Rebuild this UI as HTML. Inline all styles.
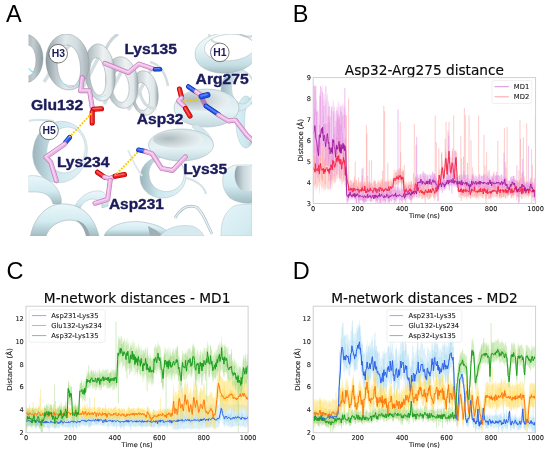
<!DOCTYPE html>
<html><head><meta charset="utf-8"><title>Figure</title>
<style>
html,body{margin:0;padding:0;background:#fff;}
body{width:550px;height:454px;overflow:hidden;position:relative;}
svg{position:absolute;left:0;top:0;}
.tk{font-family:"DejaVu Sans",sans-serif;font-size:6.6px;fill:#1e1e1e;stroke:#1e1e1e;stroke-width:0.12px;}
.ttl{font-family:"DejaVu Sans",sans-serif;font-size:13.7px;fill:#0a0a0a;stroke:#0a0a0a;stroke-width:0.15px;}
.yl{font-size:6.9px;}
.lg{font-family:"DejaVu Sans",sans-serif;font-size:6.8px;fill:#222;stroke:#222;stroke-width:0.1px;}
.pl{font-family:"Liberation Sans",Arial,sans-serif;font-size:23.5px;fill:#000;}
.ml{font-family:"Liberation Sans",Arial,sans-serif;font-weight:bold;font-size:14.5px;fill:#1b1b5a;stroke:#1b1b5a;stroke-width:0.35px;}
.hl{font-family:"Liberation Sans",Arial,sans-serif;font-weight:bold;font-size:10.4px;fill:#1b1b5a;}
</style></head>
<body>
<svg width="550" height="454" viewBox="0 0 550 454">
<defs>
<clipPath id="cB"><rect x="313.2" y="77.6" width="222.4" height="125.9"/></clipPath>
<clipPath id="cC"><rect x="26" y="306.2" width="222.1" height="126.5"/></clipPath>
<clipPath id="cD"><rect x="313.2" y="306.2" width="222.4" height="126.5"/></clipPath>
</defs>
<text class="pl" x="6" y="21.8">A</text>
<text class="pl" x="292.8" y="21.8">B</text>
<text class="pl" x="6.6" y="279.2">C</text>
<text class="pl" x="292.8" y="279.2">D</text>
<g id="panelA">
<defs>
<linearGradient id="gR" x1="0" y1="0" x2="1" y2="0"><stop offset="0" stop-color="#8c9a9f"/><stop offset="0.22" stop-color="#bac6ca"/><stop offset="0.5" stop-color="#dde5e8"/><stop offset="0.8" stop-color="#edf2f3"/><stop offset="1" stop-color="#c4d0d4"/></linearGradient>
<linearGradient id="gR2" x1="0" y1="0" x2="1" y2="0"><stop offset="0" stop-color="#a3b0b4"/><stop offset="0.3" stop-color="#c6d0d3"/><stop offset="0.6" stop-color="#edf1f2"/><stop offset="0.85" stop-color="#e0e7e9"/><stop offset="1" stop-color="#99a7ac"/></linearGradient>
<linearGradient id="gRB" x1="0" y1="0" x2="1" y2="0"><stop offset="0" stop-color="#8c9a9f"/><stop offset="0.22" stop-color="#bcc7cb"/><stop offset="0.45" stop-color="#e2e9eb"/><stop offset="0.72" stop-color="#d3dcdf"/><stop offset="1" stop-color="#a3b0b5"/></linearGradient>
<linearGradient id="gRd" x1="0" y1="0" x2="1" y2="0"><stop offset="0" stop-color="#7f8e93"/><stop offset="0.5" stop-color="#a3b0b4"/><stop offset="0.75" stop-color="#c3cdd0"/><stop offset="1" stop-color="#8e9ca1"/></linearGradient>
<linearGradient id="gC" x1="0" y1="0" x2="0" y2="1"><stop offset="0" stop-color="#eaf7fa"/><stop offset="0.55" stop-color="#d2ebf1"/><stop offset="1" stop-color="#a2bcc3"/></linearGradient>
<linearGradient id="gCu" x1="0" y1="1" x2="0" y2="0"><stop offset="0" stop-color="#f2f8fa"/><stop offset="0.55" stop-color="#d8ecf1"/><stop offset="1" stop-color="#a3b8be"/></linearGradient>
<linearGradient id="gC2" x1="0" y1="0" x2="1" y2="0"><stop offset="0" stop-color="#d8f0f6"/><stop offset="0.6" stop-color="#cae6ed"/><stop offset="1" stop-color="#8ea3a9"/></linearGradient>
<linearGradient id="gC3" x1="0" y1="0" x2="1" y2="0"><stop offset="0" stop-color="#9cb4bb"/><stop offset="0.4" stop-color="#cde8ef"/><stop offset="1" stop-color="#e2f3f7"/></linearGradient>
<linearGradient id="gH1" x1="0" y1="0" x2="0" y2="1"><stop offset="0" stop-color="#f4fafb"/><stop offset="0.45" stop-color="#e2f1f5"/><stop offset="0.8" stop-color="#c4dde3"/><stop offset="1" stop-color="#a3bac0"/></linearGradient>
<linearGradient id="gCup" x1="0" y1="0" x2="0" y2="1"><stop offset="0" stop-color="#d5e6eb"/><stop offset="0.6" stop-color="#e6f3f6"/><stop offset="1" stop-color="#c2d8de"/></linearGradient>
<linearGradient id="gGy" x1="0" y1="0" x2="1" y2="0"><stop offset="0" stop-color="#8e9fa5"/><stop offset="0.5" stop-color="#c8d6da"/><stop offset="1" stop-color="#e4eef0"/></linearGradient>
<linearGradient id="gCl" x1="0" y1="0" x2="1" y2="1"><stop offset="0" stop-color="#e6f5f8"/><stop offset="1" stop-color="#cde8ef"/></linearGradient>
<radialGradient id="gIn" cx="0.3" cy="0.45" r="0.75"><stop offset="0" stop-color="#aebbbf"/><stop offset="0.6" stop-color="#d6e0e3"/><stop offset="1" stop-color="#eef4f6"/></radialGradient>
<linearGradient id="gPk" x1="0" y1="0" x2="0" y2="1"><stop offset="0" stop-color="#f4c4ea"/><stop offset="1" stop-color="#d88cc8"/></linearGradient>
<clipPath id="cA"><rect x="28.5" y="34" width="223.5" height="202"/></clipPath>
</defs>
<g clip-path="url(#cA)">
<rect x="28.5" y="34" width="223.5" height="202" fill="#fff"/>
<path d="M44,82 C52,70 62,50 76,40" fill="none" stroke="#d6e0e3" stroke-width="3.5"/>
<path d="M80,92 C88,80 96,60 104,48" fill="none" stroke="#d6e0e3" stroke-width="3.5"/>
<path d="M104,104 C112,92 120,72 128,60" fill="none" stroke="#d6e0e3" stroke-width="3.5"/>
<path d="M128,110 C136,100 144,82 152,68" fill="none" stroke="#d6e0e3" stroke-width="3.5"/>
<path d="M104,56 C106,44 112,38 118,34" fill="none" stroke="#cdd7da" stroke-width="3.2"/>
<path d="M150,62 C160,64 166,74 168,86" fill="none" stroke="#d4dee1" stroke-width="2.6"/>
<path d="M157.9,91.6 A13.5,21 -6 1 1 131.1,94.4 A13.5,21 -6 1 1 157.9,91.6 Z M149.5,95.7 A7.5,14 -6 1 1 134.5,97.3 A7.5,14 -6 1 1 149.5,95.7 Z" fill="url(#gR2)" fill-rule="evenodd" stroke="#8f9da2" stroke-width="0.5"/>
<path d="M137.9,80.8 A16,25 -6 1 1 106.1,84.2 A16,25 -6 1 1 137.9,80.8 Z M129.0,85.6 A8.5,16 -6 1 1 112.0,87.4 A8.5,16 -6 1 1 129.0,85.6 Z" fill="url(#gR2)" fill-rule="evenodd" stroke="#8f9da2" stroke-width="0.5"/>
<path d="M114.9,70.9 A15,27.5 -6 1 1 85.1,74.1 A15,27.5 -6 1 1 114.9,70.9 Z M105.8,75.7 A8,19 -6 1 1 89.8,77.3 A8,19 -6 1 1 105.8,75.7 Z" fill="url(#gR2)" fill-rule="evenodd" stroke="#8f9da2" stroke-width="0.5"/>
<path d="M88.9,59.8 A21.5,28 -6 1 1 46.1,64.2 A21.5,28 -6 1 1 88.9,59.8 Z M80.2,64.8 A11.5,19.5 -6 1 1 57.4,67.2 A11.5,19.5 -6 1 1 80.2,64.8 Z" fill="url(#gRB)" fill-rule="evenodd" stroke="#8f9da2" stroke-width="0.5"/>
<path d="M43.0,58.5 A19,24.5 0 1 1 5.0,58.5 A19,24.5 0 1 1 43.0,58.5 Z M36.0,60.5 A8,15.5 0 1 1 20.0,60.5 A8,15.5 0 1 1 36.0,60.5 Z" fill="url(#gRd)" fill-rule="evenodd" stroke="#8f9da2" stroke-width="0.5"/>
<path d="M28.5,68 C31,72 34,73 36,71" fill="none" stroke="#7fdcef" stroke-width="1.2"/>
<path d="M60,80 C64,86 72,87 80,84" fill="none" stroke="#a6e2ef" stroke-width="1"/>
<path d="M92,92 C95,97 101,98 106,95" fill="none" stroke="#b4e4ef" stroke-width="0.9"/>
<path d="M256.0,122.0 A10,26 0 1 1 236.0,122.0 A10,26 0 1 1 256.0,122.0 Z M254.5,122.0 A5,20 0 1 1 244.5,122.0 A5,20 0 1 1 254.5,122.0 Z" fill="url(#gC2)" fill-rule="evenodd" stroke="#b3c5ca" stroke-width="0.5"/>
<path d="M255.0,90.0 A17,21 0 1 1 221.0,90.0 A17,21 0 1 1 255.0,90.0 Z M253.5,88.0 A11,16 0 1 1 231.5,88.0 A11,16 0 1 1 253.5,88.0 Z" fill="url(#gC3)" fill-rule="evenodd" stroke="#adc0c5" stroke-width="0.5"/>
<path d="M209,34 C210,40 214,43 219,43" fill="none" stroke="#d3dde0" stroke-width="2.2"/>
<path d="M240,34 C244,37 248,37 252,36" fill="none" stroke="#cfdadd" stroke-width="2.2"/>
<path d="M256.9,50.8 A31,19.5 -4 1 1 195.1,55.2 A31,19.5 -4 1 1 256.9,50.8 Z M254.4,45.8 A25,12.5 -4 1 1 204.6,49.2 A25,12.5 -4 1 1 254.4,45.8 Z" fill="url(#gH1)" fill-rule="evenodd" stroke="#a6b8bd" stroke-width="0.5"/>
<ellipse cx="206.5" cy="108" rx="32.5" ry="19" fill="url(#gCup)" stroke="#a9babf" stroke-width="0.6"/>
<ellipse cx="204" cy="101" rx="26" ry="10" fill="url(#gIn)"/>
<path d="M140,92 C142,104 150,110 156,108" fill="none" stroke="#d2dcdf" stroke-width="3"/>
<path d="M196,124 C204,128 210,134 213,142 L204,145 C202,138 199,132 192,127 Z" fill="#d3e8ee" stroke="#b5c8cd" stroke-width="0.4"/>
<path d="M185.8,173.8 A23,21 -8 1 1 140.2,180.2 A23,21 -8 1 1 185.8,173.8 Z M183.8,171.6 A17.5,16.5 -8 1 1 149.2,176.4 A17.5,16.5 -8 1 1 183.8,171.6 Z" fill="url(#gC3)" fill-rule="evenodd" stroke="#abbec3" stroke-width="0.5"/>
<ellipse cx="181" cy="145" rx="32.5" ry="16" fill="url(#gCup)" stroke="#a9babf" stroke-width="0.6"/>
<ellipse cx="178" cy="139.5" rx="25" ry="8.5" fill="url(#gIn)"/>
<path d="M128,150 C132,160 138,170 142,176" fill="none" stroke="#e0eaed" stroke-width="2"/>
<path d="M222.8,178.5 C224,170 230,165 238,165 L252,165 L252,203 C244,204 236,202 230,198 C225,193 222,186 222.8,178.5 Z" fill="url(#gC)" stroke="#a9bcc1" stroke-width="0.5"/>
<path d="M237,166 C233,172 234,184 241,190 L252,191 L252,166 Z" fill="url(#gGy)"/>
<path d="M221,236 C221,222 224,212 234,206 C240,204 246,204 252,204 L252,236 Z" fill="url(#gCl)" stroke="#b0c3c8" stroke-width="0.5"/>
<path d="M175,218 C182,206 190,205 196,207 C202,210 206,222 212,234" fill="none" stroke="#a9bcc2" stroke-width="2.6"/>
<path d="M175,218 C182,206 190,205 196,207 C202,210 206,222 212,234" fill="none" stroke="#e4f1f4" stroke-width="1.4"/>
<path d="M186,178 C196,180 204,186 206,194" fill="none" stroke="#d5e3e7" stroke-width="2.2"/>
<path d="M28.5,121 C36,119 46,120 54,121" fill="none" stroke="#d4e6eb" stroke-width="2.2"/>
<path d="M86.4,157.6 A27,30 12 1 1 33.6,146.4 A27,30 12 1 1 86.4,157.6 Z M84.6,154.0 A19,23 12 1 1 47.4,146.0 A19,23 12 1 1 84.6,154.0 Z" fill="url(#gC3)" fill-rule="evenodd" stroke="#b2c5ca" stroke-width="0.5"/>
<path d="M28,176 C40,174 52,180 58,190 C61,196 62,200 61,204 L53,204 C51,196 45,192 36,192 L28,192 Z" fill="url(#gC)" stroke="#a7b9be" stroke-width="0.5"/>
<path d="M72,214 C76,198 88,190 100,191 C106,192 109,198 108,206 L102,208 C102,202 98,199 92,199 C84,200 80,206 78,214 Z" fill="url(#gC)" stroke="#abc0c5" stroke-width="0.5"/>
<path d="M30.5,236 C34,218 46,205 60,204 C76,203 92,210 99,236 L88,236 C85,226 79,220 70,220 C58,220 49,227 46,236 Z" fill="url(#gC)" stroke="#9fb1b6" stroke-width="0.6"/>
<path d="M76,220 C84,222 88,228 90,236 L86,236 C84,228 81,224 76,220 Z" fill="#98a9ae"/>
<path d="M104,236 C108,226 124,220 142,222 C156,224 166,228 172,236 Z" fill="url(#gC)" stroke="#a6b8bd" stroke-width="0.6"/>
<path d="M148,226 C156,230 160,232 162,236 L150,236 Z" fill="#a0b0b5"/>
<path d="M160,236 C166,228 178,224 192,226 C198,228 202,232 204,236 Z" fill="#d6eaf0" stroke="#b2c4c9" stroke-width="0.5"/>
<path d="M104.7,63.3 L128.4,72.7 L139,63.9 L154.4,69.2" fill="none" stroke="#b97cb2" stroke-width="4.7" stroke-linecap="round" stroke-linejoin="round"/>
<path d="M104.7,63.3 L128.4,72.7 L139,63.9 L154.4,69.2" fill="none" stroke="#ecb2e4" stroke-width="3.5" stroke-linecap="round" stroke-linejoin="round"/>
<path d="M104.2,62.699999999999996 L127.9,72.10000000000001 L138.5,63.3 L153.9,68.60000000000001" fill="none" stroke="#fbdaf7" stroke-width="1.33" stroke-linecap="round" stroke-linejoin="round" stroke-opacity="0.8"/>
<path d="M155,69.2 L160,69.2" fill="none" stroke="#10309a" stroke-width="4.5" stroke-linecap="round" stroke-linejoin="round"/>
<path d="M155,69.2 L160,69.2" fill="none" stroke="#2052ea" stroke-width="3.3000000000000003" stroke-linecap="round" stroke-linejoin="round"/>
<path d="M154.5,68.60000000000001 L159.5,68.60000000000001" fill="none" stroke="#6a90ff" stroke-width="1.26" stroke-linecap="round" stroke-linejoin="round" stroke-opacity="0.8"/>
<path d="M82.3,77.8 L80.6,90.7 L89.5,90.7 L92.6,109.5" fill="none" stroke="#b97cb2" stroke-width="4.9" stroke-linecap="round" stroke-linejoin="round"/>
<path d="M82.3,77.8 L80.6,90.7 L89.5,90.7 L92.6,109.5" fill="none" stroke="#ecb2e4" stroke-width="3.7" stroke-linecap="round" stroke-linejoin="round"/>
<path d="M81.8,77.2 L80.1,90.10000000000001 L89.0,90.10000000000001 L92.1,108.9" fill="none" stroke="#fbdaf7" stroke-width="1.40" stroke-linecap="round" stroke-linejoin="round" stroke-opacity="0.8"/>
<path d="M93.5,109.3 L101.5,108.8" fill="none" stroke="#b00000" stroke-width="5.1000000000000005" stroke-linecap="round" stroke-linejoin="round"/>
<path d="M93.5,109.3 L101.5,108.8" fill="none" stroke="#f01a1a" stroke-width="3.9000000000000004" stroke-linecap="round" stroke-linejoin="round"/>
<path d="M93.0,108.7 L101.0,108.2" fill="none" stroke="#ff7070" stroke-width="1.47" stroke-linecap="round" stroke-linejoin="round" stroke-opacity="0.8"/>
<path d="M92.2,112 L92.2,123" fill="none" stroke="#b00000" stroke-width="5.1000000000000005" stroke-linecap="round" stroke-linejoin="round"/>
<path d="M92.2,112 L92.2,123" fill="none" stroke="#f01a1a" stroke-width="3.9000000000000004" stroke-linecap="round" stroke-linejoin="round"/>
<path d="M91.7,111.4 L91.7,122.4" fill="none" stroke="#ff7070" stroke-width="1.47" stroke-linecap="round" stroke-linejoin="round" stroke-opacity="0.8"/>
<path d="M179.5,89 L181.6,97.5" fill="none" stroke="#b00000" stroke-width="5.1000000000000005" stroke-linecap="round" stroke-linejoin="round"/>
<path d="M179.5,89 L181.6,97.5" fill="none" stroke="#f01a1a" stroke-width="3.9000000000000004" stroke-linecap="round" stroke-linejoin="round"/>
<path d="M179.0,88.4 L181.1,96.9" fill="none" stroke="#ff7070" stroke-width="1.47" stroke-linecap="round" stroke-linejoin="round" stroke-opacity="0.8"/>
<path d="M181.6,98 L178.5,101 L185,107" fill="none" stroke="#b97cb2" stroke-width="4.9" stroke-linecap="round" stroke-linejoin="round"/>
<path d="M181.6,98 L178.5,101 L185,107" fill="none" stroke="#ecb2e4" stroke-width="3.7" stroke-linecap="round" stroke-linejoin="round"/>
<path d="M181.1,97.4 L178.0,100.4 L184.5,106.4" fill="none" stroke="#fbdaf7" stroke-width="1.40" stroke-linecap="round" stroke-linejoin="round" stroke-opacity="0.8"/>
<path d="M185.5,108.5 L190,116" fill="none" stroke="#b00000" stroke-width="5.1000000000000005" stroke-linecap="round" stroke-linejoin="round"/>
<path d="M185.5,108.5 L190,116" fill="none" stroke="#f01a1a" stroke-width="3.9000000000000004" stroke-linecap="round" stroke-linejoin="round"/>
<path d="M185.0,107.9 L189.5,115.4" fill="none" stroke="#ff7070" stroke-width="1.47" stroke-linecap="round" stroke-linejoin="round" stroke-opacity="0.8"/>
<path d="M188.4,86.7 L195.5,91.5" fill="none" stroke="#10309a" stroke-width="4.9" stroke-linecap="round" stroke-linejoin="round"/>
<path d="M188.4,86.7 L195.5,91.5" fill="none" stroke="#2052ea" stroke-width="3.7" stroke-linecap="round" stroke-linejoin="round"/>
<path d="M187.9,86.10000000000001 L195.0,90.9" fill="none" stroke="#6a90ff" stroke-width="1.40" stroke-linecap="round" stroke-linejoin="round" stroke-opacity="0.8"/>
<path d="M196,91.7 L201.5,95.5" fill="none" stroke="#b97cb2" stroke-width="4.9" stroke-linecap="round" stroke-linejoin="round"/>
<path d="M196,91.7 L201.5,95.5" fill="none" stroke="#ecb2e4" stroke-width="3.7" stroke-linecap="round" stroke-linejoin="round"/>
<path d="M195.5,91.10000000000001 L201.0,94.9" fill="none" stroke="#fbdaf7" stroke-width="1.40" stroke-linecap="round" stroke-linejoin="round" stroke-opacity="0.8"/>
<path d="M202.7,100 L206,106" fill="none" stroke="#b97cb2" stroke-width="4.9" stroke-linecap="round" stroke-linejoin="round"/>
<path d="M202.7,100 L206,106" fill="none" stroke="#b77ab0" stroke-width="3.7" stroke-linecap="round" stroke-linejoin="round"/>
<path d="M206,106 L218.5,114.5" fill="none" stroke="#10309a" stroke-width="4.9" stroke-linecap="round" stroke-linejoin="round"/>
<path d="M206,106 L218.5,114.5" fill="none" stroke="#2052ea" stroke-width="3.7" stroke-linecap="round" stroke-linejoin="round"/>
<path d="M205.5,105.4 L218.0,113.9" fill="none" stroke="#6a90ff" stroke-width="1.40" stroke-linecap="round" stroke-linejoin="round" stroke-opacity="0.8"/>
<path d="M218.5,115 L228.6,121 L235.3,120.1 L247,135.2 L252,140" fill="none" stroke="#b97cb2" stroke-width="4.9" stroke-linecap="round" stroke-linejoin="round"/>
<path d="M218.5,115 L228.6,121 L235.3,120.1 L247,135.2 L252,140" fill="none" stroke="#ecb2e4" stroke-width="3.7" stroke-linecap="round" stroke-linejoin="round"/>
<path d="M218.0,114.4 L228.1,120.4 L234.8,119.5 L246.5,134.6 L251.5,139.4" fill="none" stroke="#fbdaf7" stroke-width="1.40" stroke-linecap="round" stroke-linejoin="round" stroke-opacity="0.8"/>
<path d="M201.5,96.5 L207.5,95" fill="none" stroke="#10309a" stroke-width="5.9" stroke-linecap="round" stroke-linejoin="round"/>
<path d="M201.5,96.5 L207.5,95" fill="none" stroke="#2052ea" stroke-width="4.7" stroke-linecap="round" stroke-linejoin="round"/>
<path d="M201.0,95.9 L207.0,94.4" fill="none" stroke="#6a90ff" stroke-width="1.75" stroke-linecap="round" stroke-linejoin="round" stroke-opacity="0.8"/>
<path d="M69.7,137.4 L65.2,142.8" fill="none" stroke="#10309a" stroke-width="4.9" stroke-linecap="round" stroke-linejoin="round"/>
<path d="M69.7,137.4 L65.2,142.8" fill="none" stroke="#2052ea" stroke-width="3.7" stroke-linecap="round" stroke-linejoin="round"/>
<path d="M69.2,136.8 L64.7,142.20000000000002" fill="none" stroke="#6a90ff" stroke-width="1.40" stroke-linecap="round" stroke-linejoin="round" stroke-opacity="0.8"/>
<path d="M64.8,144 L45.8,157.2 L50.7,162.2 L56.3,180.8" fill="none" stroke="#b97cb2" stroke-width="4.9" stroke-linecap="round" stroke-linejoin="round"/>
<path d="M64.8,144 L45.8,157.2 L50.7,162.2 L56.3,180.8" fill="none" stroke="#ecb2e4" stroke-width="3.7" stroke-linecap="round" stroke-linejoin="round"/>
<path d="M64.3,143.4 L45.3,156.6 L50.2,161.6 L55.8,180.20000000000002" fill="none" stroke="#fbdaf7" stroke-width="1.40" stroke-linecap="round" stroke-linejoin="round" stroke-opacity="0.8"/>
<path d="M97.5,172.3 L104.4,177" fill="none" stroke="#b00000" stroke-width="5.1000000000000005" stroke-linecap="round" stroke-linejoin="round"/>
<path d="M97.5,172.3 L104.4,177" fill="none" stroke="#f01a1a" stroke-width="3.9000000000000004" stroke-linecap="round" stroke-linejoin="round"/>
<path d="M97.0,171.70000000000002 L103.9,176.4" fill="none" stroke="#ff7070" stroke-width="1.47" stroke-linecap="round" stroke-linejoin="round" stroke-opacity="0.8"/>
<path d="M104.4,177 L109.6,178.6 L115.1,176.2" fill="none" stroke="#b97cb2" stroke-width="4.9" stroke-linecap="round" stroke-linejoin="round"/>
<path d="M104.4,177 L109.6,178.6 L115.1,176.2" fill="none" stroke="#ecb2e4" stroke-width="3.7" stroke-linecap="round" stroke-linejoin="round"/>
<path d="M103.9,176.4 L109.1,178.0 L114.6,175.6" fill="none" stroke="#fbdaf7" stroke-width="1.40" stroke-linecap="round" stroke-linejoin="round" stroke-opacity="0.8"/>
<path d="M115.1,176.2 L124.5,174.6" fill="none" stroke="#b00000" stroke-width="5.1000000000000005" stroke-linecap="round" stroke-linejoin="round"/>
<path d="M115.1,176.2 L124.5,174.6" fill="none" stroke="#f01a1a" stroke-width="3.9000000000000004" stroke-linecap="round" stroke-linejoin="round"/>
<path d="M114.6,175.6 L124.0,174.0" fill="none" stroke="#ff7070" stroke-width="1.47" stroke-linecap="round" stroke-linejoin="round" stroke-opacity="0.8"/>
<path d="M110.2,180.4 L107.7,199.4 L95,203.3" fill="none" stroke="#b97cb2" stroke-width="4.9" stroke-linecap="round" stroke-linejoin="round"/>
<path d="M110.2,180.4 L107.7,199.4 L95,203.3" fill="none" stroke="#ecb2e4" stroke-width="3.7" stroke-linecap="round" stroke-linejoin="round"/>
<path d="M109.7,179.8 L107.2,198.8 L94.5,202.70000000000002" fill="none" stroke="#fbdaf7" stroke-width="1.40" stroke-linecap="round" stroke-linejoin="round" stroke-opacity="0.8"/>
<path d="M138.6,149.9 L145.4,151.3" fill="none" stroke="#10309a" stroke-width="4.9" stroke-linecap="round" stroke-linejoin="round"/>
<path d="M138.6,149.9 L145.4,151.3" fill="none" stroke="#2052ea" stroke-width="3.7" stroke-linecap="round" stroke-linejoin="round"/>
<path d="M138.1,149.3 L144.9,150.70000000000002" fill="none" stroke="#6a90ff" stroke-width="1.40" stroke-linecap="round" stroke-linejoin="round" stroke-opacity="0.8"/>
<path d="M145.6,151.6 L152.2,153.8 L161.6,168.4 L172.5,170.5 L185.4,156.9" fill="none" stroke="#b97cb2" stroke-width="4.9" stroke-linecap="round" stroke-linejoin="round"/>
<path d="M145.6,151.6 L152.2,153.8 L161.6,168.4 L172.5,170.5 L185.4,156.9" fill="none" stroke="#ecb2e4" stroke-width="3.7" stroke-linecap="round" stroke-linejoin="round"/>
<path d="M145.1,151.0 L151.7,153.20000000000002 L161.1,167.8 L172.0,169.9 L184.9,156.3" fill="none" stroke="#fbdaf7" stroke-width="1.40" stroke-linecap="round" stroke-linejoin="round" stroke-opacity="0.8"/>
<line x1="91.5" y1="113.5" x2="69.5" y2="137" stroke="#f7c800" stroke-width="1.9" stroke-dasharray="1.8,1.3"/>
<line x1="137.6" y1="152.4" x2="115.1" y2="175.4" stroke="#f7c800" stroke-width="1.9" stroke-dasharray="1.8,1.3"/>
<line x1="183.4" y1="101.7" x2="199.5" y2="99.2" stroke="#f7c800" stroke-width="1.9" stroke-dasharray="1.8,1.3"/>
</g>
<circle cx="58.2" cy="53.7" r="9.3" fill="#fff" stroke="#5a5a5a" stroke-width="0.8"/>
<text class="hl" x="58.400000000000006" y="57.400000000000006" text-anchor="middle">H3</text>
<circle cx="219.8" cy="52.4" r="9.3" fill="#fff" stroke="#5a5a5a" stroke-width="0.8"/>
<text class="hl" x="220.0" y="56.1" text-anchor="middle">H1</text>
<circle cx="49" cy="130.4" r="9.3" fill="#fff" stroke="#5a5a5a" stroke-width="0.8"/>
<text class="hl" x="49.2" y="134.1" text-anchor="middle">H5</text>
<text class="ml" x="124.4" y="54.3" textLength="52.5" lengthAdjust="spacingAndGlyphs">Lys135</text>
<text class="ml" x="195.6" y="83.6" textLength="53.2" lengthAdjust="spacingAndGlyphs">Arg275</text>
<text class="ml" x="30.9" y="109.7" textLength="52.2" lengthAdjust="spacingAndGlyphs">Glu132</text>
<text class="ml" x="136.8" y="124.2" textLength="46.7" lengthAdjust="spacingAndGlyphs">Asp32</text>
<text class="ml" x="56.9" y="166.5" textLength="52.5" lengthAdjust="spacingAndGlyphs">Lys234</text>
<text class="ml" x="183.3" y="174.4" textLength="43.8" lengthAdjust="spacingAndGlyphs">Lys35</text>
<text class="ml" x="108.9" y="208.6" textLength="55" lengthAdjust="spacingAndGlyphs">Asp231</text>
</g>
<!-- Panel B -->
<text class="ttl" x="424.4" y="74.6" text-anchor="middle">Asp32-Arg275 distance</text>
<g clip-path="url(#cB)">
<polygon points="313.2,146.8 313.4,143.2 313.6,144.4 313.9,151.6 314.1,146.9 314.3,143.4 314.5,146.2 314.8,143.1 315.0,149.1 315.2,143.9 315.4,140.6 315.6,148.1 315.9,148.0 316.1,149.3 316.3,147.4 316.5,144.9 316.8,146.2 317.0,149.0 317.2,145.4 317.4,144.5 317.7,145.4 317.9,145.0 318.1,148.2 318.3,144.1 318.5,142.2 318.8,142.5 319.0,142.2 319.2,151.2 319.4,150.5 319.7,153.6 319.9,145.4 320.1,141.8 320.3,140.2 320.5,142.7 320.8,143.5 321.0,146.0 321.2,145.5 321.4,143.9 321.7,146.7 321.9,152.1 322.1,146.7 322.3,142.5 322.6,147.4 322.8,146.9 323.0,145.3 323.2,148.8 323.4,145.3 323.7,145.0 323.9,150.8 324.1,145.7 324.3,146.3 324.6,149.3 324.8,149.2 325.0,147.0 325.2,149.0 325.4,147.1 325.7,145.7 325.9,148.7 326.1,145.4 326.3,147.3 326.6,145.0 326.8,142.9 327.0,144.4 327.2,146.1 327.4,147.9 327.7,147.0 327.9,148.0 328.1,148.4 328.3,145.9 328.6,147.3 328.8,149.3 329.0,146.2 329.2,150.4 329.5,147.6 329.7,145.2 329.9,146.9 330.1,147.0 330.3,141.9 330.6,146.8 330.8,144.2 331.0,141.6 331.2,141.4 331.5,144.5 331.7,141.5 331.9,142.3 332.1,144.4 332.3,146.7 332.6,143.1 332.8,137.3 333.0,140.0 333.2,140.4 333.5,141.1 333.7,138.1 333.9,140.8 334.1,141.4 334.3,139.1 334.6,144.2 334.8,140.7 335.0,143.3 335.2,141.4 335.5,140.8 335.7,139.7 335.9,139.6 336.1,138.0 336.4,135.2 336.6,136.2 336.8,138.5 337.0,137.7 337.2,133.2 337.5,137.5 337.7,137.0 337.9,136.9 338.1,137.3 338.4,135.5 338.6,132.4 338.8,131.7 339.0,138.5 339.2,135.8 339.5,135.9 339.7,139.5 339.9,140.7 340.1,137.4 340.4,141.1 340.6,139.9 340.8,136.2 341.0,140.0 341.3,141.0 341.5,142.8 341.7,146.1 341.9,144.9 342.1,142.2 342.4,141.8 342.6,139.2 342.8,142.1 343.0,140.1 343.3,137.1 343.5,134.4 343.7,140.2 343.9,138.8 344.1,137.3 344.4,137.4 344.6,143.0 344.8,142.9 345.0,143.4 345.3,152.3 345.5,146.7 345.7,144.4 345.9,146.8 346.1,150.5 346.4,148.0 346.6,168.8 346.8,168.6 347.0,171.3 347.3,172.5 347.5,173.0 347.7,174.6 347.9,175.2 348.2,175.6 348.4,176.8 348.6,179.1 348.8,182.2 349.0,182.1 349.3,181.3 349.5,183.7 349.7,180.5 349.9,180.9 350.2,181.1 350.4,179.5 350.6,179.5 350.8,180.1 351.0,182.0 351.3,180.8 351.5,180.4 351.7,182.1 351.9,179.9 352.2,180.0 352.4,183.5 352.6,181.7 352.8,183.1 353.0,180.2 353.3,179.8 353.5,182.4 353.7,182.9 353.9,181.7 354.2,181.9 354.4,179.5 354.6,179.9 354.8,181.5 355.1,180.8 355.3,184.2 355.5,182.0 355.7,180.6 355.9,181.7 356.2,182.8 356.4,181.4 356.6,179.0 356.8,180.8 357.1,183.2 357.3,180.4 357.5,184.2 357.7,182.0 357.9,182.9 358.2,181.0 358.4,182.9 358.6,180.5 358.8,181.1 359.1,184.2 359.3,185.4 359.5,183.4 359.7,180.6 360.0,181.4 360.2,181.7 360.4,182.2 360.6,181.0 360.8,181.1 361.1,181.3 361.3,183.1 361.5,180.6 361.7,179.6 362.0,183.0 362.2,179.0 362.4,180.0 362.6,181.9 362.8,184.5 363.1,181.7 363.3,181.0 363.5,182.4 363.7,184.4 364.0,181.0 364.2,182.3 364.4,182.5 364.6,178.0 364.8,177.6 365.1,179.1 365.3,181.5 365.5,180.7 365.7,184.5 366.0,182.3 366.2,182.9 366.4,183.8 366.6,184.4 366.9,181.7 367.1,181.5 367.3,181.3 367.5,180.3 367.7,182.3 368.0,183.5 368.2,184.6 368.4,182.9 368.6,180.8 368.9,181.5 369.1,180.6 369.3,182.8 369.5,182.5 369.7,182.8 370.0,183.6 370.2,179.5 370.4,179.7 370.6,182.0 370.9,182.7 371.1,181.9 371.3,183.6 371.5,181.5 371.7,183.2 372.0,182.5 372.2,183.1 372.4,182.6 372.6,183.6 372.9,184.2 373.1,183.6 373.3,183.0 373.5,182.3 373.8,181.5 374.0,179.3 374.2,179.6 374.4,181.2 374.6,180.3 374.9,182.0 375.1,179.5 375.3,180.0 375.5,182.8 375.8,180.7 376.0,180.0 376.2,184.7 376.4,183.4 376.6,182.6 376.9,184.4 377.1,183.7 377.3,183.3 377.5,181.2 377.8,180.9 378.0,177.5 378.2,180.7 378.4,179.5 378.7,180.6 378.9,180.7 379.1,182.7 379.3,184.4 379.5,183.3 379.8,180.8 380.0,178.9 380.2,179.7 380.4,180.1 380.7,182.0 380.9,179.3 381.1,178.8 381.3,181.2 381.5,181.2 381.8,182.6 382.0,179.5 382.2,180.1 382.4,181.0 382.7,180.5 382.9,180.3 383.1,181.4 383.3,182.9 383.5,183.4 383.8,184.2 384.0,181.4 384.2,178.1 384.4,182.5 384.7,181.3 384.9,180.5 385.1,182.2 385.3,181.1 385.6,182.5 385.8,179.8 386.0,181.4 386.2,181.0 386.4,180.0 386.7,181.3 386.9,183.5 387.1,182.4 387.3,180.3 387.6,180.8 387.8,180.5 388.0,182.3 388.2,181.1 388.4,179.9 388.7,180.5 388.9,178.1 389.1,180.3 389.3,182.1 389.6,183.4 389.8,179.9 390.0,180.6 390.2,179.2 390.5,179.6 390.7,178.1 390.9,178.1 391.1,180.4 391.3,180.1 391.6,178.9 391.8,181.8 392.0,178.9 392.2,178.3 392.5,178.4 392.7,180.1 392.9,179.0 393.1,178.3 393.3,174.6 393.6,172.5 393.8,170.1 394.0,170.6 394.2,169.7 394.5,168.2 394.7,171.2 394.9,169.0 395.1,172.4 395.3,173.6 395.6,171.1 395.8,170.2 396.0,169.3 396.2,172.0 396.5,170.5 396.7,169.8 396.9,168.1 397.1,169.4 397.4,168.9 397.6,170.9 397.8,170.3 398.0,170.5 398.2,169.0 398.5,170.9 398.7,171.2 398.9,169.3 399.1,167.1 399.4,168.4 399.6,168.9 399.8,169.9 400.0,168.2 400.2,168.5 400.5,166.9 400.7,168.3 400.9,170.5 401.1,170.7 401.4,171.3 401.6,171.8 401.8,168.5 402.0,168.1 402.2,170.8 402.5,167.5 402.7,168.6 402.9,170.6 403.1,169.3 403.4,170.8 403.6,175.0 403.8,180.1 404.0,181.1 404.3,181.9 404.5,185.6 404.7,182.4 404.9,181.3 405.1,182.5 405.4,182.1 405.6,182.5 405.8,183.4 406.0,183.0 406.3,180.5 406.5,183.6 406.7,182.2 406.9,181.9 407.1,183.0 407.4,183.0 407.6,184.3 407.8,183.9 408.0,182.6 408.3,181.8 408.5,183.3 408.7,178.2 408.9,181.7 409.2,181.8 409.4,182.3 409.6,182.7 409.8,180.5 410.0,182.3 410.3,180.3 410.5,180.0 410.7,182.9 410.9,180.9 411.2,182.6 411.4,178.5 411.6,181.5 411.8,183.2 412.0,185.1 412.3,184.8 412.5,183.7 412.7,184.0 412.9,184.4 413.2,183.7 413.4,182.9 413.6,180.3 413.8,183.9 414.0,183.4 414.3,183.8 414.5,184.0 414.7,182.3 414.9,180.2 415.2,176.2 415.4,175.1 415.6,175.4 415.8,174.9 416.1,175.9 416.3,177.5 416.5,177.8 416.7,180.3 416.9,179.7 417.2,180.4 417.4,182.4 417.6,184.9 417.8,182.0 418.1,182.9 418.3,179.1 418.5,183.1 418.7,182.2 418.9,183.7 419.2,183.1 419.4,182.2 419.6,184.1 419.8,183.7 420.1,183.2 420.3,183.1 420.5,182.4 420.7,181.6 420.9,181.6 421.2,182.4 421.4,183.4 421.6,184.8 421.8,184.7 422.1,184.3 422.3,182.5 422.5,183.4 422.7,184.9 423.0,182.7 423.2,184.1 423.4,184.4 423.6,183.7 423.8,182.5 424.1,186.2 424.3,185.5 424.5,183.4 424.7,183.6 425.0,184.3 425.2,184.0 425.4,181.3 425.6,183.0 425.8,181.9 426.1,181.4 426.3,183.0 426.5,182.2 426.7,183.2 427.0,183.7 427.2,184.5 427.4,182.0 427.6,183.0 427.9,183.5 428.1,184.4 428.3,180.6 428.5,180.9 428.7,182.2 429.0,183.4 429.2,184.9 429.4,182.8 429.6,182.1 429.9,184.3 430.1,181.3 430.3,180.9 430.5,183.2 430.7,183.3 431.0,183.2 431.2,182.3 431.4,182.4 431.6,184.5 431.9,180.8 432.1,181.3 432.3,180.1 432.5,179.7 432.7,181.6 433.0,181.4 433.2,180.8 433.4,180.5 433.6,181.8 433.9,182.7 434.1,182.1 434.3,183.0 434.5,183.0 434.8,185.0 435.0,182.6 435.2,183.4 435.4,183.0 435.6,182.2 435.9,181.4 436.1,178.9 436.3,180.5 436.5,183.2 436.8,181.9 437.0,182.5 437.2,181.3 437.4,182.4 437.6,182.7 437.9,181.1 438.1,178.6 438.3,177.6 438.5,173.9 438.8,170.1 439.0,165.4 439.2,166.7 439.4,169.0 439.6,169.6 439.9,171.0 440.1,171.2 440.3,173.9 440.5,174.4 440.8,170.5 441.0,167.4 441.2,167.6 441.4,165.2 441.7,165.3 441.9,161.9 442.1,159.9 442.3,159.2 442.5,161.1 442.8,162.6 443.0,164.2 443.2,165.2 443.4,167.1 443.7,170.1 443.9,173.3 444.1,169.0 444.3,164.7 444.5,163.8 444.8,159.9 445.0,159.5 445.2,157.2 445.4,152.5 445.7,146.4 445.9,149.9 446.1,153.9 446.3,154.1 446.6,161.5 446.8,162.7 447.0,165.7 447.2,166.0 447.4,162.5 447.7,155.9 447.9,156.9 448.1,153.9 448.3,150.7 448.6,148.1 448.8,146.1 449.0,142.9 449.2,146.5 449.4,152.4 449.7,154.7 449.9,155.9 450.1,158.3 450.3,163.6 450.6,165.3 450.8,164.8 451.0,163.0 451.2,161.6 451.4,163.3 451.7,157.8 451.9,157.5 452.1,154.3 452.3,150.9 452.6,155.2 452.8,159.6 453.0,159.3 453.2,161.9 453.5,164.4 453.7,167.2 453.9,165.6 454.1,169.3 454.3,170.1 454.6,166.4 454.8,164.3 455.0,159.8 455.2,157.2 455.5,155.3 455.7,150.4 455.9,148.7 456.1,149.0 456.3,152.3 456.6,158.8 456.8,164.3 457.0,168.0 457.2,171.3 457.5,174.7 457.7,176.1 457.9,177.8 458.1,178.8 458.3,179.6 458.6,182.7 458.8,183.4 459.0,182.7 459.2,183.5 459.5,182.6 459.7,181.8 459.9,182.3 460.1,183.3 460.4,183.8 460.6,180.5 460.8,180.7 461.0,183.5 461.2,184.0 461.5,180.4 461.7,179.8 461.9,181.5 462.1,180.6 462.4,184.0 462.6,183.0 462.8,181.6 463.0,184.8 463.2,184.3 463.5,182.0 463.7,180.8 463.9,182.8 464.1,182.2 464.4,180.2 464.6,182.4 464.8,184.3 465.0,183.1 465.3,183.3 465.5,180.9 465.7,181.8 465.9,183.4 466.1,179.4 466.4,182.3 466.6,181.8 466.8,181.4 467.0,181.1 467.3,181.8 467.5,181.5 467.7,182.3 467.9,184.4 468.1,183.4 468.4,183.1 468.6,182.9 468.8,182.5 469.0,183.4 469.3,180.9 469.5,179.9 469.7,184.8 469.9,183.2 470.1,183.7 470.4,186.5 470.6,183.2 470.8,183.6 471.0,183.4 471.3,183.7 471.5,181.4 471.7,180.5 471.9,181.6 472.2,181.3 472.4,182.4 472.6,182.3 472.8,183.5 473.0,182.8 473.3,183.7 473.5,182.4 473.7,181.4 473.9,181.8 474.2,180.7 474.4,178.3 474.6,184.3 474.8,183.1 475.0,183.6 475.3,183.6 475.5,184.8 475.7,183.2 475.9,183.2 476.2,183.7 476.4,183.3 476.6,183.7 476.8,186.2 477.1,182.2 477.3,183.0 477.5,184.1 477.7,182.7 477.9,183.6 478.2,186.0 478.4,182.5 478.6,185.0 478.8,183.7 479.1,182.8 479.3,180.9 479.5,180.5 479.7,181.8 479.9,183.5 480.2,183.5 480.4,181.5 480.6,179.9 480.8,181.1 481.1,183.2 481.3,181.4 481.5,182.9 481.7,183.4 481.9,183.3 482.2,182.1 482.4,182.2 482.6,181.2 482.8,180.5 483.1,181.4 483.3,185.6 483.5,186.0 483.7,183.5 484.0,183.1 484.2,179.9 484.4,182.0 484.6,182.8 484.8,181.5 485.1,180.9 485.3,182.6 485.5,182.1 485.7,184.2 486.0,184.6 486.2,181.6 486.4,184.4 486.6,182.0 486.8,181.7 487.1,181.4 487.3,181.2 487.5,181.6 487.7,185.5 488.0,185.1 488.2,184.4 488.4,182.1 488.6,184.2 488.8,184.3 489.1,183.8 489.3,181.3 489.5,184.4 489.7,185.3 490.0,182.7 490.2,185.8 490.4,183.3 490.6,183.7 490.9,185.4 491.1,184.2 491.3,184.7 491.5,183.2 491.7,182.5 492.0,180.7 492.2,182.3 492.4,182.6 492.6,183.6 492.9,183.1 493.1,181.5 493.3,185.1 493.5,182.6 493.7,183.5 494.0,182.9 494.2,182.4 494.4,181.5 494.6,182.1 494.9,183.1 495.1,182.5 495.3,182.7 495.5,183.0 495.8,182.6 496.0,181.5 496.2,182.2 496.4,182.3 496.6,184.4 496.9,183.4 497.1,185.5 497.3,182.5 497.5,184.0 497.8,181.3 498.0,178.1 498.2,181.8 498.4,180.6 498.6,181.5 498.9,183.1 499.1,183.9 499.3,182.2 499.5,180.6 499.8,181.5 500.0,184.4 500.2,184.6 500.4,183.5 500.6,181.0 500.9,181.7 501.1,181.8 501.3,180.7 501.5,182.3 501.8,182.6 502.0,182.8 502.2,185.1 502.4,182.6 502.7,182.0 502.9,181.0 503.1,183.7 503.3,184.0 503.5,181.6 503.8,181.8 504.0,180.3 504.2,183.0 504.4,182.3 504.7,183.3 504.9,182.3 505.1,183.0 505.3,181.8 505.5,180.7 505.8,180.9 506.0,184.5 506.2,181.7 506.4,181.5 506.7,183.6 506.9,183.9 507.1,182.8 507.3,181.7 507.5,182.7 507.8,184.7 508.0,182.6 508.2,182.2 508.4,178.8 508.7,183.0 508.9,179.0 509.1,178.8 509.3,180.8 509.6,179.5 509.8,181.3 510.0,180.6 510.2,182.7 510.4,182.3 510.7,183.6 510.9,184.8 511.1,183.3 511.3,183.4 511.6,181.7 511.8,180.3 512.0,181.8 512.2,182.0 512.4,181.8 512.7,184.4 512.9,182.4 513.1,182.2 513.3,182.2 513.6,183.7 513.8,185.3 514.0,183.4 514.2,182.1 514.5,180.2 514.7,180.0 514.9,179.5 515.1,180.8 515.3,180.1 515.6,181.8 515.8,181.2 516.0,180.6 516.2,177.9 516.5,180.6 516.7,183.4 516.9,180.6 517.1,182.8 517.3,182.4 517.6,182.7 517.8,183.6 518.0,180.8 518.2,180.9 518.5,182.7 518.7,182.2 518.9,182.8 519.1,181.5 519.3,182.5 519.6,183.4 519.8,183.5 520.0,183.2 520.2,182.1 520.5,183.5 520.7,182.7 520.9,181.8 521.1,178.9 521.4,180.0 521.6,185.7 521.8,184.0 522.0,183.3 522.2,182.1 522.5,180.0 522.7,180.6 522.9,185.0 523.1,182.7 523.4,182.2 523.6,181.7 523.8,180.2 524.0,183.2 524.2,181.0 524.5,184.2 524.7,182.8 524.9,181.9 525.1,179.0 525.4,182.3 525.6,184.7 525.8,182.1 526.0,183.2 526.2,180.4 526.5,182.8 526.7,183.7 526.9,181.0 527.1,181.8 527.4,180.8 527.6,183.9 527.8,180.5 528.0,182.6 528.3,181.3 528.5,183.5 528.7,184.9 528.9,183.5 529.1,182.5 529.4,180.2 529.6,181.3 529.8,181.1 530.0,181.1 530.3,177.7 530.5,182.1 530.7,180.6 530.9,182.1 531.1,182.0 531.4,183.1 531.6,181.0 531.8,183.8 532.0,184.7 532.3,183.4 532.5,184.4 532.7,182.1 532.9,181.1 533.2,183.1 533.4,181.6 533.6,183.1 533.8,182.7 534.0,182.6 534.3,179.9 534.5,181.7 534.7,183.5 534.9,184.1 535.2,181.3 535.4,184.5 535.6,183.8 535.6,198.4 535.4,199.2 535.2,196.0 534.9,198.8 534.7,198.2 534.5,196.4 534.3,194.6 534.0,197.2 533.8,197.4 533.6,197.8 533.4,196.3 533.2,197.8 532.9,195.7 532.7,196.7 532.5,199.0 532.3,198.1 532.0,199.4 531.8,198.5 531.6,195.7 531.4,197.7 531.1,196.7 530.9,196.8 530.7,195.3 530.5,196.8 530.3,192.4 530.0,195.8 529.8,195.8 529.6,196.0 529.4,194.9 529.1,197.2 528.9,198.2 528.7,199.6 528.5,198.2 528.3,196.0 528.0,197.3 527.8,195.2 527.6,198.6 527.4,195.5 527.1,196.5 526.9,195.7 526.7,198.4 526.5,197.4 526.2,195.1 526.0,197.9 525.8,196.8 525.6,199.4 525.4,197.0 525.1,193.7 524.9,196.6 524.7,197.5 524.5,198.9 524.2,195.7 524.0,197.9 523.8,194.9 523.6,196.4 523.4,196.9 523.1,197.4 522.9,199.7 522.7,195.3 522.5,194.7 522.2,196.8 522.0,198.0 521.8,198.7 521.6,200.4 521.4,194.7 521.1,193.5 520.9,196.5 520.7,197.4 520.5,198.2 520.2,196.8 520.0,197.9 519.8,198.2 519.6,198.1 519.3,197.2 519.1,196.2 518.9,197.5 518.7,196.9 518.5,197.4 518.2,195.6 518.0,195.4 517.8,198.3 517.6,197.4 517.3,197.1 517.1,197.5 516.9,195.3 516.7,198.1 516.5,195.2 516.2,192.6 516.0,195.2 515.8,195.9 515.6,196.5 515.3,194.8 515.1,195.5 514.9,194.1 514.7,194.7 514.5,194.9 514.2,196.8 514.0,198.1 513.8,200.0 513.6,198.3 513.3,196.9 513.1,196.9 512.9,197.1 512.7,199.1 512.4,196.5 512.2,196.6 512.0,196.5 511.8,195.0 511.6,196.4 511.3,198.1 511.1,198.0 510.9,199.5 510.7,198.3 510.4,196.9 510.2,197.4 510.0,195.3 509.8,196.0 509.6,194.2 509.3,195.5 509.1,193.5 508.9,193.7 508.7,197.7 508.4,193.5 508.2,196.8 508.0,197.3 507.8,199.4 507.5,197.4 507.3,196.4 507.1,197.5 506.9,198.6 506.7,198.2 506.4,196.2 506.2,196.4 506.0,199.1 505.8,195.6 505.5,195.4 505.3,196.5 505.1,197.7 504.9,196.9 504.7,198.0 504.4,197.0 504.2,197.7 504.0,195.0 503.8,196.4 503.5,196.3 503.3,198.7 503.1,198.4 502.9,195.7 502.7,196.7 502.4,197.3 502.2,199.8 502.0,197.5 501.8,197.3 501.5,196.9 501.3,195.3 501.1,196.5 500.9,196.4 500.6,195.7 500.4,198.2 500.2,199.3 500.0,199.1 499.8,196.2 499.5,195.2 499.3,196.9 499.1,198.6 498.9,197.7 498.6,196.2 498.4,195.3 498.2,196.5 498.0,192.8 497.8,195.9 497.5,198.6 497.3,197.2 497.1,200.2 496.9,198.1 496.6,199.1 496.4,197.0 496.2,196.9 496.0,196.2 495.8,197.2 495.5,197.7 495.3,197.3 495.1,197.1 494.9,197.8 494.6,196.8 494.4,196.2 494.2,197.1 494.0,197.6 493.7,198.2 493.5,197.3 493.3,199.8 493.1,196.2 492.9,197.8 492.6,198.3 492.4,197.2 492.2,196.9 492.0,195.4 491.7,197.2 491.5,197.9 491.3,199.4 491.1,198.9 490.9,200.0 490.6,198.4 490.4,198.0 490.2,200.5 490.0,197.4 489.7,199.9 489.5,199.1 489.3,196.0 489.1,198.5 488.8,199.0 488.6,198.9 488.4,196.7 488.2,199.1 488.0,199.7 487.7,200.2 487.5,196.3 487.3,195.9 487.1,196.1 486.8,196.4 486.6,196.7 486.4,199.1 486.2,196.3 486.0,199.2 485.7,198.9 485.5,196.8 485.3,197.3 485.1,195.6 484.8,196.2 484.6,197.5 484.4,196.7 484.2,194.6 484.0,197.8 483.7,198.2 483.5,200.7 483.3,200.3 483.1,196.1 482.8,195.2 482.6,195.9 482.4,196.9 482.2,196.8 481.9,198.0 481.7,198.1 481.5,197.6 481.3,196.1 481.1,197.8 480.8,195.8 480.6,194.6 480.4,196.2 480.2,198.2 479.9,198.2 479.7,196.5 479.5,195.2 479.3,195.6 479.1,197.5 478.8,198.4 478.6,199.6 478.4,197.1 478.2,200.7 477.9,198.3 477.7,197.4 477.5,198.8 477.3,197.7 477.1,196.9 476.8,200.9 476.6,198.4 476.4,198.0 476.2,198.4 475.9,197.9 475.7,197.9 475.5,199.5 475.3,198.2 475.0,198.3 474.8,197.8 474.6,199.0 474.4,193.0 474.2,195.4 473.9,196.5 473.7,196.1 473.5,197.1 473.3,198.4 473.0,197.5 472.8,198.2 472.6,197.0 472.4,197.0 472.2,196.0 471.9,196.3 471.7,195.2 471.5,196.1 471.3,198.4 471.0,198.1 470.8,198.3 470.6,197.9 470.4,201.2 470.1,198.4 469.9,197.9 469.7,199.5 469.5,194.6 469.3,195.6 469.0,198.1 468.8,197.1 468.6,197.6 468.4,197.7 468.1,198.1 467.9,199.1 467.7,197.0 467.5,196.2 467.3,196.5 467.0,195.8 466.8,196.0 466.6,196.5 466.4,197.0 466.1,194.1 465.9,198.1 465.7,196.5 465.5,195.6 465.3,197.9 465.0,197.8 464.8,199.0 464.6,197.0 464.4,194.9 464.1,196.9 463.9,197.5 463.7,195.5 463.5,196.7 463.2,199.0 463.0,199.5 462.8,196.3 462.6,197.7 462.4,198.7 462.1,195.3 461.9,196.2 461.7,194.5 461.5,195.0 461.2,198.7 461.0,198.2 460.8,195.4 460.6,195.2 460.4,198.5 460.1,198.0 459.9,197.0 459.7,196.5 459.5,197.3 459.2,198.2 459.0,197.4 458.8,198.1 458.6,197.4 458.3,194.3 458.1,193.5 457.9,192.5 457.7,190.8 457.5,189.3 457.2,186.0 457.0,182.6 456.8,179.0 456.6,173.5 456.3,167.0 456.1,163.7 455.9,163.4 455.7,165.1 455.5,170.0 455.2,171.9 455.0,174.5 454.8,179.0 454.6,181.1 454.3,184.7 454.1,184.0 453.9,180.2 453.7,181.9 453.5,179.1 453.2,176.6 453.0,174.0 452.8,174.3 452.6,169.9 452.3,165.6 452.1,169.0 451.9,172.2 451.7,172.5 451.4,178.0 451.2,176.3 451.0,177.7 450.8,179.4 450.6,180.0 450.3,178.3 450.1,173.0 449.9,170.6 449.7,169.4 449.4,167.1 449.2,161.2 449.0,157.5 448.8,160.8 448.6,162.8 448.3,165.4 448.1,168.6 447.9,171.6 447.7,170.6 447.4,177.2 447.2,180.7 447.0,180.4 446.8,177.4 446.6,176.2 446.3,168.8 446.1,168.6 445.9,164.6 445.7,161.1 445.4,167.2 445.2,171.8 445.0,174.1 444.8,174.6 444.5,178.5 444.3,179.4 444.1,183.7 443.9,187.9 443.7,184.7 443.4,181.8 443.2,179.8 443.0,178.9 442.8,177.3 442.5,175.8 442.3,173.9 442.1,174.6 441.9,176.6 441.7,180.0 441.4,179.8 441.2,182.3 441.0,182.1 440.8,185.2 440.5,189.1 440.3,188.6 440.1,185.9 439.9,185.7 439.6,184.3 439.4,183.7 439.2,181.4 439.0,180.1 438.8,184.7 438.5,188.6 438.3,192.3 438.1,193.3 437.9,195.8 437.6,197.4 437.4,197.1 437.2,195.9 437.0,197.2 436.8,196.6 436.5,197.9 436.3,195.2 436.1,193.6 435.9,196.1 435.6,196.9 435.4,197.7 435.2,198.1 435.0,197.3 434.8,199.7 434.5,197.7 434.3,197.7 434.1,196.8 433.9,197.4 433.6,196.4 433.4,195.2 433.2,195.5 433.0,196.1 432.7,196.3 432.5,194.4 432.3,194.8 432.1,196.0 431.9,195.5 431.6,199.2 431.4,197.1 431.2,197.0 431.0,197.9 430.7,198.0 430.5,197.9 430.3,195.6 430.1,196.0 429.9,199.0 429.6,196.8 429.4,197.5 429.2,199.6 429.0,198.1 428.7,196.9 428.5,195.6 428.3,195.3 428.1,199.1 427.9,198.2 427.6,197.7 427.4,196.7 427.2,199.2 427.0,198.4 426.7,197.9 426.5,196.9 426.3,197.7 426.1,196.1 425.8,196.5 425.6,197.7 425.4,196.0 425.2,198.7 425.0,199.0 424.7,198.3 424.5,198.1 424.3,200.2 424.1,200.9 423.8,197.2 423.6,198.4 423.4,199.1 423.2,198.8 423.0,197.4 422.7,199.6 422.5,198.1 422.3,197.2 422.1,199.0 421.8,199.4 421.6,199.5 421.4,198.1 421.2,197.1 420.9,196.3 420.7,196.3 420.5,197.1 420.3,197.8 420.1,197.9 419.8,198.4 419.6,198.8 419.4,196.9 419.2,197.8 418.9,198.3 418.7,196.8 418.5,197.8 418.3,193.8 418.1,197.6 417.8,196.7 417.6,199.5 417.4,197.1 417.2,195.0 416.9,194.3 416.7,195.0 416.5,192.5 416.3,192.2 416.1,190.6 415.8,189.6 415.6,190.0 415.4,189.8 415.2,190.9 414.9,194.9 414.7,197.0 414.5,198.7 414.3,198.5 414.0,198.1 413.8,198.6 413.6,195.0 413.4,197.6 413.2,198.4 412.9,199.1 412.7,198.7 412.5,198.4 412.3,199.5 412.0,199.8 411.8,197.9 411.6,196.2 411.4,193.1 411.2,197.3 410.9,195.6 410.7,197.6 410.5,194.7 410.3,195.0 410.0,197.0 409.8,195.2 409.6,197.4 409.4,197.0 409.2,196.5 408.9,196.4 408.7,192.9 408.5,197.9 408.3,196.5 408.0,197.3 407.8,198.6 407.6,199.0 407.4,197.7 407.1,197.7 406.9,196.6 406.7,196.9 406.5,198.3 406.3,195.2 406.0,197.7 405.8,198.1 405.6,197.2 405.4,196.8 405.1,197.2 404.9,196.0 404.7,197.1 404.5,200.3 404.3,196.6 404.0,195.8 403.8,194.8 403.6,189.7 403.4,185.5 403.1,184.0 402.9,185.3 402.7,183.3 402.5,182.1 402.2,185.5 402.0,182.8 401.8,183.2 401.6,186.5 401.4,186.0 401.1,185.4 400.9,185.2 400.7,183.0 400.5,181.6 400.2,183.1 400.0,182.9 399.8,184.6 399.6,183.5 399.4,183.1 399.1,181.8 398.9,184.0 398.7,185.9 398.5,185.6 398.2,183.7 398.0,185.2 397.8,185.0 397.6,185.6 397.4,183.6 397.1,184.1 396.9,182.7 396.7,184.5 396.5,185.2 396.2,186.6 396.0,184.0 395.8,184.9 395.6,185.8 395.3,188.3 395.1,187.1 394.9,183.7 394.7,185.9 394.5,182.9 394.2,184.4 394.0,185.3 393.8,184.8 393.6,187.2 393.3,189.3 393.1,192.9 392.9,193.6 392.7,194.8 392.5,193.1 392.2,193.0 392.0,193.5 391.8,196.4 391.6,193.6 391.3,194.8 391.1,195.0 390.9,192.8 390.7,192.7 390.5,194.3 390.2,193.9 390.0,195.2 389.8,194.6 389.6,198.1 389.3,196.8 389.1,195.0 388.9,192.8 388.7,195.2 388.4,194.6 388.2,195.8 388.0,197.0 387.8,195.2 387.6,195.5 387.3,195.0 387.1,197.1 386.9,198.2 386.7,195.9 386.4,194.7 386.2,195.6 386.0,196.1 385.8,194.5 385.6,197.2 385.3,195.8 385.1,196.9 384.9,195.2 384.7,196.0 384.4,197.2 384.2,192.7 384.0,196.0 383.8,198.9 383.5,198.1 383.3,197.6 383.1,196.1 382.9,195.0 382.7,195.2 382.4,195.6 382.2,194.8 382.0,194.2 381.8,197.3 381.5,195.9 381.3,195.9 381.1,193.5 380.9,194.0 380.7,196.7 380.4,194.8 380.2,194.4 380.0,193.6 379.8,195.5 379.5,197.9 379.3,199.0 379.1,197.4 378.9,195.4 378.7,195.3 378.4,194.2 378.2,195.4 378.0,192.2 377.8,195.5 377.5,195.9 377.3,198.0 377.1,198.4 376.9,199.1 376.6,197.3 376.4,198.1 376.2,199.4 376.0,194.7 375.8,195.4 375.5,197.5 375.3,194.7 375.1,194.2 374.9,196.7 374.6,195.0 374.4,195.9 374.2,194.3 374.0,194.0 373.8,196.2 373.5,197.0 373.3,197.7 373.1,198.3 372.9,198.9 372.6,198.3 372.4,197.3 372.2,197.8 372.0,197.2 371.7,197.9 371.5,196.1 371.3,198.2 371.1,196.6 370.9,197.3 370.6,196.7 370.4,194.4 370.2,194.2 370.0,198.3 369.7,197.5 369.5,197.2 369.3,197.5 369.1,195.3 368.9,196.2 368.6,195.5 368.4,197.6 368.2,199.2 368.0,198.2 367.7,197.0 367.5,195.0 367.3,196.0 367.1,196.2 366.9,196.4 366.6,199.1 366.4,198.5 366.2,197.6 366.0,197.0 365.7,199.2 365.5,195.4 365.3,196.2 365.1,193.8 364.8,192.3 364.6,192.7 364.4,197.2 364.2,197.0 364.0,195.7 363.7,199.1 363.5,197.0 363.3,195.7 363.1,196.4 362.8,199.2 362.6,196.6 362.4,194.7 362.2,193.7 362.0,197.7 361.7,194.3 361.5,195.3 361.3,197.8 361.1,196.0 360.8,195.8 360.6,195.7 360.4,196.9 360.2,196.4 360.0,196.1 359.7,195.3 359.5,198.1 359.3,200.1 359.1,198.8 358.8,195.8 358.6,195.2 358.4,197.6 358.2,195.7 357.9,197.6 357.7,196.7 357.5,198.9 357.3,195.1 357.1,197.9 356.8,195.5 356.6,193.7 356.4,196.0 356.2,197.5 355.9,196.4 355.7,195.3 355.5,196.7 355.3,198.9 355.1,195.5 354.8,196.2 354.6,194.6 354.4,194.2 354.2,196.6 353.9,196.4 353.7,197.6 353.5,197.1 353.3,194.5 353.0,194.9 352.8,197.8 352.6,196.4 352.4,198.2 352.2,194.7 351.9,194.6 351.7,196.7 351.5,195.1 351.3,195.5 351.0,196.7 350.8,194.8 350.6,194.2 350.4,194.2 350.2,195.8 349.9,195.6 349.7,195.2 349.5,198.4 349.3,196.0 349.0,196.8 348.8,196.9 348.6,193.8 348.4,191.5 348.2,190.3 347.9,189.9 347.7,189.3 347.5,187.7 347.3,187.2 347.0,186.0 346.8,183.3 346.6,183.5 346.4,190.0 346.1,192.4 345.9,188.8 345.7,186.4 345.5,188.7 345.3,194.2 345.0,185.4 344.8,184.8 344.6,185.0 344.4,179.4 344.1,179.2 343.9,180.8 343.7,182.2 343.5,176.4 343.3,179.1 343.0,182.0 342.8,184.1 342.6,181.2 342.4,183.8 342.1,184.2 341.9,186.9 341.7,188.0 341.5,184.7 341.3,183.0 341.0,182.0 340.8,178.2 340.6,181.9 340.4,183.1 340.1,179.4 339.9,182.6 339.7,181.5 339.5,177.8 339.2,177.8 339.0,180.5 338.8,173.7 338.6,174.4 338.4,177.4 338.1,179.2 337.9,178.9 337.7,179.0 337.5,179.5 337.2,175.1 337.0,179.7 336.8,180.5 336.6,178.2 336.4,177.1 336.1,179.9 335.9,181.6 335.7,181.7 335.5,182.8 335.2,183.4 335.0,185.2 334.8,182.7 334.6,186.2 334.3,181.0 334.1,183.3 333.9,182.7 333.7,180.0 333.5,183.1 333.2,182.4 333.0,181.9 332.8,179.3 332.6,185.1 332.3,188.7 332.1,186.4 331.9,184.3 331.7,183.4 331.5,186.4 331.2,183.4 331.0,183.6 330.8,186.1 330.6,188.8 330.3,183.9 330.1,188.9 329.9,188.8 329.7,187.2 329.5,189.6 329.2,192.4 329.0,188.1 328.8,191.2 328.6,189.2 328.3,187.9 328.1,190.4 327.9,190.0 327.7,188.9 327.4,189.9 327.2,188.1 327.0,186.4 326.8,184.8 326.6,187.0 326.3,189.2 326.1,187.4 325.9,190.7 325.7,187.7 325.4,189.1 325.2,191.0 325.0,188.9 324.8,191.1 324.6,191.3 324.3,188.3 324.1,187.7 323.9,192.8 323.7,187.0 323.4,187.2 323.2,190.8 323.0,187.2 322.8,188.9 322.6,189.4 322.3,184.5 322.1,188.6 321.9,194.0 321.7,188.7 321.4,185.9 321.2,187.5 321.0,188.0 320.8,185.5 320.5,184.7 320.3,182.2 320.1,183.8 319.9,187.3 319.7,195.5 319.4,192.5 319.2,193.2 319.0,184.1 318.8,184.5 318.5,184.1 318.3,186.1 318.1,190.2 317.9,187.0 317.7,187.3 317.4,186.4 317.2,187.4 317.0,190.9 316.8,188.1 316.5,186.8 316.3,189.4 316.1,191.2 315.9,190.0 315.6,190.1 315.4,182.6 315.2,185.8 315.0,191.0 314.8,185.0 314.5,188.2 314.3,185.4 314.1,188.8 313.9,193.6 313.6,186.3 313.4,185.2 313.2,188.8" fill="#ffb4aa" fill-opacity="0.5" stroke="none"/>
<polyline points="313.2,138.2 313.4,158.8 313.6,184.5 313.9,173.9 314.1,157.8 314.3,156.1 314.5,166.8 314.8,158.4 315.0,166.9 315.2,154.9 315.4,161.2 315.6,184.3 315.9,181.4 316.1,162.9 316.3,173.9 316.5,165.9 316.8,160.1 317.0,163.7 317.2,171.4 317.4,156.0 317.7,178.1 317.9,171.8 318.1,157.9 318.3,167.6 318.5,175.3 318.8,174.8 319.0,169.5 319.2,181.7 319.4,168.9 319.7,174.5 319.9,171.6 320.1,163.3 320.3,156.9 320.5,161.5 320.8,142.8 321.0,174.6 321.2,174.9 321.4,177.7 321.7,164.5 321.9,179.5 322.1,171.2 322.3,144.2 322.6,181.5 322.8,169.7 323.0,170.1 323.2,158.9 323.4,115.4 323.7,166.7 323.9,174.1 324.1,170.6 324.3,159.5 324.6,169.8 324.8,158.9 325.0,170.3 325.2,184.5 325.4,170.8 325.7,156.9 325.9,159.7 326.1,161.7 326.3,147.1 326.6,157.5 326.8,161.7 327.0,165.8 327.2,158.9 327.4,148.3 327.7,166.2 327.9,149.3 328.1,118.8 328.3,115.4 328.6,175.9 328.8,180.9 329.0,168.7 329.2,176.1 329.5,167.7 329.7,154.4 329.9,171.4 330.1,181.7 330.3,172.6 330.6,168.7 330.8,159.5 331.0,179.8 331.2,172.3 331.5,157.1 331.7,173.8 331.9,179.8 332.1,162.9 332.3,176.9 332.6,161.4 332.8,167.2 333.0,163.5 333.2,158.8 333.5,115.4 333.7,171.5 333.9,158.7 334.1,178.8 334.3,174.1 334.6,175.8 334.8,161.6 335.0,170.7 335.2,163.3 335.5,163.3 335.7,162.7 335.9,147.5 336.1,149.3 336.4,174.1 336.6,164.0 336.8,163.3 337.0,174.2 337.2,167.7 337.5,165.0 337.7,154.3 337.9,145.7 338.1,154.0 338.4,142.4 338.6,149.1 338.8,162.7 339.0,115.4 339.2,162.6 339.5,158.8 339.7,155.7 339.9,152.9 340.1,152.0 340.4,155.5 340.6,158.2 340.8,154.6 341.0,179.2 341.3,177.5 341.5,161.1 341.7,175.6 341.9,164.8 342.1,160.1 342.4,162.4 342.6,151.9 342.8,159.2 343.0,157.6 343.3,159.1 343.5,142.2 343.7,161.8 343.9,150.8 344.1,161.8 344.4,152.6 344.6,161.6 344.8,159.0 345.0,159.0 345.3,180.5 345.5,167.1 345.7,115.4 345.9,162.8 346.1,185.2 346.4,115.4 346.6,177.1 346.8,184.6 347.0,181.5 347.3,176.4 347.5,174.7 347.7,186.3 347.9,184.6 348.2,185.1 348.4,186.7 348.6,98.6 348.8,189.7 349.0,186.0 349.3,187.1 349.5,196.0 349.7,193.7 349.9,188.8 350.2,192.5 350.4,190.6 350.6,194.9 350.8,180.3 351.0,181.3 351.3,193.3 351.5,185.0 351.7,184.8 351.9,198.3 352.2,190.7 352.4,193.5 352.6,187.4 352.8,192.0 353.0,189.6 353.3,188.5 353.5,183.0 353.7,182.2 353.9,192.3 354.2,194.1 354.4,176.6 354.6,192.4 354.8,192.3 355.1,167.6 355.3,161.5 355.5,186.1 355.7,187.4 355.9,193.7 356.2,189.0 356.4,188.7 356.6,179.5 356.8,189.2 357.1,197.2 357.3,193.2 357.5,186.5 357.7,192.7 357.9,200.1 358.2,191.8 358.4,191.3 358.6,177.3 358.8,193.8 359.1,189.7 359.3,190.4 359.5,194.8 359.7,189.8 360.0,182.4 360.2,182.9 360.4,187.0 360.6,188.0 360.8,184.7 361.1,190.3 361.3,191.9 361.5,192.6 361.7,188.0 362.0,191.7 362.2,175.7 362.4,189.2 362.6,185.0 362.8,187.3 363.1,190.9 363.3,184.5 363.5,199.9 363.7,192.4 364.0,185.8 364.2,200.8 364.4,195.8 364.6,182.0 364.8,187.1 365.1,192.1 365.3,191.5 365.5,191.4 365.7,189.9 366.0,188.8 366.2,192.5 366.4,125.3 366.6,193.1 366.9,133.7 367.1,188.4 367.3,187.0 367.5,189.3 367.7,196.1 368.0,194.9 368.2,190.2 368.4,190.8 368.6,193.0 368.9,196.7 369.1,188.5 369.3,160.4 369.5,192.4 369.7,192.6 370.0,190.8 370.2,186.7 370.4,184.0 370.6,186.5 370.9,185.5 371.1,186.9 371.3,193.4 371.5,160.3 371.7,189.5 372.0,192.2 372.2,189.2 372.4,186.1 372.6,195.4 372.9,190.9 373.1,187.0 373.3,191.3 373.5,187.7 373.8,195.5 374.0,180.4 374.2,184.9 374.4,190.1 374.6,190.2 374.9,189.9 375.1,188.6 375.3,189.6 375.5,188.7 375.8,183.8 376.0,188.6 376.2,192.7 376.4,191.4 376.6,200.9 376.9,190.6 377.1,193.5 377.3,193.0 377.5,189.3 377.8,193.3 378.0,182.4 378.2,192.0 378.4,191.7 378.7,192.6 378.9,188.4 379.1,188.0 379.3,195.3 379.5,198.0 379.8,184.7 380.0,191.8 380.2,182.5 380.4,188.7 380.7,193.4 380.9,190.4 381.1,185.2 381.3,185.9 381.5,190.5 381.8,187.0 382.0,179.2 382.2,189.4 382.4,194.2 382.7,170.8 382.9,194.5 383.1,192.5 383.3,194.4 383.5,142.3 383.8,105.9 384.0,200.7 384.2,192.0 384.4,122.0 384.7,111.2 384.9,186.7 385.1,188.7 385.3,182.0 385.6,188.7 385.8,187.8 386.0,195.0 386.2,189.7 386.4,191.5 386.7,192.6 386.9,194.9 387.1,191.0 387.3,189.6 387.6,185.6 387.8,162.7 388.0,191.4 388.2,181.7 388.4,188.1 388.7,183.9 388.9,181.7 389.1,183.1 389.3,187.4 389.6,197.6 389.8,189.4 390.0,190.5 390.2,194.1 390.5,189.9 390.7,191.7 390.9,193.5 391.1,187.9 391.3,181.7 391.6,190.2 391.8,194.1 392.0,189.5 392.2,188.3 392.5,188.5 392.7,188.7 392.9,189.2 393.1,185.0 393.3,180.8 393.6,179.4 393.8,181.3 394.0,181.6 394.2,176.3 394.5,177.4 394.7,179.8 394.9,187.8 395.1,192.1 395.3,180.6 395.6,178.1 395.8,172.8 396.0,174.7 396.2,179.4 396.5,178.9 396.7,184.2 396.9,172.7 397.1,180.3 397.4,175.2 397.6,178.4 397.8,177.6 398.0,175.2 398.2,179.4 398.5,180.9 398.7,183.2 398.9,175.8 399.1,168.5 399.4,178.3 399.6,172.3 399.8,174.8 400.0,173.5 400.2,121.9 400.5,179.5 400.7,152.3 400.9,172.3 401.1,182.0 401.4,179.9 401.6,183.1 401.8,175.6 402.0,181.0 402.2,172.5 402.5,177.4 402.7,183.4 402.9,171.4 403.1,173.6 403.4,177.0 403.6,181.2 403.8,190.0 404.0,190.4 404.3,165.0 404.5,190.2 404.7,186.9 404.9,188.8 405.1,192.9 405.4,191.3 405.6,186.2 405.8,185.7 406.0,192.8 406.3,190.9 406.5,186.8 406.7,187.6 406.9,187.3 407.1,196.9 407.4,192.9 407.6,194.9 407.8,191.5 408.0,198.1 408.3,184.9 408.5,190.4 408.7,184.8 408.9,195.1 409.2,190.3 409.4,185.1 409.6,197.7 409.8,187.6 410.0,187.7 410.3,191.6 410.5,184.9 410.7,192.7 410.9,184.1 411.2,188.8 411.4,185.9 411.6,181.5 411.8,188.1 412.0,188.0 412.3,198.2 412.5,194.8 412.7,188.9 412.9,189.0 413.2,192.4 413.4,173.2 413.6,193.2 413.8,191.4 414.0,196.6 414.3,123.8 414.5,194.4 414.7,193.4 414.9,188.4 415.2,177.0 415.4,187.8 415.6,186.3 415.8,178.8 416.1,186.0 416.3,178.5 416.5,185.3 416.7,188.3 416.9,179.7 417.2,181.4 417.4,188.1 417.6,177.2 417.8,189.3 418.1,197.9 418.3,191.2 418.5,185.2 418.7,187.1 418.9,189.9 419.2,188.9 419.4,192.8 419.6,191.1 419.8,195.9 420.1,190.0 420.3,194.5 420.5,191.7 420.7,188.1 420.9,191.4 421.2,188.1 421.4,189.9 421.6,191.7 421.8,187.5 422.1,198.9 422.3,197.6 422.5,189.3 422.7,179.1 423.0,182.7 423.2,189.3 423.4,189.3 423.6,195.8 423.8,187.8 424.1,191.8 424.3,194.2 424.5,195.6 424.7,192.4 425.0,191.5 425.2,203.5 425.4,189.4 425.6,190.4 425.8,191.0 426.1,182.6 426.3,189.4 426.5,194.8 426.7,189.8 427.0,193.1 427.2,196.9 427.4,189.5 427.6,185.1 427.9,198.0 428.1,199.8 428.3,195.9 428.5,181.0 428.7,191.7 429.0,192.0 429.2,188.7 429.4,195.1 429.6,199.0 429.9,191.9 430.1,188.6 430.3,197.6 430.5,196.0 430.7,194.9 431.0,191.7 431.2,189.0 431.4,186.1 431.6,187.2 431.9,184.7 432.1,184.1 432.3,192.0 432.5,185.2 432.7,185.2 433.0,181.6 433.2,189.1 433.4,197.2 433.6,197.9 433.9,188.1 434.1,189.0 434.3,192.7 434.5,193.1 434.8,200.6 435.0,189.5 435.2,115.4 435.4,184.5 435.6,190.4 435.9,190.6 436.1,191.9 436.3,142.2 436.5,184.5 436.8,192.9 437.0,189.7 437.2,189.3 437.4,193.2 437.6,201.6 437.9,191.0 438.1,184.4 438.3,192.1 438.5,185.8 438.8,148.4 439.0,168.4 439.2,173.0 439.4,177.2 439.6,179.1 439.9,182.1 440.1,179.9 440.3,183.6 440.5,183.9 440.8,179.0 441.0,175.3 441.2,169.5 441.4,179.6 441.7,153.8 441.9,172.9 442.1,173.1 442.3,177.5 442.5,167.0 442.8,175.1 443.0,175.8 443.2,171.6 443.4,180.1 443.7,178.4 443.9,182.0 444.1,174.1 444.3,168.9 444.5,175.9 444.8,164.5 445.0,168.3 445.2,139.0 445.4,161.8 445.7,151.6 445.9,163.4 446.1,121.7 446.3,157.6 446.6,171.2 446.8,162.6 447.0,177.2 447.2,173.5 447.4,173.0 447.7,166.9 447.9,170.0 448.1,164.6 448.3,159.3 448.6,159.9 448.8,150.8 449.0,122.2 449.2,161.4 449.4,157.3 449.7,162.4 449.9,163.3 450.1,156.4 450.3,166.9 450.6,172.3 450.8,172.4 451.0,180.5 451.2,166.7 451.4,174.8 451.7,165.4 451.9,165.5 452.1,158.6 452.3,150.8 452.6,159.4 452.8,148.3 453.0,168.6 453.2,168.4 453.5,169.5 453.7,115.4 453.9,165.4 454.1,180.7 454.3,183.8 454.6,168.0 454.8,163.8 455.0,171.1 455.2,168.2 455.5,150.7 455.7,158.4 455.9,165.4 456.1,160.0 456.3,152.3 456.6,164.4 456.8,169.5 457.0,171.2 457.2,176.8 457.5,184.5 457.7,191.2 457.9,184.3 458.1,191.9 458.3,188.3 458.6,183.7 458.8,189.5 459.0,190.9 459.2,191.6 459.5,187.9 459.7,186.3 459.9,174.8 460.1,190.9 460.4,185.0 460.6,185.7 460.8,136.0 461.0,190.9 461.2,201.0 461.5,158.4 461.7,181.4 461.9,177.5 462.1,192.6 462.4,194.8 462.6,191.8 462.8,190.5 463.0,194.7 463.2,195.9 463.5,187.7 463.7,182.7 463.9,193.6 464.1,192.9 464.4,108.0 464.6,196.9 464.8,195.2 465.0,193.1 465.3,115.4 465.5,115.4 465.7,193.9 465.9,175.0 466.1,192.8 466.4,198.0 466.6,198.7 466.8,181.1 467.0,196.8 467.3,188.4 467.5,187.1 467.7,187.3 467.9,193.6 468.1,194.1 468.4,191.1 468.6,193.8 468.8,196.2 469.0,115.4 469.3,193.1 469.5,180.7 469.7,191.0 469.9,193.5 470.1,190.3 470.4,189.8 470.6,197.4 470.8,195.9 471.0,140.3 471.3,191.4 471.5,188.1 471.7,179.6 471.9,193.0 472.2,191.9 472.4,185.8 472.6,167.4 472.8,191.4 473.0,196.7 473.3,189.4 473.5,189.6 473.7,188.7 473.9,182.9 474.2,185.7 474.4,190.8 474.6,196.7 474.8,185.7 475.0,191.1 475.3,188.2 475.5,187.0 475.7,195.6 475.9,176.6 476.2,185.3 476.4,190.0 476.6,196.6 476.8,195.7 477.1,192.4 477.3,190.3 477.5,187.9 477.7,182.5 477.9,190.7 478.2,195.8 478.4,190.1 478.6,115.4 478.8,193.5 479.1,190.7 479.3,185.3 479.5,193.4 479.7,187.5 479.9,193.0 480.2,195.7 480.4,187.4 480.6,189.9 480.8,181.8 481.1,189.2 481.3,189.1 481.5,194.1 481.7,193.1 481.9,181.9 482.2,193.0 482.4,187.0 482.6,198.1 482.8,187.7 483.1,186.0 483.3,192.3 483.5,194.1 483.7,169.3 484.0,135.1 484.2,192.1 484.4,189.6 484.6,185.8 484.8,181.2 485.1,165.6 485.3,189.4 485.5,188.3 485.7,197.5 486.0,203.5 486.2,194.0 486.4,198.8 486.6,152.2 486.8,194.8 487.1,193.1 487.3,187.4 487.5,189.2 487.7,193.6 488.0,186.1 488.2,194.4 488.4,191.7 488.6,186.9 488.8,197.0 489.1,198.7 489.3,169.8 489.5,191.0 489.7,190.7 490.0,188.1 490.2,190.0 490.4,193.3 490.6,192.0 490.9,198.0 491.1,191.6 491.3,191.7 491.5,193.1 491.7,187.6 492.0,176.2 492.2,195.0 492.4,187.0 492.6,187.5 492.9,186.5 493.1,192.7 493.3,188.0 493.5,187.7 493.7,191.9 494.0,171.7 494.2,188.4 494.4,185.4 494.6,186.2 494.9,181.3 495.1,191.7 495.3,187.8 495.5,192.6 495.8,187.0 496.0,188.7 496.2,192.4 496.4,195.7 496.6,195.4 496.9,190.1 497.1,187.1 497.3,187.0 497.5,196.7 497.8,140.9 498.0,185.7 498.2,190.2 498.4,188.2 498.6,179.7 498.9,190.1 499.1,175.8 499.3,198.4 499.5,190.1 499.8,196.7 500.0,192.1 500.2,191.4 500.4,197.3 500.6,189.8 500.9,191.5 501.1,182.2 501.3,187.2 501.5,198.6 501.8,189.2 502.0,189.6 502.2,194.4 502.4,192.8 502.7,188.0 502.9,186.8 503.1,190.5 503.3,196.8 503.5,191.3 503.8,197.0 504.0,187.2 504.2,194.1 504.4,128.0 504.7,193.8 504.9,180.6 505.1,189.7 505.3,194.4 505.5,198.6 505.8,189.2 506.0,167.5 506.2,181.4 506.4,187.4 506.7,194.5 506.9,191.0 507.1,127.0 507.3,189.4 507.5,191.2 507.8,192.1 508.0,192.7 508.2,194.5 508.4,188.7 508.7,187.2 508.9,189.0 509.1,180.7 509.3,194.9 509.6,192.7 509.8,190.1 510.0,187.4 510.2,189.6 510.4,186.1 510.7,193.3 510.9,190.1 511.1,190.7 511.3,189.2 511.6,198.2 511.8,183.7 512.0,184.7 512.2,195.3 512.4,187.2 512.7,194.6 512.9,183.5 513.1,190.0 513.3,195.0 513.6,191.5 513.8,195.5 514.0,185.4 514.2,183.7 514.5,185.6 514.7,190.2 514.9,187.6 515.1,184.9 515.3,191.9 515.6,193.6 515.8,186.0 516.0,185.9 516.2,187.3 516.5,190.1 516.7,200.1 516.9,184.1 517.1,191.7 517.3,196.9 517.6,195.8 517.8,195.8 518.0,182.0 518.2,186.4 518.5,196.7 518.7,182.9 518.9,170.6 519.1,194.4 519.3,202.1 519.6,187.7 519.8,194.4 520.0,119.6 520.2,192.7 520.5,139.1 520.7,184.9 520.9,178.2 521.1,187.6 521.4,187.3 521.6,191.5 521.8,199.0 522.0,186.5 522.2,191.9 522.5,187.3 522.7,188.4 522.9,189.6 523.1,186.6 523.4,137.2 523.6,191.6 523.8,192.4 524.0,176.1 524.2,192.1 524.5,188.9 524.7,194.5 524.9,189.7 525.1,183.4 525.4,186.4 525.6,192.1 525.8,184.5 526.0,186.1 526.2,192.0 526.5,189.5 526.7,123.3 526.9,190.6 527.1,192.8 527.4,188.9 527.6,190.5 527.8,187.6 528.0,185.2 528.3,185.4 528.5,194.2 528.7,196.3 528.9,188.2 529.1,193.6 529.4,185.4 529.6,187.5 529.8,185.0 530.0,187.2 530.3,179.9 530.5,192.3 530.7,186.0 530.9,193.1 531.1,189.4 531.4,190.8 531.6,149.1 531.8,202.9 532.0,188.9 532.3,164.9 532.5,192.0 532.7,193.2 532.9,190.7 533.2,189.4 533.4,189.7 533.6,186.5 533.8,190.5 534.0,194.2 534.3,185.6 534.5,192.6 534.7,190.9 534.9,199.9 535.2,191.0 535.4,115.4 535.6,142.6" fill="none" stroke="#ff8a8a" stroke-width="0.6" stroke-opacity="0.4" stroke-linejoin="round" />
<polygon points="313.2,92.8 313.4,95.9 313.6,90.8 313.9,90.5 314.1,89.7 314.3,88.0 314.5,85.1 314.8,83.9 315.0,84.2 315.2,86.1 315.4,91.5 315.6,89.3 315.9,97.3 316.1,97.0 316.3,98.5 316.5,101.6 316.8,100.5 317.0,98.6 317.2,104.9 317.4,109.9 317.7,110.2 317.9,110.1 318.1,111.3 318.3,109.2 318.5,114.5 318.8,108.8 319.0,103.2 319.2,98.0 319.4,93.5 319.7,92.1 319.9,93.0 320.1,97.0 320.3,96.2 320.5,89.4 320.8,91.2 321.0,86.5 321.2,88.6 321.4,90.0 321.7,86.9 321.9,86.6 322.1,92.0 322.3,85.3 322.6,85.6 322.8,87.5 323.0,93.1 323.2,97.9 323.4,99.5 323.7,100.4 323.9,95.6 324.1,94.2 324.3,93.8 324.6,94.0 324.8,96.5 325.0,99.7 325.2,101.1 325.4,104.5 325.7,105.4 325.9,101.4 326.1,101.2 326.3,100.8 326.6,100.2 326.8,96.0 327.0,93.3 327.2,94.6 327.4,92.2 327.7,96.1 327.9,96.8 328.1,97.7 328.3,101.9 328.6,102.7 328.8,100.5 329.0,100.7 329.2,107.7 329.5,102.4 329.7,105.8 329.9,106.3 330.1,112.4 330.3,116.6 330.6,109.1 330.8,111.8 331.0,107.0 331.2,108.3 331.5,110.7 331.7,107.2 331.9,106.1 332.1,112.7 332.3,112.0 332.6,104.0 332.8,98.0 333.0,100.2 333.2,101.1 333.5,103.0 333.7,99.0 333.9,105.2 334.1,105.3 334.3,107.3 334.6,106.5 334.8,108.0 335.0,108.2 335.2,112.6 335.5,115.9 335.7,112.3 335.9,111.0 336.1,110.1 336.4,103.5 336.6,108.1 336.8,107.8 337.0,111.0 337.2,105.4 337.5,107.2 337.7,107.8 337.9,101.7 338.1,104.3 338.4,98.5 338.6,102.9 338.8,103.0 339.0,100.0 339.2,107.1 339.5,110.0 339.7,105.6 339.9,102.9 340.1,106.3 340.4,111.3 340.6,112.4 340.8,105.6 341.0,107.7 341.3,111.8 341.5,107.4 341.7,103.2 341.9,105.0 342.1,107.8 342.4,105.2 342.6,105.1 342.8,103.0 343.0,101.8 343.3,106.7 343.5,107.1 343.7,104.2 343.9,103.1 344.1,102.8 344.4,109.5 344.6,107.4 344.8,104.3 345.0,108.1 345.3,105.8 345.5,107.3 345.7,109.4 345.9,106.4 346.1,123.7 346.4,142.5 346.6,186.7 346.8,187.9 347.0,188.8 347.3,188.9 347.5,188.4 347.7,185.7 347.9,188.4 348.2,187.5 348.4,190.1 348.6,188.3 348.8,186.6 349.0,187.6 349.3,188.3 349.5,187.5 349.7,186.7 349.9,186.5 350.2,184.9 350.4,186.6 350.6,188.1 350.8,187.9 351.0,187.9 351.3,187.6 351.5,187.7 351.7,187.5 351.9,189.7 352.2,187.3 352.4,188.4 352.6,189.4 352.8,187.5 353.0,186.1 353.3,186.7 353.5,187.3 353.7,188.9 353.9,184.7 354.2,185.9 354.4,188.7 354.6,189.1 354.8,188.2 355.1,190.0 355.3,188.4 355.5,188.7 355.7,186.7 355.9,186.5 356.2,190.9 356.4,188.9 356.6,190.3 356.8,187.4 357.1,187.7 357.3,187.4 357.5,189.2 357.7,186.3 357.9,185.1 358.2,188.6 358.4,187.9 358.6,189.0 358.8,188.5 359.1,189.9 359.3,186.5 359.5,188.9 359.7,188.8 360.0,187.8 360.2,189.0 360.4,188.8 360.6,189.2 360.8,188.7 361.1,189.9 361.3,189.4 361.5,188.9 361.7,188.9 362.0,188.5 362.2,188.8 362.4,187.6 362.6,188.6 362.8,188.6 363.1,189.3 363.3,189.4 363.5,190.3 363.7,188.4 364.0,189.9 364.2,189.8 364.4,188.5 364.6,188.0 364.8,188.9 365.1,191.1 365.3,188.8 365.5,188.3 365.7,190.2 366.0,188.1 366.2,189.3 366.4,190.2 366.6,189.0 366.9,188.9 367.1,188.5 367.3,190.6 367.5,187.0 367.7,188.9 368.0,190.6 368.2,188.5 368.4,189.1 368.6,188.4 368.9,189.0 369.1,188.9 369.3,188.5 369.5,189.6 369.7,188.2 370.0,189.2 370.2,190.0 370.4,189.0 370.6,188.3 370.9,188.9 371.1,189.9 371.3,188.4 371.5,190.8 371.7,190.7 372.0,189.3 372.2,190.6 372.4,189.3 372.6,189.0 372.9,187.7 373.1,189.5 373.3,189.7 373.5,188.6 373.8,191.7 374.0,185.8 374.2,188.6 374.4,189.5 374.6,187.9 374.9,188.4 375.1,190.7 375.3,188.5 375.5,187.5 375.8,188.8 376.0,189.0 376.2,188.1 376.4,189.5 376.6,188.3 376.9,188.2 377.1,189.3 377.3,190.4 377.5,189.4 377.8,189.8 378.0,187.7 378.2,188.0 378.4,187.4 378.7,188.0 378.9,188.0 379.1,189.3 379.3,187.8 379.5,186.0 379.8,188.1 380.0,189.0 380.2,188.8 380.4,189.1 380.7,189.5 380.9,188.6 381.1,188.8 381.3,186.8 381.5,187.9 381.8,187.9 382.0,187.1 382.2,188.4 382.4,186.7 382.7,188.7 382.9,189.5 383.1,189.2 383.3,188.8 383.5,190.3 383.8,189.1 384.0,190.7 384.2,187.4 384.4,188.3 384.7,189.2 384.9,189.8 385.1,189.4 385.3,189.0 385.6,189.9 385.8,190.1 386.0,189.2 386.2,189.4 386.4,187.6 386.7,186.9 386.9,188.0 387.1,187.8 387.3,189.9 387.6,188.2 387.8,188.5 388.0,187.9 388.2,186.4 388.4,190.7 388.7,188.9 388.9,190.0 389.1,188.3 389.3,190.1 389.6,189.6 389.8,188.6 390.0,187.9 390.2,188.3 390.5,189.5 390.7,189.5 390.9,187.8 391.1,188.4 391.3,190.6 391.6,188.1 391.8,187.9 392.0,187.3 392.2,188.6 392.5,187.5 392.7,189.5 392.9,188.1 393.1,189.0 393.3,187.8 393.6,187.1 393.8,189.0 394.0,188.7 394.2,188.5 394.5,187.0 394.7,187.2 394.9,189.6 395.1,188.2 395.3,187.5 395.6,185.5 395.8,189.6 396.0,189.4 396.2,187.1 396.5,189.7 396.7,190.2 396.9,188.3 397.1,187.1 397.4,188.8 397.6,187.8 397.8,188.0 398.0,186.4 398.2,187.7 398.5,186.9 398.7,189.0 398.9,188.7 399.1,188.5 399.4,187.0 399.6,187.2 399.8,188.9 400.0,187.6 400.2,187.1 400.5,188.0 400.7,188.5 400.9,188.5 401.1,190.4 401.4,188.6 401.6,188.0 401.8,189.2 402.0,187.6 402.2,189.7 402.5,189.3 402.7,189.0 402.9,185.9 403.1,189.3 403.4,187.7 403.6,186.7 403.8,187.1 404.0,186.2 404.3,188.6 404.5,190.8 404.7,187.7 404.9,189.2 405.1,188.5 405.4,189.4 405.6,186.8 405.8,186.3 406.0,188.0 406.3,186.5 406.5,187.0 406.7,187.5 406.9,187.3 407.1,187.6 407.4,186.6 407.6,186.7 407.8,187.5 408.0,186.1 408.3,187.6 408.5,186.9 408.7,186.5 408.9,185.1 409.2,187.1 409.4,184.9 409.6,186.1 409.8,186.9 410.0,187.7 410.3,186.4 410.5,186.6 410.7,188.1 410.9,188.5 411.2,187.9 411.4,187.8 411.6,185.6 411.8,184.5 412.0,184.7 412.3,185.4 412.5,186.5 412.7,186.2 412.9,185.0 413.2,183.1 413.4,184.0 413.6,185.7 413.8,185.7 414.0,186.3 414.3,186.8 414.5,186.3 414.7,185.7 414.9,183.6 415.2,185.3 415.4,184.2 415.6,183.5 415.8,185.4 416.1,184.2 416.3,185.0 416.5,186.7 416.7,185.3 416.9,183.2 417.2,181.3 417.4,179.0 417.6,176.3 417.8,174.6 418.1,176.1 418.3,175.5 418.5,177.1 418.7,175.4 418.9,174.5 419.2,174.8 419.4,174.7 419.6,174.3 419.8,175.7 420.1,175.6 420.3,174.7 420.5,173.8 420.7,174.3 420.9,171.8 421.2,174.3 421.4,173.7 421.6,173.2 421.8,174.7 422.1,176.0 422.3,176.9 422.5,175.5 422.7,173.9 423.0,174.5 423.2,174.7 423.4,175.5 423.6,174.6 423.8,177.6 424.1,175.6 424.3,175.3 424.5,176.9 424.7,173.0 425.0,176.2 425.2,176.8 425.4,177.1 425.6,174.4 425.8,176.0 426.1,174.6 426.3,174.3 426.5,174.6 426.7,176.6 427.0,176.4 427.2,173.5 427.4,176.2 427.6,176.5 427.9,175.8 428.1,174.4 428.3,174.6 428.5,174.1 428.7,176.2 429.0,174.3 429.2,174.2 429.4,176.8 429.6,173.7 429.9,171.8 430.1,175.0 430.3,174.9 430.5,173.2 430.7,176.2 431.0,177.7 431.2,177.2 431.4,176.2 431.6,175.9 431.9,174.3 432.1,174.2 432.3,176.0 432.5,174.3 432.7,172.2 433.0,172.3 433.2,172.6 433.4,173.9 433.6,173.0 433.9,175.2 434.1,173.7 434.3,174.2 434.5,172.9 434.8,173.2 435.0,175.2 435.2,174.3 435.4,172.7 435.6,175.5 435.9,176.2 436.1,177.2 436.3,178.9 436.5,177.0 436.8,176.4 437.0,177.4 437.2,178.9 437.4,180.2 437.6,180.8 437.9,182.0 438.1,179.8 438.3,178.6 438.5,178.0 438.8,179.2 439.0,178.5 439.2,178.2 439.4,175.4 439.6,176.4 439.9,179.2 440.1,177.2 440.3,174.8 440.5,175.4 440.8,175.4 441.0,176.3 441.2,179.0 441.4,179.6 441.7,179.0 441.9,177.5 442.1,176.4 442.3,175.6 442.5,176.5 442.8,175.2 443.0,176.3 443.2,177.0 443.4,175.3 443.7,176.9 443.9,179.6 444.1,178.3 444.3,176.5 444.5,179.7 444.8,177.3 445.0,176.6 445.2,177.6 445.4,178.0 445.7,176.8 445.9,176.5 446.1,174.1 446.3,174.4 446.6,176.9 446.8,176.7 447.0,174.7 447.2,172.7 447.4,173.9 447.7,174.3 447.9,172.5 448.1,174.3 448.3,175.1 448.6,176.7 448.8,176.1 449.0,172.6 449.2,175.9 449.4,175.1 449.7,176.6 449.9,175.2 450.1,173.8 450.3,174.7 450.6,173.8 450.8,173.5 451.0,173.8 451.2,172.3 451.4,172.9 451.7,174.5 451.9,175.4 452.1,175.8 452.3,174.3 452.6,174.8 452.8,171.2 453.0,171.2 453.2,173.7 453.5,174.6 453.7,172.3 453.9,176.0 454.1,175.4 454.3,173.4 454.6,175.1 454.8,175.1 455.0,174.9 455.2,173.6 455.5,173.8 455.7,173.5 455.9,173.3 456.1,173.9 456.3,172.8 456.6,174.7 456.8,176.2 457.0,177.1 457.2,177.2 457.5,175.9 457.7,173.7 457.9,174.0 458.1,175.1 458.3,176.1 458.6,175.7 458.8,175.5 459.0,175.6 459.2,176.7 459.5,175.9 459.7,173.9 459.9,177.2 460.1,175.9 460.4,177.8 460.6,175.6 460.8,176.1 461.0,177.9 461.2,175.8 461.5,173.0 461.7,174.4 461.9,173.5 462.1,174.8 462.4,177.7 462.6,175.4 462.8,175.8 463.0,177.3 463.2,175.0 463.5,174.9 463.7,175.9 463.9,174.5 464.1,176.3 464.4,175.0 464.6,176.5 464.8,175.2 465.0,176.9 465.3,174.2 465.5,174.9 465.7,173.7 465.9,176.2 466.1,176.5 466.4,175.0 466.6,179.0 466.8,178.1 467.0,175.3 467.3,175.2 467.5,174.6 467.7,176.0 467.9,175.4 468.1,176.8 468.4,178.0 468.6,178.8 468.8,177.7 469.0,177.3 469.3,177.3 469.5,180.9 469.7,180.0 469.9,177.9 470.1,176.3 470.4,176.9 470.6,177.4 470.8,179.3 471.0,174.5 471.3,176.9 471.5,174.2 471.7,173.5 471.9,174.9 472.2,176.3 472.4,175.9 472.6,177.3 472.8,176.0 473.0,175.9 473.3,175.2 473.5,174.5 473.7,173.3 473.9,175.5 474.2,174.4 474.4,176.4 474.6,177.0 474.8,176.9 475.0,177.3 475.3,175.0 475.5,174.3 475.7,173.7 475.9,175.1 476.2,175.1 476.4,176.2 476.6,177.2 476.8,175.5 477.1,175.2 477.3,176.8 477.5,175.2 477.7,177.6 477.9,176.3 478.2,176.5 478.4,176.4 478.6,177.1 478.8,174.8 479.1,174.5 479.3,173.7 479.5,174.7 479.7,176.8 479.9,176.2 480.2,177.1 480.4,175.3 480.6,173.8 480.8,174.5 481.1,175.8 481.3,175.9 481.5,175.2 481.7,177.0 481.9,175.6 482.2,175.1 482.4,175.8 482.6,175.9 482.8,175.2 483.1,176.2 483.3,176.5 483.5,174.6 483.7,174.8 484.0,173.0 484.2,175.8 484.4,177.6 484.6,174.8 484.8,173.9 485.1,175.7 485.3,177.2 485.5,175.9 485.7,177.6 486.0,176.3 486.2,178.2 486.4,176.4 486.6,178.2 486.8,176.4 487.1,173.7 487.3,175.1 487.5,174.3 487.7,175.7 488.0,176.5 488.2,177.4 488.4,174.6 488.6,175.1 488.8,173.2 489.1,176.1 489.3,175.8 489.5,175.3 489.7,173.5 490.0,172.5 490.2,175.2 490.4,176.6 490.6,177.8 490.9,174.4 491.1,175.1 491.3,176.0 491.5,175.6 491.7,178.5 492.0,178.4 492.2,175.1 492.4,174.8 492.6,175.0 492.9,176.5 493.1,175.0 493.3,173.1 493.5,176.3 493.7,175.7 494.0,176.1 494.2,175.2 494.4,175.4 494.6,175.7 494.9,176.7 495.1,175.9 495.3,176.5 495.5,176.1 495.8,175.8 496.0,174.9 496.2,176.2 496.4,176.2 496.6,174.5 496.9,175.6 497.1,176.0 497.3,174.8 497.5,175.1 497.8,175.5 498.0,175.4 498.2,177.2 498.4,175.7 498.6,174.2 498.9,174.7 499.1,177.4 499.3,176.0 499.5,177.1 499.8,176.6 500.0,176.0 500.2,177.4 500.4,174.8 500.6,175.7 500.9,175.0 501.1,174.9 501.3,174.1 501.5,174.0 501.8,177.3 502.0,176.4 502.2,178.8 502.4,177.5 502.7,175.7 502.9,174.9 503.1,174.2 503.3,176.1 503.5,175.8 503.8,176.0 504.0,174.6 504.2,173.8 504.4,176.0 504.7,171.8 504.9,175.4 505.1,177.1 505.3,176.6 505.5,176.4 505.8,176.8 506.0,178.6 506.2,176.7 506.4,178.0 506.7,176.8 506.9,176.8 507.1,180.2 507.3,181.1 507.5,181.6 507.8,180.4 508.0,180.4 508.2,180.4 508.4,181.8 508.7,181.0 508.9,179.7 509.1,182.3 509.3,181.5 509.6,180.5 509.8,180.4 510.0,180.2 510.2,177.6 510.4,177.1 510.7,177.3 510.9,179.1 511.1,175.8 511.3,176.8 511.6,178.1 511.8,178.0 512.0,177.9 512.2,174.4 512.4,175.5 512.7,175.8 512.9,178.4 513.1,175.4 513.3,176.5 513.6,177.3 513.8,175.8 514.0,177.4 514.2,176.1 514.5,175.7 514.7,179.4 514.9,178.8 515.1,180.6 515.3,179.7 515.6,178.5 515.8,181.2 516.0,178.4 516.2,180.5 516.5,182.4 516.7,182.0 516.9,181.1 517.1,183.7 517.3,183.2 517.6,185.0 517.8,182.6 518.0,182.8 518.2,183.4 518.5,181.5 518.7,183.6 518.9,182.9 519.1,179.7 519.3,181.0 519.6,179.3 519.8,180.0 520.0,181.1 520.2,180.6 520.5,179.9 520.7,180.0 520.9,180.4 521.1,180.2 521.4,180.8 521.6,178.8 521.8,177.6 522.0,176.6 522.2,179.2 522.5,177.2 522.7,177.8 522.9,180.0 523.1,178.9 523.4,178.0 523.6,178.3 523.8,178.3 524.0,178.3 524.2,178.6 524.5,180.0 524.7,183.2 524.9,182.7 525.1,181.4 525.4,182.3 525.6,181.4 525.8,181.2 526.0,182.2 526.2,180.5 526.5,183.7 526.7,182.6 526.9,183.7 527.1,184.2 527.4,182.6 527.6,183.4 527.8,181.7 528.0,183.5 528.3,182.4 528.5,183.1 528.7,182.3 528.9,182.2 529.1,182.9 529.4,180.8 529.6,182.3 529.8,182.3 530.0,179.9 530.3,178.9 530.5,178.8 530.7,179.0 530.9,176.6 531.1,180.0 531.4,180.9 531.6,181.8 531.8,180.0 532.0,180.5 532.3,180.0 532.5,180.3 532.7,182.1 532.9,183.7 533.2,184.7 533.4,181.3 533.6,182.1 533.8,183.1 534.0,184.9 534.3,185.5 534.5,186.2 534.7,186.7 534.9,189.6 535.2,188.0 535.4,188.1 535.6,187.7 535.6,199.7 535.4,200.2 535.2,200.0 534.9,201.7 534.7,198.7 534.5,198.2 534.3,197.6 534.0,196.9 533.8,195.2 533.6,194.2 533.4,193.4 533.2,196.7 532.9,195.7 532.7,194.2 532.5,192.3 532.3,192.0 532.0,192.6 531.8,192.1 531.6,193.8 531.4,192.9 531.1,192.0 530.9,188.6 530.7,191.1 530.5,190.8 530.3,190.9 530.0,191.9 529.8,194.3 529.6,194.3 529.4,192.8 529.1,194.9 528.9,194.2 528.7,194.4 528.5,195.1 528.3,194.5 528.0,195.6 527.8,193.7 527.6,195.4 527.4,194.6 527.1,196.3 526.9,195.7 526.7,194.6 526.5,195.8 526.2,192.6 526.0,194.3 525.8,193.2 525.6,193.4 525.4,194.3 525.1,193.5 524.9,194.8 524.7,195.2 524.5,192.1 524.2,190.6 524.0,190.3 523.8,190.4 523.6,190.3 523.4,190.0 523.1,191.0 522.9,192.0 522.7,189.9 522.5,189.2 522.2,191.3 522.0,188.7 521.8,189.7 521.6,190.8 521.4,192.8 521.1,192.3 520.9,192.4 520.7,192.1 520.5,191.9 520.2,192.7 520.0,193.1 519.8,192.1 519.6,191.3 519.3,193.0 519.1,191.8 518.9,194.9 518.7,195.6 518.5,193.6 518.2,195.4 518.0,194.9 517.8,194.7 517.6,197.0 517.3,195.2 517.1,195.8 516.9,193.1 516.7,194.1 516.5,194.5 516.2,192.5 516.0,190.4 515.8,193.2 515.6,190.5 515.3,191.7 515.1,192.7 514.9,190.8 514.7,191.4 514.5,187.7 514.2,188.2 514.0,189.5 513.8,187.8 513.6,189.4 513.3,188.5 513.1,187.4 512.9,190.4 512.7,187.9 512.4,187.6 512.2,186.5 512.0,189.9 511.8,190.0 511.6,190.1 511.3,188.9 511.1,187.8 510.9,191.2 510.7,189.4 510.4,189.2 510.2,189.6 510.0,192.3 509.8,192.4 509.6,192.5 509.3,193.5 509.1,194.4 508.9,191.7 508.7,193.0 508.4,193.9 508.2,192.4 508.0,192.5 507.8,192.4 507.5,193.6 507.3,193.1 507.1,192.3 506.9,188.8 506.7,188.8 506.4,190.1 506.2,188.7 506.0,190.6 505.8,188.8 505.5,188.4 505.3,188.6 505.1,189.1 504.9,187.4 504.7,183.8 504.4,188.0 504.2,185.9 504.0,186.7 503.8,188.0 503.5,187.8 503.3,188.1 503.1,186.3 502.9,186.9 502.7,187.7 502.4,189.5 502.2,190.9 502.0,188.4 501.8,189.3 501.5,186.1 501.3,186.1 501.1,187.0 500.9,187.0 500.6,187.8 500.4,186.8 500.2,189.5 500.0,188.0 499.8,188.6 499.5,189.1 499.3,188.1 499.1,189.5 498.9,186.7 498.6,186.2 498.4,187.7 498.2,189.3 498.0,187.5 497.8,187.5 497.5,187.2 497.3,186.8 497.1,188.1 496.9,187.7 496.6,186.6 496.4,188.3 496.2,188.2 496.0,187.0 495.8,187.9 495.5,188.1 495.3,188.5 495.1,188.0 494.9,188.7 494.6,187.7 494.4,187.5 494.2,187.3 494.0,188.1 493.7,187.7 493.5,188.3 493.3,185.2 493.1,187.1 492.9,188.6 492.6,187.1 492.4,186.9 492.2,187.2 492.0,190.5 491.7,190.6 491.5,187.6 491.3,188.1 491.1,187.1 490.9,186.4 490.6,189.8 490.4,188.7 490.2,187.3 490.0,184.5 489.7,185.6 489.5,187.4 489.3,187.8 489.1,188.1 488.8,185.3 488.6,187.2 488.4,186.7 488.2,189.5 488.0,188.5 487.7,187.8 487.5,186.3 487.3,187.2 487.1,185.8 486.8,188.5 486.6,190.2 486.4,188.5 486.2,190.3 486.0,188.4 485.7,189.6 485.5,187.9 485.3,189.2 485.1,187.8 484.8,185.9 484.6,186.8 484.4,189.6 484.2,187.8 484.0,185.1 483.7,186.8 483.5,186.7 483.3,188.6 483.1,188.3 482.8,187.2 482.6,187.9 482.4,187.9 482.2,187.1 481.9,187.6 481.7,189.0 481.5,187.2 481.3,187.9 481.1,187.8 480.8,186.5 480.6,185.9 480.4,187.3 480.2,189.1 479.9,188.3 479.7,188.8 479.5,186.8 479.3,185.7 479.1,186.6 478.8,186.8 478.6,189.1 478.4,188.5 478.2,188.6 477.9,188.4 477.7,189.6 477.5,187.2 477.3,188.9 477.1,187.3 476.8,187.6 476.6,189.2 476.4,188.2 476.2,187.2 475.9,187.2 475.7,185.8 475.5,186.4 475.3,187.0 475.0,189.3 474.8,188.9 474.6,189.1 474.4,188.4 474.2,186.5 473.9,187.6 473.7,185.4 473.5,186.5 473.3,187.3 473.0,188.0 472.8,188.1 472.6,189.4 472.4,187.9 472.2,188.4 471.9,187.0 471.7,185.6 471.5,186.3 471.3,189.0 471.0,186.6 470.8,191.3 470.6,189.4 470.4,188.9 470.1,188.4 469.9,190.0 469.7,192.1 469.5,192.9 469.3,189.3 469.0,189.4 468.8,189.7 468.6,190.9 468.4,190.1 468.1,188.8 467.9,187.4 467.7,188.0 467.5,186.6 467.3,187.3 467.0,187.4 466.8,190.2 466.6,191.0 466.4,187.1 466.1,188.5 465.9,188.2 465.7,185.8 465.5,187.0 465.3,186.2 465.0,188.9 464.8,187.3 464.6,188.6 464.4,187.0 464.1,188.3 463.9,186.6 463.7,188.0 463.5,187.0 463.2,187.0 463.0,189.3 462.8,187.9 462.6,187.4 462.4,189.8 462.1,186.8 461.9,185.5 461.7,186.4 461.5,185.1 461.2,187.8 461.0,189.9 460.8,188.1 460.6,187.6 460.4,189.8 460.1,187.9 459.9,189.3 459.7,185.9 459.5,188.0 459.2,188.8 459.0,187.7 458.8,187.5 458.6,187.7 458.3,188.1 458.1,187.2 457.9,186.1 457.7,185.7 457.5,188.0 457.2,189.2 457.0,189.1 456.8,188.3 456.6,186.8 456.3,184.8 456.1,186.0 455.9,185.3 455.7,185.6 455.5,185.8 455.2,185.6 455.0,186.9 454.8,187.1 454.6,187.1 454.3,185.5 454.1,187.4 453.9,188.1 453.7,184.4 453.5,186.6 453.2,185.7 453.0,183.2 452.8,183.2 452.6,186.9 452.3,186.3 452.1,187.8 451.9,187.4 451.7,186.5 451.4,185.0 451.2,184.3 451.0,185.8 450.8,185.6 450.6,185.9 450.3,186.8 450.1,185.8 449.9,187.2 449.7,188.7 449.4,187.2 449.2,188.0 449.0,184.6 448.8,188.1 448.6,188.8 448.3,187.2 448.1,186.3 447.9,184.6 447.7,186.4 447.4,185.9 447.2,184.7 447.0,186.8 446.8,188.8 446.6,188.9 446.3,186.5 446.1,186.1 445.9,188.5 445.7,188.8 445.4,190.0 445.2,189.7 445.0,188.6 444.8,189.4 444.5,191.8 444.3,188.5 444.1,190.3 443.9,191.6 443.7,189.0 443.4,187.4 443.2,189.1 443.0,188.3 442.8,187.2 442.5,188.6 442.3,187.6 442.1,188.4 441.9,189.5 441.7,191.1 441.4,191.7 441.2,191.1 441.0,188.4 440.8,187.4 440.5,187.5 440.3,186.8 440.1,189.3 439.9,191.3 439.6,188.4 439.4,187.4 439.2,190.3 439.0,190.5 438.8,191.3 438.5,190.0 438.3,190.6 438.1,191.8 437.9,194.0 437.6,192.8 437.4,192.3 437.2,191.0 437.0,189.5 436.8,188.5 436.5,189.0 436.3,191.0 436.1,189.3 435.9,188.3 435.6,187.5 435.4,184.7 435.2,186.4 435.0,187.3 434.8,185.3 434.5,184.9 434.3,186.3 434.1,185.7 433.9,187.2 433.6,185.1 433.4,185.9 433.2,184.7 433.0,184.4 432.7,184.2 432.5,186.4 432.3,188.1 432.1,186.3 431.9,186.3 431.6,187.9 431.4,188.2 431.2,189.3 431.0,189.7 430.7,188.2 430.5,185.2 430.3,186.9 430.1,187.0 429.9,183.8 429.6,185.7 429.4,188.8 429.2,186.2 429.0,186.3 428.7,188.2 428.5,186.1 428.3,186.7 428.1,186.4 427.9,187.8 427.6,188.6 427.4,188.3 427.2,185.5 427.0,188.4 426.7,188.6 426.5,186.6 426.3,186.3 426.1,186.7 425.8,188.1 425.6,186.4 425.4,189.2 425.2,188.9 425.0,188.3 424.7,185.1 424.5,188.9 424.3,187.3 424.1,187.7 423.8,189.7 423.6,186.6 423.4,187.6 423.2,186.8 423.0,186.5 422.7,185.9 422.5,187.5 422.3,188.9 422.1,188.1 421.8,186.8 421.6,185.2 421.4,185.7 421.2,186.3 420.9,183.8 420.7,186.3 420.5,185.8 420.3,186.7 420.1,187.7 419.8,187.8 419.6,186.4 419.4,186.7 419.2,186.8 418.9,186.5 418.7,187.5 418.5,189.2 418.3,187.5 418.1,188.1 417.8,186.7 417.6,188.4 417.4,191.1 417.2,193.3 416.9,195.3 416.7,197.4 416.5,198.7 416.3,197.0 416.1,196.2 415.8,197.5 415.6,195.5 415.4,196.3 415.2,197.3 414.9,195.7 414.7,197.8 414.5,198.3 414.3,198.9 414.0,198.4 413.8,197.8 413.6,197.7 413.4,196.0 413.2,195.2 412.9,197.1 412.7,198.2 412.5,198.6 412.3,197.4 412.0,196.8 411.8,196.5 411.6,197.6 411.4,199.9 411.2,199.9 410.9,200.5 410.7,200.1 410.5,198.6 410.3,198.4 410.0,199.7 409.8,198.9 409.6,198.1 409.4,196.9 409.2,199.1 408.9,197.1 408.7,198.6 408.5,199.0 408.3,199.6 408.0,198.1 407.8,199.5 407.6,198.7 407.4,198.7 407.1,199.6 406.9,199.4 406.7,199.5 406.5,199.1 406.3,198.6 406.0,200.1 405.8,198.3 405.6,198.9 405.4,201.4 405.1,200.6 404.9,201.2 404.7,199.8 404.5,202.9 404.3,200.6 404.0,198.2 403.8,199.1 403.6,198.7 403.4,199.7 403.1,201.4 402.9,197.9 402.7,201.1 402.5,201.3 402.2,201.7 402.0,199.6 401.8,201.3 401.6,200.1 401.4,200.7 401.1,202.4 400.9,200.6 400.7,200.5 400.5,200.1 400.2,199.2 400.0,199.6 399.8,200.9 399.6,199.2 399.4,199.0 399.1,200.6 398.9,200.8 398.7,201.0 398.5,199.0 398.2,199.8 398.0,198.4 397.8,200.1 397.6,199.9 397.4,200.8 397.1,199.1 396.9,200.3 396.7,202.3 396.5,201.7 396.2,199.1 396.0,201.5 395.8,201.7 395.6,197.6 395.3,199.5 395.1,200.3 394.9,201.6 394.7,199.2 394.5,199.1 394.2,200.5 394.0,200.7 393.8,201.0 393.6,199.1 393.3,199.9 393.1,201.0 392.9,200.2 392.7,201.6 392.5,199.6 392.2,200.6 392.0,199.3 391.8,200.0 391.6,200.2 391.3,202.6 391.1,200.4 390.9,199.8 390.7,201.6 390.5,201.5 390.2,200.3 390.0,199.9 389.8,200.7 389.6,201.7 389.3,202.1 389.1,200.3 388.9,202.1 388.7,200.9 388.4,202.8 388.2,198.4 388.0,200.0 387.8,200.5 387.6,200.2 387.3,202.0 387.1,199.8 386.9,200.0 386.7,198.9 386.4,199.7 386.2,201.4 386.0,201.2 385.8,202.1 385.6,202.0 385.3,201.1 385.1,201.4 384.9,201.9 384.7,201.2 384.4,200.3 384.2,199.5 384.0,202.7 383.8,201.1 383.5,202.3 383.3,200.9 383.1,201.3 382.9,201.6 382.7,200.7 382.4,198.7 382.2,200.4 382.0,199.1 381.8,199.9 381.5,200.0 381.3,198.8 381.1,200.9 380.9,200.6 380.7,201.5 380.4,201.2 380.2,200.8 380.0,201.1 379.8,200.1 379.5,198.1 379.3,199.9 379.1,201.3 378.9,200.0 378.7,200.0 378.4,199.4 378.2,200.1 378.0,199.7 377.8,201.9 377.5,201.4 377.3,202.5 377.1,201.3 376.9,200.3 376.6,200.3 376.4,201.6 376.2,200.1 376.0,201.0 375.8,200.9 375.5,199.6 375.3,200.5 375.1,202.8 374.9,200.5 374.6,199.9 374.4,201.6 374.2,200.7 374.0,197.8 373.8,203.7 373.5,200.6 373.3,201.8 373.1,201.6 372.9,199.7 372.6,201.0 372.4,201.3 372.2,202.6 372.0,201.3 371.7,202.7 371.5,202.9 371.3,200.4 371.1,202.0 370.9,201.0 370.6,200.4 370.4,201.1 370.2,202.0 370.0,201.2 369.7,200.2 369.5,201.6 369.3,200.5 369.1,200.9 368.9,201.1 368.6,200.5 368.4,201.1 368.2,200.6 368.0,202.7 367.7,200.9 367.5,199.0 367.3,202.6 367.1,200.5 366.9,201.0 366.6,201.0 366.4,202.2 366.2,201.4 366.0,200.2 365.7,202.3 365.5,200.4 365.3,200.8 365.1,203.2 364.8,200.9 364.6,200.0 364.4,200.5 364.2,201.9 364.0,201.9 363.7,200.4 363.5,202.3 363.3,201.4 363.1,201.4 362.8,200.7 362.6,200.6 362.4,199.6 362.2,200.8 362.0,200.5 361.7,201.0 361.5,201.0 361.3,201.4 361.1,201.9 360.8,200.8 360.6,201.2 360.4,200.8 360.2,201.0 360.0,199.9 359.7,200.9 359.5,201.0 359.3,198.5 359.1,201.9 358.8,200.5 358.6,201.0 358.4,199.9 358.2,200.6 357.9,197.2 357.7,198.3 357.5,201.3 357.3,199.4 357.1,199.8 356.8,199.5 356.6,202.4 356.4,200.9 356.2,203.0 355.9,198.5 355.7,198.8 355.5,200.7 355.3,200.4 355.1,202.0 354.8,200.3 354.6,201.2 354.4,200.8 354.2,197.9 353.9,196.7 353.7,200.9 353.5,199.4 353.3,198.8 353.0,198.2 352.8,199.6 352.6,201.5 352.4,200.4 352.2,199.4 351.9,201.8 351.7,199.6 351.5,199.8 351.3,199.7 351.0,199.9 350.8,200.0 350.6,200.1 350.4,198.6 350.2,196.9 349.9,198.6 349.7,198.8 349.5,199.6 349.3,200.4 349.0,199.6 348.8,198.7 348.6,200.3 348.4,202.2 348.2,199.6 347.9,200.4 347.7,197.8 347.5,200.4 347.3,201.0 347.0,200.9 346.8,199.9 346.6,198.8 346.4,210.5 346.1,191.7 345.9,174.4 345.7,177.4 345.5,175.3 345.3,173.8 345.0,176.1 344.8,172.2 344.6,175.4 344.4,177.5 344.1,170.8 343.9,171.0 343.7,172.2 343.5,175.1 343.3,174.7 343.0,169.7 342.8,171.0 342.6,173.0 342.4,173.2 342.1,175.8 341.9,172.9 341.7,171.2 341.5,175.3 341.3,179.8 341.0,175.7 340.8,173.5 340.6,180.3 340.4,179.3 340.1,174.3 339.9,170.9 339.7,173.6 339.5,178.0 339.2,175.1 339.0,167.9 338.8,171.0 338.6,170.8 338.4,166.4 338.1,172.2 337.9,169.7 337.7,175.7 337.5,175.2 337.2,173.4 337.0,179.0 336.8,175.8 336.6,176.1 336.4,171.4 336.1,178.1 335.9,178.9 335.7,180.3 335.5,183.9 335.2,180.6 335.0,176.2 334.8,175.9 334.6,174.4 334.3,175.3 334.1,173.3 333.9,173.2 333.7,166.9 333.5,170.9 333.2,169.1 333.0,168.2 332.8,165.9 332.6,172.0 332.3,180.0 332.1,180.7 331.9,174.1 331.7,175.1 331.5,178.6 331.2,176.3 331.0,175.0 330.8,179.8 330.6,177.1 330.3,184.5 330.1,180.4 329.9,174.3 329.7,173.8 329.5,170.3 329.2,175.6 329.0,168.7 328.8,168.5 328.6,170.6 328.3,169.9 328.1,165.6 327.9,164.8 327.7,164.1 327.4,160.1 327.2,162.6 327.0,161.3 326.8,163.9 326.6,168.2 326.3,168.8 326.1,169.2 325.9,169.4 325.7,173.3 325.4,172.4 325.2,169.1 325.0,167.6 324.8,164.4 324.6,162.0 324.3,161.7 324.1,162.2 323.9,163.6 323.7,168.3 323.4,167.4 323.2,165.9 323.0,161.1 322.8,155.4 322.6,153.6 322.3,153.2 322.1,159.9 321.9,154.6 321.7,154.9 321.4,157.9 321.2,156.6 321.0,154.4 320.8,159.1 320.5,157.3 320.3,164.1 320.1,165.0 319.9,161.0 319.7,160.1 319.4,161.5 319.2,166.0 319.0,171.2 318.8,176.8 318.5,182.5 318.3,177.1 318.1,179.3 317.9,178.1 317.7,178.1 317.4,177.8 317.2,172.9 317.0,166.5 316.8,168.5 316.5,169.6 316.3,166.5 316.1,164.9 315.9,165.3 315.6,157.3 315.4,159.5 315.2,154.0 315.0,152.2 314.8,151.9 314.5,153.1 314.3,155.9 314.1,157.7 313.9,158.5 313.6,158.8 313.4,163.8 313.2,160.8" fill="#f2b6ee" fill-opacity="0.5" stroke="none"/>
<polyline points="313.2,134.4 313.4,151.7 313.6,86.0 313.9,124.9 314.1,157.3 314.3,114.0 314.5,138.1 314.8,86.0 315.0,153.3 315.2,108.6 315.4,114.4 315.6,95.3 315.9,86.0 316.1,134.0 316.3,165.5 316.5,111.8 316.8,167.9 317.0,112.2 317.2,146.8 317.4,165.2 317.7,161.1 317.9,145.7 318.1,144.7 318.3,154.5 318.5,135.0 318.8,174.6 319.0,135.8 319.2,153.8 319.4,124.7 319.7,146.6 319.9,143.6 320.1,95.8 320.3,155.4 320.5,86.0 320.8,89.3 321.0,110.0 321.2,129.0 321.4,141.1 321.7,144.5 321.9,138.8 322.1,121.1 322.3,111.0 322.6,111.2 322.8,92.3 323.0,146.1 323.2,130.3 323.4,126.2 323.7,140.3 323.9,105.9 324.1,138.0 324.3,124.0 324.6,133.0 324.8,149.2 325.0,143.8 325.2,143.4 325.4,124.4 325.7,165.1 325.9,86.4 326.1,144.7 326.3,137.5 326.6,136.8 326.8,127.4 327.0,123.7 327.2,130.0 327.4,136.2 327.7,137.1 327.9,149.6 328.1,115.9 328.3,147.3 328.6,164.9 328.8,110.2 329.0,106.3 329.2,159.1 329.5,122.1 329.7,150.5 329.9,117.3 330.1,159.6 330.3,161.8 330.6,177.1 330.8,189.2 331.0,155.0 331.2,147.4 331.5,136.9 331.7,106.7 331.9,161.1 332.1,142.3 332.3,166.0 332.6,151.4 332.8,154.8 333.0,170.1 333.2,156.7 333.5,163.4 333.7,111.1 333.9,154.3 334.1,134.2 334.3,136.2 334.6,145.5 334.8,127.1 335.0,135.6 335.2,147.7 335.5,160.1 335.7,154.2 335.9,137.7 336.1,120.8 336.4,139.7 336.6,137.2 336.8,157.8 337.0,110.8 337.2,166.6 337.5,117.1 337.7,134.9 337.9,133.5 338.1,113.7 338.4,141.6 338.6,145.2 338.8,119.4 339.0,148.1 339.2,130.7 339.5,116.9 339.7,178.1 339.9,124.5 340.1,154.0 340.4,151.9 340.6,117.7 340.8,105.9 341.0,148.4 341.3,125.0 341.5,132.1 341.7,111.8 341.9,144.9 342.1,133.2 342.4,133.7 342.6,143.5 342.8,115.9 343.0,127.3 343.3,161.8 343.5,145.6 343.7,181.4 343.9,146.1 344.1,114.0 344.4,117.4 344.6,128.5 344.8,88.2 345.0,151.5 345.3,139.9 345.5,138.9 345.7,169.7 345.9,149.6 346.1,161.9 346.4,174.9 346.6,192.5 346.8,186.4 347.0,195.5 347.3,203.3 347.5,197.8 347.7,192.5 347.9,199.3 348.2,197.1 348.4,201.3 348.6,197.2 348.8,190.1 349.0,196.8 349.3,196.4 349.5,191.1 349.7,191.1 349.9,186.0 350.2,193.3 350.4,189.9 350.6,197.6 350.8,194.7 351.0,191.3 351.3,190.0 351.5,190.3 351.7,194.2 351.9,189.6 352.2,196.0 352.4,196.4 352.6,193.1 352.8,197.4 353.0,183.5 353.3,189.4 353.5,184.6 353.7,196.3 353.9,193.8 354.2,192.4 354.4,192.7 354.6,199.2 354.8,193.8 355.1,197.4 355.3,188.3 355.5,199.1 355.7,189.2 355.9,196.8 356.2,202.7 356.4,199.5 356.6,203.2 356.8,194.1 357.1,190.3 357.3,193.9 357.5,193.7 357.7,186.1 357.9,191.2 358.2,195.0 358.4,196.5 358.6,203.5 358.8,192.3 359.1,203.5 359.3,190.8 359.5,196.3 359.7,191.0 360.0,195.5 360.2,200.1 360.4,194.5 360.6,199.1 360.8,196.9 361.1,197.1 361.3,197.3 361.5,197.1 361.7,200.1 362.0,168.8 362.2,199.9 362.4,195.7 362.6,201.4 362.8,190.8 363.1,167.6 363.3,203.5 363.5,197.0 363.7,196.3 364.0,202.0 364.2,194.7 364.4,197.9 364.6,203.5 364.8,197.4 365.1,199.1 365.3,195.7 365.5,201.3 365.7,194.7 366.0,192.1 366.2,201.9 366.4,200.6 366.6,196.7 366.9,198.9 367.1,187.8 367.3,196.9 367.5,199.0 367.7,175.9 368.0,198.2 368.2,185.3 368.4,197.2 368.6,195.2 368.9,194.0 369.1,196.4 369.3,185.3 369.5,182.0 369.7,192.1 370.0,195.8 370.2,194.4 370.4,201.8 370.6,187.5 370.9,196.8 371.1,197.1 371.3,200.0 371.5,201.5 371.7,195.4 372.0,192.1 372.2,194.4 372.4,191.0 372.6,193.0 372.9,194.9 373.1,193.0 373.3,194.3 373.5,196.4 373.8,195.7 374.0,187.2 374.2,194.9 374.4,198.5 374.6,191.9 374.9,181.4 375.1,199.1 375.3,196.2 375.5,195.5 375.8,190.5 376.0,203.5 376.2,193.8 376.4,191.4 376.6,199.4 376.9,188.7 377.1,194.1 377.3,200.3 377.5,195.8 377.8,203.5 378.0,197.6 378.2,187.0 378.4,198.8 378.7,186.8 378.9,195.7 379.1,192.0 379.3,195.0 379.5,203.5 379.8,198.1 380.0,195.5 380.2,201.4 380.4,202.7 380.7,195.1 380.9,198.9 381.1,203.5 381.3,197.3 381.5,191.3 381.8,197.4 382.0,190.1 382.2,188.7 382.4,193.9 382.7,201.2 382.9,202.9 383.1,196.7 383.3,192.1 383.5,196.4 383.8,193.9 384.0,200.1 384.2,193.4 384.4,197.8 384.7,198.1 384.9,203.1 385.1,203.5 385.3,198.6 385.6,202.4 385.8,201.8 386.0,193.5 386.2,197.2 386.4,181.5 386.7,189.9 386.9,198.3 387.1,191.5 387.3,193.1 387.6,198.7 387.8,190.7 388.0,198.9 388.2,203.5 388.4,194.4 388.7,199.1 388.9,190.5 389.1,198.6 389.3,202.9 389.6,189.8 389.8,201.0 390.0,194.3 390.2,188.9 390.5,196.3 390.7,197.3 390.9,194.7 391.1,191.8 391.3,201.7 391.6,192.7 391.8,192.0 392.0,183.9 392.2,197.5 392.5,199.1 392.7,193.5 392.9,197.3 393.1,195.0 393.3,194.6 393.6,189.0 393.8,199.3 394.0,196.5 394.2,203.5 394.5,198.5 394.7,187.4 394.9,200.0 395.1,198.8 395.3,200.4 395.6,190.2 395.8,196.1 396.0,202.3 396.2,191.3 396.5,195.8 396.7,194.1 396.9,198.6 397.1,186.4 397.4,194.3 397.6,195.7 397.8,197.8 398.0,109.5 398.2,191.1 398.5,195.5 398.7,191.4 398.9,193.4 399.1,189.7 399.4,190.6 399.6,194.8 399.8,203.5 400.0,193.6 400.2,190.8 400.5,194.6 400.7,193.3 400.9,197.6 401.1,199.5 401.4,200.3 401.6,176.1 401.8,195.8 402.0,197.2 402.2,203.2 402.5,197.3 402.7,189.7 402.9,191.1 403.1,200.0 403.4,170.6 403.6,187.5 403.8,189.9 404.0,189.9 404.3,190.6 404.5,195.6 404.7,191.5 404.9,200.1 405.1,188.9 405.4,195.6 405.6,184.8 405.8,203.1 406.0,192.1 406.3,189.4 406.5,196.0 406.7,192.7 406.9,191.2 407.1,192.3 407.4,196.5 407.6,190.0 407.8,190.1 408.0,187.5 408.3,194.5 408.5,193.9 408.7,192.9 408.9,187.6 409.2,199.3 409.4,198.3 409.6,192.9 409.8,199.4 410.0,197.8 410.3,193.3 410.5,191.7 410.7,200.4 410.9,192.1 411.2,203.4 411.4,192.6 411.6,200.2 411.8,197.7 412.0,189.1 412.3,194.6 412.5,197.5 412.7,195.6 412.9,190.2 413.2,190.7 413.4,191.5 413.6,188.1 413.8,196.4 414.0,195.8 414.3,189.4 414.5,188.2 414.7,188.5 414.9,185.1 415.2,192.8 415.4,192.3 415.6,186.9 415.8,194.6 416.1,144.9 416.3,189.0 416.5,197.3 416.7,136.7 416.9,191.1 417.2,180.6 417.4,174.4 417.6,184.1 417.8,181.9 418.1,188.8 418.3,181.8 418.5,184.5 418.7,187.7 418.9,178.2 419.2,189.3 419.4,183.0 419.6,181.0 419.8,188.8 420.1,179.0 420.3,174.4 420.5,187.5 420.7,188.1 420.9,176.3 421.2,181.7 421.4,186.6 421.6,181.9 421.8,182.6 422.1,184.1 422.3,180.4 422.5,181.1 422.7,173.1 423.0,175.5 423.2,171.0 423.4,177.9 423.6,175.8 423.8,181.7 424.1,188.6 424.3,178.6 424.5,183.9 424.7,172.9 425.0,183.1 425.2,181.7 425.4,183.0 425.6,174.0 425.8,176.4 426.1,183.2 426.3,180.2 426.5,184.0 426.7,183.2 427.0,183.7 427.2,179.6 427.4,174.7 427.6,185.7 427.9,182.9 428.1,182.6 428.3,178.9 428.5,181.7 428.7,184.8 429.0,181.8 429.2,179.0 429.4,184.3 429.6,183.3 429.9,183.1 430.1,179.9 430.3,175.6 430.5,179.0 430.7,182.6 431.0,183.0 431.2,174.5 431.4,180.2 431.6,184.5 431.9,180.3 432.1,181.7 432.3,189.0 432.5,176.5 432.7,171.7 433.0,180.9 433.2,178.1 433.4,180.0 433.6,176.8 433.9,189.3 434.1,173.6 434.3,183.7 434.5,174.4 434.8,180.2 435.0,184.4 435.2,182.3 435.4,175.9 435.6,186.8 435.9,185.3 436.1,186.8 436.3,194.2 436.5,178.3 436.8,181.1 437.0,184.9 437.2,180.9 437.4,192.0 437.6,188.5 437.9,181.3 438.1,182.6 438.3,196.2 438.5,200.7 438.8,191.4 439.0,180.9 439.2,187.7 439.4,183.7 439.6,180.9 439.9,190.6 440.1,183.6 440.3,178.5 440.5,180.6 440.8,180.9 441.0,186.5 441.2,184.0 441.4,188.9 441.7,152.3 441.9,172.9 442.1,187.2 442.3,192.9 442.5,185.8 442.8,180.8 443.0,178.8 443.2,179.4 443.4,186.3 443.7,187.9 443.9,181.1 444.1,190.7 444.3,178.8 444.5,188.1 444.8,181.2 445.0,180.6 445.2,181.4 445.4,181.5 445.7,188.7 445.9,182.4 446.1,181.4 446.3,180.4 446.6,178.5 446.8,176.6 447.0,185.4 447.2,183.4 447.4,182.6 447.7,178.2 447.9,183.6 448.1,131.3 448.3,181.1 448.6,185.1 448.8,135.8 449.0,178.8 449.2,180.1 449.4,190.6 449.7,178.5 449.9,174.9 450.1,179.6 450.3,179.8 450.6,170.0 450.8,175.2 451.0,185.3 451.2,179.7 451.4,181.0 451.7,182.5 451.9,193.6 452.1,179.7 452.3,158.0 452.6,181.4 452.8,179.2 453.0,174.5 453.2,182.4 453.5,185.6 453.7,177.2 453.9,176.9 454.1,184.2 454.3,174.4 454.6,150.7 454.8,184.9 455.0,175.2 455.2,184.7 455.5,176.4 455.7,183.2 455.9,178.5 456.1,186.9 456.3,184.0 456.6,177.2 456.8,182.7 457.0,184.3 457.2,186.6 457.5,181.2 457.7,187.4 457.9,186.6 458.1,183.2 458.3,180.6 458.6,186.3 458.8,183.1 459.0,183.6 459.2,185.1 459.5,175.6 459.7,176.6 459.9,178.9 460.1,183.3 460.4,187.5 460.6,189.6 460.8,179.3 461.0,194.9 461.2,185.8 461.5,176.9 461.7,174.2 461.9,176.4 462.1,186.1 462.4,182.8 462.6,186.4 462.8,179.4 463.0,185.1 463.2,178.3 463.5,156.6 463.7,179.0 463.9,171.1 464.1,182.8 464.4,183.8 464.6,177.7 464.8,174.6 465.0,186.8 465.3,181.2 465.5,188.9 465.7,182.0 465.9,179.4 466.1,184.2 466.4,185.0 466.6,192.8 466.8,183.8 467.0,179.0 467.3,179.8 467.5,163.0 467.7,189.2 467.9,174.6 468.1,184.4 468.4,186.0 468.6,182.8 468.8,195.0 469.0,185.0 469.3,185.3 469.5,186.5 469.7,181.1 469.9,183.1 470.1,192.1 470.4,185.8 470.6,183.8 470.8,186.0 471.0,187.8 471.3,192.0 471.5,179.0 471.7,179.3 471.9,182.4 472.2,191.7 472.4,175.1 472.6,190.9 472.8,185.0 473.0,173.6 473.3,183.3 473.5,180.8 473.7,186.1 473.9,176.6 474.2,187.8 474.4,182.5 474.6,183.8 474.8,189.1 475.0,180.5 475.3,188.9 475.5,184.8 475.7,181.2 475.9,184.4 476.2,180.3 476.4,179.3 476.6,185.9 476.8,185.4 477.1,185.0 477.3,185.8 477.5,178.8 477.7,185.9 477.9,181.8 478.2,184.3 478.4,187.7 478.6,180.4 478.8,186.9 479.1,181.8 479.3,174.2 479.5,187.1 479.7,184.4 479.9,185.7 480.2,186.8 480.4,189.5 480.6,182.8 480.8,184.3 481.1,182.5 481.3,175.9 481.5,181.2 481.7,181.3 481.9,183.1 482.2,183.5 482.4,187.0 482.6,191.6 482.8,181.6 483.1,176.0 483.3,181.7 483.5,184.5 483.7,174.5 484.0,182.4 484.2,186.0 484.4,190.5 484.6,186.5 484.8,182.4 485.1,173.8 485.3,185.5 485.5,188.0 485.7,187.7 486.0,184.7 486.2,193.5 486.4,183.2 486.6,182.3 486.8,182.3 487.1,175.9 487.3,188.4 487.5,189.4 487.7,177.1 488.0,171.3 488.2,191.9 488.4,181.0 488.6,182.4 488.8,178.0 489.1,182.5 489.3,185.4 489.5,181.8 489.7,180.2 490.0,180.1 490.2,191.1 490.4,197.8 490.6,188.8 490.9,189.3 491.1,181.3 491.3,180.1 491.5,181.7 491.7,187.6 492.0,185.4 492.2,177.1 492.4,185.5 492.6,178.1 492.9,180.6 493.1,181.2 493.3,173.8 493.5,186.9 493.7,178.7 494.0,187.7 494.2,186.1 494.4,187.7 494.6,181.0 494.9,188.4 495.1,183.0 495.3,189.0 495.5,178.5 495.8,174.7 496.0,181.2 496.2,175.9 496.4,180.4 496.6,171.9 496.9,182.5 497.1,190.6 497.3,175.2 497.5,183.1 497.8,187.6 498.0,185.8 498.2,192.1 498.4,183.8 498.6,186.5 498.9,175.2 499.1,181.7 499.3,191.0 499.5,191.4 499.8,186.5 500.0,192.2 500.2,185.3 500.4,182.3 500.6,186.6 500.9,184.8 501.1,180.0 501.3,174.8 501.5,174.4 501.8,184.5 502.0,179.8 502.2,189.6 502.4,182.9 502.7,187.4 502.9,178.9 503.1,187.3 503.3,187.9 503.5,183.2 503.8,180.8 504.0,152.8 504.2,183.6 504.4,182.7 504.7,178.1 504.9,186.6 505.1,162.1 505.3,185.1 505.5,177.3 505.8,181.6 506.0,192.0 506.2,194.2 506.4,184.9 506.7,178.7 506.9,183.3 507.1,183.5 507.3,190.7 507.5,195.2 507.8,184.2 508.0,187.3 508.2,184.5 508.4,195.6 508.7,187.5 508.9,189.9 509.1,185.9 509.3,191.5 509.6,190.6 509.8,190.4 510.0,181.7 510.2,184.8 510.4,188.0 510.7,189.4 510.9,191.3 511.1,176.4 511.3,192.6 511.6,189.4 511.8,182.4 512.0,179.8 512.2,182.5 512.4,179.2 512.7,179.6 512.9,181.2 513.1,182.5 513.3,176.2 513.6,183.7 513.8,176.0 514.0,189.7 514.2,179.0 514.5,184.2 514.7,193.5 514.9,183.7 515.1,191.7 515.3,184.8 515.6,179.9 515.8,180.9 516.0,185.5 516.2,192.9 516.5,188.8 516.7,185.1 516.9,165.5 517.1,188.5 517.3,180.8 517.6,188.1 517.8,189.8 518.0,192.6 518.2,187.8 518.5,195.6 518.7,203.5 518.9,193.1 519.1,191.8 519.3,180.0 519.6,185.7 519.8,185.9 520.0,193.5 520.2,185.4 520.5,190.8 520.7,189.8 520.9,187.9 521.1,186.9 521.4,187.4 521.6,185.3 521.8,173.3 522.0,175.8 522.2,193.9 522.5,172.3 522.7,159.0 522.9,181.2 523.1,171.4 523.4,183.5 523.6,184.3 523.8,184.8 524.0,181.4 524.2,182.7 524.5,191.7 524.7,190.7 524.9,186.4 525.1,185.3 525.4,190.8 525.6,189.6 525.8,188.9 526.0,194.3 526.2,193.5 526.5,183.5 526.7,191.4 526.9,190.2 527.1,194.7 527.4,183.6 527.6,182.3 527.8,189.7 528.0,188.1 528.3,192.9 528.5,146.0 528.7,185.1 528.9,193.0 529.1,184.1 529.4,186.1 529.6,187.4 529.8,187.6 530.0,189.9 530.3,188.4 530.5,182.9 530.7,186.3 530.9,188.0 531.1,177.6 531.4,188.9 531.6,191.4 531.8,190.3 532.0,184.4 532.3,182.5 532.5,186.1 532.7,185.1 532.9,197.6 533.2,193.4 533.4,190.5 533.6,189.2 533.8,187.9 534.0,201.3 534.3,178.1 534.5,197.2 534.7,192.1 534.9,192.9 535.2,191.1 535.4,194.1 535.6,203.5" fill="none" stroke="#e48ae0" stroke-width="0.75" stroke-opacity="0.4" stroke-linejoin="round" />
<polyline points="313.2,169.9 313.6,167.4 314.1,170.0 314.5,169.3 315.0,172.2 315.4,163.7 315.9,171.1 316.3,170.5 316.8,169.3 317.2,168.5 317.7,168.5 318.1,171.3 318.5,165.2 319.0,165.2 319.4,173.6 319.9,168.5 320.3,163.3 320.8,166.6 321.2,168.6 321.7,169.8 322.1,169.7 322.6,170.5 323.0,168.3 323.4,168.4 323.9,173.9 324.3,169.4 324.8,172.2 325.2,172.1 325.7,168.8 326.1,168.5 326.6,168.1 327.0,167.5 327.4,171.0 327.9,171.1 328.3,169.0 328.8,172.3 329.2,173.5 329.7,168.3 330.1,170.0 330.6,169.9 331.0,164.7 331.5,167.5 331.9,165.4 332.3,169.8 332.8,160.4 333.2,163.5 333.7,161.2 334.1,164.4 334.6,167.3 335.0,166.4 335.5,163.9 335.9,162.7 336.4,158.3 336.8,161.6 337.2,156.2 337.7,160.1 338.1,160.4 338.6,155.5 339.0,161.6 339.5,158.9 339.9,163.8 340.4,164.2 340.8,159.3 341.3,164.1 341.7,169.2 342.1,165.3 342.6,162.3 343.0,163.2 343.5,157.5 343.9,161.9 344.4,160.5 344.8,166.0 345.3,175.4 345.7,167.5 346.1,173.6 346.6,177.2 347.0,179.7 347.5,181.4 347.9,183.6 348.4,185.2 348.8,190.6 349.3,189.7 349.7,188.9 350.2,189.5 350.6,187.9 351.0,190.4 351.5,188.8 351.9,188.3 352.4,191.9 352.8,191.5 353.3,188.2 353.7,191.3 354.2,190.3 354.6,188.3 355.1,189.2 355.5,190.4 355.9,190.1 356.4,189.7 356.8,189.2 357.3,188.8 357.7,190.4 358.2,189.4 358.6,188.9 359.1,192.5 359.5,191.8 360.0,189.8 360.4,190.6 360.8,189.5 361.3,191.5 361.7,188.0 362.2,187.4 362.6,190.3 363.1,190.1 363.5,190.7 364.0,189.4 364.4,190.9 364.8,186.0 365.3,189.9 365.7,192.9 366.2,191.3 366.6,192.8 367.1,189.9 367.5,188.7 368.0,191.9 368.4,191.3 368.9,189.9 369.3,191.2 369.7,191.2 370.2,187.9 370.6,190.4 371.1,190.3 371.5,189.8 372.0,190.9 372.4,191.0 372.9,192.6 373.3,191.4 373.8,189.9 374.2,188.0 374.6,188.7 375.1,187.9 375.5,191.2 376.0,188.4 376.4,191.8 376.9,192.8 377.3,191.7 377.8,189.2 378.2,189.1 378.7,189.0 379.1,191.1 379.5,191.7 380.0,187.3 380.4,188.5 380.9,187.7 381.3,189.6 381.8,191.0 382.2,188.5 382.7,188.9 383.1,189.8 383.5,191.8 384.0,189.8 384.4,190.9 384.9,188.9 385.3,189.5 385.8,188.2 386.2,189.4 386.7,189.6 387.1,190.8 387.6,189.2 388.0,190.7 388.4,188.3 388.9,186.5 389.3,190.5 389.8,188.3 390.2,187.6 390.7,186.5 391.1,188.8 391.6,187.3 392.0,187.2 392.5,186.8 392.9,187.4 393.3,183.0 393.8,178.5 394.2,178.1 394.7,179.6 395.1,180.8 395.6,179.5 396.0,177.7 396.5,178.9 396.9,176.4 397.4,177.3 397.8,178.7 398.2,177.4 398.7,179.6 399.1,175.5 399.6,177.2 400.0,176.6 400.5,175.3 400.9,178.9 401.4,179.7 401.8,176.9 402.2,179.2 402.7,177.0 403.1,177.7 403.6,183.4 404.0,189.5 404.5,194.0 404.9,189.7 405.4,190.5 405.8,191.8 406.3,188.9 406.7,190.6 407.1,191.4 407.6,192.7 408.0,191.0 408.5,191.7 408.9,190.1 409.4,190.7 409.8,188.9 410.3,188.7 410.7,191.3 411.2,191.0 411.6,189.9 412.0,193.5 412.5,192.1 412.9,192.8 413.4,191.3 413.8,192.3 414.3,192.2 414.7,190.7 415.2,184.6 415.6,183.7 416.1,184.3 416.5,186.2 416.9,188.1 417.4,190.8 417.8,190.4 418.3,187.5 418.7,190.6 419.2,191.5 419.6,192.5 420.1,191.6 420.5,190.8 420.9,190.0 421.4,191.8 421.8,193.1 422.3,190.9 422.7,193.3 423.2,192.5 423.6,192.1 424.1,194.6 424.5,191.8 425.0,192.7 425.4,189.7 425.8,190.3 426.3,191.4 426.7,191.6 427.2,192.9 427.6,191.4 428.1,192.8 428.5,189.3 429.0,191.8 429.4,191.2 429.9,192.7 430.3,189.3 430.7,191.7 431.2,190.7 431.6,192.9 432.1,189.7 432.5,188.1 433.0,189.8 433.4,188.9 433.9,191.1 434.3,191.4 434.8,193.4 435.2,191.8 435.6,190.6 436.1,187.3 436.5,191.6 437.0,190.9 437.4,190.8 437.9,189.5 438.3,186.0 438.8,178.4 439.2,175.1 439.6,178.0 440.1,179.6 440.5,182.8 441.0,175.8 441.4,173.5 441.9,170.3 442.3,167.6 442.8,171.0 443.2,173.5 443.7,178.5 444.1,177.4 444.5,172.2 445.0,167.8 445.4,160.9 445.9,158.3 446.3,162.5 446.8,171.1 447.2,174.4 447.7,164.3 448.1,162.3 448.6,156.5 449.0,151.2 449.4,160.8 449.9,164.3 450.3,172.0 450.8,173.2 451.2,170.0 451.7,166.2 452.1,162.7 452.6,163.6 453.0,167.7 453.5,172.8 453.9,173.9 454.3,178.5 454.8,172.7 455.2,165.6 455.7,158.8 456.1,157.4 456.6,167.2 457.0,176.3 457.5,183.1 457.9,186.2 458.3,188.0 458.8,191.8 459.2,191.9 459.7,190.2 460.1,191.7 460.6,188.9 461.0,191.9 461.5,188.7 461.9,189.9 462.4,192.4 462.8,190.0 463.2,192.7 463.7,189.2 464.1,190.6 464.6,190.7 465.0,191.5 465.5,189.3 465.9,191.8 466.4,190.7 466.8,189.8 467.3,190.2 467.7,190.7 468.1,191.8 468.6,191.3 469.0,191.8 469.5,188.3 469.9,191.6 470.4,194.9 470.8,192.0 471.3,192.1 471.7,188.9 472.2,189.7 472.6,190.7 473.0,191.2 473.5,190.8 473.9,190.2 474.4,186.7 474.8,191.5 475.3,191.9 475.7,191.6 476.2,192.1 476.6,192.1 477.1,190.6 477.5,192.5 477.9,192.0 478.4,190.8 478.8,192.1 479.3,189.3 479.7,190.2 480.2,191.9 480.6,188.3 481.1,191.6 481.5,191.3 481.9,191.7 482.4,190.6 482.8,188.9 483.3,194.0 483.7,191.9 484.2,188.3 484.6,191.2 485.1,189.3 485.5,190.5 486.0,193.0 486.4,192.8 486.8,190.1 487.3,189.6 487.7,193.9 488.2,192.8 488.6,192.6 489.1,192.2 489.5,192.8 490.0,191.1 490.4,191.7 490.9,193.7 491.3,193.1 491.7,190.9 492.2,190.6 492.6,192.0 493.1,189.9 493.5,191.0 494.0,191.3 494.4,189.9 494.9,191.5 495.3,191.1 495.8,190.9 496.2,190.6 496.6,192.8 497.1,193.9 497.5,192.3 498.0,186.5 498.4,189.0 498.9,191.5 499.3,190.6 499.8,189.9 500.2,193.0 500.6,189.4 501.1,190.2 501.5,190.7 502.0,191.2 502.4,191.0 502.9,189.4 503.3,192.4 503.8,190.1 504.2,191.4 504.7,191.7 505.1,191.4 505.5,189.1 506.0,192.9 506.4,189.9 506.9,192.3 507.3,190.1 507.8,193.1 508.2,190.5 508.7,191.4 509.1,187.2 509.6,187.9 510.0,189.0 510.4,190.6 510.9,193.2 511.3,191.8 511.8,188.7 512.2,190.4 512.7,192.8 513.1,190.6 513.6,192.1 514.0,191.8 514.5,188.6 514.9,187.9 515.3,188.5 515.8,189.6 516.2,186.3 516.7,191.8 517.1,191.2 517.6,191.1 518.0,189.1 518.5,191.1 518.9,191.2 519.3,190.9 519.8,191.9 520.2,190.5 520.7,191.1 521.1,187.2 521.6,194.1 522.0,191.7 522.5,188.4 522.9,193.4 523.4,190.6 523.8,188.6 524.2,189.4 524.7,191.2 525.1,187.4 525.6,193.1 526.0,191.6 526.5,191.1 526.9,189.4 527.4,189.2 527.8,188.9 528.3,189.7 528.7,193.3 529.1,190.9 529.6,189.7 530.0,189.5 530.5,190.5 530.9,190.5 531.4,191.5 531.8,192.2 532.3,191.8 532.7,190.4 533.2,191.5 533.6,191.5 534.0,190.9 534.5,190.1 534.9,192.5 535.4,192.9" fill="none" stroke="#f52a4c" stroke-width="1.0" stroke-linejoin="round" />
<polyline points="313.2,134.3 313.6,132.3 314.1,131.1 314.5,126.5 315.0,125.6 315.4,133.0 315.9,138.7 316.3,139.9 316.8,142.0 317.2,146.3 317.7,151.6 318.1,152.8 318.5,155.9 319.0,144.7 319.4,134.9 319.9,134.5 320.3,137.6 320.8,132.6 321.2,130.0 321.7,128.4 322.1,133.4 322.6,127.1 323.0,134.5 323.4,140.9 323.9,137.1 324.3,135.2 324.8,137.9 325.2,142.6 325.7,146.8 326.1,142.7 326.6,141.7 327.0,134.8 327.4,133.6 327.9,138.3 328.3,143.4 328.8,142.0 329.2,149.1 329.7,147.3 330.1,153.9 330.6,150.5 331.0,148.4 331.5,152.1 331.9,147.6 332.3,153.5 332.8,139.4 333.2,142.5 333.7,140.4 334.1,146.8 334.6,147.9 335.0,149.7 335.5,157.3 335.9,152.4 336.4,144.9 336.8,149.3 337.2,146.9 337.7,149.2 338.1,145.7 338.6,144.3 339.0,141.4 339.5,151.4 339.9,144.3 340.4,152.8 340.8,147.0 341.3,153.3 341.7,144.7 342.1,149.3 342.6,146.5 343.0,143.2 343.5,148.5 343.9,144.5 344.4,151.0 344.8,145.7 345.3,147.2 345.7,150.9 346.1,165.2 346.6,194.1 347.0,196.2 347.5,195.7 347.9,195.7 348.4,197.5 348.8,194.0 349.3,195.7 349.7,194.1 350.2,192.2 350.6,195.4 351.0,195.2 351.5,195.1 351.9,197.1 352.4,195.7 352.8,194.9 353.3,194.1 353.7,196.2 354.2,193.2 354.6,196.5 355.1,197.3 355.5,196.0 355.9,193.8 356.4,196.2 356.8,194.8 357.3,194.7 357.7,193.6 358.2,195.9 358.6,196.3 359.1,197.2 359.5,196.3 360.0,195.2 360.4,196.1 360.8,196.1 361.3,196.7 361.7,196.3 362.2,196.1 362.6,195.9 363.1,196.7 363.5,197.6 364.0,197.2 364.4,195.8 364.8,196.2 365.3,196.1 365.7,197.6 366.2,196.7 366.6,196.3 367.1,195.8 367.5,194.3 368.0,198.0 368.4,196.4 368.9,196.4 369.3,195.8 369.7,195.5 370.2,197.3 370.6,195.7 371.1,197.3 371.5,198.2 372.0,196.6 372.4,196.6 372.9,195.0 373.3,197.1 373.8,199.0 374.2,196.0 374.6,195.2 375.1,198.1 375.5,194.9 376.0,196.3 376.4,196.9 376.9,195.6 377.3,197.8 377.8,197.2 378.2,195.4 378.7,195.3 379.1,196.6 379.5,193.4 380.0,196.4 380.4,196.5 380.9,195.9 381.3,194.1 381.8,195.2 382.2,195.7 382.7,196.0 383.1,196.6 383.5,197.6 384.0,198.0 384.4,195.6 384.9,197.2 385.3,196.4 385.8,197.4 386.2,196.7 386.7,194.2 387.1,195.1 387.6,195.5 388.0,195.3 388.4,198.1 388.9,197.4 389.3,197.4 389.8,196.0 390.2,195.6 390.7,196.9 391.1,195.7 391.6,195.5 392.0,194.6 392.5,194.9 392.9,195.5 393.3,195.2 393.8,196.3 394.2,195.8 394.7,194.5 395.1,195.6 395.6,192.9 396.0,196.8 396.5,197.0 396.9,195.6 397.4,196.1 397.8,195.4 398.2,195.1 398.7,196.3 399.1,195.9 399.6,194.5 400.0,194.9 400.5,195.4 400.9,195.9 401.4,196.0 401.8,196.6 402.2,197.0 402.7,196.4 403.1,196.7 403.6,194.0 404.0,193.5 404.5,198.2 404.9,196.5 405.4,196.7 405.8,193.6 406.3,193.9 406.7,194.8 407.1,194.9 407.6,194.0 408.0,193.4 408.5,194.3 408.9,192.4 409.4,192.2 409.8,194.2 410.3,193.7 410.7,195.4 411.2,195.2 411.6,192.9 412.0,192.1 412.5,193.9 412.9,192.4 413.4,191.3 413.8,193.1 414.3,194.2 414.7,193.1 415.2,192.6 415.6,190.8 416.1,191.5 416.5,194.0 416.9,190.6 417.4,186.4 417.8,182.0 418.3,182.8 418.7,182.8 419.2,182.1 419.6,181.7 420.1,183.0 420.5,181.1 420.9,179.1 421.4,181.0 421.8,182.1 422.3,184.2 422.7,181.2 423.2,182.1 423.6,181.9 424.1,183.0 424.5,184.2 425.0,183.6 425.4,184.5 425.8,183.4 426.3,181.6 426.7,183.9 427.2,180.8 427.6,183.9 428.1,181.7 428.5,181.4 429.0,181.6 429.4,184.1 429.9,179.1 430.3,182.2 430.7,183.5 431.2,184.6 431.6,183.2 432.1,181.6 432.5,181.7 433.0,179.7 433.4,181.2 433.9,182.5 434.3,181.6 434.8,180.6 435.2,181.7 435.6,182.8 436.1,184.6 436.5,184.3 437.0,184.8 437.4,187.6 437.9,189.3 438.3,185.9 438.8,186.6 439.2,185.6 439.6,183.7 440.1,184.6 440.5,182.8 441.0,183.7 441.4,187.0 441.9,184.8 442.3,182.9 442.8,182.5 443.2,184.4 443.7,184.3 444.1,185.6 444.5,187.1 445.0,183.9 445.4,185.3 445.9,183.8 446.3,181.8 446.8,184.1 447.2,180.0 447.7,181.7 448.1,181.6 448.6,184.1 449.0,179.9 449.4,182.5 449.9,182.5 450.3,182.1 450.8,180.9 451.2,179.6 451.7,181.8 452.1,183.1 452.6,182.2 453.0,178.5 453.5,181.9 453.9,183.4 454.3,180.8 454.8,182.4 455.2,180.9 455.7,180.9 456.1,181.3 456.6,182.1 457.0,184.4 457.5,183.3 457.9,181.4 458.3,183.4 458.8,182.8 459.2,184.1 459.7,181.2 460.1,183.2 460.6,182.9 461.0,185.2 461.5,180.4 461.9,180.8 462.4,185.1 462.8,183.2 463.2,182.3 463.7,183.3 464.1,183.6 464.6,183.9 465.0,184.2 465.5,182.3 465.9,183.5 466.4,182.4 466.8,185.5 467.3,182.6 467.7,183.3 468.1,184.1 468.6,186.2 469.0,184.7 469.5,188.2 469.9,185.3 470.4,184.2 470.8,186.6 471.3,184.3 471.7,180.9 472.2,183.7 472.6,184.7 473.0,183.3 473.5,181.8 473.9,182.9 474.4,183.7 474.8,184.2 475.3,182.3 475.7,181.1 476.2,182.5 476.6,184.5 477.1,182.6 477.5,182.5 477.9,183.7 478.4,183.8 478.8,182.1 479.3,181.0 479.7,184.1 480.2,184.4 480.6,181.2 481.1,183.1 481.5,182.5 481.9,182.9 482.4,183.2 482.8,182.5 483.3,183.9 483.7,182.1 484.2,183.1 484.6,182.1 485.1,183.1 485.5,183.2 486.0,183.7 486.4,183.8 486.8,183.8 487.3,182.5 487.7,183.1 488.2,184.8 488.6,182.5 489.1,183.4 489.5,182.7 490.0,179.8 490.4,184.0 490.9,181.7 491.3,183.4 491.7,185.9 492.2,182.5 492.6,182.4 493.1,182.4 493.5,183.6 494.0,183.4 494.4,182.8 494.9,184.0 495.3,183.8 495.8,183.2 496.2,183.5 496.6,181.9 497.1,183.4 497.5,182.5 498.0,182.8 498.4,183.0 498.9,182.0 499.3,183.4 499.8,183.9 500.2,184.8 500.6,183.1 501.1,182.3 501.5,181.4 502.0,183.7 502.4,184.8 502.9,182.2 503.3,183.4 503.8,183.3 504.2,181.2 504.7,179.1 505.1,184.4 505.5,183.7 506.0,185.9 506.4,185.4 506.9,184.1 507.3,188.4 507.8,187.7 508.2,187.7 508.7,188.3 509.1,189.7 509.6,187.8 510.0,187.6 510.4,184.5 510.9,186.5 511.3,184.2 511.8,185.3 512.2,181.8 512.7,183.2 513.1,182.7 513.6,184.7 514.0,184.8 514.5,183.0 514.9,186.1 515.3,187.0 515.8,188.5 516.2,187.8 516.7,189.4 517.1,191.1 517.6,192.3 518.0,190.2 518.5,188.9 518.9,190.2 519.3,188.3 519.8,187.4 520.2,188.0 520.7,187.4 521.1,187.6 521.6,186.1 522.0,184.0 522.5,184.5 522.9,187.3 523.4,185.3 523.8,185.7 524.2,185.9 524.7,190.5 525.1,188.8 525.6,188.7 526.0,189.6 526.5,191.1 526.9,191.0 527.4,189.9 527.8,189.0 528.3,189.8 528.7,189.7 529.1,190.2 529.6,189.6 530.0,187.2 530.5,186.1 530.9,183.9 531.4,188.2 531.8,187.4 532.3,187.3 532.7,189.5 533.2,192.0 533.6,189.5 534.0,192.2 534.5,193.5 534.9,197.0 535.4,195.5" fill="none" stroke="#a0189c" stroke-width="0.85" stroke-linejoin="round" />
</g>
<rect x="313.2" y="77.6" width="222.40000000000003" height="125.9" fill="none" stroke="#cdcdcd" stroke-width="0.95"/>
<text x="311.0" y="205.8" class="tk" text-anchor="end">3</text>
<text x="311.0" y="184.8" class="tk" text-anchor="end">4</text>
<text x="311.0" y="163.8" class="tk" text-anchor="end">5</text>
<text x="311.0" y="142.9" class="tk" text-anchor="end">6</text>
<text x="311.0" y="121.9" class="tk" text-anchor="end">7</text>
<text x="311.0" y="100.9" class="tk" text-anchor="end">8</text>
<text x="311.0" y="79.9" class="tk" text-anchor="end">9</text>
<text x="313.2" y="211.1" class="tk" text-anchor="middle">0</text>
<text x="357.7" y="211.1" class="tk" text-anchor="middle">200</text>
<text x="402.2" y="211.1" class="tk" text-anchor="middle">400</text>
<text x="446.6" y="211.1" class="tk" text-anchor="middle">600</text>
<text x="491.1" y="211.1" class="tk" text-anchor="middle">800</text>
<text x="535.6" y="211.1" class="tk" text-anchor="middle">1000</text>
<text x="424.4" y="218.1" class="tk" text-anchor="middle">Time (ns)</text>
<text class="tk yl" transform="translate(302.6,140.3) rotate(-90)" text-anchor="middle">Distance (Å)</text>
<rect x="492" y="80.5" width="39.8" height="23" rx="1.5" fill="#fff" fill-opacity="0.8" stroke="#e6e6e6" stroke-width="0.6"/>
<line x1="494.5" y1="86.7" x2="508.8" y2="86.7" stroke="#d890d8" stroke-width="1"/>
<line x1="494.5" y1="96.8" x2="508.8" y2="96.8" stroke="#ffa0a8" stroke-width="1"/>
<text class="lg" x="513.8" y="89.1">MD1</text>
<text class="lg" x="513.8" y="99.2">MD2</text>
<!-- Panel C -->
<text class="ttl" x="137.1" y="303" text-anchor="middle">M-network distances - MD1</text>
<g clip-path="url(#cC)">
<polygon points="26.0,414.5 26.2,413.6 26.4,413.3 26.7,414.2 26.9,414.5 27.1,414.7 27.3,414.2 27.6,414.3 27.8,413.9 28.0,415.2 28.2,413.8 28.4,414.1 28.7,413.8 28.9,414.1 29.1,414.4 29.3,414.0 29.6,413.6 29.8,414.0 30.0,414.2 30.2,413.8 30.4,414.5 30.7,415.2 30.9,414.4 31.1,414.7 31.3,415.5 31.6,415.3 31.8,415.0 32.0,415.2 32.2,415.5 32.4,414.8 32.7,413.9 32.9,414.1 33.1,414.5 33.3,414.0 33.6,413.6 33.8,413.9 34.0,413.6 34.2,413.1 34.4,413.7 34.7,414.3 34.9,413.9 35.1,413.8 35.3,413.2 35.6,414.4 35.8,414.7 36.0,414.9 36.2,415.6 36.4,414.8 36.7,414.2 36.9,414.7 37.1,413.7 37.3,413.6 37.6,413.6 37.8,413.8 38.0,413.6 38.2,414.9 38.5,414.4 38.7,414.2 38.9,415.5 39.1,414.9 39.3,415.0 39.6,414.5 39.8,414.9 40.0,414.9 40.2,414.7 40.5,415.4 40.7,414.9 40.9,415.0 41.1,414.8 41.3,415.3 41.6,414.6 41.8,414.6 42.0,415.1 42.2,414.8 42.5,414.4 42.7,413.8 42.9,415.6 43.1,415.0 43.3,415.0 43.6,415.4 43.8,416.1 44.0,415.1 44.2,416.1 44.5,415.5 44.7,414.8 44.9,416.1 45.1,416.1 45.3,416.6 45.6,416.0 45.8,414.9 46.0,414.0 46.2,415.9 46.5,416.1 46.7,415.4 46.9,414.6 47.1,414.8 47.3,415.7 47.6,415.5 47.8,415.5 48.0,415.7 48.2,416.1 48.5,415.6 48.7,415.4 48.9,415.6 49.1,415.7 49.3,416.4 49.6,416.3 49.8,415.2 50.0,415.5 50.2,416.4 50.5,415.2 50.7,415.1 50.9,414.1 51.1,414.8 51.3,415.5 51.6,416.4 51.8,415.2 52.0,413.9 52.2,415.2 52.5,415.8 52.7,415.4 52.9,416.0 53.1,415.9 53.3,416.0 53.6,415.7 53.8,415.0 54.0,415.3 54.2,414.9 54.5,415.5 54.7,415.4 54.9,416.8 55.1,417.0 55.3,415.8 55.6,416.1 55.8,415.5 56.0,415.2 56.2,414.6 56.5,414.6 56.7,414.5 56.9,415.1 57.1,415.8 57.3,416.1 57.6,416.2 57.8,416.6 58.0,416.4 58.2,416.1 58.5,415.7 58.7,415.8 58.9,416.9 59.1,416.3 59.3,415.8 59.6,415.0 59.8,415.0 60.0,415.6 60.2,416.0 60.5,414.6 60.7,414.6 60.9,414.0 61.1,413.5 61.3,415.0 61.6,415.0 61.8,415.0 62.0,414.9 62.2,414.8 62.5,415.0 62.7,415.1 62.9,416.2 63.1,415.9 63.4,416.1 63.6,415.7 63.8,415.8 64.0,415.2 64.2,414.8 64.5,414.9 64.7,414.9 64.9,415.1 65.1,415.4 65.4,415.5 65.6,415.7 65.8,415.2 66.0,415.2 66.2,414.9 66.5,415.8 66.7,415.0 66.9,415.6 67.1,415.8 67.4,415.6 67.6,415.7 67.8,415.3 68.0,415.5 68.2,416.0 68.5,416.1 68.7,414.8 68.9,414.9 69.1,415.7 69.4,415.4 69.6,416.2 69.8,414.5 70.0,415.7 70.2,415.1 70.5,414.7 70.7,415.7 70.9,415.2 71.1,414.5 71.4,414.5 71.6,414.6 71.8,414.2 72.0,414.5 72.2,414.5 72.5,414.8 72.7,414.5 72.9,415.2 73.1,414.6 73.4,415.0 73.6,415.6 73.8,415.0 74.0,413.9 74.2,413.8 74.5,414.6 74.7,414.3 74.9,414.8 75.1,414.9 75.4,414.8 75.6,416.1 75.8,415.3 76.0,415.6 76.2,415.6 76.5,416.0 76.7,416.3 76.9,416.0 77.1,414.9 77.4,413.8 77.6,414.2 77.8,413.8 78.0,414.4 78.2,415.6 78.5,415.0 78.7,414.6 78.9,414.8 79.1,414.5 79.4,414.2 79.6,414.9 79.8,415.6 80.0,415.2 80.2,415.0 80.5,415.0 80.7,414.1 80.9,413.3 81.1,414.1 81.4,413.9 81.6,413.6 81.8,413.6 82.0,413.4 82.2,414.1 82.5,413.8 82.7,412.9 82.9,413.1 83.1,414.1 83.4,413.8 83.6,413.3 83.8,413.5 84.0,414.2 84.2,413.3 84.5,414.4 84.7,414.0 84.9,414.0 85.1,414.8 85.4,413.7 85.6,413.6 85.8,414.5 86.0,413.9 86.2,414.2 86.5,415.2 86.7,415.0 86.9,414.3 87.1,413.7 87.4,413.7 87.6,413.7 87.8,413.5 88.0,413.8 88.3,413.1 88.5,413.3 88.7,413.3 88.9,413.2 89.1,414.1 89.4,414.3 89.6,413.0 89.8,413.1 90.0,413.5 90.3,413.3 90.5,413.7 90.7,413.4 90.9,413.9 91.1,413.5 91.4,414.4 91.6,413.1 91.8,413.6 92.0,414.4 92.3,414.0 92.5,413.9 92.7,413.5 92.9,414.1 93.1,413.5 93.4,411.3 93.6,413.1 93.8,413.0 94.0,413.4 94.3,413.3 94.5,414.4 94.7,414.6 94.9,413.8 95.1,413.6 95.4,412.6 95.6,413.5 95.8,413.4 96.0,411.7 96.3,413.1 96.5,413.8 96.7,413.7 96.9,413.7 97.1,413.1 97.4,413.3 97.6,413.9 97.8,413.6 98.0,412.0 98.3,412.1 98.5,414.5 98.7,414.2 98.9,414.4 99.1,413.7 99.4,413.8 99.6,412.6 99.8,412.6 100.0,412.6 100.3,413.1 100.5,413.4 100.7,413.4 100.9,412.8 101.1,413.0 101.4,413.6 101.6,412.9 101.8,413.3 102.0,413.6 102.3,414.2 102.5,414.3 102.7,414.5 102.9,415.8 103.1,414.2 103.4,413.7 103.6,413.9 103.8,413.3 104.0,413.4 104.3,413.4 104.5,415.2 104.7,414.7 104.9,414.0 105.1,413.0 105.4,412.4 105.6,412.4 105.8,413.9 106.0,415.3 106.3,414.3 106.5,414.2 106.7,413.5 106.9,413.9 107.1,413.9 107.4,414.9 107.6,414.2 107.8,414.4 108.0,414.1 108.3,413.8 108.5,414.1 108.7,413.9 108.9,414.1 109.1,413.7 109.4,413.6 109.6,414.2 109.8,414.6 110.0,413.4 110.3,413.9 110.5,413.5 110.7,413.6 110.9,414.3 111.1,414.7 111.4,414.4 111.6,414.2 111.8,413.9 112.0,414.9 112.3,415.0 112.5,414.7 112.7,413.6 112.9,415.4 113.2,414.6 113.4,414.8 113.6,414.4 113.8,414.7 114.0,414.3 114.3,413.5 114.5,413.8 114.7,413.9 114.9,413.9 115.2,414.6 115.4,414.2 115.6,414.5 115.8,415.0 116.0,414.7 116.3,414.7 116.5,414.2 116.7,414.3 116.9,414.7 117.2,413.7 117.4,413.5 117.6,413.2 117.8,413.5 118.0,414.0 118.3,414.5 118.5,414.7 118.7,414.0 118.9,414.2 119.2,415.2 119.4,414.9 119.6,415.5 119.8,414.9 120.0,415.4 120.3,415.7 120.5,415.0 120.7,414.8 120.9,415.6 121.2,414.6 121.4,413.2 121.6,414.7 121.8,413.5 122.0,414.4 122.3,414.7 122.5,414.7 122.7,415.4 122.9,414.2 123.2,414.0 123.4,414.7 123.6,414.7 123.8,415.5 124.0,415.2 124.3,414.3 124.5,415.4 124.7,415.2 124.9,414.7 125.2,414.0 125.4,413.4 125.6,414.2 125.8,414.8 126.0,414.4 126.3,414.6 126.5,414.7 126.7,414.0 126.9,413.2 127.2,413.7 127.4,414.2 127.6,414.0 127.8,415.3 128.0,414.9 128.3,415.3 128.5,413.5 128.7,413.5 128.9,413.9 129.2,414.3 129.4,415.9 129.6,414.7 129.8,413.6 130.0,414.5 130.3,414.1 130.5,413.8 130.7,415.1 130.9,414.2 131.2,413.5 131.4,413.9 131.6,414.2 131.8,413.9 132.0,415.1 132.3,414.7 132.5,414.0 132.7,415.0 132.9,414.1 133.2,414.5 133.4,415.7 133.6,415.2 133.8,415.4 134.0,414.7 134.3,415.3 134.5,414.3 134.7,414.8 134.9,414.4 135.2,414.8 135.4,414.8 135.6,413.9 135.8,414.1 136.0,414.5 136.3,415.2 136.5,414.2 136.7,413.9 136.9,414.4 137.2,414.3 137.4,415.0 137.6,415.3 137.8,415.4 138.1,414.7 138.3,414.4 138.5,414.9 138.7,414.3 138.9,413.9 139.2,414.1 139.4,413.7 139.6,414.3 139.8,414.4 140.1,414.2 140.3,414.4 140.5,414.0 140.7,415.0 140.9,413.9 141.2,414.7 141.4,414.7 141.6,415.4 141.8,414.6 142.1,413.8 142.3,413.5 142.5,413.5 142.7,415.0 142.9,415.2 143.2,415.1 143.4,415.4 143.6,414.3 143.8,414.3 144.1,414.4 144.3,414.2 144.5,414.9 144.7,415.3 144.9,415.4 145.2,414.7 145.4,414.4 145.6,414.1 145.8,413.7 146.1,414.9 146.3,415.1 146.5,414.7 146.7,415.5 146.9,415.3 147.2,414.3 147.4,413.8 147.6,413.6 147.8,414.0 148.1,414.4 148.3,413.9 148.5,414.4 148.7,414.3 148.9,413.7 149.2,414.3 149.4,414.8 149.6,414.7 149.8,414.3 150.1,414.2 150.3,414.3 150.5,414.1 150.7,415.3 150.9,415.5 151.2,414.9 151.4,415.3 151.6,415.8 151.8,415.9 152.1,415.8 152.3,415.3 152.5,415.6 152.7,415.0 152.9,413.8 153.2,414.3 153.4,413.7 153.6,414.0 153.8,415.0 154.1,415.0 154.3,415.4 154.5,414.6 154.7,415.3 154.9,414.2 155.2,414.1 155.4,415.6 155.6,414.6 155.8,413.7 156.1,414.7 156.3,414.1 156.5,415.4 156.7,414.9 156.9,415.8 157.2,414.9 157.4,415.9 157.6,416.8 157.8,415.5 158.1,413.7 158.3,414.6 158.5,414.1 158.7,414.3 158.9,414.7 159.2,414.3 159.4,413.5 159.6,414.8 159.8,414.4 160.1,414.3 160.3,415.3 160.5,414.0 160.7,413.2 160.9,414.5 161.2,413.5 161.4,414.0 161.6,414.4 161.8,413.6 162.1,414.0 162.3,414.1 162.5,413.4 162.7,413.2 163.0,413.4 163.2,414.8 163.4,415.6 163.6,414.4 163.8,415.0 164.1,414.7 164.3,415.2 164.5,415.0 164.7,415.5 165.0,414.0 165.2,414.9 165.4,414.7 165.6,414.7 165.8,413.9 166.1,415.0 166.3,414.7 166.5,414.7 166.7,414.2 167.0,414.0 167.2,414.5 167.4,414.3 167.6,414.6 167.8,414.2 168.1,414.3 168.3,414.7 168.5,414.6 168.7,414.2 169.0,412.9 169.2,413.9 169.4,413.9 169.6,413.3 169.8,415.0 170.1,415.7 170.3,415.7 170.5,415.1 170.7,413.2 171.0,413.5 171.2,413.2 171.4,413.8 171.6,415.5 171.8,416.2 172.1,414.6 172.3,414.3 172.5,415.0 172.7,407.1 173.0,408.1 173.2,407.1 173.4,406.3 173.6,407.3 173.8,408.0 174.1,407.1 174.3,407.9 174.5,407.1 174.7,407.9 175.0,407.1 175.2,407.1 175.4,407.5 175.6,407.9 175.8,407.4 176.1,408.5 176.3,408.0 176.5,407.9 176.7,407.1 177.0,407.9 177.2,406.5 177.4,407.1 177.6,407.8 177.8,406.7 178.1,405.9 178.3,406.7 178.5,407.4 178.7,407.3 179.0,407.6 179.2,407.6 179.4,406.4 179.6,406.5 179.8,406.7 180.1,406.7 180.3,406.9 180.5,406.5 180.7,406.3 181.0,406.9 181.2,406.9 181.4,405.5 181.6,406.0 181.8,406.6 182.1,405.6 182.3,406.3 182.5,407.3 182.7,406.7 183.0,407.4 183.2,407.5 183.4,407.0 183.6,407.1 183.8,407.4 184.1,407.5 184.3,407.6 184.5,406.5 184.7,407.1 185.0,407.3 185.2,405.9 185.4,406.7 185.6,405.9 185.8,405.6 186.1,406.3 186.3,407.4 186.5,406.8 186.7,406.4 187.0,406.0 187.2,406.3 187.4,405.8 187.6,405.5 187.9,406.7 188.1,405.9 188.3,406.2 188.5,406.8 188.7,406.9 189.0,405.7 189.2,405.6 189.4,407.2 189.6,406.8 189.9,406.8 190.1,406.8 190.3,407.0 190.5,407.7 190.7,406.6 191.0,407.1 191.2,407.1 191.4,407.2 191.6,407.3 191.9,406.5 192.1,406.2 192.3,406.8 192.5,407.2 192.7,407.1 193.0,406.2 193.2,406.3 193.4,406.2 193.6,406.5 193.9,406.6 194.1,406.4 194.3,407.5 194.5,406.0 194.7,406.6 195.0,406.8 195.2,405.8 195.4,405.9 195.6,406.1 195.9,406.6 196.1,407.4 196.3,406.7 196.5,405.8 196.7,406.6 197.0,405.6 197.2,406.6 197.4,406.8 197.6,406.2 197.9,406.2 198.1,405.8 198.3,406.4 198.5,406.9 198.7,407.6 199.0,407.6 199.2,407.5 199.4,407.7 199.6,406.7 199.9,406.8 200.1,407.6 200.3,405.4 200.5,406.2 200.7,406.9 201.0,405.7 201.2,405.2 201.4,406.3 201.6,407.0 201.9,407.1 202.1,405.9 202.3,406.1 202.5,406.5 202.7,406.3 203.0,405.4 203.2,406.5 203.4,406.4 203.6,407.0 203.9,405.2 204.1,404.4 204.3,404.6 204.5,405.3 204.7,405.2 205.0,406.8 205.2,406.2 205.4,406.8 205.6,407.1 205.9,406.9 206.1,406.6 206.3,405.8 206.5,405.4 206.7,405.4 207.0,406.2 207.2,405.6 207.4,405.7 207.6,405.1 207.9,406.0 208.1,407.5 208.3,406.9 208.5,405.0 208.7,405.1 209.0,405.5 209.2,405.1 209.4,405.1 209.6,405.1 209.9,405.7 210.1,405.6 210.3,405.5 210.5,406.0 210.7,406.5 211.0,406.0 211.2,405.2 211.4,405.0 211.6,405.0 211.9,405.0 212.1,403.8 212.3,404.5 212.5,404.4 212.8,403.8 213.0,404.7 213.2,405.0 213.4,404.6 213.6,404.1 213.9,404.6 214.1,404.9 214.3,405.1 214.5,406.0 214.8,405.1 215.0,405.5 215.2,406.5 215.4,406.1 215.6,406.8 215.9,406.7 216.1,406.1 216.3,406.3 216.5,405.2 216.8,406.2 217.0,405.7 217.2,405.2 217.4,404.4 217.6,404.4 217.9,404.7 218.1,405.0 218.3,405.2 218.5,404.6 218.8,405.4 219.0,405.0 219.2,405.2 219.4,404.2 219.6,403.3 219.9,400.8 220.1,400.7 220.3,399.5 220.5,398.3 220.8,397.0 221.0,395.8 221.2,394.7 221.4,393.2 221.6,395.3 221.9,396.1 222.1,397.7 222.3,398.2 222.5,399.8 222.8,401.0 223.0,401.5 223.2,401.5 223.4,402.4 223.6,403.6 223.9,403.1 224.1,404.2 224.3,405.4 224.5,405.1 224.8,404.8 225.0,403.8 225.2,402.7 225.4,404.2 225.6,402.7 225.9,402.5 226.1,402.9 226.3,403.3 226.5,402.3 226.8,403.2 227.0,404.0 227.2,404.0 227.4,404.9 227.6,404.3 227.9,404.3 228.1,404.0 228.3,403.9 228.5,404.7 228.8,403.7 229.0,404.5 229.2,403.8 229.4,405.0 229.6,404.4 229.9,404.8 230.1,404.5 230.3,404.7 230.5,405.7 230.8,405.6 231.0,404.9 231.2,404.2 231.4,405.0 231.6,405.9 231.9,405.6 232.1,405.0 232.3,405.0 232.5,405.1 232.8,404.1 233.0,403.6 233.2,403.4 233.4,404.4 233.6,404.2 233.9,404.3 234.1,405.1 234.3,404.1 234.5,404.1 234.8,404.4 235.0,403.5 235.2,403.4 235.4,403.3 235.6,403.0 235.9,403.2 236.1,404.4 236.3,404.5 236.5,403.8 236.8,404.4 237.0,404.3 237.2,404.0 237.4,403.2 237.7,402.9 237.9,403.0 238.1,403.7 238.3,403.4 238.5,403.5 238.8,403.9 239.0,403.3 239.2,403.4 239.4,404.3 239.7,403.5 239.9,404.0 240.1,403.7 240.3,404.9 240.5,404.5 240.8,404.9 241.0,405.1 241.2,405.8 241.4,403.7 241.7,404.1 241.9,404.0 242.1,403.4 242.3,403.9 242.5,403.7 242.8,404.8 243.0,404.4 243.2,404.5 243.4,404.1 243.7,404.0 243.9,404.9 244.1,405.7 244.3,405.5 244.5,404.4 244.8,404.1 245.0,403.9 245.2,405.2 245.4,406.3 245.7,405.6 245.9,405.1 246.1,405.0 246.3,404.4 246.5,404.4 246.8,405.0 247.0,405.1 247.2,404.6 247.4,404.3 247.7,404.3 247.9,402.9 248.1,403.7 248.1,425.9 247.9,425.1 247.7,426.5 247.4,426.6 247.2,426.8 247.0,427.3 246.8,427.2 246.5,426.6 246.3,426.6 246.1,427.2 245.9,427.3 245.7,427.9 245.4,428.5 245.2,427.5 245.0,426.1 244.8,426.3 244.5,426.7 244.3,427.8 244.1,427.9 243.9,427.2 243.7,426.2 243.4,426.3 243.2,426.8 243.0,426.6 242.8,427.0 242.5,426.0 242.3,426.1 242.1,425.7 241.9,426.2 241.7,426.3 241.4,425.9 241.2,428.0 241.0,427.4 240.8,427.2 240.5,426.8 240.3,427.1 240.1,426.0 239.9,426.2 239.7,425.7 239.4,426.5 239.2,425.7 239.0,425.5 238.8,426.2 238.5,425.7 238.3,425.6 238.1,425.9 237.9,425.3 237.7,425.2 237.4,425.5 237.2,426.2 237.0,426.5 236.8,426.7 236.5,426.0 236.3,426.8 236.1,426.7 235.9,425.4 235.6,425.2 235.4,425.5 235.2,425.6 235.0,425.7 234.8,426.7 234.5,426.3 234.3,426.3 234.1,427.3 233.9,426.6 233.6,426.5 233.4,426.6 233.2,425.7 233.0,425.8 232.8,426.3 232.5,427.3 232.3,427.2 232.1,427.2 231.9,427.8 231.6,428.1 231.4,427.3 231.2,426.4 231.0,427.1 230.8,427.9 230.5,428.0 230.3,426.9 230.1,426.7 229.9,427.0 229.6,426.6 229.4,427.2 229.2,426.1 229.0,426.7 228.8,425.9 228.5,426.9 228.3,426.1 228.1,426.3 227.9,426.5 227.6,426.5 227.4,427.1 227.2,426.2 227.0,426.2 226.8,425.4 226.5,424.5 226.3,425.5 226.1,425.1 225.9,424.8 225.6,425.0 225.4,426.5 225.2,424.9 225.0,426.0 224.8,427.0 224.5,427.3 224.3,427.7 224.1,426.4 223.9,425.3 223.6,425.8 223.4,424.7 223.2,423.7 223.0,423.8 222.8,423.2 222.5,422.0 222.3,420.4 222.1,420.0 221.9,418.3 221.6,417.5 221.4,415.5 221.2,416.9 221.0,418.1 220.8,419.2 220.5,420.6 220.3,421.7 220.1,422.9 219.9,423.0 219.6,425.5 219.4,426.4 219.2,427.5 219.0,427.3 218.8,427.6 218.5,426.8 218.3,427.4 218.1,427.2 217.9,427.0 217.6,426.6 217.4,426.7 217.2,427.4 217.0,427.9 216.8,428.4 216.5,427.5 216.3,428.5 216.1,428.3 215.9,429.0 215.6,429.0 215.4,428.3 215.2,428.7 215.0,427.7 214.8,427.3 214.5,428.3 214.3,427.4 214.1,427.1 213.9,426.9 213.6,426.3 213.4,426.9 213.2,427.2 213.0,426.9 212.8,426.1 212.5,426.7 212.3,426.8 212.1,426.0 211.9,427.2 211.6,427.3 211.4,427.3 211.2,427.5 211.0,428.2 210.7,428.7 210.5,428.2 210.3,427.8 210.1,427.9 209.9,427.9 209.6,427.3 209.4,427.3 209.2,427.3 209.0,427.7 208.7,427.3 208.5,427.3 208.3,429.1 208.1,429.7 207.9,428.2 207.6,427.3 207.4,428.0 207.2,427.8 207.0,428.4 206.7,427.7 206.5,427.6 206.3,428.1 206.1,428.8 205.9,429.1 205.6,429.3 205.4,429.0 205.2,428.4 205.0,429.0 204.7,427.4 204.5,427.5 204.3,426.8 204.1,426.7 203.9,427.4 203.6,429.2 203.4,428.7 203.2,428.7 203.0,427.6 202.7,428.5 202.5,428.7 202.3,428.3 202.1,428.1 201.9,429.3 201.6,429.2 201.4,428.5 201.2,427.4 201.0,428.0 200.7,429.1 200.5,428.4 200.3,427.6 200.1,429.8 199.9,429.0 199.6,428.9 199.4,429.9 199.2,429.7 199.0,429.8 198.7,429.9 198.5,429.1 198.3,428.7 198.1,428.0 197.9,428.4 197.6,428.5 197.4,429.1 197.2,428.8 197.0,427.8 196.7,428.8 196.5,428.0 196.3,428.9 196.1,429.6 195.9,428.8 195.6,428.3 195.4,428.2 195.2,428.0 195.0,429.1 194.7,428.9 194.5,428.2 194.3,429.7 194.1,428.6 193.9,428.8 193.6,428.7 193.4,428.4 193.2,428.5 193.0,428.4 192.7,429.3 192.5,429.4 192.3,429.0 192.1,428.5 191.9,428.7 191.6,429.5 191.4,429.4 191.2,429.3 191.0,429.4 190.7,428.8 190.5,429.9 190.3,429.2 190.1,429.0 189.9,429.0 189.6,429.1 189.4,429.4 189.2,427.8 189.0,427.9 188.7,429.1 188.5,429.0 188.3,428.4 188.1,428.1 187.9,428.9 187.6,427.7 187.4,428.0 187.2,428.6 187.0,428.2 186.7,428.6 186.5,429.0 186.3,429.6 186.1,428.5 185.8,427.8 185.6,428.1 185.4,428.9 185.2,428.1 185.0,429.6 184.7,429.4 184.5,428.8 184.3,429.8 184.1,429.7 183.8,429.7 183.6,429.3 183.4,429.2 183.2,429.7 183.0,429.6 182.7,429.0 182.5,429.5 182.3,428.5 182.1,427.8 181.8,428.9 181.6,428.3 181.4,427.8 181.2,429.1 181.0,429.1 180.7,428.5 180.5,428.7 180.3,429.2 180.1,428.9 179.8,429.0 179.6,428.8 179.4,428.6 179.2,429.8 179.0,429.8 178.7,429.5 178.5,429.7 178.3,428.9 178.1,428.2 177.8,428.9 177.6,430.0 177.4,429.3 177.2,428.8 177.0,430.1 176.7,429.4 176.5,430.1 176.3,430.2 176.1,430.7 175.8,429.7 175.6,430.1 175.4,429.7 175.2,429.4 175.0,429.3 174.7,430.1 174.5,429.3 174.3,430.1 174.1,429.4 173.8,430.2 173.6,429.5 173.4,428.6 173.2,429.3 173.0,430.4 172.7,429.3 172.5,427.0 172.3,426.3 172.1,426.6 171.8,428.2 171.6,427.5 171.4,425.8 171.2,425.1 171.0,425.5 170.7,425.2 170.5,427.0 170.3,427.7 170.1,427.7 169.8,427.0 169.6,425.2 169.4,425.9 169.2,425.9 169.0,424.9 168.7,426.2 168.5,426.5 168.3,426.7 168.1,426.3 167.8,426.2 167.6,426.5 167.4,426.3 167.2,426.5 167.0,426.0 166.7,426.2 166.5,426.7 166.3,426.7 166.1,427.0 165.8,425.8 165.6,426.7 165.4,426.7 165.2,426.8 165.0,426.0 164.7,427.5 164.5,426.9 164.3,427.2 164.1,426.6 163.8,427.0 163.6,426.4 163.4,427.6 163.2,426.8 163.0,425.3 162.7,425.2 162.5,425.4 162.3,426.0 162.1,425.9 161.8,425.6 161.6,426.4 161.4,426.0 161.2,425.5 160.9,426.4 160.7,425.1 160.5,426.0 160.3,427.3 160.1,426.3 159.8,426.4 159.6,426.8 159.4,425.5 159.2,426.3 158.9,426.7 158.7,426.3 158.5,426.1 158.3,426.5 158.1,425.7 157.8,427.5 157.6,428.8 157.4,427.8 157.2,426.9 156.9,427.7 156.7,426.9 156.5,427.4 156.3,426.0 156.1,426.6 155.8,425.7 155.6,426.6 155.4,427.5 155.2,426.0 154.9,426.2 154.7,427.3 154.5,426.5 154.3,427.4 154.1,426.9 153.8,427.0 153.6,426.0 153.4,425.7 153.2,426.3 152.9,425.8 152.7,426.9 152.5,427.5 152.3,427.3 152.1,427.8 151.8,427.9 151.6,427.7 151.4,427.3 151.2,426.9 150.9,427.4 150.7,427.3 150.5,426.1 150.3,426.3 150.1,426.1 149.8,426.3 149.6,426.7 149.4,426.8 149.2,426.3 148.9,425.6 148.7,426.3 148.5,426.4 148.3,425.8 148.1,426.4 147.8,426.0 147.6,425.5 147.4,425.8 147.2,426.3 146.9,427.3 146.7,427.4 146.5,426.7 146.3,427.1 146.1,426.9 145.8,425.7 145.6,426.1 145.4,426.4 145.2,426.7 144.9,427.4 144.7,427.2 144.5,426.9 144.3,426.2 144.1,426.4 143.8,426.3 143.6,426.3 143.4,427.4 143.2,427.1 142.9,427.2 142.7,426.9 142.5,425.5 142.3,425.5 142.1,425.8 141.8,426.6 141.6,427.4 141.4,426.7 141.2,426.6 140.9,425.9 140.7,426.9 140.5,425.9 140.3,426.3 140.1,426.2 139.8,426.4 139.6,426.2 139.4,425.6 139.2,426.1 138.9,425.9 138.7,426.2 138.5,426.9 138.3,426.4 138.1,426.7 137.8,427.4 137.6,427.3 137.4,426.9 137.2,426.2 136.9,426.3 136.7,425.8 136.5,426.1 136.3,427.2 136.0,426.5 135.8,426.0 135.6,425.9 135.4,426.8 135.2,426.8 134.9,426.4 134.7,426.8 134.5,426.2 134.3,427.3 134.0,426.7 133.8,427.4 133.6,427.1 133.4,427.7 133.2,426.5 132.9,426.1 132.7,426.9 132.5,425.9 132.3,426.7 132.0,427.0 131.8,425.8 131.6,426.2 131.4,425.8 131.2,425.5 130.9,426.2 130.7,427.0 130.5,425.8 130.3,426.0 130.0,426.5 129.8,425.6 129.6,426.7 129.4,427.8 129.2,426.3 128.9,425.9 128.7,425.5 128.5,425.4 128.3,427.3 128.0,426.9 127.8,427.3 127.6,426.0 127.4,426.2 127.2,425.6 126.9,425.2 126.7,425.9 126.5,426.7 126.3,426.6 126.0,426.3 125.8,426.7 125.6,426.2 125.4,425.4 125.2,425.9 124.9,426.7 124.7,427.2 124.5,427.4 124.3,426.2 124.0,427.2 123.8,427.5 123.6,426.7 123.4,426.7 123.2,426.0 122.9,426.1 122.7,427.4 122.5,426.7 122.3,426.7 122.0,426.4 121.8,425.5 121.6,426.7 121.4,425.2 121.2,426.6 120.9,427.6 120.7,426.7 120.5,427.0 120.3,427.6 120.0,427.4 119.8,426.9 119.6,427.5 119.4,426.8 119.2,427.2 118.9,426.1 118.7,426.0 118.5,426.6 118.3,426.5 118.0,426.0 117.8,425.5 117.6,425.2 117.4,425.5 117.2,425.7 116.9,426.7 116.7,426.3 116.5,426.1 116.3,426.7 116.0,426.7 115.8,426.9 115.6,426.4 115.4,426.2 115.2,426.6 114.9,425.9 114.7,425.8 114.5,425.7 114.3,425.4 114.0,426.3 113.8,426.7 113.6,426.3 113.4,426.8 113.2,426.6 112.9,427.4 112.7,425.6 112.5,426.7 112.3,426.9 112.0,426.8 111.8,425.9 111.6,426.2 111.4,426.4 111.1,426.7 110.9,426.3 110.7,425.6 110.5,425.4 110.3,425.8 110.0,425.3 109.8,426.5 109.6,426.2 109.4,425.6 109.1,425.6 108.9,426.0 108.7,425.9 108.5,426.0 108.3,425.8 108.0,426.0 107.8,426.4 107.6,426.2 107.4,426.8 107.1,425.8 106.9,425.8 106.7,425.5 106.5,426.1 106.3,426.3 106.0,427.2 105.8,425.8 105.6,424.3 105.4,424.4 105.1,425.0 104.9,426.0 104.7,426.7 104.5,427.1 104.3,425.4 104.0,425.3 103.8,425.3 103.6,425.9 103.4,425.7 103.1,426.2 102.9,427.8 102.7,426.4 102.5,426.3 102.3,426.1 102.0,425.6 101.8,425.2 101.6,424.9 101.4,425.6 101.1,424.9 100.9,424.8 100.7,425.4 100.5,425.4 100.3,425.0 100.0,424.6 99.8,424.6 99.6,424.6 99.4,425.8 99.1,425.6 98.9,426.4 98.7,426.1 98.5,426.5 98.3,424.0 98.0,424.0 97.8,425.6 97.6,425.8 97.4,425.2 97.1,425.1 96.9,425.6 96.7,425.7 96.5,425.8 96.3,425.0 96.0,423.7 95.8,425.3 95.6,425.4 95.4,424.6 95.1,425.6 94.9,425.7 94.7,426.6 94.5,426.4 94.3,425.3 94.0,425.4 93.8,425.0 93.6,425.1 93.4,423.3 93.1,425.5 92.9,426.1 92.7,425.5 92.5,425.8 92.3,426.0 92.0,426.4 91.8,425.5 91.6,425.1 91.4,426.4 91.1,425.5 90.9,425.8 90.7,425.4 90.5,425.7 90.3,425.3 90.0,425.5 89.8,425.1 89.6,425.0 89.4,426.2 89.1,426.0 88.9,425.2 88.7,425.3 88.5,425.3 88.3,425.0 88.0,425.7 87.8,425.4 87.6,425.7 87.4,425.6 87.1,425.7 86.9,426.2 86.7,426.9 86.5,427.2 86.2,426.1 86.0,425.9 85.8,426.5 85.6,425.6 85.4,425.7 85.1,426.7 84.9,426.0 84.7,425.9 84.5,426.4 84.2,425.2 84.0,426.2 83.8,425.5 83.6,425.2 83.4,425.8 83.1,426.0 82.9,425.1 82.7,424.8 82.5,425.7 82.2,426.1 82.0,425.3 81.8,425.6 81.6,425.6 81.4,425.8 81.1,426.1 80.9,425.3 80.7,426.1 80.5,426.9 80.2,426.9 80.0,427.2 79.8,427.6 79.6,426.9 79.4,426.2 79.1,426.5 78.9,426.8 78.7,426.5 78.5,427.0 78.2,427.6 78.0,426.3 77.8,425.8 77.6,426.2 77.4,425.7 77.1,426.8 76.9,428.0 76.7,428.2 76.5,428.0 76.2,427.6 76.0,427.6 75.8,427.3 75.6,428.1 75.4,426.7 75.1,426.8 74.9,426.8 74.7,426.3 74.5,426.6 74.2,425.8 74.0,425.9 73.8,427.0 73.6,427.6 73.4,427.0 73.1,426.6 72.9,427.2 72.7,426.4 72.5,426.8 72.2,426.5 72.0,426.4 71.8,426.2 71.6,426.5 71.4,426.4 71.1,426.5 70.9,427.2 70.7,427.7 70.5,426.7 70.2,427.0 70.0,427.7 69.8,426.5 69.6,428.1 69.4,427.4 69.1,427.7 68.9,426.9 68.7,426.8 68.5,428.0 68.2,427.9 68.0,427.5 67.8,427.2 67.6,427.7 67.4,427.6 67.1,427.8 66.9,427.5 66.7,427.0 66.5,427.8 66.2,426.9 66.0,427.2 65.8,427.2 65.6,427.6 65.4,427.4 65.1,427.4 64.9,427.0 64.7,426.9 64.5,426.8 64.2,426.8 64.0,427.2 63.8,427.8 63.6,427.6 63.4,428.0 63.1,427.8 62.9,428.1 62.7,427.1 62.5,427.0 62.2,426.8 62.0,426.8 61.8,426.9 61.6,427.0 61.3,426.9 61.1,425.4 60.9,425.9 60.7,426.6 60.5,426.6 60.2,428.0 60.0,427.6 59.8,426.9 59.6,427.0 59.3,427.8 59.1,428.2 58.9,428.8 58.7,427.8 58.5,427.6 58.2,428.0 58.0,428.4 57.8,428.5 57.6,428.1 57.3,428.1 57.1,427.7 56.9,427.1 56.7,426.5 56.5,426.6 56.2,426.6 56.0,427.2 55.8,427.5 55.6,428.0 55.3,427.8 55.1,429.0 54.9,428.7 54.7,427.3 54.5,427.5 54.2,426.9 54.0,427.3 53.8,427.0 53.6,427.6 53.3,428.0 53.1,427.9 52.9,427.9 52.7,427.3 52.5,427.8 52.2,427.2 52.0,425.9 51.8,427.2 51.6,428.4 51.3,427.5 51.1,426.8 50.9,426.1 50.7,427.1 50.5,427.2 50.2,428.4 50.0,427.5 49.8,427.2 49.6,428.3 49.3,428.4 49.1,427.7 48.9,427.5 48.7,427.4 48.5,427.6 48.2,428.1 48.0,427.7 47.8,427.5 47.6,427.4 47.3,427.6 47.1,426.8 46.9,426.5 46.7,427.4 46.5,428.1 46.2,427.8 46.0,426.0 45.8,426.9 45.6,427.9 45.3,428.6 45.1,428.0 44.9,428.1 44.7,426.8 44.5,427.5 44.2,428.1 44.0,427.1 43.8,428.1 43.6,427.3 43.3,427.0 43.1,427.0 42.9,427.6 42.7,425.8 42.5,426.3 42.2,426.8 42.0,427.0 41.8,426.5 41.6,426.6 41.3,427.3 41.1,426.8 40.9,427.0 40.7,426.8 40.5,427.4 40.2,426.7 40.0,426.9 39.8,426.9 39.6,426.4 39.3,427.0 39.1,426.9 38.9,427.5 38.7,426.1 38.5,426.4 38.2,426.9 38.0,425.6 37.8,425.8 37.6,425.6 37.3,425.5 37.1,425.7 36.9,426.7 36.7,426.2 36.4,426.8 36.2,427.5 36.0,426.9 35.8,426.6 35.6,426.4 35.3,425.2 35.1,425.7 34.9,425.8 34.7,426.2 34.4,425.6 34.2,425.1 34.0,425.6 33.8,425.9 33.6,425.5 33.3,426.0 33.1,426.4 32.9,426.0 32.7,425.8 32.4,426.7 32.2,427.5 32.0,427.2 31.8,426.9 31.6,427.3 31.3,427.5 31.1,426.6 30.9,426.4 30.7,427.2 30.4,426.5 30.2,425.8 30.0,426.2 29.8,426.0 29.6,425.6 29.3,426.0 29.1,426.4 28.9,426.1 28.7,425.8 28.4,426.1 28.2,425.8 28.0,427.2 27.8,425.8 27.6,426.3 27.3,426.2 27.1,426.7 26.9,426.4 26.7,426.1 26.4,425.3 26.2,425.6 26.0,426.4" fill="#bfe4f5" fill-opacity="0.55" stroke="none"/>
<polyline points="26.0,411.9 26.2,415.3 26.4,426.3 26.7,415.2 26.9,421.5 27.1,424.3 27.3,423.8 27.6,424.9 27.8,421.5 28.0,419.2 28.2,418.7 28.4,418.8 28.7,426.4 28.9,426.3 29.1,415.9 29.3,417.6 29.6,404.9 29.8,416.7 30.0,424.6 30.2,416.2 30.4,419.2 30.7,421.3 30.9,424.1 31.1,421.5 31.3,422.9 31.6,419.1 31.8,421.4 32.0,416.6 32.2,425.0 32.4,420.0 32.7,419.0 32.9,423.9 33.1,419.7 33.3,417.4 33.6,418.6 33.8,421.3 34.0,419.1 34.2,422.3 34.4,419.7 34.7,423.2 34.9,420.1 35.1,417.2 35.3,421.2 35.6,418.4 35.8,425.0 36.0,422.7 36.2,427.1 36.4,422.0 36.7,420.8 36.9,422.2 37.1,421.5 37.3,415.8 37.6,415.6 37.8,424.8 38.0,416.4 38.2,427.6 38.5,423.7 38.7,415.1 38.9,421.9 39.1,425.3 39.3,424.3 39.6,421.0 39.8,424.1 40.0,424.0 40.2,419.3 40.5,419.1 40.7,421.9 40.9,421.8 41.1,421.7 41.3,423.7 41.6,423.2 41.8,425.0 42.0,419.7 42.2,422.0 42.5,421.7 42.7,420.0 42.9,420.6 43.1,417.0 43.3,422.8 43.6,423.6 43.8,422.3 44.0,424.8 44.2,418.6 44.5,419.2 44.7,419.3 44.9,423.4 45.1,420.4 45.3,419.9 45.6,421.1 45.8,422.7 46.0,416.5 46.2,419.5 46.5,424.1 46.7,422.7 46.9,418.4 47.1,420.5 47.3,427.4 47.6,422.6 47.8,423.3 48.0,419.1 48.2,429.4 48.5,423.8 48.7,422.7 48.9,417.6 49.1,426.3 49.3,432.7 49.6,427.9 49.8,416.6 50.0,419.6 50.2,417.3 50.5,420.7 50.7,424.7 50.9,417.9 51.1,421.7 51.3,423.0 51.6,423.2 51.8,417.7 52.0,423.8 52.2,425.6 52.5,422.9 52.7,422.4 52.9,425.6 53.1,425.8 53.3,421.5 53.6,403.9 53.8,419.4 54.0,419.8 54.2,417.5 54.5,429.1 54.7,427.4 54.9,426.0 55.1,428.0 55.3,426.1 55.6,422.7 55.8,426.7 56.0,423.6 56.2,428.5 56.5,424.8 56.7,416.8 56.9,423.8 57.1,421.5 57.3,420.5 57.6,424.7 57.8,421.4 58.0,422.5 58.2,420.5 58.5,424.7 58.7,427.6 58.9,427.2 59.1,425.0 59.3,420.8 59.6,422.6 59.8,423.2 60.0,423.1 60.2,419.1 60.5,423.4 60.7,416.3 60.9,425.0 61.1,422.3 61.3,418.9 61.6,420.1 61.8,424.7 62.0,422.1 62.2,424.1 62.5,418.9 62.7,420.1 62.9,425.4 63.1,421.4 63.4,424.2 63.6,422.7 63.8,422.4 64.0,424.0 64.2,420.2 64.5,420.1 64.7,420.3 64.9,418.1 65.1,423.2 65.4,427.4 65.6,424.2 65.8,421.4 66.0,422.0 66.2,419.7 66.5,419.9 66.7,422.2 66.9,422.8 67.1,413.8 67.4,418.9 67.6,423.5 67.8,425.8 68.0,426.2 68.2,424.2 68.5,417.6 68.7,419.0 68.9,427.6 69.1,423.0 69.4,421.3 69.6,420.8 69.8,420.2 70.0,424.7 70.2,420.5 70.5,423.5 70.7,430.2 70.9,424.4 71.1,423.7 71.4,418.0 71.6,417.8 71.8,424.6 72.0,420.7 72.2,421.0 72.5,426.5 72.7,428.3 72.9,422.4 73.1,421.0 73.4,423.9 73.6,431.7 73.8,421.9 74.0,422.7 74.2,423.7 74.5,422.6 74.7,425.0 74.9,419.7 75.1,421.7 75.4,423.5 75.6,422.0 75.8,422.3 76.0,427.7 76.2,422.9 76.5,424.4 76.7,429.1 76.9,425.1 77.1,420.2 77.4,422.7 77.6,416.3 77.8,414.8 78.0,422.3 78.2,420.6 78.5,415.1 78.7,422.5 78.9,424.7 79.1,422.8 79.4,425.7 79.6,426.3 79.8,421.7 80.0,418.2 80.2,417.6 80.5,420.1 80.7,423.6 80.9,420.8 81.1,421.9 81.4,423.0 81.6,423.3 81.8,419.3 82.0,420.7 82.2,419.8 82.5,417.2 82.7,416.2 82.9,423.7 83.1,423.8 83.4,421.5 83.6,419.7 83.8,417.1 84.0,424.3 84.2,421.6 84.5,420.4 84.7,416.6 84.9,416.2 85.1,425.0 85.4,421.2 85.6,423.2 85.8,418.5 86.0,419.2 86.2,418.0 86.5,424.1 86.7,420.8 86.9,410.6 87.1,423.2 87.4,421.6 87.6,420.2 87.8,420.3 88.0,419.4 88.3,423.3 88.5,422.2 88.7,427.3 88.9,419.8 89.1,417.2 89.4,428.1 89.6,422.0 89.8,397.9 90.0,420.8 90.3,426.6 90.5,416.6 90.7,425.2 90.9,416.0 91.1,422.3 91.4,423.7 91.6,419.9 91.8,414.3 92.0,419.2 92.3,419.1 92.5,421.2 92.7,415.8 92.9,418.5 93.1,419.4 93.4,417.7 93.6,420.3 93.8,420.1 94.0,418.0 94.3,418.5 94.5,421.1 94.7,418.0 94.9,421.5 95.1,419.0 95.4,416.5 95.6,424.1 95.8,421.1 96.0,412.8 96.3,423.2 96.5,416.7 96.7,424.2 96.9,419.1 97.1,423.6 97.4,422.2 97.6,422.0 97.8,422.3 98.0,415.4 98.3,416.1 98.5,418.4 98.7,420.3 98.9,415.7 99.1,417.0 99.4,419.5 99.6,423.0 99.8,417.1 100.0,417.2 100.3,419.6 100.5,417.8 100.7,417.6 100.9,420.7 101.1,417.9 101.4,419.2 101.6,418.7 101.8,421.3 102.0,422.0 102.3,420.6 102.5,416.3 102.7,412.9 102.9,423.9 103.1,424.7 103.4,421.7 103.6,423.6 103.8,421.6 104.0,418.8 104.3,423.4 104.5,419.9 104.7,417.6 104.9,415.7 105.1,413.7 105.4,415.8 105.6,411.5 105.8,422.4 106.0,421.2 106.3,420.6 106.5,419.5 106.7,416.9 106.9,421.8 107.1,414.8 107.4,417.3 107.6,419.8 107.8,419.7 108.0,424.2 108.3,429.1 108.5,421.2 108.7,419.7 108.9,420.1 109.1,414.1 109.4,422.0 109.6,415.1 109.8,418.9 110.0,418.1 110.3,421.7 110.5,417.8 110.7,416.1 110.9,418.5 111.1,422.9 111.4,420.3 111.6,424.0 111.8,421.7 112.0,419.7 112.3,423.6 112.5,422.3 112.7,415.5 112.9,422.8 113.2,418.8 113.4,422.6 113.6,425.0 113.8,421.5 114.0,422.4 114.3,427.1 114.5,424.6 114.7,422.1 114.9,415.7 115.2,423.4 115.4,421.1 115.6,419.1 115.8,420.8 116.0,422.7 116.3,415.7 116.5,416.4 116.7,429.4 116.9,418.2 117.2,411.3 117.4,417.0 117.6,419.7 117.8,417.5 118.0,414.3 118.3,415.5 118.5,415.4 118.7,417.2 118.9,417.8 119.2,418.8 119.4,425.4 119.6,414.6 119.8,420.9 120.0,421.1 120.3,422.1 120.5,420.2 120.7,428.8 120.9,421.6 121.2,425.7 121.4,423.4 121.6,427.8 121.8,426.1 122.0,419.2 122.3,423.2 122.5,421.8 122.7,422.8 122.9,424.9 123.2,423.2 123.4,425.8 123.6,422.6 123.8,429.8 124.0,423.3 124.3,418.0 124.5,418.1 124.7,418.1 124.9,419.9 125.2,424.2 125.4,417.2 125.6,419.3 125.8,420.7 126.0,425.3 126.3,420.1 126.5,416.8 126.7,418.3 126.9,420.8 127.2,418.7 127.4,421.0 127.6,420.2 127.8,419.3 128.0,420.6 128.3,421.9 128.5,419.0 128.7,423.2 128.9,424.1 129.2,419.5 129.4,407.9 129.6,419.7 129.8,426.7 130.0,417.3 130.3,421.2 130.5,415.0 130.7,430.3 130.9,426.8 131.2,415.6 131.4,420.2 131.6,420.0 131.8,420.3 132.0,421.4 132.3,419.7 132.5,424.2 132.7,422.3 132.9,416.5 133.2,420.7 133.4,424.7 133.6,421.7 133.8,418.7 134.0,422.2 134.3,422.7 134.5,419.4 134.7,418.7 134.9,416.2 135.2,422.1 135.4,420.5 135.6,417.2 135.8,427.3 136.0,420.8 136.3,420.5 136.5,421.2 136.7,423.6 136.9,419.2 137.2,416.8 137.4,422.1 137.6,418.0 137.8,421.6 138.1,416.2 138.3,417.0 138.5,421.5 138.7,424.8 138.9,425.0 139.2,422.0 139.4,421.5 139.6,420.1 139.8,425.1 140.1,421.4 140.3,419.3 140.5,426.5 140.7,413.9 140.9,418.7 141.2,419.6 141.4,425.9 141.6,425.7 141.8,417.9 142.1,417.5 142.3,428.6 142.5,416.3 142.7,419.2 142.9,419.8 143.2,425.7 143.4,421.2 143.6,423.1 143.8,419.1 144.1,414.9 144.3,418.7 144.5,418.2 144.7,423.1 144.9,425.6 145.2,421.4 145.4,417.6 145.6,415.8 145.8,420.6 146.1,420.8 146.3,423.1 146.5,427.3 146.7,421.8 146.9,420.8 147.2,422.4 147.4,421.1 147.6,426.4 147.8,420.5 148.1,416.4 148.3,418.2 148.5,419.1 148.7,419.5 148.9,422.9 149.2,420.3 149.4,424.3 149.6,411.4 149.8,420.3 150.1,424.6 150.3,426.2 150.5,415.7 150.7,419.9 150.9,420.8 151.2,426.3 151.4,423.9 151.6,426.6 151.8,418.8 152.1,424.3 152.3,415.4 152.5,416.3 152.7,422.7 152.9,415.9 153.2,428.1 153.4,423.2 153.6,422.1 153.8,418.0 154.1,410.2 154.3,420.9 154.5,427.3 154.7,423.8 154.9,424.6 155.2,416.5 155.4,423.8 155.6,419.3 155.8,414.1 156.1,421.6 156.3,418.4 156.5,423.4 156.7,421.4 156.9,422.3 157.2,421.6 157.4,422.3 157.6,424.9 157.8,415.8 158.1,422.6 158.3,420.4 158.5,421.8 158.7,428.8 158.9,418.1 159.2,420.2 159.4,424.9 159.6,424.0 159.8,426.6 160.1,420.1 160.3,416.7 160.5,416.6 160.7,419.9 160.9,427.1 161.2,418.4 161.4,411.0 161.6,421.0 161.8,416.7 162.1,425.5 162.3,421.2 162.5,418.6 162.7,421.4 163.0,420.9 163.2,419.2 163.4,424.5 163.6,424.5 163.8,419.2 164.1,420.6 164.3,425.4 164.5,420.2 164.7,424.2 165.0,408.8 165.2,421.6 165.4,422.5 165.6,424.1 165.8,419.9 166.1,421.9 166.3,415.0 166.5,421.6 166.7,425.6 167.0,413.7 167.2,428.2 167.4,415.4 167.6,424.3 167.8,414.1 168.1,421.7 168.3,419.7 168.5,421.2 168.7,421.4 169.0,417.9 169.2,422.9 169.4,419.1 169.6,423.7 169.8,424.3 170.1,424.2 170.3,422.8 170.5,417.4 170.7,422.9 171.0,423.2 171.2,423.8 171.4,422.0 171.6,420.4 171.8,425.6 172.1,422.4 172.3,423.1 172.5,421.6 172.7,422.9 173.0,419.8 173.2,417.6 173.4,422.9 173.6,421.2 173.8,424.7 174.1,417.4 174.3,419.4 174.5,410.8 174.7,422.3 175.0,423.8 175.2,422.4 175.4,425.4 175.6,420.8 175.8,420.0 176.1,418.9 176.3,420.3 176.5,422.9 176.7,416.3 177.0,419.6 177.2,417.3 177.4,424.7 177.6,424.3 177.8,422.5 178.1,420.9 178.3,427.7 178.5,397.5 178.7,421.6 179.0,418.3 179.2,418.5 179.4,414.9 179.6,418.1 179.8,419.0 180.1,422.8 180.3,420.1 180.5,414.0 180.7,425.8 181.0,422.8 181.2,419.5 181.4,413.5 181.6,423.3 181.8,421.7 182.1,418.6 182.3,409.2 182.5,423.7 182.7,386.6 183.0,418.3 183.2,423.3 183.4,419.1 183.6,419.1 183.8,422.1 184.1,419.7 184.3,415.1 184.5,419.5 184.7,422.0 185.0,423.3 185.2,418.5 185.4,416.5 185.6,418.7 185.8,417.9 186.1,410.6 186.3,423.4 186.5,423.9 186.7,418.8 187.0,420.1 187.2,417.7 187.4,414.9 187.6,417.6 187.9,420.7 188.1,417.4 188.3,417.9 188.5,420.0 188.7,422.2 189.0,416.7 189.2,419.6 189.4,424.4 189.6,417.9 189.9,418.1 190.1,422.0 190.3,418.2 190.5,423.7 190.7,417.8 191.0,423.9 191.2,425.7 191.4,419.5 191.6,415.4 191.9,422.8 192.1,415.7 192.3,416.5 192.5,415.4 192.7,424.2 193.0,421.8 193.2,414.0 193.4,418.8 193.6,419.9 193.9,417.6 194.1,417.7 194.3,422.7 194.5,420.1 194.7,417.8 195.0,419.3 195.2,421.6 195.4,414.9 195.6,416.6 195.9,421.0 196.1,422.6 196.3,416.9 196.5,401.2 196.7,419.5 197.0,421.0 197.2,422.2 197.4,417.2 197.6,418.5 197.9,409.1 198.1,419.8 198.3,418.5 198.5,425.0 198.7,417.5 199.0,422.9 199.2,420.0 199.4,416.5 199.6,415.9 199.9,418.4 200.1,416.5 200.3,420.1 200.5,422.6 200.7,425.3 201.0,417.1 201.2,411.7 201.4,420.7 201.6,420.2 201.9,421.4 202.1,417.5 202.3,425.6 202.5,416.9 202.7,415.8 203.0,421.0 203.2,423.2 203.4,422.7 203.6,418.4 203.9,413.5 204.1,421.1 204.3,423.1 204.5,418.3 204.7,417.6 205.0,417.7 205.2,421.6 205.4,417.6 205.6,416.7 205.9,425.8 206.1,420.9 206.3,414.8 206.5,416.1 206.7,420.7 207.0,426.2 207.2,421.6 207.4,424.0 207.6,420.2 207.9,415.8 208.1,423.0 208.3,420.0 208.5,422.6 208.7,415.3 209.0,421.1 209.2,422.1 209.4,412.1 209.6,417.4 209.9,416.8 210.1,425.9 210.3,414.1 210.5,413.5 210.7,420.4 211.0,420.4 211.2,420.6 211.4,414.8 211.6,423.8 211.9,417.3 212.1,410.4 212.3,417.5 212.5,411.1 212.8,417.2 213.0,419.2 213.2,415.3 213.4,418.3 213.6,417.2 213.9,419.5 214.1,422.4 214.3,419.6 214.5,417.1 214.8,414.9 215.0,419.1 215.2,418.9 215.4,422.7 215.6,420.8 215.9,420.7 216.1,420.0 216.3,419.5 216.5,417.5 216.8,415.5 217.0,416.5 217.2,416.9 217.4,422.0 217.6,420.5 217.9,418.0 218.1,418.1 218.3,416.2 218.5,424.0 218.8,418.2 219.0,418.0 219.2,419.8 219.4,420.3 219.6,415.9 219.9,414.8 220.1,412.5 220.3,419.8 220.5,414.8 220.8,405.2 221.0,408.5 221.2,410.7 221.4,407.7 221.6,413.1 221.9,404.7 222.1,406.3 222.3,408.6 222.5,409.1 222.8,412.8 223.0,410.4 223.2,412.7 223.4,411.0 223.6,417.0 223.9,416.8 224.1,419.5 224.3,420.4 224.5,423.8 224.8,413.6 225.0,412.3 225.2,413.6 225.4,414.2 225.6,415.3 225.9,414.2 226.1,420.8 226.3,416.9 226.5,421.5 226.8,418.8 227.0,418.3 227.2,418.4 227.4,421.8 227.6,413.3 227.9,414.3 228.1,419.2 228.3,421.4 228.5,419.7 228.8,413.8 229.0,424.3 229.2,414.5 229.4,418.8 229.6,419.1 229.9,414.7 230.1,417.7 230.3,419.3 230.5,414.9 230.8,424.4 231.0,412.8 231.2,420.4 231.4,420.5 231.6,413.9 231.9,407.6 232.1,414.2 232.3,421.2 232.5,425.8 232.8,416.6 233.0,416.9 233.2,418.8 233.4,418.2 233.6,419.9 233.9,414.8 234.1,413.7 234.3,404.6 234.5,420.6 234.8,416.9 235.0,421.7 235.2,414.2 235.4,416.8 235.6,423.3 235.9,417.7 236.1,421.8 236.3,416.0 236.5,415.6 236.8,414.2 237.0,420.3 237.2,415.7 237.4,421.3 237.7,415.2 237.9,417.2 238.1,416.3 238.3,416.9 238.5,413.4 238.8,418.5 239.0,417.3 239.2,412.1 239.4,417.9 239.7,418.7 239.9,420.5 240.1,417.1 240.3,418.4 240.5,415.8 240.8,418.9 241.0,416.2 241.2,420.1 241.4,411.7 241.7,417.6 241.9,415.1 242.1,415.5 242.3,419.0 242.5,413.7 242.8,419.6 243.0,414.7 243.2,424.7 243.4,423.8 243.7,424.2 243.9,424.5 244.1,420.4 244.3,419.1 244.5,421.2 244.8,418.7 245.0,419.7 245.2,416.2 245.4,417.4 245.7,418.1 245.9,416.4 246.1,412.7 246.3,415.7 246.5,423.0 246.8,419.2 247.0,419.6 247.2,415.3 247.4,416.2 247.7,414.9 247.9,421.6 248.1,412.5" fill="none" stroke="#a6d8f2" stroke-width="0.6" stroke-opacity="0.4" stroke-linejoin="round" />
<polygon points="26.0,408.2 26.2,407.3 26.4,407.1 26.7,407.0 26.9,406.2 27.1,408.3 27.3,408.8 27.6,409.7 27.8,409.1 28.0,407.8 28.2,408.0 28.4,407.7 28.7,409.7 28.9,408.8 29.1,409.4 29.3,407.3 29.6,407.0 29.8,406.8 30.0,407.6 30.2,407.4 30.4,407.3 30.7,408.1 30.9,408.7 31.1,408.6 31.3,409.0 31.6,409.2 31.8,409.0 32.0,409.3 32.2,408.2 32.4,409.7 32.7,408.3 32.9,408.9 33.1,409.1 33.3,409.9 33.6,409.3 33.8,409.1 34.0,408.6 34.2,409.0 34.4,408.6 34.7,406.9 34.9,407.3 35.1,408.4 35.3,407.6 35.6,408.1 35.8,407.8 36.0,407.6 36.2,408.4 36.4,410.1 36.7,409.6 36.9,408.6 37.1,408.9 37.3,408.3 37.6,407.5 37.8,408.5 38.0,407.4 38.2,406.5 38.5,406.6 38.7,406.5 38.9,406.6 39.1,405.6 39.3,406.9 39.6,407.7 39.8,407.6 40.0,408.9 40.2,410.1 40.5,410.1 40.7,409.0 40.9,408.4 41.1,409.8 41.3,410.9 41.6,410.0 41.8,409.5 42.0,409.1 42.2,408.3 42.5,407.4 42.7,407.8 42.9,407.7 43.1,409.1 43.3,409.9 43.6,409.1 43.8,408.3 44.0,407.8 44.2,407.7 44.5,407.5 44.7,407.4 44.9,409.6 45.1,409.8 45.3,408.8 45.6,408.2 45.8,409.8 46.0,408.2 46.2,408.9 46.5,409.0 46.7,408.6 46.9,408.0 47.1,409.6 47.3,408.3 47.6,408.5 47.8,409.3 48.0,409.3 48.2,410.9 48.5,410.4 48.7,409.4 48.9,409.7 49.1,409.5 49.3,409.2 49.6,408.9 49.8,407.9 50.0,408.3 50.2,408.7 50.5,408.2 50.7,406.6 50.9,407.9 51.1,407.8 51.3,409.6 51.6,407.9 51.8,407.7 52.0,406.9 52.2,407.8 52.5,409.1 52.7,408.0 52.9,407.6 53.1,408.8 53.3,410.0 53.6,408.8 53.8,408.8 54.0,406.3 54.2,407.9 54.5,408.6 54.7,408.6 54.9,410.0 55.1,410.0 55.3,407.7 55.6,408.2 55.8,408.8 56.0,409.7 56.2,408.5 56.5,407.8 56.7,407.9 56.9,408.4 57.1,408.1 57.3,407.9 57.6,408.7 57.8,407.9 58.0,409.9 58.2,410.2 58.5,409.5 58.7,409.0 58.9,409.6 59.1,408.6 59.3,407.5 59.6,407.4 59.8,407.6 60.0,407.1 60.2,407.3 60.5,408.7 60.7,408.6 60.9,407.2 61.1,408.7 61.3,408.3 61.6,408.5 61.8,409.1 62.0,409.5 62.2,408.7 62.5,408.1 62.7,407.8 62.9,409.2 63.1,408.8 63.4,408.1 63.6,407.2 63.8,407.0 64.0,406.7 64.2,406.4 64.5,406.4 64.7,407.9 64.9,407.8 65.1,408.5 65.4,410.3 65.6,410.6 65.8,407.4 66.0,408.6 66.2,410.2 66.5,409.5 66.7,407.3 66.9,407.6 67.1,407.3 67.4,407.8 67.6,407.9 67.8,406.7 68.0,406.5 68.2,407.2 68.5,406.7 68.7,406.2 68.9,407.2 69.1,407.2 69.4,407.2 69.6,408.0 69.8,406.8 70.0,407.4 70.2,408.0 70.5,409.3 70.7,409.6 70.9,407.3 71.1,408.5 71.4,407.7 71.6,408.0 71.8,407.4 72.0,407.0 72.2,408.0 72.5,408.1 72.7,407.8 72.9,407.7 73.1,407.7 73.4,408.0 73.6,407.3 73.8,406.3 74.0,406.6 74.2,407.8 74.5,407.4 74.7,407.5 74.9,407.2 75.1,405.9 75.4,407.0 75.6,407.4 75.8,408.4 76.0,408.3 76.2,408.6 76.5,406.8 76.7,407.0 76.9,407.9 77.1,406.2 77.4,408.2 77.6,407.2 77.8,406.6 78.0,406.7 78.2,407.5 78.5,407.8 78.7,408.1 78.9,407.3 79.1,409.6 79.4,409.2 79.6,408.4 79.8,408.6 80.0,409.9 80.2,409.1 80.5,409.2 80.7,407.8 80.9,406.6 81.1,407.2 81.4,409.3 81.6,408.8 81.8,409.2 82.0,407.9 82.2,406.5 82.5,406.9 82.7,405.6 82.9,405.5 83.1,406.1 83.4,407.8 83.6,407.7 83.8,409.0 84.0,407.5 84.2,407.5 84.5,406.4 84.7,406.8 84.9,409.0 85.1,407.8 85.4,407.0 85.6,405.9 85.8,407.7 86.0,408.5 86.2,408.1 86.5,408.9 86.7,409.5 86.9,409.6 87.1,406.4 87.4,407.7 87.6,408.7 87.8,408.7 88.0,408.3 88.3,407.0 88.5,406.6 88.7,406.6 88.9,407.2 89.1,407.4 89.4,408.2 89.6,409.4 89.8,406.9 90.0,407.8 90.3,407.0 90.5,407.8 90.7,408.0 90.9,408.1 91.1,409.3 91.4,408.7 91.6,408.0 91.8,407.3 92.0,407.2 92.3,406.7 92.5,407.1 92.7,407.6 92.9,409.6 93.1,409.3 93.4,407.3 93.6,407.6 93.8,407.1 94.0,407.8 94.3,408.5 94.5,406.5 94.7,407.0 94.9,406.2 95.1,406.7 95.4,407.7 95.6,409.9 95.8,408.9 96.0,409.9 96.3,411.0 96.5,408.5 96.7,407.7 96.9,407.4 97.1,407.7 97.4,408.0 97.6,407.7 97.8,407.8 98.0,407.9 98.3,407.4 98.5,410.0 98.7,408.3 98.9,408.8 99.1,407.8 99.4,407.0 99.6,408.4 99.8,407.6 100.0,407.3 100.3,408.4 100.5,408.8 100.7,408.5 100.9,410.4 101.1,409.8 101.4,408.9 101.6,409.1 101.8,410.1 102.0,409.6 102.3,407.7 102.5,406.9 102.7,407.8 102.9,408.8 103.1,408.7 103.4,408.5 103.6,409.1 103.8,409.1 104.0,408.2 104.3,407.5 104.5,410.2 104.7,408.5 104.9,408.4 105.1,407.4 105.4,408.0 105.6,407.9 105.8,406.8 106.0,410.3 106.3,408.0 106.5,408.1 106.7,409.9 106.9,411.6 107.1,409.8 107.4,410.1 107.6,408.5 107.8,408.3 108.0,408.6 108.3,407.7 108.5,408.0 108.7,407.6 108.9,407.4 109.1,407.7 109.4,407.5 109.6,407.4 109.8,409.2 110.0,409.2 110.3,409.0 110.5,409.2 110.7,410.3 110.9,410.0 111.1,409.0 111.4,408.7 111.6,407.3 111.8,408.6 112.0,409.0 112.3,409.4 112.5,409.3 112.7,409.5 112.9,410.8 113.2,409.5 113.4,408.2 113.6,407.5 113.8,409.1 114.0,409.1 114.3,407.3 114.5,408.1 114.7,408.1 114.9,408.6 115.2,407.8 115.4,407.4 115.6,406.0 115.8,407.0 116.0,407.5 116.3,409.2 116.5,409.3 116.7,409.7 116.9,409.5 117.2,410.3 117.4,408.5 117.6,409.5 117.8,408.9 118.0,410.0 118.3,409.1 118.5,407.4 118.7,408.8 118.9,408.5 119.2,408.7 119.4,408.5 119.6,408.3 119.8,409.1 120.0,409.1 120.3,409.4 120.5,409.8 120.7,410.4 120.9,408.7 121.2,409.4 121.4,408.5 121.6,408.1 121.8,409.3 122.0,408.1 122.3,409.2 122.5,408.4 122.7,407.3 122.9,408.7 123.2,409.5 123.4,410.0 123.6,407.4 123.8,408.4 124.0,409.7 124.3,408.5 124.5,408.8 124.7,408.8 124.9,409.7 125.2,411.2 125.4,410.6 125.6,410.6 125.8,411.1 126.0,410.9 126.3,410.7 126.5,409.0 126.7,408.3 126.9,408.1 127.2,408.9 127.4,410.0 127.6,409.1 127.8,408.5 128.0,407.8 128.3,408.3 128.5,408.7 128.7,408.5 128.9,409.4 129.2,409.8 129.4,408.7 129.6,409.9 129.8,409.4 130.0,408.4 130.3,408.4 130.5,408.2 130.7,409.5 130.9,409.2 131.2,409.2 131.4,408.5 131.6,408.3 131.8,408.5 132.0,406.9 132.3,407.4 132.5,408.3 132.7,409.1 132.9,408.9 133.2,409.3 133.4,407.6 133.6,407.7 133.8,408.5 134.0,409.2 134.3,409.9 134.5,409.6 134.7,408.0 134.9,407.6 135.2,408.2 135.4,408.3 135.6,410.2 135.8,408.8 136.0,408.9 136.3,407.6 136.5,408.3 136.7,408.9 136.9,408.6 137.2,409.2 137.4,407.8 137.6,408.0 137.8,408.1 138.1,408.1 138.3,408.7 138.5,408.3 138.7,408.4 138.9,407.0 139.2,407.9 139.4,408.0 139.6,408.8 139.8,409.1 140.1,409.2 140.3,407.9 140.5,408.3 140.7,407.7 140.9,408.5 141.2,409.0 141.4,410.6 141.6,409.0 141.8,407.1 142.1,408.2 142.3,407.3 142.5,407.3 142.7,408.7 142.9,408.1 143.2,409.3 143.4,409.4 143.6,408.1 143.8,408.4 144.1,409.7 144.3,408.1 144.5,409.5 144.7,409.4 144.9,409.5 145.2,409.4 145.4,409.9 145.6,410.9 145.8,408.3 146.1,409.5 146.3,410.0 146.5,411.7 146.7,410.3 146.9,408.5 147.2,407.6 147.4,405.9 147.6,406.2 147.8,407.3 148.1,408.2 148.3,407.4 148.5,408.3 148.7,408.5 148.9,409.7 149.2,409.3 149.4,407.8 149.6,409.2 149.8,409.7 150.1,412.7 150.3,411.2 150.5,411.5 150.7,411.0 150.9,412.1 151.2,413.8 151.4,415.4 151.6,414.3 151.8,413.7 152.1,414.1 152.3,413.2 152.5,413.1 152.7,411.6 152.9,411.6 153.2,412.1 153.4,411.2 153.6,410.9 153.8,409.0 154.1,409.8 154.3,411.0 154.5,410.5 154.7,410.4 154.9,409.9 155.2,409.7 155.4,410.7 155.6,410.3 155.8,410.1 156.1,411.0 156.3,410.9 156.5,410.2 156.7,411.4 156.9,411.5 157.2,411.1 157.4,410.5 157.6,409.7 157.8,410.9 158.1,410.1 158.3,409.4 158.5,408.2 158.7,409.3 158.9,410.3 159.2,411.4 159.4,410.1 159.6,408.7 159.8,409.8 160.1,409.3 160.3,408.7 160.5,408.3 160.7,409.3 160.9,408.9 161.2,409.2 161.4,410.2 161.6,409.6 161.8,409.2 162.1,410.1 162.3,409.4 162.5,407.6 162.7,409.8 163.0,408.9 163.2,408.3 163.4,408.7 163.6,408.7 163.8,409.2 164.1,408.0 164.3,409.5 164.5,409.5 164.7,411.1 165.0,409.9 165.2,409.2 165.4,410.7 165.6,410.7 165.8,409.5 166.1,409.8 166.3,410.6 166.5,412.1 166.7,410.3 167.0,408.0 167.2,409.0 167.4,408.7 167.6,408.5 167.8,408.9 168.1,408.9 168.3,408.9 168.5,409.8 168.7,407.2 169.0,405.8 169.2,407.1 169.4,406.5 169.6,408.5 169.8,409.0 170.1,408.0 170.3,409.5 170.5,410.4 170.7,409.4 171.0,410.9 171.2,408.4 171.4,408.0 171.6,408.2 171.8,407.9 172.1,409.2 172.3,409.8 172.5,408.6 172.7,394.2 173.0,391.1 173.2,388.0 173.4,385.2 173.6,383.9 173.8,387.7 174.1,389.9 174.3,391.7 174.5,394.4 174.7,396.6 175.0,396.5 175.2,393.9 175.4,391.5 175.6,391.2 175.8,392.4 176.1,391.8 176.3,391.9 176.5,393.0 176.7,394.2 177.0,394.6 177.2,397.5 177.4,398.3 177.6,396.3 177.8,393.1 178.1,390.8 178.3,388.7 178.5,386.7 178.7,385.0 179.0,382.3 179.2,380.1 179.4,381.4 179.6,382.3 179.8,383.8 180.1,387.1 180.3,389.1 180.5,390.6 180.7,391.0 181.0,390.2 181.2,388.9 181.4,389.6 181.6,389.2 181.8,386.7 182.1,387.1 182.3,387.6 182.5,390.4 182.7,391.2 183.0,392.5 183.2,393.2 183.4,393.9 183.6,392.1 183.8,389.4 184.1,386.8 184.3,385.4 184.5,383.2 184.7,381.5 185.0,376.2 185.2,377.6 185.4,379.8 185.6,382.3 185.8,384.0 186.1,385.1 186.3,387.6 186.5,387.4 186.7,384.3 187.0,383.3 187.2,382.8 187.4,382.6 187.6,381.6 187.9,383.6 188.1,385.3 188.3,388.2 188.5,390.8 188.7,393.0 189.0,395.8 189.2,394.9 189.4,391.6 189.6,392.3 189.9,393.1 190.1,390.8 190.3,390.1 190.5,387.6 190.7,387.3 191.0,388.0 191.2,390.9 191.4,393.8 191.6,394.8 191.9,395.3 192.1,397.7 192.3,397.3 192.5,394.6 192.7,391.9 193.0,389.2 193.2,386.4 193.4,381.6 193.6,380.1 193.9,378.6 194.1,380.6 194.3,381.5 194.5,385.1 194.7,385.3 195.0,387.7 195.2,391.3 195.4,390.3 195.6,389.2 195.9,387.0 196.1,387.8 196.3,386.1 196.5,385.0 196.7,383.2 197.0,383.5 197.2,385.0 197.4,384.5 197.6,386.3 197.9,389.9 198.1,390.9 198.3,393.3 198.5,395.2 198.7,397.5 199.0,395.3 199.2,394.5 199.4,392.8 199.6,391.5 199.9,391.5 200.1,390.3 200.3,387.6 200.5,387.8 200.7,387.1 201.0,387.7 201.2,387.7 201.4,388.0 201.6,388.4 201.9,389.6 202.1,390.4 202.3,392.0 202.5,391.4 202.7,389.0 203.0,388.5 203.2,386.2 203.4,384.4 203.6,384.4 203.9,382.6 204.1,382.3 204.3,383.3 204.5,386.3 204.7,388.0 205.0,390.1 205.2,393.3 205.4,393.4 205.6,393.7 205.9,396.0 206.1,395.5 206.3,395.9 206.5,394.0 206.7,395.0 207.0,395.1 207.2,395.7 207.4,395.4 207.6,396.2 207.9,397.1 208.1,397.2 208.3,396.8 208.5,395.4 208.7,395.0 209.0,395.1 209.2,394.9 209.4,395.0 209.6,393.9 209.9,395.1 210.1,393.9 210.3,391.9 210.5,392.0 210.7,392.1 211.0,391.3 211.2,391.6 211.4,392.5 211.6,392.1 211.9,393.6 212.1,392.4 212.3,393.5 212.5,395.1 212.8,396.7 213.0,397.7 213.2,399.7 213.4,398.5 213.6,397.4 213.9,397.2 214.1,398.0 214.3,397.6 214.5,397.4 214.8,398.0 215.0,398.0 215.2,397.4 215.4,395.5 215.6,393.9 215.9,391.6 216.1,389.1 216.3,388.1 216.5,384.9 216.8,382.3 217.0,381.6 217.2,379.9 217.4,375.0 217.6,373.0 217.9,369.8 218.1,368.7 218.3,365.4 218.5,366.3 218.8,368.5 219.0,369.3 219.2,369.1 219.4,368.7 219.6,370.7 219.9,373.1 220.1,375.1 220.3,375.3 220.5,374.9 220.8,375.8 221.0,376.6 221.2,376.4 221.4,376.7 221.6,377.2 221.9,379.3 222.1,379.5 222.3,377.8 222.5,378.9 222.8,377.4 223.0,378.7 223.2,380.1 223.4,380.5 223.6,380.6 223.9,381.6 224.1,381.1 224.3,381.4 224.5,379.8 224.8,380.7 225.0,380.6 225.2,381.9 225.4,382.3 225.6,381.4 225.9,381.6 226.1,381.1 226.3,380.3 226.5,379.6 226.8,380.9 227.0,380.4 227.2,379.4 227.4,380.0 227.6,380.8 227.9,380.6 228.1,378.4 228.3,378.6 228.5,377.3 228.8,378.3 229.0,377.4 229.2,379.2 229.4,379.0 229.6,378.5 229.9,376.8 230.1,377.0 230.3,376.4 230.5,377.7 230.8,378.4 231.0,377.3 231.2,376.7 231.4,376.6 231.6,376.6 231.9,378.2 232.1,376.7 232.3,377.8 232.5,377.4 232.8,377.7 233.0,380.1 233.2,381.6 233.4,382.0 233.6,381.0 233.9,379.5 234.1,380.0 234.3,379.3 234.5,380.9 234.8,381.2 235.0,381.6 235.2,381.1 235.4,381.9 235.6,381.5 235.9,380.7 236.1,381.3 236.3,382.0 236.5,382.0 236.8,382.8 237.0,383.1 237.2,381.4 237.4,380.8 237.7,382.0 237.9,381.5 238.1,380.5 238.3,379.6 238.5,379.2 238.8,378.6 239.0,379.1 239.2,379.3 239.4,379.5 239.7,378.3 239.9,377.8 240.1,376.7 240.3,376.6 240.5,378.2 240.8,379.4 241.0,379.9 241.2,379.6 241.4,378.1 241.7,379.0 241.9,379.9 242.1,378.6 242.3,377.0 242.5,376.2 242.8,375.2 243.0,376.3 243.2,377.5 243.4,377.9 243.7,379.1 243.9,379.2 244.1,377.6 244.3,376.2 244.5,376.4 244.8,377.4 245.0,378.4 245.2,378.6 245.4,380.7 245.7,379.7 245.9,379.0 246.1,379.6 246.3,379.9 246.5,381.6 246.8,380.4 247.0,379.9 247.2,382.8 247.4,382.5 247.7,381.6 247.9,380.1 248.1,381.6 248.1,413.0 247.9,411.4 247.7,412.9 247.4,413.8 247.2,414.2 247.0,411.2 246.8,411.7 246.5,413.0 246.3,411.2 246.1,411.0 245.9,410.4 245.7,411.0 245.4,412.0 245.2,410.0 245.0,409.8 244.8,408.7 244.5,407.7 244.3,407.6 244.1,409.0 243.9,410.6 243.7,410.5 243.4,409.2 243.2,408.8 243.0,407.7 242.8,406.6 242.5,407.5 242.3,408.4 242.1,410.0 241.9,411.2 241.7,410.3 241.4,409.4 241.2,411.0 241.0,411.3 240.8,410.8 240.5,409.5 240.3,407.9 240.1,408.0 239.9,409.2 239.7,409.6 239.4,410.8 239.2,410.6 239.0,410.5 238.8,410.0 238.5,410.6 238.3,411.0 238.1,411.9 237.9,412.9 237.7,413.4 237.4,412.2 237.2,412.7 237.0,414.4 236.8,414.1 236.5,413.4 236.3,413.4 236.1,412.6 235.9,412.0 235.6,412.8 235.4,413.3 235.2,412.4 235.0,413.0 234.8,412.5 234.5,412.2 234.3,410.6 234.1,411.3 233.9,410.8 233.6,412.3 233.4,413.4 233.2,412.9 233.0,411.5 232.8,409.0 232.5,408.7 232.3,409.1 232.1,408.1 231.9,409.6 231.6,408.0 231.4,407.9 231.2,408.0 231.0,408.6 230.8,409.7 230.5,409.0 230.3,407.8 230.1,408.3 229.9,408.1 229.6,409.9 229.4,410.3 229.2,410.5 229.0,408.7 228.8,409.6 228.5,408.7 228.3,410.0 228.1,409.7 227.9,411.9 227.6,412.1 227.4,411.3 227.2,410.7 227.0,411.7 226.8,412.2 226.5,410.9 226.3,411.6 226.1,412.4 225.9,412.9 225.6,412.7 225.4,413.7 225.2,413.2 225.0,411.9 224.8,412.0 224.5,411.2 224.3,412.7 224.1,412.4 223.9,412.9 223.6,411.9 223.4,411.8 223.2,411.4 223.0,410.0 222.8,408.7 222.5,410.2 222.3,409.2 222.1,410.8 221.9,410.6 221.6,408.5 221.4,408.1 221.2,407.7 221.0,407.9 220.8,407.1 220.5,406.3 220.3,406.6 220.1,406.4 219.9,404.4 219.6,402.0 219.4,400.1 219.2,400.4 219.0,400.6 218.8,399.9 218.5,397.6 218.3,396.8 218.1,400.0 217.9,401.2 217.6,404.3 217.4,406.3 217.2,411.3 217.0,413.0 216.8,413.7 216.5,416.3 216.3,419.5 216.1,420.4 215.9,422.9 215.6,425.3 215.4,426.9 215.2,428.8 215.0,429.3 214.8,429.4 214.5,428.7 214.3,428.9 214.1,429.4 213.9,428.5 213.6,428.8 213.4,429.9 213.2,431.0 213.0,429.0 212.8,428.1 212.5,426.4 212.3,424.9 212.1,423.8 211.9,424.9 211.6,423.5 211.4,423.8 211.2,423.0 211.0,422.7 210.7,423.4 210.5,423.3 210.3,423.2 210.1,425.2 209.9,426.5 209.6,425.3 209.4,426.3 209.2,426.2 209.0,426.4 208.7,426.3 208.5,426.8 208.3,428.1 208.1,428.5 207.9,428.4 207.6,427.6 207.4,426.7 207.2,427.1 207.0,426.4 206.7,426.3 206.5,425.4 206.3,427.3 206.1,426.8 205.9,427.3 205.6,425.1 205.4,424.7 205.2,424.7 205.0,421.4 204.7,419.3 204.5,417.6 204.3,414.6 204.1,413.6 203.9,414.0 203.6,415.8 203.4,415.7 203.2,417.5 203.0,419.8 202.7,420.4 202.5,422.8 202.3,423.3 202.1,421.8 201.9,421.0 201.6,419.7 201.4,419.3 201.2,419.0 201.0,419.0 200.7,418.5 200.5,419.1 200.3,419.0 200.1,421.6 199.9,422.9 199.6,422.8 199.4,424.2 199.2,425.9 199.0,426.6 198.7,428.9 198.5,426.6 198.3,424.6 198.1,422.3 197.9,421.2 197.6,417.7 197.4,415.8 197.2,416.3 197.0,414.9 196.7,414.5 196.5,416.4 196.3,417.5 196.1,419.1 195.9,418.3 195.6,420.5 195.4,421.6 195.2,422.6 195.0,419.1 194.7,416.7 194.5,416.5 194.3,412.9 194.1,411.9 193.9,410.0 193.6,411.5 193.4,413.0 193.2,417.7 193.0,420.5 192.7,423.2 192.5,425.9 192.3,428.7 192.1,429.0 191.9,426.7 191.6,426.2 191.4,425.2 191.2,422.2 191.0,419.3 190.7,418.6 190.5,418.9 190.3,421.5 190.1,422.1 189.9,424.4 189.6,423.6 189.4,422.9 189.2,426.2 189.0,427.1 188.7,424.3 188.5,422.1 188.3,419.5 188.1,416.7 187.9,414.9 187.6,412.9 187.4,413.9 187.2,414.2 187.0,414.6 186.7,415.6 186.5,418.7 186.3,419.0 186.1,416.5 185.8,415.4 185.6,413.7 185.4,411.1 185.2,408.9 185.0,407.6 184.7,412.8 184.5,414.5 184.3,416.8 184.1,418.2 183.8,420.7 183.6,423.4 183.4,425.2 183.2,424.5 183.0,423.8 182.7,422.5 182.5,421.7 182.3,418.9 182.1,418.4 181.8,418.0 181.6,420.5 181.4,421.0 181.2,420.3 181.0,421.6 180.7,422.4 180.5,422.0 180.3,420.4 180.1,418.5 179.8,415.2 179.6,413.6 179.4,412.8 179.2,411.4 179.0,413.7 178.7,416.3 178.5,418.0 178.3,420.1 178.1,422.1 177.8,424.5 177.6,427.6 177.4,429.7 177.2,428.8 177.0,425.9 176.7,425.5 176.5,424.3 176.3,423.3 176.1,423.1 175.8,423.8 175.6,422.6 175.4,422.9 175.2,425.3 175.0,427.9 174.7,427.9 174.5,425.8 174.3,423.1 174.1,421.3 173.8,419.0 173.6,415.3 173.4,416.6 173.2,419.4 173.0,422.5 172.7,425.5 172.5,419.4 172.3,420.7 172.1,420.0 171.8,418.8 171.6,419.0 171.4,418.8 171.2,419.2 171.0,421.7 170.7,420.2 170.5,421.2 170.3,420.3 170.1,418.8 169.8,419.8 169.6,419.3 169.4,417.3 169.2,418.0 169.0,416.6 168.7,418.1 168.5,420.6 168.3,419.7 168.1,419.8 167.8,419.7 167.6,419.4 167.4,419.5 167.2,419.8 167.0,418.9 166.7,421.1 166.5,422.9 166.3,421.4 166.1,420.6 165.8,420.4 165.6,421.5 165.4,421.5 165.2,420.0 165.0,420.7 164.7,421.9 164.5,420.3 164.3,420.3 164.1,418.9 163.8,420.0 163.6,419.5 163.4,419.6 163.2,419.1 163.0,419.8 162.7,420.6 162.5,418.4 162.3,420.2 162.1,421.0 161.8,420.0 161.6,420.4 161.4,421.0 161.2,420.1 160.9,419.7 160.7,420.1 160.5,419.1 160.3,419.6 160.1,420.2 159.8,420.6 159.6,419.6 159.4,420.9 159.2,422.2 158.9,421.2 158.7,420.2 158.5,419.0 158.3,420.2 158.1,420.9 157.8,421.8 157.6,420.5 157.4,421.3 157.2,421.9 156.9,422.4 156.7,422.2 156.5,421.0 156.3,421.7 156.1,421.9 155.8,421.0 155.6,421.1 155.4,421.5 155.2,420.5 154.9,420.7 154.7,421.2 154.5,421.3 154.3,421.8 154.1,420.6 153.8,419.8 153.6,421.7 153.4,422.0 153.2,423.0 152.9,422.4 152.7,422.4 152.5,423.9 152.3,424.1 152.1,424.9 151.8,424.6 151.6,425.1 151.4,426.2 151.2,424.7 150.9,422.9 150.7,421.9 150.5,422.3 150.3,422.0 150.1,423.6 149.8,420.6 149.6,420.0 149.4,418.6 149.2,420.2 148.9,420.5 148.7,419.4 148.5,419.1 148.3,418.2 148.1,419.0 147.8,418.1 147.6,417.0 147.4,416.7 147.2,418.4 146.9,419.4 146.7,421.1 146.5,422.5 146.3,420.9 146.1,420.3 145.8,419.2 145.6,421.7 145.4,420.8 145.2,420.2 144.9,420.3 144.7,420.2 144.5,420.3 144.3,418.9 144.1,420.5 143.8,419.2 143.6,418.9 143.4,420.2 143.2,420.1 142.9,418.9 142.7,419.5 142.5,418.1 142.3,418.1 142.1,419.0 141.8,417.9 141.6,419.8 141.4,421.4 141.2,419.8 140.9,419.3 140.7,418.5 140.5,419.1 140.3,418.7 140.1,420.1 139.8,420.0 139.6,419.6 139.4,418.8 139.2,418.7 138.9,417.9 138.7,419.2 138.5,419.2 138.3,419.6 138.1,418.9 137.8,418.9 137.6,418.8 137.4,418.6 137.2,420.1 136.9,419.5 136.7,419.8 136.5,419.2 136.3,418.4 136.0,419.8 135.8,419.6 135.6,421.0 135.4,419.2 135.2,419.0 134.9,418.4 134.7,418.8 134.5,420.4 134.3,420.7 134.0,420.0 133.8,419.3 133.6,418.5 133.4,418.4 133.2,420.2 132.9,419.8 132.7,419.9 132.5,419.1 132.3,418.2 132.0,417.8 131.8,419.3 131.6,419.1 131.4,419.3 131.2,420.1 130.9,420.1 130.7,420.3 130.5,419.0 130.3,419.2 130.0,419.2 129.8,420.2 129.6,420.7 129.4,419.6 129.2,420.6 128.9,420.3 128.7,419.3 128.5,419.5 128.3,419.1 128.0,418.6 127.8,419.4 127.6,419.9 127.4,420.8 127.2,419.7 126.9,418.9 126.7,419.1 126.5,419.9 126.3,421.5 126.0,421.7 125.8,422.0 125.6,421.5 125.4,421.5 125.2,422.0 124.9,420.5 124.7,419.6 124.5,419.6 124.3,419.3 124.0,420.5 123.8,419.2 123.6,418.2 123.4,420.8 123.2,420.4 122.9,419.5 122.7,418.1 122.5,419.3 122.3,420.0 122.0,419.0 121.8,420.2 121.6,419.0 121.4,419.3 121.2,420.2 120.9,419.6 120.7,421.2 120.5,420.7 120.3,420.3 120.0,419.9 119.8,419.9 119.6,419.1 119.4,419.3 119.2,419.5 118.9,419.3 118.7,419.7 118.5,418.3 118.3,419.9 118.0,420.8 117.8,419.7 117.6,420.4 117.4,419.3 117.2,421.1 116.9,420.3 116.7,420.5 116.5,420.2 116.3,420.0 116.0,418.3 115.8,417.8 115.6,416.9 115.4,418.3 115.2,418.6 114.9,419.4 114.7,419.0 114.5,418.9 114.3,418.1 114.0,419.9 113.8,419.9 113.6,418.3 113.4,419.0 113.2,420.3 112.9,421.6 112.7,420.4 112.5,420.1 112.3,420.2 112.0,419.8 111.8,419.4 111.6,418.2 111.4,419.5 111.1,419.9 110.9,420.8 110.7,421.1 110.5,420.0 110.3,419.8 110.0,420.0 109.8,420.0 109.6,418.2 109.4,418.3 109.1,418.6 108.9,418.2 108.7,418.5 108.5,418.8 108.3,418.5 108.0,419.4 107.8,419.2 107.6,419.3 107.4,420.9 107.1,420.6 106.9,422.4 106.7,420.8 106.5,418.9 106.3,418.8 106.0,421.1 105.8,417.6 105.6,418.7 105.4,418.8 105.1,418.3 104.9,419.2 104.7,419.3 104.5,421.0 104.3,418.4 104.0,419.1 103.8,419.9 103.6,419.9 103.4,419.4 103.1,419.5 102.9,419.7 102.7,418.6 102.5,417.7 102.3,418.5 102.0,420.5 101.8,421.0 101.6,419.9 101.4,419.8 101.1,420.6 100.9,421.2 100.7,419.3 100.5,419.7 100.3,419.2 100.0,418.1 99.8,418.4 99.6,419.2 99.4,417.8 99.1,418.6 98.9,419.7 98.7,419.1 98.5,420.8 98.3,418.3 98.0,418.8 97.8,418.6 97.6,418.5 97.4,418.8 97.1,418.6 96.9,418.2 96.7,418.5 96.5,419.3 96.3,421.8 96.0,420.7 95.8,419.8 95.6,420.7 95.4,418.5 95.1,417.5 94.9,417.1 94.7,417.8 94.5,417.3 94.3,419.4 94.0,418.6 93.8,418.0 93.6,418.4 93.4,418.1 93.1,420.1 92.9,420.4 92.7,418.4 92.5,418.0 92.3,417.6 92.0,418.0 91.8,418.1 91.6,418.8 91.4,419.5 91.1,420.1 90.9,418.9 90.7,418.8 90.5,418.6 90.3,417.8 90.0,418.7 89.8,417.7 89.6,420.3 89.4,419.1 89.1,418.3 88.9,418.0 88.7,417.4 88.5,417.4 88.3,417.8 88.0,419.1 87.8,419.5 87.6,419.5 87.4,418.5 87.1,417.3 86.9,420.5 86.7,420.4 86.5,419.7 86.2,418.9 86.0,419.4 85.8,418.5 85.6,416.7 85.4,417.8 85.1,418.6 84.9,419.8 84.7,417.7 84.5,417.3 84.2,418.4 84.0,418.3 83.8,419.8 83.6,418.5 83.4,418.6 83.1,416.9 82.9,416.3 82.7,416.5 82.5,417.7 82.2,417.3 82.0,418.8 81.8,420.0 81.6,419.6 81.4,420.1 81.1,418.0 80.9,417.5 80.7,418.6 80.5,420.0 80.2,419.9 80.0,420.7 79.8,419.5 79.6,419.2 79.4,420.0 79.1,420.5 78.9,418.1 78.7,418.9 78.5,418.6 78.2,418.3 78.0,417.6 77.8,417.5 77.6,418.1 77.4,419.0 77.1,417.0 76.9,418.7 76.7,417.8 76.5,417.6 76.2,419.4 76.0,419.2 75.8,419.2 75.6,418.2 75.4,417.8 75.1,416.7 74.9,418.1 74.7,418.4 74.5,418.2 74.2,418.6 74.0,417.4 73.8,417.2 73.6,418.1 73.4,418.8 73.1,418.5 72.9,418.5 72.7,418.6 72.5,418.9 72.2,418.8 72.0,417.8 71.8,418.2 71.6,418.8 71.4,418.5 71.1,419.3 70.9,418.1 70.7,420.4 70.5,420.1 70.2,418.9 70.0,418.2 69.8,417.6 69.6,418.8 69.4,418.0 69.1,418.0 68.9,418.0 68.7,417.1 68.5,417.5 68.2,418.0 68.0,417.3 67.8,417.5 67.6,418.7 67.4,418.6 67.1,418.2 66.9,418.4 66.7,418.2 66.5,420.3 66.2,421.0 66.0,419.4 65.8,418.2 65.6,421.4 65.4,421.1 65.1,419.3 64.9,418.7 64.7,418.7 64.5,417.2 64.2,417.2 64.0,417.6 63.8,417.8 63.6,418.0 63.4,418.9 63.1,419.7 62.9,420.0 62.7,418.6 62.5,418.9 62.2,419.5 62.0,420.3 61.8,419.9 61.6,419.4 61.3,419.1 61.1,419.5 60.9,418.0 60.7,419.4 60.5,419.5 60.2,418.1 60.0,418.0 59.8,418.4 59.6,418.3 59.3,418.3 59.1,419.4 58.9,420.4 58.7,419.8 58.5,420.3 58.2,421.1 58.0,420.8 57.8,418.7 57.6,419.5 57.3,418.7 57.1,418.9 56.9,419.3 56.7,418.7 56.5,418.7 56.2,419.3 56.0,420.5 55.8,419.6 55.6,419.0 55.3,418.6 55.1,420.8 54.9,420.8 54.7,419.5 54.5,419.5 54.2,418.8 54.0,417.2 53.8,419.6 53.6,419.6 53.3,420.8 53.1,419.6 52.9,418.4 52.7,418.9 52.5,419.9 52.2,418.6 52.0,417.8 51.8,418.5 51.6,418.7 51.3,420.4 51.1,418.6 50.9,418.7 50.7,417.4 50.5,419.0 50.2,419.5 50.0,419.1 49.8,418.7 49.6,419.7 49.3,420.0 49.1,420.3 48.9,420.5 48.7,420.2 48.5,421.2 48.2,421.8 48.0,420.1 47.8,420.1 47.6,419.3 47.3,419.2 47.1,420.5 46.9,418.8 46.7,419.5 46.5,419.8 46.2,419.7 46.0,419.1 45.8,420.6 45.6,419.1 45.3,419.7 45.1,420.6 44.9,420.4 44.7,418.2 44.5,418.3 44.2,418.6 44.0,418.7 43.8,419.1 43.6,419.9 43.3,420.7 43.1,420.0 42.9,418.5 42.7,418.6 42.5,418.2 42.2,419.1 42.0,419.9 41.8,420.3 41.6,420.8 41.3,421.7 41.1,420.7 40.9,419.2 40.7,419.8 40.5,420.9 40.2,420.9 40.0,419.7 39.8,418.4 39.6,418.5 39.3,417.7 39.1,416.4 38.9,417.4 38.7,417.4 38.5,417.4 38.2,417.4 38.0,418.2 37.8,419.3 37.6,418.4 37.3,419.1 37.1,419.7 36.9,419.4 36.7,420.4 36.4,420.9 36.2,419.2 36.0,418.4 35.8,418.6 35.6,419.0 35.3,418.4 35.1,419.2 34.9,418.1 34.7,417.7 34.4,419.4 34.2,419.8 34.0,419.4 33.8,419.9 33.6,420.1 33.3,420.8 33.1,419.9 32.9,419.7 32.7,419.1 32.4,420.5 32.2,419.0 32.0,420.2 31.8,419.9 31.6,420.0 31.3,419.8 31.1,419.4 30.9,419.5 30.7,418.9 30.4,418.1 30.2,418.2 30.0,418.4 29.8,417.6 29.6,417.8 29.3,418.1 29.1,420.2 28.9,419.7 28.7,420.5 28.4,418.5 28.2,418.9 28.0,418.6 27.8,419.9 27.6,420.5 27.3,419.6 27.1,419.1 26.9,417.0 26.7,417.8 26.4,417.9 26.2,418.1 26.0,419.0" fill="#ffe066" fill-opacity="0.55" stroke="none"/>
<polyline points="26.0,418.7 26.2,417.1 26.4,417.2 26.7,414.8 26.9,406.9 27.1,419.4 27.3,411.3 27.6,411.1 27.8,416.0 28.0,408.2 28.2,412.1 28.4,409.3 28.7,408.0 28.9,411.5 29.1,409.6 29.3,414.5 29.6,415.7 29.8,418.4 30.0,417.3 30.2,414.4 30.4,412.3 30.7,418.3 30.9,411.6 31.1,414.6 31.3,416.9 31.6,417.5 31.8,407.8 32.0,414.5 32.2,416.9 32.4,418.6 32.7,407.7 32.9,416.6 33.1,402.1 33.3,410.8 33.6,422.9 33.8,410.1 34.0,415.0 34.2,418.4 34.4,416.2 34.7,410.7 34.9,411.7 35.1,412.6 35.3,415.7 35.6,409.4 35.8,408.3 36.0,407.0 36.2,410.6 36.4,409.3 36.7,408.1 36.9,411.8 37.1,411.5 37.3,412.0 37.6,411.3 37.8,411.2 38.0,415.6 38.2,413.3 38.5,410.6 38.7,419.4 38.9,417.2 39.1,405.8 39.3,416.2 39.6,415.0 39.8,412.0 40.0,397.8 40.2,418.7 40.5,417.6 40.7,389.0 40.9,416.1 41.1,414.6 41.3,411.1 41.6,414.5 41.8,409.6 42.0,412.3 42.2,411.1 42.5,411.1 42.7,414.5 42.9,411.9 43.1,413.8 43.3,419.4 43.6,412.2 43.8,412.0 44.0,412.3 44.2,415.3 44.5,422.2 44.7,408.1 44.9,415.5 45.1,422.9 45.3,412.3 45.6,416.3 45.8,413.2 46.0,414.3 46.2,410.7 46.5,413.9 46.7,413.4 46.9,413.2 47.1,411.1 47.3,418.5 47.6,410.1 47.8,412.6 48.0,416.9 48.2,416.7 48.5,417.6 48.7,414.9 48.9,412.2 49.1,417.5 49.3,412.4 49.6,409.0 49.8,411.4 50.0,408.7 50.2,414.6 50.5,411.5 50.7,403.8 50.9,413.5 51.1,414.0 51.3,415.3 51.6,411.6 51.8,415.5 52.0,413.5 52.2,419.5 52.5,418.4 52.7,417.2 52.9,417.3 53.1,416.0 53.3,413.3 53.6,415.8 53.8,419.0 54.0,411.2 54.2,404.8 54.5,419.1 54.7,410.6 54.9,416.6 55.1,417.8 55.3,416.0 55.6,411.1 55.8,417.3 56.0,416.5 56.2,413.6 56.5,410.0 56.7,409.5 56.9,415.6 57.1,409.7 57.3,412.5 57.6,410.3 57.8,410.0 58.0,417.5 58.2,415.8 58.5,416.2 58.7,413.4 58.9,409.7 59.1,414.1 59.3,415.4 59.6,404.5 59.8,413.3 60.0,412.8 60.2,413.0 60.5,418.8 60.7,411.6 60.9,409.3 61.1,414.6 61.3,413.8 61.6,414.8 61.8,420.8 62.0,414.3 62.2,418.6 62.5,417.0 62.7,412.1 62.9,411.7 63.1,417.5 63.4,409.9 63.6,406.9 63.8,412.1 64.0,412.7 64.2,411.4 64.5,413.5 64.7,416.5 64.9,411.3 65.1,411.7 65.4,417.7 65.6,417.6 65.8,412.6 66.0,416.7 66.2,419.2 66.5,420.3 66.7,409.9 66.9,414.5 67.1,412.8 67.4,407.4 67.6,415.2 67.8,410.4 68.0,416.8 68.2,415.0 68.5,410.0 68.7,412.8 68.9,417.7 69.1,418.1 69.4,411.8 69.6,416.9 69.8,410.2 70.0,412.2 70.2,414.9 70.5,415.3 70.7,412.8 70.9,412.9 71.1,417.4 71.4,412.3 71.6,414.9 71.8,413.9 72.0,410.8 72.2,412.6 72.5,410.4 72.7,414.2 72.9,414.9 73.1,414.6 73.4,412.4 73.6,415.7 73.8,413.3 74.0,415.1 74.2,416.1 74.5,413.7 74.7,405.1 74.9,414.2 75.1,410.7 75.4,412.4 75.6,413.7 75.8,414.0 76.0,407.5 76.2,415.1 76.5,407.1 76.7,410.5 76.9,416.5 77.1,414.0 77.4,415.4 77.6,416.6 77.8,408.5 78.0,411.1 78.2,411.4 78.5,416.9 78.7,412.3 78.9,414.8 79.1,407.2 79.4,415.2 79.6,413.2 79.8,413.0 80.0,417.1 80.2,416.1 80.5,416.2 80.7,410.7 80.9,414.8 81.1,413.4 81.4,413.5 81.6,415.8 81.8,419.4 82.0,417.6 82.2,413.5 82.5,414.4 82.7,408.1 82.9,411.1 83.1,411.9 83.4,416.9 83.6,411.7 83.8,415.9 84.0,416.4 84.2,415.4 84.5,404.2 84.7,414.6 84.9,417.6 85.1,409.7 85.4,406.1 85.6,412.6 85.8,408.8 86.0,419.1 86.2,410.6 86.5,420.1 86.7,410.8 86.9,415.2 87.1,403.6 87.4,411.9 87.6,412.8 87.8,418.2 88.0,418.0 88.3,414.4 88.5,409.4 88.7,415.8 88.9,420.9 89.1,410.5 89.4,411.1 89.6,418.4 89.8,411.3 90.0,410.0 90.3,409.0 90.5,418.9 90.7,413.7 90.9,416.6 91.1,412.0 91.4,414.4 91.6,418.0 91.8,412.9 92.0,411.3 92.3,417.9 92.5,417.7 92.7,415.9 92.9,416.6 93.1,417.2 93.4,419.5 93.6,418.9 93.8,413.4 94.0,412.5 94.3,417.6 94.5,397.4 94.7,406.8 94.9,413.0 95.1,414.2 95.4,416.1 95.6,414.3 95.8,414.2 96.0,415.1 96.3,418.2 96.5,413.1 96.7,412.3 96.9,413.8 97.1,409.8 97.4,419.1 97.6,411.3 97.8,414.1 98.0,411.0 98.3,406.9 98.5,415.7 98.7,414.8 98.9,409.4 99.1,409.0 99.4,407.6 99.6,413.6 99.8,411.2 100.0,407.0 100.3,412.4 100.5,419.6 100.7,417.0 100.9,417.8 101.1,414.2 101.4,416.5 101.6,410.1 101.8,417.5 102.0,410.1 102.3,415.6 102.5,408.1 102.7,412.8 102.9,409.7 103.1,407.7 103.4,408.3 103.6,411.2 103.8,417.2 104.0,416.6 104.3,423.8 104.5,410.8 104.7,409.8 104.9,410.5 105.1,416.8 105.4,404.2 105.6,415.7 105.8,409.4 106.0,421.3 106.3,415.6 106.5,409.5 106.7,412.0 106.9,420.8 107.1,415.6 107.4,411.8 107.6,420.2 107.8,411.2 108.0,419.3 108.3,411.1 108.5,414.4 108.7,409.8 108.9,414.7 109.1,414.5 109.4,414.3 109.6,416.2 109.8,415.8 110.0,418.3 110.3,416.6 110.5,412.5 110.7,417.1 110.9,412.0 111.1,407.8 111.4,411.6 111.6,416.9 111.8,412.8 112.0,409.8 112.3,412.0 112.5,410.8 112.7,410.1 112.9,421.6 113.2,413.2 113.4,408.0 113.6,413.8 113.8,419.2 114.0,414.3 114.3,413.5 114.5,407.2 114.7,409.4 114.9,415.7 115.2,417.1 115.4,416.0 115.6,411.9 115.8,415.1 116.0,406.4 116.3,418.9 116.5,415.3 116.7,414.8 116.9,413.8 117.2,419.1 117.4,414.9 117.6,414.6 117.8,413.4 118.0,417.6 118.3,415.7 118.5,412.3 118.7,408.0 118.9,418.2 119.2,411.9 119.4,408.7 119.6,418.6 119.8,409.7 120.0,409.9 120.3,414.8 120.5,412.1 120.7,410.9 120.9,414.7 121.2,414.1 121.4,417.6 121.6,416.0 121.8,414.6 122.0,413.9 122.3,409.2 122.5,414.6 122.7,416.8 122.9,411.1 123.2,411.8 123.4,414.0 123.6,413.2 123.8,416.5 124.0,417.3 124.3,408.7 124.5,411.5 124.7,413.9 124.9,413.6 125.2,417.7 125.4,419.2 125.6,417.6 125.8,416.7 126.0,421.9 126.3,421.0 126.5,416.0 126.7,413.3 126.9,411.5 127.2,419.0 127.4,419.4 127.6,420.1 127.8,415.7 128.0,417.4 128.3,417.4 128.5,418.1 128.7,406.5 128.9,415.4 129.2,417.4 129.4,416.0 129.6,412.6 129.8,411.8 130.0,413.2 130.3,420.7 130.5,410.6 130.7,411.5 130.9,412.3 131.2,413.3 131.4,413.9 131.6,409.9 131.8,415.2 132.0,409.1 132.3,414.7 132.5,415.3 132.7,416.2 132.9,416.5 133.2,416.7 133.4,410.7 133.6,408.0 133.8,416.5 134.0,417.1 134.3,411.3 134.5,416.4 134.7,412.7 134.9,412.8 135.2,410.8 135.4,417.0 135.6,412.0 135.8,411.7 136.0,422.1 136.3,413.8 136.5,415.3 136.7,413.3 136.9,414.5 137.2,417.5 137.4,414.7 137.6,412.5 137.8,413.6 138.1,414.3 138.3,406.9 138.5,412.2 138.7,417.9 138.9,408.5 139.2,412.5 139.4,417.1 139.6,414.1 139.8,417.7 140.1,422.5 140.3,412.4 140.5,411.8 140.7,411.3 140.9,414.7 141.2,409.3 141.4,415.5 141.6,413.2 141.8,409.7 142.1,409.3 142.3,410.2 142.5,414.9 142.7,414.6 142.9,418.5 143.2,412.5 143.4,413.1 143.6,409.7 143.8,412.4 144.1,410.0 144.3,416.1 144.5,414.0 144.7,415.8 144.9,415.9 145.2,421.0 145.4,418.1 145.6,423.3 145.8,415.1 146.1,417.6 146.3,415.3 146.5,423.6 146.7,417.8 146.9,415.2 147.2,421.1 147.4,406.1 147.6,410.3 147.8,415.7 148.1,407.6 148.3,408.6 148.5,422.5 148.7,415.4 148.9,417.6 149.2,415.0 149.4,416.8 149.6,415.9 149.8,415.3 150.1,427.0 150.3,416.6 150.5,412.6 150.7,416.5 150.9,414.0 151.2,414.3 151.4,420.2 151.6,418.7 151.8,418.2 152.1,421.3 152.3,411.3 152.5,417.3 152.7,415.4 152.9,414.1 153.2,412.8 153.4,408.6 153.6,420.1 153.8,414.2 154.1,413.8 154.3,420.8 154.5,420.8 154.7,413.5 154.9,413.1 155.2,416.4 155.4,417.4 155.6,418.2 155.8,419.9 156.1,419.8 156.3,416.2 156.5,416.6 156.7,413.9 156.9,421.9 157.2,422.7 157.4,414.5 157.6,418.8 157.8,417.9 158.1,415.9 158.3,419.6 158.5,419.4 158.7,414.4 158.9,425.5 159.2,415.2 159.4,422.1 159.6,412.0 159.8,414.8 160.1,414.5 160.3,398.2 160.5,413.8 160.7,420.0 160.9,412.0 161.2,414.8 161.4,414.6 161.6,416.0 161.8,416.0 162.1,413.0 162.3,412.1 162.5,412.8 162.7,419.8 163.0,415.9 163.2,417.7 163.4,410.9 163.6,412.9 163.8,414.9 164.1,414.4 164.3,417.8 164.5,412.5 164.7,420.4 165.0,418.5 165.2,412.1 165.4,414.3 165.6,416.7 165.8,410.6 166.1,419.8 166.3,413.4 166.5,416.5 166.7,411.0 167.0,415.3 167.2,414.9 167.4,417.5 167.6,408.6 167.8,420.3 168.1,412.5 168.3,409.1 168.5,418.6 168.7,417.8 169.0,414.8 169.2,414.4 169.4,411.0 169.6,414.4 169.8,417.7 170.1,414.6 170.3,410.0 170.5,416.9 170.7,416.4 171.0,409.9 171.2,417.1 171.4,415.2 171.6,408.9 171.8,413.5 172.1,421.4 172.3,418.5 172.5,422.0 172.7,413.5 173.0,407.2 173.2,410.8 173.4,397.1 173.6,396.8 173.8,402.1 174.1,409.6 174.3,408.8 174.5,409.7 174.7,410.5 175.0,409.3 175.2,407.3 175.4,411.1 175.6,412.4 175.8,410.8 176.1,408.2 176.3,401.2 176.5,410.5 176.7,408.3 177.0,411.4 177.2,414.8 177.4,409.5 177.6,417.3 177.8,408.0 178.1,400.9 178.3,394.2 178.5,405.6 178.7,405.3 179.0,403.8 179.2,398.7 179.4,398.6 179.6,399.4 179.8,397.2 180.1,405.4 180.3,405.2 180.5,413.5 180.7,410.5 181.0,408.0 181.2,414.3 181.4,404.9 181.6,403.4 181.8,403.6 182.1,403.5 182.3,404.8 182.5,411.7 182.7,408.2 183.0,411.6 183.2,410.1 183.4,410.9 183.6,408.9 183.8,411.1 184.1,404.2 184.3,396.6 184.5,397.2 184.7,399.5 185.0,395.9 185.2,391.4 185.4,397.0 185.6,405.7 185.8,402.8 186.1,396.6 186.3,410.7 186.5,404.4 186.7,404.2 187.0,400.8 187.2,401.6 187.4,402.9 187.6,407.7 187.9,401.7 188.1,402.6 188.3,406.0 188.5,411.8 188.7,412.4 189.0,405.5 189.2,416.2 189.4,410.1 189.6,413.9 189.9,411.2 190.1,407.3 190.3,403.3 190.5,404.2 190.7,404.6 191.0,404.1 191.2,406.3 191.4,411.3 191.6,412.2 191.9,408.5 192.1,417.5 192.3,415.0 192.5,415.1 192.7,411.0 193.0,401.4 193.2,406.2 193.4,397.2 193.6,390.2 193.9,394.2 194.1,398.5 194.3,401.6 194.5,411.2 194.7,406.0 195.0,402.6 195.2,405.4 195.4,405.3 195.6,411.1 195.9,402.2 196.1,407.3 196.3,397.3 196.5,397.3 196.7,398.2 197.0,402.2 197.2,396.2 197.4,398.7 197.6,399.6 197.9,405.2 198.1,409.0 198.3,407.7 198.5,415.2 198.7,411.9 199.0,411.8 199.2,417.3 199.4,408.3 199.6,408.8 199.9,410.0 200.1,407.7 200.3,392.5 200.5,408.8 200.7,407.7 201.0,402.4 201.2,404.2 201.4,411.1 201.6,405.2 201.9,412.6 202.1,405.2 202.3,408.3 202.5,407.0 202.7,411.5 203.0,408.5 203.2,400.5 203.4,406.5 203.6,400.0 203.9,400.7 204.1,399.1 204.3,403.5 204.5,401.6 204.7,404.0 205.0,404.5 205.2,402.2 205.4,411.4 205.6,410.8 205.9,416.9 206.1,406.8 206.3,414.4 206.5,408.6 206.7,416.1 207.0,413.2 207.2,410.9 207.4,410.9 207.6,414.4 207.9,411.1 208.1,413.9 208.3,410.3 208.5,413.3 208.7,409.9 209.0,413.7 209.2,407.5 209.4,412.0 209.6,410.8 209.9,414.1 210.1,407.4 210.3,408.3 210.5,409.8 210.7,404.6 211.0,411.0 211.2,405.3 211.4,404.3 211.6,415.1 211.9,407.5 212.1,407.6 212.3,409.9 212.5,410.9 212.8,418.0 213.0,413.0 213.2,414.9 213.4,420.7 213.6,415.2 213.9,418.4 214.1,414.8 214.3,417.8 214.5,414.2 214.8,420.1 215.0,415.9 215.2,416.0 215.4,413.4 215.6,407.2 215.9,401.3 216.1,411.4 216.3,402.4 216.5,403.0 216.8,400.5 217.0,399.8 217.2,397.6 217.4,392.5 217.6,387.3 217.9,382.6 218.1,384.6 218.3,382.4 218.5,381.4 218.8,384.2 219.0,380.2 219.2,389.1 219.4,390.6 219.6,388.7 219.9,389.2 220.1,393.0 220.3,391.7 220.5,400.9 220.8,395.6 221.0,396.1 221.2,398.2 221.4,396.1 221.6,395.4 221.9,395.4 222.1,400.0 222.3,400.9 222.5,394.9 222.8,388.4 223.0,395.6 223.2,397.2 223.4,401.3 223.6,397.4 223.9,393.7 224.1,405.2 224.3,385.0 224.5,400.9 224.8,391.3 225.0,395.2 225.2,400.3 225.4,398.8 225.6,393.2 225.9,402.6 226.1,394.5 226.3,395.7 226.5,396.9 226.8,393.3 227.0,403.2 227.2,397.1 227.4,401.3 227.6,398.2 227.9,396.0 228.1,401.1 228.3,395.0 228.5,393.7 228.8,397.5 229.0,394.9 229.2,392.8 229.4,395.2 229.6,390.3 229.9,397.6 230.1,398.5 230.3,389.7 230.5,399.5 230.8,391.6 231.0,394.6 231.2,391.7 231.4,395.0 231.6,390.4 231.9,391.0 232.1,389.9 232.3,393.3 232.5,399.0 232.8,391.6 233.0,397.0 233.2,394.3 233.4,404.3 233.6,396.6 233.9,398.1 234.1,397.2 234.3,393.5 234.5,395.2 234.8,393.5 235.0,397.2 235.2,396.3 235.4,397.9 235.6,402.4 235.9,394.2 236.1,401.1 236.3,400.8 236.5,397.7 236.8,402.1 237.0,401.7 237.2,406.8 237.4,400.9 237.7,402.9 237.9,400.8 238.1,395.9 238.3,397.7 238.5,396.9 238.8,395.5 239.0,392.9 239.2,392.8 239.4,395.2 239.7,396.2 239.9,392.0 240.1,394.8 240.3,394.3 240.5,394.2 240.8,398.2 241.0,399.9 241.2,400.8 241.4,396.1 241.7,371.1 241.9,394.8 242.1,398.3 242.3,393.3 242.5,393.1 242.8,393.7 243.0,384.9 243.2,396.9 243.4,397.6 243.7,395.6 243.9,391.0 244.1,395.8 244.3,388.7 244.5,375.9 244.8,395.5 245.0,395.9 245.2,396.3 245.4,397.4 245.7,396.8 245.9,396.5 246.1,399.7 246.3,395.0 246.5,398.2 246.8,396.3 247.0,392.6 247.2,397.8 247.4,398.3 247.7,393.5 247.9,398.1 248.1,403.3" fill="none" stroke="#ffd84a" stroke-width="0.6" stroke-opacity="0.4" stroke-linejoin="round" />
<polygon points="26.0,412.8 26.2,417.3 26.4,413.2 26.7,412.4 26.9,410.0 27.1,410.1 27.3,407.8 27.6,409.3 27.8,410.8 28.0,409.7 28.2,409.3 28.4,410.2 28.7,410.4 28.9,408.9 29.1,408.0 29.3,409.3 29.6,410.5 29.8,413.6 30.0,410.0 30.2,411.4 30.4,410.0 30.7,411.0 30.9,409.4 31.1,409.5 31.3,411.8 31.6,411.4 31.8,414.0 32.0,411.5 32.2,414.2 32.4,412.4 32.7,410.0 32.9,409.7 33.1,410.2 33.3,410.8 33.6,410.0 33.8,407.2 34.0,406.9 34.2,408.8 34.4,411.6 34.7,410.3 34.9,413.2 35.1,413.6 35.3,414.3 35.6,412.7 35.8,412.9 36.0,412.9 36.2,412.5 36.4,413.6 36.7,412.0 36.9,409.6 37.1,410.4 37.3,409.6 37.6,410.1 37.8,408.3 38.0,407.8 38.2,407.0 38.5,408.2 38.7,407.1 38.9,409.9 39.1,411.6 39.3,413.1 39.6,412.3 39.8,414.1 40.0,415.3 40.2,414.0 40.5,413.0 40.7,412.7 40.9,417.6 41.1,417.1 41.3,416.9 41.6,416.8 41.8,415.4 42.0,411.0 42.2,411.9 42.5,412.9 42.7,411.0 42.9,411.2 43.1,411.2 43.3,412.5 43.6,412.1 43.8,410.9 44.0,411.0 44.2,409.3 44.5,405.6 44.7,404.2 44.9,405.5 45.1,407.0 45.3,406.5 45.6,407.8 45.8,407.1 46.0,403.6 46.2,404.3 46.5,403.0 46.7,404.5 46.9,404.4 47.1,402.7 47.3,406.1 47.6,406.3 47.8,406.1 48.0,405.3 48.2,402.9 48.5,403.0 48.7,406.5 48.9,406.4 49.1,407.3 49.3,407.7 49.6,403.4 49.8,406.0 50.0,405.3 50.2,406.5 50.5,404.6 50.7,404.4 50.9,404.7 51.1,405.1 51.3,403.5 51.6,406.6 51.8,408.1 52.0,409.8 52.2,407.1 52.5,408.7 52.7,410.9 52.9,411.4 53.1,407.3 53.3,409.1 53.6,408.4 53.8,408.7 54.0,409.6 54.2,411.1 54.5,411.3 54.7,411.5 54.9,414.4 55.1,408.4 55.3,408.0 55.6,409.1 55.8,410.1 56.0,411.5 56.2,409.5 56.5,410.3 56.7,409.6 56.9,412.2 57.1,410.8 57.3,407.5 57.6,409.4 57.8,408.7 58.0,409.5 58.2,408.1 58.5,406.7 58.7,407.0 58.9,407.7 59.1,406.3 59.3,405.7 59.6,406.7 59.8,405.6 60.0,405.0 60.2,406.8 60.5,406.5 60.7,401.6 60.9,402.4 61.1,403.9 61.3,400.9 61.6,404.0 61.8,408.8 62.0,410.2 62.2,410.3 62.5,407.6 62.7,405.1 62.9,408.8 63.1,405.5 63.4,407.5 63.6,406.1 63.8,405.1 64.0,404.7 64.2,405.1 64.5,405.1 64.7,407.1 64.9,405.9 65.1,404.1 65.4,403.4 65.6,400.3 65.8,401.2 66.0,402.2 66.2,401.2 66.5,402.9 66.7,406.2 66.9,409.3 67.1,405.3 67.4,403.1 67.6,394.8 67.8,388.8 68.0,382.4 68.2,379.9 68.5,381.1 68.7,384.0 68.9,384.4 69.1,381.8 69.4,384.4 69.6,388.1 69.8,389.5 70.0,388.8 70.2,385.1 70.5,384.4 70.7,385.4 70.9,386.8 71.1,385.7 71.4,385.2 71.6,386.8 71.8,391.9 72.0,397.9 72.2,399.7 72.5,408.6 72.7,407.1 72.9,408.1 73.1,405.9 73.4,406.3 73.6,405.5 73.8,404.9 74.0,405.1 74.2,403.9 74.5,407.1 74.7,405.0 74.9,405.8 75.1,405.3 75.4,403.2 75.6,402.8 75.8,401.2 76.0,407.1 76.2,408.0 76.5,405.5 76.7,407.5 76.9,407.0 77.1,403.8 77.4,403.5 77.6,406.2 77.8,405.4 78.0,404.6 78.2,405.2 78.5,405.7 78.7,404.2 78.9,401.0 79.1,394.1 79.4,389.4 79.6,383.5 79.8,382.6 80.0,384.2 80.2,382.6 80.5,382.2 80.7,382.6 80.9,381.6 81.1,382.7 81.4,383.1 81.6,382.8 81.8,382.8 82.0,380.9 82.2,385.5 82.5,384.5 82.7,386.6 82.9,385.4 83.1,383.5 83.4,383.0 83.6,381.2 83.8,381.3 84.0,386.1 84.2,386.0 84.5,381.7 84.7,379.5 84.9,380.7 85.1,383.9 85.4,379.6 85.6,383.7 85.8,380.4 86.0,378.4 86.2,376.1 86.5,376.2 86.7,374.2 86.9,370.4 87.1,371.7 87.4,373.8 87.6,372.7 87.8,372.0 88.0,372.0 88.3,373.0 88.5,371.5 88.7,371.7 88.9,373.5 89.1,372.3 89.4,372.0 89.6,371.6 89.8,374.4 90.0,374.3 90.3,372.3 90.5,370.6 90.7,370.7 90.9,371.0 91.1,370.3 91.4,369.5 91.6,367.9 91.8,369.1 92.0,371.4 92.3,370.9 92.5,374.4 92.7,373.0 92.9,373.1 93.1,372.5 93.4,371.4 93.6,371.5 93.8,373.9 94.0,373.3 94.3,373.8 94.5,372.8 94.7,371.6 94.9,373.1 95.1,371.2 95.4,369.4 95.6,370.9 95.8,370.1 96.0,373.2 96.3,373.2 96.5,370.9 96.7,374.0 96.9,373.5 97.1,373.9 97.4,370.9 97.6,369.4 97.8,371.4 98.0,371.2 98.3,375.4 98.5,372.1 98.7,371.2 98.9,369.2 99.1,374.1 99.4,372.2 99.6,372.3 99.8,375.9 100.0,374.7 100.3,373.2 100.5,371.0 100.7,370.8 100.9,371.9 101.1,370.9 101.4,371.3 101.6,372.3 101.8,373.4 102.0,372.1 102.3,371.4 102.5,368.4 102.7,370.5 102.9,368.4 103.1,369.2 103.4,368.4 103.6,371.2 103.8,372.5 104.0,372.3 104.3,370.4 104.5,370.5 104.7,369.6 104.9,369.9 105.1,368.9 105.4,369.7 105.6,371.3 105.8,370.4 106.0,370.6 106.3,368.2 106.5,369.9 106.7,370.4 106.9,371.2 107.1,369.4 107.4,368.9 107.6,369.0 107.8,372.0 108.0,374.0 108.3,372.2 108.5,370.5 108.7,368.5 108.9,372.7 109.1,372.2 109.4,374.3 109.6,374.2 109.8,373.0 110.0,370.6 110.3,371.7 110.5,372.6 110.7,372.4 110.9,369.8 111.1,366.7 111.4,371.3 111.6,371.7 111.8,372.1 112.0,369.8 112.3,369.8 112.5,368.1 112.7,371.2 112.9,371.2 113.2,371.9 113.4,373.2 113.6,372.4 113.8,373.7 114.0,369.0 114.3,369.4 114.5,371.9 114.7,372.5 114.9,369.1 115.2,370.9 115.4,369.9 115.6,369.6 115.8,368.7 116.0,368.9 116.3,370.4 116.5,371.7 116.7,374.2 116.9,369.4 117.2,357.9 117.4,352.3 117.6,346.4 117.8,344.8 118.0,339.8 118.3,340.5 118.5,342.3 118.7,340.5 118.9,340.7 119.2,338.5 119.4,339.5 119.6,339.3 119.8,338.0 120.0,340.6 120.3,335.1 120.5,335.7 120.7,340.3 120.9,341.0 121.2,335.5 121.4,336.9 121.6,337.6 121.8,337.1 122.0,338.0 122.3,339.1 122.5,341.3 122.7,344.4 122.9,343.0 123.2,340.3 123.4,340.9 123.6,342.8 123.8,338.8 124.0,340.8 124.3,339.0 124.5,336.5 124.7,339.9 124.9,341.4 125.2,341.8 125.4,340.9 125.6,342.2 125.8,345.1 126.0,346.5 126.3,342.3 126.5,339.6 126.7,338.6 126.9,339.9 127.2,344.9 127.4,342.3 127.6,342.7 127.8,338.1 128.0,338.6 128.3,342.7 128.5,343.0 128.7,343.4 128.9,343.5 129.2,350.2 129.4,349.0 129.6,349.4 129.8,349.3 130.0,349.4 130.3,342.6 130.5,341.7 130.7,343.5 130.9,345.6 131.2,347.5 131.4,345.8 131.6,343.9 131.8,343.1 132.0,340.9 132.3,337.9 132.5,345.2 132.7,344.6 132.9,346.2 133.2,346.7 133.4,343.4 133.6,341.3 133.8,342.0 134.0,341.2 134.3,342.3 134.5,343.7 134.7,348.3 134.9,351.5 135.2,348.9 135.4,343.7 135.6,345.2 135.8,349.8 136.0,346.6 136.3,345.5 136.5,346.6 136.7,348.6 136.9,348.8 137.2,345.6 137.4,350.2 137.6,352.3 137.8,351.7 138.1,344.6 138.3,341.1 138.5,343.4 138.7,345.1 138.9,348.2 139.2,345.0 139.4,347.9 139.6,349.2 139.8,347.7 140.1,350.2 140.3,353.1 140.5,351.4 140.7,348.2 140.9,346.3 141.2,345.4 141.4,348.9 141.6,350.2 141.8,349.4 142.1,351.2 142.3,350.3 142.5,351.7 142.7,356.7 142.9,358.0 143.2,354.8 143.4,351.9 143.6,352.8 143.8,350.0 144.1,353.5 144.3,350.6 144.5,347.6 144.7,352.4 144.9,348.6 145.2,350.3 145.4,348.6 145.6,345.3 145.8,348.9 146.1,350.2 146.3,350.7 146.5,349.8 146.7,354.2 146.9,356.8 147.2,352.9 147.4,350.9 147.6,353.1 147.8,356.0 148.1,355.2 148.3,355.1 148.5,358.6 148.7,357.4 148.9,359.7 149.2,359.1 149.4,357.4 149.6,355.2 149.8,352.3 150.1,353.5 150.3,357.4 150.5,354.5 150.7,355.5 150.9,359.1 151.2,361.2 151.4,359.0 151.6,357.3 151.8,357.1 152.1,357.7 152.3,357.4 152.5,361.7 152.7,357.0 152.9,359.1 153.2,358.7 153.4,357.5 153.6,359.4 153.8,352.1 154.1,345.8 154.3,346.8 154.5,348.3 154.7,347.7 154.9,346.6 155.2,346.8 155.4,344.7 155.6,344.5 155.8,344.4 156.1,344.6 156.3,348.5 156.5,347.7 156.7,349.8 156.9,347.9 157.2,346.0 157.4,345.7 157.6,343.8 157.8,343.6 158.1,339.8 158.3,343.6 158.5,345.2 158.7,345.4 158.9,345.8 159.2,347.2 159.4,347.6 159.6,343.5 159.8,344.4 160.1,345.8 160.3,347.6 160.5,348.6 160.7,348.9 160.9,350.7 161.2,356.4 161.4,356.6 161.6,356.0 161.8,358.3 162.1,356.4 162.3,361.7 162.5,362.5 162.7,364.3 163.0,365.5 163.2,365.5 163.4,363.0 163.6,357.6 163.8,355.2 164.1,349.9 164.3,354.0 164.5,348.9 164.7,347.1 165.0,346.0 165.2,347.6 165.4,349.5 165.6,347.0 165.8,353.6 166.1,351.6 166.3,348.7 166.5,348.5 166.7,352.1 167.0,354.0 167.2,350.9 167.4,351.6 167.6,347.6 167.8,348.4 168.1,351.1 168.3,355.6 168.5,352.0 168.7,347.9 169.0,346.0 169.2,347.3 169.4,351.5 169.6,350.5 169.8,356.1 170.1,353.2 170.3,349.5 170.5,348.8 170.7,351.2 171.0,354.4 171.2,354.4 171.4,352.6 171.6,355.4 171.8,353.7 172.1,358.7 172.3,352.9 172.5,351.4 172.7,349.8 173.0,346.9 173.2,349.1 173.4,348.9 173.6,348.1 173.8,351.2 174.1,350.2 174.3,355.6 174.5,352.0 174.7,353.0 175.0,350.2 175.2,350.5 175.4,349.0 175.6,348.0 175.8,348.7 176.1,348.2 176.3,346.3 176.5,348.0 176.7,349.4 177.0,348.4 177.2,346.7 177.4,346.5 177.6,347.0 177.8,348.2 178.1,352.0 178.3,352.6 178.5,355.8 178.7,357.3 179.0,354.0 179.2,354.8 179.4,357.7 179.6,358.2 179.8,359.3 180.1,360.8 180.3,363.1 180.5,363.0 180.7,364.3 181.0,367.3 181.2,367.6 181.4,367.9 181.6,361.0 181.8,356.0 182.1,353.7 182.3,351.4 182.5,349.4 182.7,349.7 183.0,353.7 183.2,353.1 183.4,354.2 183.6,354.6 183.8,353.0 184.1,353.2 184.3,354.0 184.5,352.8 184.7,354.8 185.0,354.6 185.2,354.4 185.4,350.6 185.6,347.3 185.8,352.5 186.1,354.4 186.3,352.4 186.5,358.0 186.7,350.8 187.0,352.5 187.2,352.3 187.4,352.0 187.6,349.6 187.9,348.7 188.1,349.8 188.3,346.8 188.5,350.5 188.7,348.6 189.0,349.4 189.2,349.6 189.4,350.2 189.6,348.5 189.9,347.5 190.1,345.4 190.3,350.7 190.5,347.3 190.7,350.9 191.0,353.2 191.2,351.1 191.4,350.0 191.6,351.1 191.9,352.3 192.1,349.6 192.3,350.8 192.5,345.2 192.7,343.7 193.0,345.5 193.2,343.9 193.4,347.0 193.6,343.3 193.9,342.3 194.1,344.4 194.3,345.6 194.5,347.5 194.7,351.6 195.0,354.4 195.2,352.2 195.4,356.0 195.6,353.3 195.9,357.1 196.1,355.0 196.3,353.3 196.5,350.2 196.7,351.0 197.0,359.0 197.2,350.5 197.4,350.1 197.6,351.9 197.9,349.1 198.1,350.3 198.3,353.5 198.5,354.4 198.7,355.5 199.0,360.7 199.2,357.4 199.4,356.5 199.6,353.1 199.9,351.1 200.1,350.2 200.3,349.0 200.5,349.7 200.7,353.0 201.0,351.0 201.2,350.0 201.4,354.7 201.6,356.2 201.9,359.2 202.1,357.8 202.3,353.9 202.5,350.1 202.7,350.7 203.0,352.3 203.2,353.8 203.4,353.3 203.6,349.7 203.9,347.3 204.1,346.8 204.3,348.6 204.5,349.8 204.7,348.4 205.0,348.4 205.2,351.9 205.4,352.7 205.6,351.2 205.9,347.1 206.1,348.5 206.3,346.4 206.5,345.8 206.7,350.7 207.0,349.6 207.2,345.3 207.4,338.7 207.6,343.1 207.9,342.4 208.1,346.1 208.3,343.3 208.5,345.2 208.7,349.2 209.0,354.7 209.2,350.7 209.4,353.7 209.6,351.1 209.9,350.5 210.1,348.0 210.3,344.5 210.5,342.5 210.7,347.1 211.0,348.3 211.2,348.1 211.4,351.2 211.6,351.0 211.9,348.0 212.1,350.9 212.3,351.8 212.5,354.0 212.8,357.6 213.0,357.4 213.2,356.1 213.4,354.5 213.6,354.4 213.9,355.2 214.1,354.7 214.3,351.7 214.5,351.6 214.8,353.2 215.0,353.2 215.2,353.4 215.4,356.1 215.6,349.8 215.9,349.7 216.1,351.4 216.3,353.8 216.5,349.3 216.8,350.0 217.0,348.9 217.2,346.3 217.4,345.5 217.6,349.8 217.9,349.9 218.1,345.8 218.3,344.4 218.5,343.7 218.8,345.8 219.0,344.1 219.2,341.6 219.4,341.1 219.6,343.7 219.9,348.4 220.1,347.8 220.3,347.3 220.5,346.0 220.8,343.7 221.0,343.5 221.2,342.6 221.4,338.7 221.6,334.5 221.9,338.4 222.1,343.4 222.3,347.2 222.5,346.6 222.8,345.1 223.0,344.4 223.2,342.7 223.4,345.2 223.6,349.8 223.9,351.1 224.1,350.7 224.3,347.8 224.5,344.2 224.8,343.7 225.0,347.3 225.2,346.5 225.4,339.4 225.6,346.7 225.9,346.1 226.1,347.6 226.3,347.9 226.5,345.0 226.8,349.3 227.0,347.3 227.2,352.2 227.4,353.2 227.6,351.7 227.9,354.3 228.1,355.5 228.3,355.5 228.5,352.1 228.8,356.8 229.0,357.6 229.2,355.9 229.4,354.5 229.6,354.1 229.9,354.3 230.1,354.9 230.3,358.1 230.5,353.9 230.8,351.7 231.0,354.3 231.2,353.1 231.4,353.2 231.6,351.4 231.9,357.6 232.1,361.2 232.3,360.3 232.5,359.4 232.8,359.9 233.0,363.0 233.2,362.4 233.4,362.1 233.6,360.4 233.9,357.6 234.1,359.3 234.3,358.4 234.5,359.3 234.8,361.4 235.0,361.7 235.2,363.7 235.4,360.2 235.6,360.2 235.9,364.9 236.1,362.8 236.3,366.3 236.5,359.8 236.8,363.6 237.0,369.1 237.2,364.6 237.4,365.1 237.7,369.2 237.9,367.9 238.1,362.4 238.3,363.5 238.5,366.5 238.8,370.7 239.0,369.7 239.2,368.7 239.4,367.1 239.7,366.1 239.9,367.7 240.1,364.9 240.3,368.3 240.5,366.2 240.8,372.2 241.0,366.9 241.2,364.2 241.4,368.8 241.7,370.9 241.9,371.1 242.1,366.3 242.3,367.5 242.5,365.7 242.8,361.6 243.0,359.6 243.2,357.6 243.4,354.5 243.7,355.6 243.9,355.8 244.1,354.9 244.3,357.5 244.5,361.2 244.8,361.2 245.0,358.2 245.2,358.0 245.4,357.7 245.7,358.8 245.9,357.2 246.1,354.5 246.3,357.2 246.5,360.8 246.8,362.2 247.0,358.8 247.2,356.3 247.4,352.8 247.7,355.6 247.9,353.0 248.1,351.4 248.1,377.1 247.9,378.6 247.7,381.2 247.4,378.4 247.2,381.9 247.0,384.5 246.8,387.9 246.5,386.4 246.3,382.8 246.1,380.2 245.9,382.9 245.7,384.5 245.4,383.4 245.2,383.6 245.0,383.9 244.8,386.8 244.5,386.9 244.3,383.2 244.1,380.5 243.9,381.5 243.7,381.2 243.4,380.2 243.2,383.2 243.0,385.2 242.8,387.2 242.5,391.3 242.3,393.2 242.1,391.9 241.9,396.7 241.7,396.5 241.4,394.4 241.2,389.9 241.0,392.5 240.8,397.8 240.5,391.8 240.3,393.9 240.1,390.6 239.9,393.4 239.7,391.8 239.4,392.7 239.2,394.3 239.0,395.4 238.8,396.4 238.5,392.2 238.3,389.2 238.1,388.0 237.9,393.5 237.7,394.8 237.4,390.7 237.2,390.2 237.0,394.8 236.8,389.3 236.5,385.5 236.3,391.9 236.1,388.5 235.9,390.6 235.6,385.8 235.4,385.8 235.2,389.3 235.0,387.3 234.8,387.1 234.5,385.0 234.3,384.0 234.1,384.9 233.9,383.2 233.6,386.0 233.4,387.7 233.2,388.1 233.0,388.7 232.8,385.6 232.5,385.0 232.3,385.9 232.1,386.8 231.9,383.2 231.6,377.0 231.4,378.8 231.2,378.7 231.0,380.0 230.8,377.3 230.5,379.5 230.3,383.8 230.1,380.6 229.9,379.9 229.6,379.7 229.4,380.2 229.2,381.5 229.0,383.3 228.8,382.4 228.5,377.7 228.3,381.1 228.1,381.1 227.9,379.9 227.6,377.4 227.4,378.8 227.2,377.8 227.0,373.0 226.8,374.9 226.5,370.7 226.3,373.5 226.1,373.2 225.9,371.8 225.6,372.3 225.4,365.0 225.2,372.2 225.0,372.9 224.8,369.3 224.5,369.8 224.3,373.5 224.1,376.3 223.9,376.7 223.6,375.4 223.4,370.8 223.2,368.4 223.0,370.1 222.8,370.7 222.5,372.3 222.3,372.8 222.1,369.1 221.9,364.0 221.6,360.2 221.4,364.4 221.2,368.2 221.0,369.2 220.8,369.4 220.5,371.6 220.3,372.9 220.1,373.4 219.9,374.1 219.6,369.4 219.4,366.8 219.2,367.3 219.0,369.8 218.8,371.5 218.5,369.3 218.3,370.1 218.1,371.5 217.9,375.6 217.6,375.4 217.4,371.2 217.2,371.9 217.0,374.5 216.8,375.6 216.5,374.9 216.3,379.5 216.1,377.0 215.9,375.3 215.6,375.4 215.4,381.7 215.2,379.0 215.0,378.8 214.8,378.8 214.5,377.3 214.3,377.3 214.1,380.4 213.9,380.8 213.6,380.0 213.4,380.2 213.2,381.7 213.0,383.0 212.8,383.2 212.5,379.7 212.3,377.4 212.1,376.6 211.9,373.6 211.6,376.6 211.4,376.9 211.2,373.7 211.0,373.9 210.7,372.7 210.5,368.2 210.3,370.1 210.1,373.6 209.9,376.1 209.6,376.7 209.4,379.3 209.2,376.3 209.0,380.4 208.7,374.8 208.5,370.8 208.3,368.9 208.1,371.8 207.9,368.0 207.6,368.8 207.4,364.3 207.2,370.9 207.0,375.2 206.7,376.3 206.5,371.5 206.3,372.0 206.1,374.1 205.9,372.8 205.6,376.9 205.4,378.4 205.2,377.6 205.0,374.0 204.7,374.1 204.5,375.5 204.3,374.3 204.1,372.4 203.9,373.0 203.6,375.3 203.4,379.0 203.2,379.5 203.0,377.9 202.7,376.4 202.5,375.8 202.3,379.6 202.1,383.4 201.9,384.9 201.6,381.8 201.4,380.4 201.2,375.6 201.0,376.6 200.7,378.7 200.5,375.3 200.3,374.6 200.1,375.8 199.9,376.8 199.6,378.7 199.4,382.2 199.2,383.0 199.0,386.4 198.7,381.1 198.5,380.1 198.3,379.1 198.1,375.9 197.9,374.7 197.6,377.5 197.4,375.7 197.2,376.2 197.0,384.7 196.7,376.6 196.5,375.8 196.3,378.9 196.1,380.7 195.9,382.8 195.6,379.0 195.4,381.6 195.2,377.8 195.0,380.1 194.7,377.3 194.5,373.2 194.3,371.3 194.1,370.0 193.9,367.9 193.6,369.0 193.4,372.7 193.2,369.6 193.0,371.1 192.7,369.3 192.5,370.9 192.3,376.5 192.1,375.2 191.9,377.9 191.6,376.8 191.4,375.7 191.2,376.8 191.0,378.9 190.7,376.5 190.5,372.9 190.3,376.3 190.1,371.1 189.9,373.2 189.6,374.2 189.4,375.9 189.2,375.2 189.0,375.0 188.7,374.2 188.5,376.1 188.3,372.4 188.1,375.4 187.9,374.4 187.6,375.2 187.4,377.6 187.2,377.9 187.0,378.2 186.7,376.4 186.5,383.7 186.3,378.0 186.1,380.1 185.8,378.1 185.6,372.9 185.4,376.3 185.2,380.0 185.0,380.3 184.7,380.4 184.5,378.4 184.3,379.6 184.1,378.9 183.8,378.7 183.6,380.3 183.4,379.8 183.2,378.7 183.0,379.3 182.7,375.4 182.5,375.0 182.3,377.1 182.1,379.3 181.8,381.6 181.6,386.6 181.4,393.6 181.2,393.3 181.0,393.0 180.7,390.0 180.5,388.7 180.3,388.7 180.1,386.4 179.8,384.9 179.6,383.9 179.4,383.4 179.2,380.4 179.0,379.6 178.7,382.9 178.5,381.4 178.3,378.2 178.1,377.7 177.8,373.9 177.6,372.7 177.4,372.1 177.2,372.3 177.0,374.0 176.7,375.0 176.5,373.7 176.3,371.9 176.1,373.8 175.8,374.3 175.6,373.6 175.4,374.6 175.2,376.2 175.0,375.8 174.7,378.7 174.5,377.6 174.3,381.3 174.1,375.8 173.8,376.8 173.6,373.7 173.4,374.6 173.2,374.8 173.0,372.5 172.7,375.4 172.5,377.1 172.3,378.5 172.1,384.4 171.8,379.3 171.6,381.1 171.4,378.3 171.2,380.1 171.0,380.1 170.7,376.9 170.5,374.4 170.3,375.2 170.1,378.8 169.8,381.7 169.6,376.1 169.4,377.2 169.2,372.9 169.0,371.6 168.7,373.5 168.5,377.7 168.3,381.2 168.1,376.7 167.8,374.0 167.6,373.3 167.4,377.2 167.2,376.6 167.0,379.7 166.7,377.8 166.5,374.1 166.3,374.3 166.1,377.2 165.8,379.2 165.6,372.7 165.4,375.1 165.2,373.3 165.0,371.6 164.7,372.7 164.5,374.5 164.3,379.6 164.1,375.5 163.8,380.8 163.6,383.2 163.4,388.6 163.2,391.1 163.0,391.1 162.7,389.9 162.5,388.1 162.3,387.3 162.1,382.1 161.8,383.9 161.6,381.7 161.4,382.3 161.2,382.0 160.9,376.4 160.7,374.5 160.5,374.3 160.3,373.3 160.1,371.4 159.8,370.1 159.6,369.2 159.4,373.2 159.2,372.8 158.9,371.4 158.7,371.0 158.5,370.8 158.3,369.2 158.1,365.5 157.8,369.2 157.6,369.5 157.4,371.3 157.2,371.7 156.9,373.5 156.7,375.4 156.5,373.4 156.3,374.2 156.1,370.2 155.8,370.1 155.6,370.2 155.4,370.3 155.2,372.4 154.9,372.2 154.7,373.4 154.5,373.9 154.3,372.4 154.1,371.4 153.8,377.7 153.6,385.0 153.4,383.1 153.2,384.4 152.9,384.8 152.7,382.6 152.5,387.3 152.3,383.1 152.1,383.3 151.8,382.7 151.6,383.0 151.4,384.6 151.2,386.9 150.9,384.7 150.7,381.1 150.5,380.2 150.3,383.0 150.1,379.2 149.8,377.9 149.6,380.9 149.4,383.1 149.2,384.7 148.9,385.4 148.7,383.0 148.5,384.3 148.3,380.7 148.1,380.9 147.8,381.6 147.6,378.7 147.4,376.6 147.2,378.6 146.9,382.4 146.7,379.8 146.5,375.4 146.3,376.3 146.1,375.8 145.8,374.6 145.6,370.9 145.4,374.2 145.2,375.9 144.9,374.2 144.7,378.0 144.5,373.3 144.3,376.2 144.1,379.2 143.8,375.6 143.6,378.4 143.4,377.5 143.2,380.4 142.9,383.7 142.7,382.4 142.5,377.3 142.3,375.9 142.1,376.8 141.8,375.1 141.6,375.8 141.4,374.5 141.2,371.0 140.9,371.9 140.7,373.8 140.5,377.1 140.3,378.8 140.1,375.8 139.8,373.4 139.6,374.9 139.4,373.6 139.2,370.6 138.9,373.8 138.7,370.7 138.5,369.1 138.3,366.7 138.1,370.2 137.8,377.3 137.6,377.9 137.4,375.9 137.2,371.2 136.9,374.4 136.7,374.2 136.5,372.2 136.3,371.2 136.0,372.2 135.8,375.4 135.6,370.8 135.4,369.4 135.2,374.5 134.9,377.1 134.7,374.0 134.5,369.4 134.3,368.0 134.0,366.9 133.8,367.7 133.6,366.9 133.4,369.1 133.2,372.4 132.9,371.9 132.7,370.2 132.5,370.9 132.3,363.5 132.0,366.6 131.8,368.7 131.6,369.5 131.4,371.4 131.2,373.2 130.9,371.3 130.7,369.1 130.5,367.3 130.3,368.2 130.0,375.1 129.8,375.0 129.6,375.0 129.4,374.6 129.2,375.8 128.9,369.1 128.7,369.0 128.5,368.7 128.3,368.3 128.0,364.2 127.8,363.8 127.6,368.3 127.4,367.9 127.2,370.5 126.9,365.6 126.7,364.2 126.5,365.3 126.3,368.0 126.0,372.1 125.8,370.7 125.6,367.8 125.4,366.6 125.2,367.4 124.9,367.0 124.7,365.6 124.5,362.1 124.3,364.7 124.0,366.5 123.8,364.4 123.6,368.5 123.4,366.5 123.2,365.9 122.9,368.6 122.7,370.1 122.5,366.9 122.3,364.8 122.0,363.6 121.8,362.7 121.6,363.3 121.4,362.6 121.2,361.1 120.9,366.6 120.7,366.0 120.5,361.4 120.3,360.7 120.0,366.2 119.8,363.6 119.6,364.9 119.4,365.1 119.2,364.2 118.9,366.3 118.7,366.2 118.5,368.0 118.3,366.1 118.0,365.5 117.8,370.5 117.6,372.0 117.4,377.9 117.2,383.5 116.9,384.8 116.7,389.6 116.5,387.1 116.3,385.8 116.0,384.3 115.8,384.1 115.6,385.0 115.4,385.3 115.2,386.3 114.9,384.5 114.7,387.9 114.5,387.3 114.3,384.8 114.0,384.4 113.8,389.0 113.6,387.8 113.4,388.6 113.2,387.3 112.9,386.5 112.7,386.6 112.5,383.5 112.3,385.2 112.0,385.2 111.8,387.5 111.6,387.1 111.4,386.7 111.1,382.1 110.9,385.2 110.7,387.7 110.5,387.9 110.3,387.1 110.0,386.0 109.8,388.4 109.6,389.6 109.4,389.7 109.1,387.6 108.9,388.0 108.7,383.9 108.5,385.9 108.3,387.5 108.0,389.4 107.8,387.4 107.6,384.4 107.4,384.3 107.1,384.8 106.9,386.6 106.7,385.8 106.5,385.3 106.3,383.6 106.0,386.0 105.8,385.8 105.6,386.7 105.4,385.1 105.1,384.3 104.9,385.3 104.7,385.0 104.5,385.9 104.3,385.7 104.0,387.7 103.8,387.9 103.6,386.6 103.4,383.7 103.1,384.6 102.9,383.7 102.7,385.9 102.5,383.8 102.3,386.8 102.0,387.5 101.8,388.8 101.6,387.7 101.4,386.6 101.1,386.3 100.9,387.3 100.7,386.2 100.5,386.4 100.3,388.5 100.0,390.1 99.8,391.3 99.6,387.7 99.4,387.6 99.1,389.4 98.9,384.6 98.7,386.6 98.5,387.5 98.3,390.8 98.0,386.6 97.8,386.8 97.6,384.8 97.4,386.3 97.1,389.3 96.9,388.9 96.7,389.3 96.5,386.2 96.3,388.6 96.0,388.5 95.8,385.5 95.6,386.3 95.4,384.8 95.1,386.6 94.9,388.5 94.7,387.0 94.5,388.1 94.3,389.2 94.0,388.7 93.8,389.3 93.6,386.9 93.4,386.7 93.1,387.9 92.9,388.5 92.7,388.4 92.5,389.8 92.3,386.3 92.0,386.8 91.8,384.5 91.6,383.3 91.4,384.9 91.1,385.7 90.9,386.4 90.7,386.0 90.5,386.0 90.3,387.7 90.0,389.7 89.8,389.8 89.6,387.0 89.4,387.4 89.1,387.7 88.9,388.9 88.7,387.1 88.5,386.9 88.3,388.4 88.0,387.4 87.8,387.3 87.6,388.0 87.4,389.1 87.1,387.1 86.9,385.8 86.7,389.6 86.5,391.6 86.2,391.4 86.0,393.8 85.8,395.8 85.6,399.1 85.4,395.0 85.1,399.3 84.9,396.1 84.7,394.9 84.5,397.1 84.2,401.3 84.0,401.5 83.8,396.7 83.6,396.6 83.4,398.4 83.1,398.9 82.9,400.7 82.7,402.0 82.5,399.9 82.2,400.8 82.0,396.3 81.8,398.2 81.6,398.2 81.4,398.5 81.1,398.0 80.9,397.0 80.7,398.0 80.5,397.6 80.2,398.0 80.0,399.6 79.8,398.0 79.6,398.9 79.4,404.8 79.1,409.4 78.9,416.4 78.7,419.6 78.5,421.1 78.2,420.6 78.0,420.0 77.8,420.7 77.6,421.6 77.4,418.9 77.1,419.2 76.9,422.4 76.7,422.8 76.5,420.8 76.2,423.4 76.0,422.5 75.8,416.6 75.6,418.2 75.4,418.5 75.1,420.7 74.9,421.2 74.7,420.4 74.5,422.5 74.2,419.3 74.0,420.5 73.8,420.3 73.6,420.9 73.4,421.7 73.1,421.3 72.9,423.5 72.7,422.5 72.5,424.0 72.2,415.1 72.0,413.3 71.8,407.3 71.6,402.2 71.4,400.6 71.1,401.1 70.9,402.2 70.7,400.8 70.5,399.8 70.2,400.5 70.0,404.2 69.8,404.9 69.6,403.5 69.4,399.8 69.1,397.2 68.9,399.8 68.7,399.4 68.5,396.5 68.2,395.3 68.0,397.8 67.8,404.2 67.6,410.2 67.4,418.4 67.1,420.7 66.9,424.7 66.7,421.5 66.5,418.3 66.2,416.6 66.0,417.6 65.8,416.6 65.6,415.7 65.4,418.7 65.1,419.5 64.9,421.2 64.7,422.5 64.5,420.4 64.2,420.5 64.0,420.1 63.8,420.5 63.6,421.5 63.4,422.8 63.1,420.8 62.9,424.2 62.7,420.5 62.5,423.0 62.2,425.7 62.0,425.6 61.8,424.1 61.6,419.4 61.3,416.3 61.1,419.3 60.9,417.8 60.7,417.0 60.5,421.9 60.2,422.2 60.0,420.4 59.8,421.0 59.6,422.1 59.3,421.0 59.1,421.7 58.9,423.1 58.7,422.4 58.5,422.0 58.2,423.5 58.0,424.9 57.8,424.1 57.6,424.8 57.3,422.9 57.1,426.1 56.9,427.6 56.7,425.0 56.5,425.7 56.2,424.9 56.0,426.9 55.8,425.5 55.6,424.4 55.3,423.4 55.1,423.8 54.9,429.8 54.7,426.8 54.5,426.7 54.2,426.5 54.0,425.0 53.8,424.1 53.6,423.8 53.3,424.4 53.1,422.7 52.9,426.8 52.7,426.3 52.5,424.0 52.2,422.5 52.0,425.2 51.8,423.5 51.6,422.0 51.3,418.9 51.1,420.5 50.9,420.1 50.7,419.8 50.5,419.9 50.2,421.8 50.0,420.7 49.8,421.4 49.6,418.8 49.3,423.1 49.1,422.6 48.9,421.8 48.7,421.9 48.5,418.4 48.2,418.3 48.0,420.6 47.8,421.4 47.6,421.7 47.3,421.5 47.1,418.1 46.9,419.7 46.7,419.9 46.5,418.4 46.2,419.7 46.0,419.0 45.8,422.5 45.6,423.2 45.3,421.9 45.1,422.4 44.9,420.9 44.7,419.5 44.5,421.0 44.2,424.6 44.0,426.4 43.8,426.3 43.6,427.4 43.3,427.9 43.1,426.6 42.9,426.6 42.7,426.4 42.5,428.3 42.2,427.3 42.0,426.4 41.8,430.7 41.6,432.2 41.3,432.3 41.1,432.5 40.9,433.0 40.7,428.1 40.5,428.4 40.2,429.4 40.0,430.7 39.8,429.5 39.6,427.7 39.3,428.5 39.1,427.0 38.9,425.3 38.7,422.5 38.5,423.6 38.2,422.4 38.0,423.2 37.8,423.7 37.6,425.5 37.3,424.9 37.1,425.8 36.9,425.0 36.7,427.4 36.4,429.0 36.2,427.9 36.0,428.3 35.8,428.3 35.6,428.1 35.3,429.7 35.1,428.9 34.9,428.6 34.7,425.7 34.4,427.0 34.2,424.2 34.0,422.2 33.8,422.5 33.6,425.4 33.3,426.2 33.1,425.6 32.9,425.1 32.7,425.4 32.4,427.8 32.2,429.6 32.0,426.9 31.8,429.4 31.6,426.7 31.3,427.2 31.1,424.9 30.9,424.8 30.7,426.4 30.4,425.4 30.2,426.8 30.0,425.4 29.8,429.0 29.6,425.9 29.3,424.7 29.1,423.4 28.9,424.2 28.7,425.8 28.4,425.6 28.2,424.7 28.0,425.1 27.8,426.2 27.6,424.7 27.3,423.1 27.1,425.5 26.9,425.3 26.7,427.8 26.4,428.6 26.2,432.7 26.0,428.1" fill="#b4e296" fill-opacity="0.6" stroke="none"/>
<polyline points="26.0,418.5 26.2,424.9 26.4,422.0 26.7,431.5 26.9,416.5 27.1,428.3 27.3,412.2 27.6,415.1 27.8,415.6 28.0,414.5 28.2,416.5 28.4,421.2 28.7,420.3 28.9,410.5 29.1,419.2 29.3,418.9 29.6,422.3 29.8,424.5 30.0,419.9 30.2,418.8 30.4,419.9 30.7,421.2 30.9,420.8 31.1,417.7 31.3,426.5 31.6,419.7 31.8,416.6 32.0,423.6 32.2,423.0 32.4,408.1 32.7,423.0 32.9,425.7 33.1,420.7 33.3,411.1 33.6,409.3 33.8,421.2 34.0,412.8 34.2,417.3 34.4,422.8 34.7,410.8 34.9,409.2 35.1,426.0 35.3,421.5 35.6,420.8 35.8,412.9 36.0,416.1 36.2,425.3 36.4,423.3 36.7,415.8 36.9,424.2 37.1,420.7 37.3,417.1 37.6,426.0 37.8,422.5 38.0,424.1 38.2,414.2 38.5,419.3 38.7,411.4 38.9,418.0 39.1,417.5 39.3,422.0 39.6,417.4 39.8,423.1 40.0,428.3 40.2,417.2 40.5,417.0 40.7,411.0 40.9,426.8 41.1,428.3 41.3,432.0 41.6,432.7 41.8,429.9 42.0,417.3 42.2,424.5 42.5,432.7 42.7,416.8 42.9,422.5 43.1,421.4 43.3,423.0 43.6,421.2 43.8,417.3 44.0,427.4 44.2,418.8 44.5,416.5 44.7,407.5 44.9,418.8 45.1,408.1 45.3,412.3 45.6,408.9 45.8,418.9 46.0,408.5 46.2,411.2 46.5,418.4 46.7,414.3 46.9,415.0 47.1,405.1 47.3,418.2 47.6,420.2 47.8,416.7 48.0,412.3 48.2,415.0 48.5,418.7 48.7,410.3 48.9,416.6 49.1,415.7 49.3,417.4 49.6,414.4 49.8,411.8 50.0,416.3 50.2,414.9 50.5,419.7 50.7,420.4 50.9,415.0 51.1,405.0 51.3,411.3 51.6,406.3 51.8,414.6 52.0,416.3 52.2,418.3 52.5,417.3 52.7,411.3 52.9,414.5 53.1,418.7 53.3,419.7 53.6,410.9 53.8,419.0 54.0,414.0 54.2,423.8 54.5,384.6 54.7,413.0 54.9,419.2 55.1,415.8 55.3,415.9 55.6,400.9 55.8,418.7 56.0,414.7 56.2,412.8 56.5,417.0 56.7,423.9 56.9,423.1 57.1,418.0 57.3,415.8 57.6,424.2 57.8,414.2 58.0,406.2 58.2,422.3 58.5,414.9 58.7,408.2 58.9,418.2 59.1,416.7 59.3,413.4 59.6,412.7 59.8,416.0 60.0,409.1 60.2,424.1 60.5,412.1 60.7,408.4 60.9,411.7 61.1,409.7 61.3,409.2 61.6,406.5 61.8,419.4 62.0,419.0 62.2,425.2 62.5,421.3 62.7,414.7 62.9,424.4 63.1,417.9 63.4,422.0 63.6,416.9 63.8,413.1 64.0,408.9 64.2,422.5 64.5,414.5 64.7,411.7 64.9,408.1 65.1,406.3 65.4,418.4 65.6,411.2 65.8,407.2 66.0,406.4 66.2,408.4 66.5,410.2 66.7,413.6 66.9,421.3 67.1,413.1 67.4,407.9 67.6,404.9 67.8,392.0 68.0,403.9 68.2,389.9 68.5,381.9 68.7,388.6 68.9,386.4 69.1,389.7 69.4,398.4 69.6,399.0 69.8,391.1 70.0,405.7 70.2,398.0 70.5,400.8 70.7,396.4 70.9,397.3 71.1,391.6 71.4,397.5 71.6,387.5 71.8,397.5 72.0,408.6 72.2,412.7 72.5,424.0 72.7,415.1 72.9,407.6 73.1,415.2 73.4,419.5 73.6,414.3 73.8,415.8 74.0,417.7 74.2,421.1 74.5,415.9 74.7,406.8 74.9,408.7 75.1,409.3 75.4,410.7 75.6,409.1 75.8,405.2 76.0,415.9 76.2,415.2 76.5,415.8 76.7,410.8 76.9,419.7 77.1,409.2 77.4,408.1 77.6,410.9 77.8,410.6 78.0,415.2 78.2,416.2 78.5,416.1 78.7,414.4 78.9,414.7 79.1,404.6 79.4,400.8 79.6,396.3 79.8,389.4 80.0,396.1 80.2,390.0 80.5,384.0 80.7,383.4 80.9,390.0 81.1,386.5 81.4,390.5 81.6,380.4 81.8,383.8 82.0,384.3 82.2,394.6 82.5,394.1 82.7,392.6 82.9,394.0 83.1,393.1 83.4,388.3 83.6,395.3 83.8,398.9 84.0,399.2 84.2,399.7 84.5,390.5 84.7,392.0 84.9,390.1 85.1,401.6 85.4,381.4 85.6,390.3 85.8,392.8 86.0,385.5 86.2,378.7 86.5,380.8 86.7,383.1 86.9,376.1 87.1,376.2 87.4,387.8 87.6,387.7 87.8,383.2 88.0,376.0 88.3,374.7 88.5,379.3 88.7,365.6 88.9,377.5 89.1,381.1 89.4,383.9 89.6,383.1 89.8,382.5 90.0,376.3 90.3,377.0 90.5,385.1 90.7,384.8 90.9,375.7 91.1,377.9 91.4,382.3 91.6,373.3 91.8,371.4 92.0,376.2 92.3,378.9 92.5,376.8 92.7,383.3 92.9,384.3 93.1,385.2 93.4,371.1 93.6,370.2 93.8,382.5 94.0,379.1 94.3,380.2 94.5,376.9 94.7,374.6 94.9,378.5 95.1,380.1 95.4,380.2 95.6,384.0 95.8,390.5 96.0,382.0 96.3,385.5 96.5,379.2 96.7,382.9 96.9,386.7 97.1,384.7 97.4,377.5 97.6,377.1 97.8,383.9 98.0,383.2 98.3,381.3 98.5,379.5 98.7,378.3 98.9,378.4 99.1,379.1 99.4,380.2 99.6,369.2 99.8,386.6 100.0,386.4 100.3,374.1 100.5,379.8 100.7,382.9 100.9,378.4 101.1,390.0 101.4,377.7 101.6,380.7 101.8,380.6 102.0,384.2 102.3,373.9 102.5,375.5 102.7,379.1 102.9,375.2 103.1,381.5 103.4,377.4 103.6,386.5 103.8,386.1 104.0,379.5 104.3,378.3 104.5,375.6 104.7,381.2 104.9,378.9 105.1,380.6 105.4,377.1 105.6,376.2 105.8,374.1 106.0,376.6 106.3,380.3 106.5,377.5 106.7,383.6 106.9,388.5 107.1,377.1 107.4,377.1 107.6,374.2 107.8,376.8 108.0,388.2 108.3,384.9 108.5,379.1 108.7,376.8 108.9,379.4 109.1,386.7 109.4,384.1 109.6,379.9 109.8,373.0 110.0,384.9 110.3,372.9 110.5,382.5 110.7,387.6 110.9,372.3 111.1,380.2 111.4,385.3 111.6,377.0 111.8,376.0 112.0,378.1 112.3,381.7 112.5,383.5 112.7,379.4 112.9,390.5 113.2,387.2 113.4,377.1 113.6,378.3 113.8,369.9 114.0,375.8 114.3,383.3 114.5,378.4 114.7,389.4 114.9,374.7 115.2,373.4 115.4,383.2 115.6,373.7 115.8,377.2 116.0,321.9 116.3,388.1 116.5,381.2 116.7,379.0 116.9,386.0 117.2,363.6 117.4,367.4 117.6,366.2 117.8,355.3 118.0,355.1 118.3,353.6 118.5,403.4 118.7,360.5 118.9,336.8 119.2,349.9 119.4,355.9 119.6,347.8 119.8,349.2 120.0,356.7 120.3,351.2 120.5,347.7 120.7,354.9 120.9,354.2 121.2,343.6 121.4,350.6 121.6,344.2 121.8,349.6 122.0,350.7 122.3,355.5 122.5,346.9 122.7,360.2 122.9,350.8 123.2,350.9 123.4,342.7 123.6,352.0 123.8,350.7 124.0,353.1 124.3,350.9 124.5,354.2 124.7,353.7 124.9,349.7 125.2,351.3 125.4,351.8 125.6,352.6 125.8,358.1 126.0,371.3 126.3,350.3 126.5,348.0 126.7,345.7 126.9,378.3 127.2,358.4 127.4,357.5 127.6,356.1 127.8,352.7 128.0,363.2 128.3,360.2 128.5,355.0 128.7,362.1 128.9,351.6 129.2,351.2 129.4,351.0 129.6,361.4 129.8,368.1 130.0,360.9 130.3,347.1 130.5,350.6 130.7,351.2 130.9,371.5 131.2,366.3 131.4,348.0 131.6,357.2 131.8,358.8 132.0,355.3 132.3,352.1 132.5,362.5 132.7,351.4 132.9,356.2 133.2,359.7 133.4,355.6 133.6,352.2 133.8,360.3 134.0,354.3 134.3,362.6 134.5,367.4 134.7,358.5 134.9,360.0 135.2,356.0 135.4,360.3 135.6,351.4 135.8,365.2 136.0,357.3 136.3,358.1 136.5,362.8 136.7,354.7 136.9,360.3 137.2,349.6 137.4,363.0 137.6,371.7 137.8,364.5 138.1,358.7 138.3,356.8 138.5,369.6 138.7,354.0 138.9,360.3 139.2,363.8 139.4,362.8 139.6,359.4 139.8,362.5 140.1,360.8 140.3,375.1 140.5,365.3 140.7,368.2 140.9,356.7 141.2,362.9 141.4,363.7 141.6,355.6 141.8,361.2 142.1,355.4 142.3,354.8 142.5,371.3 142.7,360.9 142.9,370.4 143.2,363.5 143.4,349.9 143.6,364.8 143.8,363.5 144.1,361.6 144.3,359.8 144.5,353.5 144.7,354.0 144.9,365.5 145.2,370.0 145.4,360.9 145.6,369.4 145.8,362.4 146.1,366.6 146.3,370.5 146.5,363.0 146.7,371.6 146.9,380.5 147.2,391.2 147.4,347.3 147.6,371.1 147.8,368.1 148.1,356.2 148.3,360.9 148.5,368.3 148.7,368.7 148.9,377.2 149.2,370.0 149.4,365.4 149.6,372.0 149.8,367.6 150.1,364.9 150.3,358.3 150.5,362.1 150.7,378.0 150.9,377.8 151.2,377.2 151.4,370.1 151.6,376.3 151.8,372.9 152.1,374.1 152.3,360.7 152.5,377.9 152.7,370.0 152.9,379.5 153.2,367.4 153.4,370.9 153.6,373.2 153.8,366.4 154.1,359.0 154.3,356.2 154.5,369.4 154.7,365.2 154.9,363.3 155.2,361.4 155.4,369.1 155.6,357.9 155.8,356.8 156.1,355.1 156.3,364.7 156.5,364.0 156.7,353.4 156.9,348.1 157.2,367.1 157.4,367.3 157.6,356.6 157.8,352.0 158.1,354.4 158.3,354.8 158.5,359.5 158.7,359.6 158.9,358.0 159.2,364.1 159.4,357.2 159.6,367.1 159.8,361.9 160.1,367.1 160.3,368.0 160.5,359.4 160.7,365.0 160.9,361.3 161.2,360.2 161.4,383.1 161.6,366.1 161.8,371.1 162.1,376.3 162.3,376.6 162.5,385.5 162.7,370.7 163.0,388.1 163.2,385.9 163.4,383.1 163.6,370.2 163.8,373.6 164.1,357.0 164.3,365.8 164.5,354.5 164.7,360.5 165.0,354.3 165.2,360.8 165.4,360.4 165.6,363.5 165.8,365.6 166.1,413.6 166.3,369.6 166.5,364.1 166.7,365.9 167.0,376.5 167.2,361.0 167.4,371.9 167.6,360.5 167.8,359.5 168.1,363.2 168.3,358.6 168.5,374.2 168.7,367.9 169.0,360.3 169.2,358.9 169.4,362.3 169.6,359.1 169.8,373.1 170.1,356.9 170.3,366.7 170.5,356.1 170.7,358.7 171.0,371.7 171.2,362.9 171.4,356.1 171.6,363.2 171.8,375.3 172.1,373.6 172.3,365.9 172.5,363.8 172.7,352.7 173.0,358.9 173.2,356.8 173.4,372.6 173.6,357.5 173.8,357.6 174.1,365.2 174.3,364.2 174.5,354.7 174.7,364.7 175.0,363.5 175.2,366.8 175.4,364.7 175.6,362.1 175.8,369.4 176.1,367.8 176.3,363.0 176.5,351.1 176.7,356.6 177.0,356.4 177.2,375.3 177.4,346.1 177.6,365.0 177.8,357.7 178.1,375.6 178.3,366.3 178.5,380.8 178.7,368.1 179.0,367.9 179.2,372.0 179.4,372.3 179.6,374.5 179.8,374.1 180.1,372.0 180.3,372.0 180.5,382.1 180.7,368.7 181.0,375.7 181.2,385.7 181.4,371.7 181.6,385.2 181.8,359.7 182.1,367.6 182.3,365.7 182.5,364.6 182.7,357.2 183.0,365.7 183.2,362.8 183.4,372.0 183.6,376.0 183.8,363.5 184.1,361.2 184.3,365.0 184.5,359.4 184.7,370.9 185.0,373.3 185.2,366.3 185.4,358.6 185.6,353.6 185.8,360.2 186.1,361.4 186.3,372.4 186.5,366.6 186.7,355.8 187.0,364.0 187.2,363.6 187.4,364.8 187.6,356.8 187.9,372.6 188.1,369.0 188.3,370.6 188.5,365.4 188.7,365.4 189.0,359.1 189.2,365.5 189.4,357.5 189.6,367.7 189.9,360.0 190.1,361.8 190.3,367.4 190.5,367.0 190.7,361.5 191.0,367.1 191.2,362.2 191.4,372.8 191.6,361.8 191.9,374.0 192.1,361.2 192.3,362.3 192.5,359.2 192.7,346.6 193.0,362.2 193.2,350.4 193.4,367.2 193.6,365.9 193.9,349.0 194.1,356.3 194.3,357.5 194.5,363.2 194.7,347.7 195.0,372.4 195.2,361.8 195.4,386.4 195.6,368.9 195.9,372.9 196.1,401.0 196.3,361.8 196.5,361.1 196.7,366.6 197.0,380.6 197.2,367.6 197.4,362.2 197.6,372.6 197.9,363.5 198.1,362.4 198.3,368.0 198.5,369.7 198.7,369.8 199.0,370.1 199.2,363.0 199.4,369.5 199.6,367.8 199.9,371.7 200.1,355.0 200.3,359.2 200.5,370.1 200.7,361.3 201.0,367.8 201.2,371.1 201.4,368.2 201.6,367.3 201.9,385.3 202.1,369.5 202.3,365.1 202.5,353.9 202.7,363.0 203.0,370.2 203.2,369.9 203.4,364.3 203.6,357.1 203.9,361.9 204.1,364.6 204.3,366.9 204.5,365.9 204.7,360.7 205.0,361.9 205.2,370.7 205.4,380.7 205.6,366.9 205.9,359.5 206.1,365.9 206.3,355.0 206.5,354.9 206.7,401.9 207.0,358.9 207.2,361.0 207.4,348.4 207.6,356.0 207.9,359.3 208.1,362.3 208.3,358.4 208.5,358.8 208.7,362.7 209.0,377.0 209.2,370.4 209.4,374.7 209.6,360.4 209.9,365.0 210.1,367.7 210.3,362.7 210.5,350.0 210.7,345.8 211.0,365.3 211.2,360.6 211.4,367.1 211.6,365.5 211.9,365.8 212.1,361.5 212.3,363.9 212.5,364.1 212.8,376.8 213.0,364.3 213.2,368.0 213.4,370.2 213.6,375.1 213.9,359.1 214.1,371.1 214.3,367.4 214.5,366.0 214.8,370.3 215.0,369.5 215.2,362.5 215.4,378.0 215.6,363.8 215.9,356.5 216.1,363.3 216.3,365.7 216.5,355.4 216.8,371.1 217.0,355.6 217.2,357.6 217.4,359.6 217.6,372.3 217.9,366.5 218.1,353.7 218.3,358.1 218.5,357.6 218.8,366.7 219.0,355.6 219.2,351.9 219.4,357.6 219.6,380.5 219.9,362.7 220.1,355.1 220.3,355.5 220.5,356.8 220.8,351.4 221.0,355.9 221.2,370.4 221.4,357.1 221.6,348.0 221.9,344.7 222.1,358.7 222.3,358.8 222.5,358.3 222.8,351.4 223.0,360.2 223.2,356.5 223.4,365.8 223.6,372.8 223.9,369.6 224.1,376.7 224.3,351.4 224.5,346.4 224.8,358.8 225.0,370.4 225.2,371.9 225.4,350.0 225.6,363.8 225.9,366.4 226.1,366.6 226.3,364.4 226.5,363.2 226.8,371.8 227.0,368.8 227.2,370.8 227.4,358.1 227.6,357.4 227.9,347.3 228.1,379.3 228.3,378.7 228.5,363.6 228.8,368.1 229.0,369.6 229.2,366.9 229.4,368.2 229.6,355.2 229.9,358.6 230.1,370.3 230.3,368.9 230.5,370.0 230.8,368.5 231.0,361.5 231.2,373.6 231.4,363.8 231.6,349.2 231.9,375.2 232.1,374.3 232.3,364.2 232.5,376.0 232.8,378.0 233.0,375.1 233.2,377.8 233.4,371.7 233.6,373.0 233.9,372.8 234.1,365.7 234.3,372.7 234.5,365.8 234.8,380.2 235.0,385.1 235.2,384.3 235.4,390.4 235.6,374.5 235.9,381.3 236.1,382.5 236.3,379.7 236.5,382.3 236.8,381.8 237.0,385.3 237.2,381.5 237.4,371.8 237.7,375.7 237.9,374.7 238.1,373.0 238.3,432.7 238.5,386.9 238.8,392.2 239.0,381.1 239.2,388.6 239.4,379.5 239.7,379.2 239.9,367.2 240.1,386.8 240.3,384.6 240.5,386.4 240.8,383.2 241.0,393.6 241.2,380.7 241.4,391.4 241.7,381.3 241.9,387.5 242.1,372.2 242.3,382.2 242.5,381.2 242.8,369.0 243.0,376.8 243.2,368.8 243.4,359.1 243.7,368.6 243.9,369.5 244.1,372.8 244.3,370.3 244.5,370.6 244.8,371.2 245.0,376.6 245.2,383.3 245.4,354.0 245.7,368.0 245.9,369.9 246.1,366.4 246.3,374.6 246.5,374.0 246.8,382.4 247.0,372.6 247.2,361.6 247.4,378.3 247.7,375.3 247.9,367.0 248.1,369.4" fill="none" stroke="#9ed67c" stroke-width="0.6" stroke-opacity="0.4" stroke-linejoin="round" />
<polyline points="26.0,421.3 26.4,420.1 26.9,421.3 27.3,421.0 27.8,420.7 28.2,420.7 28.7,420.6 29.1,421.2 29.6,420.5 30.0,421.0 30.4,421.3 30.9,421.3 31.3,422.4 31.8,421.8 32.2,422.4 32.7,420.7 33.1,421.3 33.6,420.4 34.0,420.4 34.4,420.5 34.9,420.7 35.3,420.1 35.8,421.5 36.2,422.4 36.7,421.1 37.1,420.6 37.6,420.5 38.0,420.5 38.5,421.2 38.9,422.3 39.3,421.8 39.8,421.8 40.2,421.6 40.7,421.7 41.1,421.6 41.6,421.5 42.0,421.9 42.5,421.2 42.9,422.4 43.3,421.9 43.8,422.9 44.2,422.9 44.7,421.6 45.1,422.9 45.6,422.8 46.0,420.9 46.5,422.9 46.9,421.4 47.3,422.5 47.8,422.4 48.2,422.9 48.7,422.3 49.1,422.6 49.6,423.1 50.0,422.4 50.5,422.1 50.9,420.9 51.3,422.3 51.8,422.1 52.2,422.1 52.7,422.2 53.1,422.8 53.6,422.5 54.0,422.1 54.5,422.3 54.9,423.6 55.3,422.7 55.8,422.3 56.2,421.5 56.7,421.4 57.1,422.6 57.6,423.0 58.0,423.2 58.5,422.5 58.9,423.7 59.3,422.6 59.8,421.8 60.2,422.9 60.7,421.4 61.1,420.3 61.6,421.8 62.0,421.7 62.5,421.9 62.9,423.0 63.4,422.9 63.8,422.6 64.2,421.6 64.7,421.7 65.1,422.3 65.6,422.5 66.0,422.1 66.5,422.7 66.9,422.4 67.4,422.5 67.8,422.1 68.2,422.8 68.7,421.6 69.1,422.5 69.6,423.0 70.0,422.5 70.5,421.6 70.9,422.0 71.4,421.3 71.8,421.0 72.2,421.3 72.7,421.3 73.1,421.4 73.6,422.4 74.0,420.8 74.5,421.5 74.9,421.7 75.4,421.6 75.8,422.2 76.2,422.4 76.7,423.1 77.1,421.7 77.6,421.1 78.0,421.2 78.5,421.9 78.9,421.7 79.4,421.0 79.8,422.4 80.2,421.8 80.7,421.0 81.1,421.0 81.6,420.4 82.0,420.2 82.5,420.6 82.9,419.9 83.4,420.6 83.8,420.4 84.2,420.1 84.7,420.8 85.1,421.6 85.6,420.5 86.0,420.7 86.5,422.0 86.9,421.1 87.4,420.5 87.8,420.3 88.3,419.9 88.7,420.2 89.1,420.9 89.6,419.9 90.0,420.3 90.5,420.5 90.9,420.7 91.4,421.2 91.8,420.4 92.3,420.8 92.7,420.3 93.1,420.3 93.6,419.9 94.0,420.3 94.5,421.3 94.9,420.6 95.4,419.4 95.8,420.2 96.3,419.9 96.7,420.6 97.1,420.0 97.6,420.7 98.0,418.9 98.5,421.3 98.9,421.3 99.4,420.6 99.8,419.4 100.3,419.9 100.7,420.2 101.1,419.8 101.6,419.8 102.0,420.4 102.5,421.2 102.9,422.7 103.4,420.6 103.8,420.1 104.3,420.3 104.7,421.5 105.1,419.9 105.6,419.2 106.0,422.1 106.5,421.0 106.9,420.7 107.4,421.7 107.8,421.3 108.3,420.7 108.7,420.8 109.1,420.5 109.6,421.1 110.0,420.2 110.5,420.3 110.9,421.1 111.4,421.3 111.8,420.7 112.3,421.8 112.7,420.4 113.2,421.5 113.6,421.2 114.0,421.2 114.5,420.6 114.9,420.8 115.4,421.1 115.8,421.8 116.3,421.6 116.7,421.2 117.2,420.6 117.6,420.1 118.0,420.9 118.5,421.5 118.9,421.0 119.4,421.7 119.8,421.7 120.3,422.5 120.7,421.6 121.2,421.4 121.6,421.6 122.0,421.2 122.5,421.5 122.9,421.0 123.4,421.5 123.8,422.3 124.3,421.1 124.7,422.0 125.2,420.8 125.6,421.1 126.0,421.2 126.5,421.6 126.9,420.0 127.4,421.0 127.8,422.2 128.3,422.2 128.7,420.4 129.2,421.1 129.6,421.6 130.0,421.3 130.5,420.7 130.9,421.1 131.4,420.7 131.8,420.7 132.3,421.6 132.7,421.8 133.2,421.4 133.6,422.0 134.0,421.6 134.5,421.1 134.9,421.3 135.4,421.7 135.8,420.9 136.3,422.1 136.7,420.7 137.2,421.1 137.6,422.2 138.1,421.6 138.5,421.7 138.9,420.7 139.4,420.5 139.8,421.3 140.3,421.2 140.7,421.8 141.2,421.5 141.6,422.3 142.1,420.6 142.5,420.4 142.9,422.0 143.4,422.2 143.8,421.1 144.3,421.0 144.7,422.1 145.2,421.5 145.6,421.0 146.1,421.8 146.5,421.6 146.9,422.2 147.4,420.6 147.8,420.9 148.3,420.7 148.7,421.2 149.2,421.2 149.6,421.6 150.1,421.0 150.5,421.0 150.9,422.3 151.4,422.2 151.8,422.8 152.3,422.2 152.7,421.8 153.2,421.1 153.6,420.8 154.1,421.8 154.5,421.4 154.9,421.0 155.4,422.4 155.8,420.6 156.3,420.9 156.7,421.7 157.2,421.8 157.6,423.7 158.1,420.6 158.5,421.0 158.9,421.6 159.4,420.4 159.8,421.3 160.3,422.2 160.7,420.0 161.2,420.3 161.6,421.2 162.1,420.8 162.5,420.3 163.0,420.2 163.4,422.4 163.8,421.8 164.3,422.1 164.7,422.3 165.2,421.7 165.6,421.5 166.1,421.8 166.5,421.5 167.0,420.9 167.4,421.1 167.8,421.0 168.3,421.6 168.7,421.1 169.2,420.8 169.6,420.1 170.1,422.5 170.5,421.9 171.0,420.3 171.4,420.7 171.8,423.1 172.3,421.2 172.7,420.8 173.2,420.8 173.6,421.0 174.1,420.8 174.5,420.8 175.0,420.8 175.4,421.1 175.8,421.1 176.3,421.7 176.7,420.8 177.2,420.2 177.6,421.5 178.1,419.6 178.5,421.1 179.0,421.3 179.4,420.1 179.8,420.4 180.3,420.6 180.7,419.9 181.2,420.6 181.6,419.7 182.1,419.3 182.5,421.0 183.0,421.1 183.4,420.7 183.8,421.1 184.3,421.2 184.7,420.8 185.2,419.6 185.6,419.6 186.1,420.0 186.5,420.5 187.0,419.7 187.4,419.5 187.9,420.4 188.3,419.9 188.7,420.6 189.2,419.3 189.6,420.5 190.1,420.5 190.5,421.3 191.0,420.8 191.4,420.8 191.9,420.1 192.3,420.4 192.7,420.8 193.2,419.9 193.6,420.2 194.1,420.1 194.5,419.6 195.0,420.5 195.4,419.6 195.9,420.2 196.3,420.4 196.7,420.2 197.2,420.3 197.6,419.9 198.1,419.5 198.5,420.6 199.0,421.3 199.4,421.3 199.9,420.5 200.3,419.1 200.7,420.6 201.2,418.9 201.6,420.7 202.1,419.6 202.5,420.2 203.0,419.1 203.4,420.1 203.9,418.8 204.3,418.3 204.7,418.9 205.2,419.8 205.6,420.8 206.1,420.2 206.5,419.1 207.0,419.9 207.4,419.4 207.9,419.6 208.3,420.6 208.7,418.8 209.2,418.8 209.6,418.8 210.1,419.3 210.5,419.7 211.0,419.7 211.4,418.7 211.9,418.7 212.3,418.2 212.8,417.5 213.2,418.6 213.6,417.8 214.1,418.5 214.5,419.7 215.0,419.1 215.4,419.7 215.9,420.4 216.3,420.0 216.8,419.9 217.2,418.9 217.6,418.0 218.1,418.7 218.5,418.3 219.0,418.7 219.4,417.8 219.9,414.5 220.3,413.2 220.8,410.7 221.2,408.4 221.6,409.0 222.1,411.4 222.5,413.5 223.0,415.2 223.4,416.1 223.9,416.8 224.3,419.1 224.8,418.5 225.2,416.4 225.6,416.4 226.1,416.5 226.5,416.0 227.0,417.7 227.4,418.6 227.9,418.0 228.3,417.6 228.8,417.3 229.2,417.5 229.6,418.0 230.1,418.1 230.5,419.4 231.0,418.5 231.4,418.7 231.9,419.2 232.3,418.6 232.8,417.8 233.2,417.1 233.6,417.9 234.1,418.8 234.5,417.8 235.0,417.1 235.4,417.0 235.9,416.9 236.3,418.2 236.8,418.1 237.2,417.7 237.7,416.6 238.1,417.4 238.5,417.2 239.0,416.9 239.4,417.9 239.9,417.7 240.3,418.5 240.8,418.6 241.2,419.5 241.7,417.7 242.1,417.1 242.5,417.4 243.0,418.0 243.4,417.7 243.9,418.6 244.3,419.2 244.8,417.7 245.2,418.9 245.7,419.3 246.1,418.7 246.5,418.1 247.0,418.8 247.4,418.0 247.9,416.6" fill="none" stroke="#2c60e8" stroke-width="1.0" stroke-linejoin="round" />
<polyline points="26.0,413.9 26.4,412.8 26.9,411.9 27.3,414.5 27.8,414.8 28.2,413.7 28.7,415.4 29.1,415.1 29.6,412.7 30.0,413.3 30.4,413.0 30.9,414.4 31.3,414.7 31.8,414.7 32.2,413.9 32.7,414.0 33.1,414.8 33.6,415.0 34.0,414.3 34.4,414.3 34.9,413.0 35.3,413.3 35.8,413.5 36.2,414.1 36.7,415.3 37.1,414.6 37.6,413.2 38.0,413.1 38.5,412.3 38.9,412.3 39.3,412.6 39.8,413.3 40.2,415.8 40.7,414.7 41.1,415.5 41.6,415.7 42.0,414.8 42.5,413.1 42.9,413.4 43.3,415.6 43.8,414.0 44.2,413.4 44.7,413.1 45.1,415.5 45.6,413.9 46.0,413.9 46.5,414.7 46.9,413.7 47.3,414.0 47.8,415.0 48.2,416.6 48.7,415.1 49.1,415.2 49.6,414.6 50.0,414.0 50.5,413.9 50.9,413.6 51.3,415.3 51.8,413.4 52.2,413.5 52.7,413.7 53.1,414.5 53.6,414.5 54.0,412.0 54.5,414.3 54.9,415.7 55.3,413.4 55.8,414.5 56.2,414.2 56.7,413.6 57.1,413.8 57.6,414.4 58.0,415.6 58.5,415.2 58.9,415.3 59.3,413.2 59.8,413.3 60.2,413.0 60.7,414.3 61.1,414.4 61.6,414.2 62.0,415.2 62.5,413.8 62.9,414.9 63.4,413.8 63.8,412.7 64.2,412.1 64.7,413.6 65.1,414.2 65.6,416.3 66.0,414.3 66.5,415.2 66.9,413.3 67.4,413.5 67.8,412.4 68.2,412.9 68.7,411.9 69.1,412.9 69.6,413.7 70.0,413.1 70.5,415.0 70.9,413.0 71.4,413.4 71.8,413.1 72.2,413.7 72.7,413.5 73.1,413.4 73.6,413.0 74.0,412.3 74.5,413.1 74.9,412.9 75.4,412.7 75.8,414.1 76.2,414.3 76.7,412.7 77.1,411.9 77.6,412.9 78.0,412.4 78.5,413.5 78.9,413.0 79.4,414.9 79.8,414.3 80.2,414.8 80.7,413.5 81.1,412.9 81.6,414.5 82.0,413.6 82.5,412.6 82.9,411.2 83.4,413.5 83.8,414.7 84.2,413.2 84.7,412.5 85.1,413.5 85.6,411.6 86.0,414.2 86.5,414.6 86.9,415.3 87.4,413.4 87.8,414.4 88.3,412.7 88.7,412.3 89.1,413.1 89.6,415.1 90.0,413.5 90.5,413.5 90.9,413.8 91.4,414.4 91.8,413.0 92.3,412.4 92.7,413.3 93.1,415.0 93.6,413.3 94.0,413.5 94.5,412.2 94.9,411.9 95.4,413.4 95.8,414.6 96.3,416.7 96.7,413.4 97.1,413.4 97.6,413.4 98.0,413.6 98.5,415.7 98.9,414.5 99.4,412.7 99.8,413.3 100.3,414.1 100.7,414.2 101.1,415.5 101.6,414.8 102.0,415.3 102.5,412.6 102.9,414.5 103.4,414.2 103.8,414.8 104.3,413.2 104.7,414.2 105.1,413.1 105.6,413.6 106.0,416.0 106.5,413.8 106.9,417.3 107.4,415.8 107.8,414.0 108.3,413.4 108.7,413.3 109.1,413.4 109.6,413.1 110.0,414.9 110.5,414.9 110.9,415.7 111.4,414.4 111.8,414.3 112.3,415.1 112.7,415.2 113.2,415.2 113.6,413.2 114.0,414.8 114.5,413.8 114.9,414.3 115.4,413.1 115.8,412.7 116.3,414.9 116.7,415.4 117.2,416.0 117.6,415.2 118.0,415.6 118.5,413.1 118.9,414.2 119.4,414.2 119.8,414.8 120.3,415.1 120.7,416.1 121.2,415.1 121.6,413.8 122.0,413.8 122.5,414.1 122.9,414.4 123.4,415.7 123.8,414.1 124.3,414.2 124.7,414.5 125.2,416.9 125.6,416.3 126.0,416.6 126.5,414.7 126.9,413.8 127.4,415.7 127.8,414.2 128.3,414.0 128.7,414.2 129.2,415.5 129.6,415.6 130.0,414.1 130.5,413.9 130.9,414.9 131.4,414.2 131.8,414.2 132.3,413.1 132.7,414.8 133.2,415.0 133.6,413.4 134.0,414.9 134.5,415.3 134.9,413.3 135.4,414.0 135.8,414.5 136.3,413.3 136.7,414.6 137.2,414.9 137.6,413.7 138.1,413.8 138.5,414.0 138.9,412.7 139.4,413.7 139.8,414.8 140.3,413.6 140.7,413.4 141.2,414.7 141.6,414.7 142.1,413.9 142.5,413.0 142.9,413.8 143.4,415.1 143.8,414.0 144.3,413.8 144.7,415.1 145.2,415.1 145.6,416.6 146.1,415.2 146.5,417.4 146.9,414.2 147.4,411.6 147.8,413.0 148.3,413.1 148.7,414.2 149.2,415.0 149.6,414.9 150.1,418.4 150.5,417.2 150.9,417.8 151.4,421.1 151.8,419.4 152.3,418.9 152.7,417.3 153.2,417.8 153.6,416.6 154.1,415.5 154.5,416.2 154.9,415.6 155.4,416.4 155.8,415.8 156.3,416.6 156.7,417.1 157.2,416.8 157.6,415.4 158.1,415.8 158.5,413.9 158.9,416.0 159.4,415.7 159.8,415.5 160.3,414.4 160.7,415.0 161.2,414.9 161.6,415.3 162.1,415.8 162.5,413.3 163.0,414.6 163.4,414.4 163.8,414.9 164.3,415.2 164.7,416.7 165.2,414.9 165.6,416.4 166.1,415.5 166.5,417.8 167.0,413.7 167.4,414.4 167.8,414.6 168.3,414.6 168.7,412.9 169.2,412.8 169.6,414.2 170.1,413.7 170.5,416.1 171.0,416.6 171.4,413.7 171.8,413.6 172.3,415.5 172.7,411.3 173.2,405.1 173.6,401.0 174.1,407.0 174.5,411.5 175.0,413.6 175.4,408.6 175.8,409.5 176.3,409.0 176.7,411.3 177.2,414.6 177.6,413.4 178.1,407.9 178.5,403.8 179.0,399.4 179.4,398.5 179.8,400.9 180.3,406.2 180.7,408.1 181.2,406.0 181.6,406.3 182.1,404.2 182.5,407.4 183.0,409.6 183.4,411.0 183.8,406.5 184.3,402.5 184.7,398.5 185.2,394.7 185.6,399.4 186.1,402.2 186.5,404.5 187.0,400.4 187.4,399.7 187.9,400.7 188.3,405.3 188.7,410.1 189.2,412.0 189.6,409.4 190.1,407.9 190.5,404.7 191.0,405.0 191.4,410.9 191.9,412.4 192.3,414.4 192.7,408.9 193.2,403.5 193.6,397.2 194.1,397.7 194.5,402.2 195.0,404.8 195.4,407.4 195.9,404.1 196.3,403.2 196.7,400.3 197.2,402.1 197.6,403.4 198.1,408.0 198.5,412.3 199.0,412.4 199.4,409.9 199.9,408.6 200.3,404.7 200.7,404.2 201.2,404.8 201.6,405.5 202.1,407.5 202.5,408.5 203.0,405.6 203.4,401.5 203.9,399.7 204.3,400.4 204.7,405.0 205.2,410.4 205.6,410.8 206.1,412.6 206.5,411.1 207.0,412.2 207.4,412.5 207.9,414.2 208.3,413.9 208.7,412.1 209.2,412.0 209.6,411.0 210.1,411.0 210.5,409.1 211.0,408.4 211.4,409.5 211.9,410.7 212.3,410.6 212.8,413.8 213.2,416.8 213.6,414.5 214.1,415.1 214.5,414.5 215.0,415.1 215.4,412.6 215.9,408.7 216.3,405.2 216.8,399.4 217.2,397.0 217.6,390.1 218.1,385.8 218.5,383.4 219.0,386.4 219.4,385.8 219.9,390.1 220.3,392.4 220.8,392.9 221.2,393.5 221.6,394.3 222.1,396.6 222.5,395.9 223.0,395.8 223.4,397.6 223.9,398.6 224.3,398.5 224.8,397.8 225.2,399.0 225.6,398.5 226.1,398.2 226.5,396.7 227.0,397.5 227.4,397.1 227.9,397.7 228.3,395.7 228.8,395.4 229.2,396.3 229.6,395.6 230.1,394.1 230.5,394.8 231.0,394.4 231.4,393.7 231.9,395.3 232.3,394.9 232.8,394.8 233.2,398.7 233.6,398.1 234.1,397.1 234.5,398.0 235.0,398.7 235.4,399.0 235.9,397.8 236.3,399.1 236.8,399.9 237.2,398.5 237.7,399.1 238.1,397.6 238.5,396.3 239.0,396.2 239.4,396.6 239.9,394.9 240.3,393.7 240.8,396.5 241.2,396.7 241.7,396.1 242.1,395.7 242.5,393.3 243.0,393.4 243.4,395.0 243.9,396.3 244.3,393.3 244.8,394.5 245.2,395.7 245.7,396.8 246.1,396.7 246.5,398.7 247.0,397.0 247.4,399.6 247.9,397.1" fill="none" stroke="#ff7810" stroke-width="1.0" stroke-linejoin="round" />
<polyline points="26.0,421.3 26.4,421.8 26.9,418.5 27.3,416.3 27.8,419.4 28.2,417.9 28.7,418.9 29.1,416.5 29.6,419.0 30.0,418.5 30.4,418.6 30.9,418.0 31.3,420.3 31.8,422.5 32.2,422.8 32.7,418.5 33.1,418.8 33.6,418.6 34.0,415.4 34.4,420.2 34.9,421.8 35.3,422.9 35.8,421.5 36.2,421.1 36.7,420.5 37.1,419.0 37.6,418.6 38.0,416.3 38.5,416.8 38.9,418.5 39.3,421.7 39.8,422.6 40.2,422.6 40.7,421.3 41.1,425.6 41.6,425.4 42.0,419.5 42.5,421.5 42.9,419.8 43.3,421.0 43.8,419.5 44.2,417.8 44.7,412.7 45.1,415.6 45.6,416.3 46.0,412.2 46.5,411.5 46.9,412.9 47.3,414.7 47.8,414.6 48.2,411.4 48.7,415.1 49.1,415.8 49.6,411.9 50.0,413.9 50.5,413.1 50.9,413.2 51.3,412.1 51.8,416.6 52.2,415.7 52.7,419.5 53.1,415.8 53.6,417.0 54.0,418.2 54.5,419.9 54.9,423.0 55.3,416.5 55.8,418.6 56.2,418.1 56.7,418.2 57.1,419.3 57.6,418.0 58.0,418.1 58.5,415.2 58.9,416.3 59.3,414.2 59.8,414.1 60.2,415.4 60.7,410.1 61.1,412.5 61.6,412.6 62.0,418.8 62.5,416.1 62.9,417.3 63.4,416.0 63.8,413.7 64.2,413.6 64.7,415.6 65.1,412.7 65.6,408.9 66.0,410.7 66.5,411.5 66.9,417.8 67.4,411.6 67.8,397.3 68.2,388.4 68.7,392.6 69.1,390.4 69.6,396.7 70.0,397.3 70.5,393.0 70.9,395.3 71.4,393.8 71.8,400.4 72.2,408.2 72.7,415.6 73.1,414.4 73.6,414.1 74.0,413.6 74.5,415.7 74.9,414.4 75.4,411.7 75.8,409.8 76.2,416.6 76.7,416.0 77.1,412.3 77.6,414.8 78.0,413.2 78.5,414.2 78.9,409.6 79.4,398.0 79.8,391.1 80.2,391.2 80.7,391.1 81.1,391.2 81.6,391.3 82.0,389.5 82.5,393.0 82.9,393.9 83.4,391.5 83.8,389.8 84.2,394.5 84.7,388.1 85.1,392.4 85.6,392.2 86.0,387.0 86.5,384.8 86.9,379.0 87.4,382.3 87.8,380.5 88.3,381.6 88.7,380.3 89.1,380.8 89.6,380.2 90.0,382.8 90.5,379.1 90.9,379.5 91.4,378.1 91.8,377.7 92.3,379.4 92.7,381.6 93.1,381.0 93.6,380.0 94.0,381.9 94.5,381.3 94.9,381.7 95.4,377.9 95.8,378.7 96.3,381.7 96.7,382.5 97.1,382.5 97.6,377.9 98.0,379.8 98.5,380.7 98.9,377.8 99.4,380.7 99.8,384.5 100.3,381.7 100.7,379.4 101.1,379.4 101.6,380.8 102.0,380.6 102.5,377.0 102.9,376.9 103.4,376.9 103.8,381.1 104.3,378.9 104.7,378.2 105.1,377.5 105.6,379.8 106.0,379.2 106.5,378.5 106.9,379.8 107.4,377.5 107.8,380.6 108.3,380.7 108.7,377.1 109.1,380.7 109.6,382.8 110.0,379.1 110.5,381.1 110.9,378.3 111.4,379.9 111.8,380.6 112.3,378.3 112.7,379.7 113.2,380.4 113.6,381.0 114.0,377.6 114.5,380.4 114.9,377.7 115.4,378.5 115.8,377.2 116.3,378.9 116.7,382.8 117.2,371.0 117.6,359.5 118.0,352.9 118.5,355.4 118.9,353.8 119.4,352.6 119.8,351.1 120.3,348.2 120.7,353.4 121.2,348.6 121.6,350.7 122.0,351.1 122.5,354.4 122.9,356.1 123.4,354.0 123.8,351.9 124.3,352.1 124.7,353.1 125.2,354.9 125.6,355.3 126.0,359.6 126.5,352.7 126.9,353.0 127.4,355.4 127.8,351.2 128.3,355.8 128.7,356.5 129.2,363.3 129.6,362.5 130.0,362.5 130.5,354.8 130.9,358.8 131.4,358.9 131.8,356.2 132.3,351.0 132.7,357.7 133.2,359.8 133.6,354.4 134.0,354.3 134.5,356.9 134.9,364.6 135.4,356.8 135.8,362.9 136.3,358.6 136.7,361.7 137.2,358.7 137.6,365.4 138.1,357.7 138.5,356.5 138.9,361.3 139.4,361.0 139.8,360.8 140.3,366.2 140.7,361.3 141.2,358.5 141.6,363.3 142.1,364.3 142.5,364.8 142.9,371.1 143.4,365.0 143.8,363.1 144.3,363.7 144.7,365.5 145.2,363.4 145.6,358.4 146.1,363.3 146.5,362.9 146.9,369.9 147.4,364.0 147.8,369.1 148.3,368.2 148.7,370.5 149.2,372.2 149.6,368.4 150.1,366.6 150.5,367.6 150.9,372.2 151.4,372.1 151.8,370.2 152.3,370.5 152.7,370.1 153.2,371.9 153.6,372.5 154.1,358.9 154.5,361.4 154.9,359.7 155.4,357.8 155.8,357.5 156.3,361.6 156.7,362.9 157.2,359.1 157.6,356.9 158.1,353.0 158.5,358.3 158.9,358.9 159.4,360.7 159.8,357.5 160.3,360.7 160.7,362.0 161.2,369.5 161.6,369.1 162.1,369.5 162.5,375.6 163.0,378.6 163.4,376.1 163.8,368.3 164.3,367.1 164.7,360.2 165.2,360.7 165.6,360.1 166.1,364.7 166.5,361.6 167.0,367.1 167.4,364.7 167.8,361.5 168.3,368.7 168.7,361.0 169.2,360.4 169.6,363.6 170.1,366.3 170.5,361.9 171.0,367.5 171.4,365.8 171.8,366.8 172.3,366.0 172.7,362.9 173.2,362.2 173.6,361.2 174.1,363.3 174.5,365.1 175.0,363.3 175.4,362.1 175.8,361.8 176.3,359.4 176.7,362.5 177.2,359.8 177.6,360.2 178.1,365.1 178.5,368.9 179.0,367.1 179.4,370.8 179.8,372.4 180.3,376.2 180.7,377.4 181.2,380.7 181.6,374.1 182.1,366.8 182.5,362.5 183.0,366.8 183.4,367.3 183.8,366.1 184.3,367.1 184.7,367.9 185.2,367.5 185.6,360.4 186.1,367.5 186.5,371.1 187.0,365.6 187.4,365.1 187.9,361.9 188.3,359.9 188.7,361.7 189.2,362.7 189.6,361.7 190.1,358.5 190.5,360.4 191.0,366.4 191.4,363.1 191.9,365.4 192.3,363.9 192.7,356.8 193.2,357.0 193.6,356.4 194.1,357.5 194.5,360.6 195.0,367.5 195.4,369.1 195.9,370.2 196.3,366.4 196.7,364.1 197.2,363.6 197.6,365.0 198.1,363.4 198.5,367.5 199.0,373.8 199.4,369.6 199.9,364.2 200.3,362.1 200.7,366.1 201.2,363.1 201.6,369.3 202.1,370.9 202.5,363.2 203.0,365.4 203.4,366.5 203.9,360.4 204.3,361.7 204.7,361.5 205.2,365.0 205.6,364.4 206.1,361.6 206.5,358.9 207.0,362.7 207.4,351.8 207.9,355.5 208.3,356.4 208.7,362.3 209.2,363.8 209.6,364.2 210.1,361.1 210.5,355.6 211.0,361.4 211.4,364.4 211.9,361.1 212.3,364.9 212.8,370.7 213.2,369.2 213.6,367.5 214.1,367.9 214.5,364.8 215.0,366.3 215.4,369.2 215.9,362.8 216.3,367.0 216.8,363.1 217.2,359.4 217.6,362.9 218.1,358.9 218.5,356.8 219.0,357.3 219.4,354.2 219.9,361.5 220.3,360.4 220.8,356.8 221.2,355.7 221.6,347.7 222.1,356.5 222.5,359.7 223.0,357.5 223.4,358.3 223.9,364.2 224.3,360.9 224.8,356.8 225.2,359.7 225.6,359.8 226.1,360.7 226.5,358.1 227.0,360.5 227.4,366.3 227.9,367.4 228.3,368.6 228.8,369.9 229.2,369.0 229.6,367.2 230.1,368.0 230.5,367.0 231.0,367.4 231.4,366.3 231.9,370.7 232.3,373.4 232.8,373.0 233.2,375.5 233.6,373.5 234.1,372.4 234.5,372.5 235.0,374.8 235.4,373.3 235.9,378.0 236.3,379.4 236.8,376.7 237.2,377.7 237.7,382.3 238.1,375.5 238.5,379.6 239.0,382.9 239.4,380.2 239.9,380.9 240.3,381.4 240.8,385.3 241.2,377.3 241.7,384.0 242.1,379.4 242.5,378.8 243.0,372.7 243.4,367.6 243.9,368.9 244.3,370.6 244.8,374.3 245.2,371.1 245.7,371.9 246.1,367.6 246.5,373.9 247.0,371.9 247.4,365.9 247.9,366.1" fill="none" stroke="#1c9e22" stroke-width="1.0" stroke-linejoin="round" />
</g>
<rect x="26.0" y="306.2" width="222.1" height="126.5" fill="none" stroke="#cdcdcd" stroke-width="0.95"/>
<text x="23.8" y="435.0" class="tk" text-anchor="end">2</text>
<text x="23.8" y="412.2" class="tk" text-anchor="end">4</text>
<text x="23.8" y="389.4" class="tk" text-anchor="end">6</text>
<text x="23.8" y="366.6" class="tk" text-anchor="end">8</text>
<text x="23.8" y="343.8" class="tk" text-anchor="end">10</text>
<text x="23.8" y="321.0" class="tk" text-anchor="end">12</text>
<text x="26.0" y="440.3" class="tk" text-anchor="middle">0</text>
<text x="70.4" y="440.3" class="tk" text-anchor="middle">200</text>
<text x="114.8" y="440.3" class="tk" text-anchor="middle">400</text>
<text x="159.3" y="440.3" class="tk" text-anchor="middle">600</text>
<text x="203.7" y="440.3" class="tk" text-anchor="middle">800</text>
<text x="248.1" y="440.3" class="tk" text-anchor="middle">1000</text>
<text x="137.1" y="447.3" class="tk" text-anchor="middle">Time (ns)</text>
<text class="tk yl" transform="translate(12.4,369.6) rotate(-90)" text-anchor="middle">Distance (Å)</text>
<rect x="29.1" y="309.9" width="76.1" height="32.4" rx="1.5" fill="#fff" fill-opacity="0.8" stroke="#e6e6e6" stroke-width="0.6"/>
<line x1="31.9" y1="315.6" x2="46.3" y2="315.6" stroke="#90acf2" stroke-width="1"/>
<line x1="31.9" y1="325.5" x2="46.3" y2="325.5" stroke="#f8a288" stroke-width="1"/>
<line x1="31.9" y1="335.6" x2="46.3" y2="335.6" stroke="#80bf98" stroke-width="1"/>
<text class="lg" x="51.2" y="318.2">Asp231-Lys35</text>
<text class="lg" x="51.2" y="328.1">Glu132-Lys234</text>
<text class="lg" x="51.2" y="338.2">Asp32-Lys135</text>
<!-- Panel D -->
<text class="ttl" x="424.4" y="303" text-anchor="middle">M-network distances - MD2</text>
<g clip-path="url(#cD)">
<polygon points="313.2,411.0 313.4,410.8 313.6,410.2 313.9,411.7 314.1,410.5 314.3,410.5 314.5,409.9 314.8,410.2 315.0,409.3 315.2,411.2 315.4,409.2 315.6,408.8 315.9,410.6 316.1,410.1 316.3,410.1 316.5,412.5 316.8,411.1 317.0,411.7 317.2,411.7 317.4,412.0 317.7,412.0 317.9,411.5 318.1,411.1 318.3,412.8 318.5,412.2 318.8,413.1 319.0,413.5 319.2,412.7 319.4,410.9 319.7,410.3 319.9,411.3 320.1,412.0 320.3,412.4 320.5,411.6 320.8,410.3 321.0,410.6 321.2,410.1 321.4,410.2 321.7,409.0 321.9,412.2 322.1,414.0 322.3,412.8 322.6,411.2 322.8,411.6 323.0,410.8 323.2,412.2 323.4,413.0 323.7,412.8 323.9,411.0 324.1,410.3 324.3,411.4 324.6,411.0 324.8,411.8 325.0,411.4 325.2,412.5 325.4,411.8 325.7,412.2 325.9,411.7 326.1,412.1 326.3,412.5 326.6,411.6 326.8,411.7 327.0,411.3 327.2,411.6 327.4,410.6 327.7,411.6 327.9,410.4 328.1,409.1 328.3,410.3 328.6,408.6 328.8,407.4 329.0,408.6 329.2,411.1 329.5,412.7 329.7,411.8 329.9,409.2 330.1,409.3 330.3,409.1 330.6,410.1 330.8,411.1 331.0,410.4 331.2,411.6 331.5,411.2 331.7,410.2 331.9,410.2 332.1,409.7 332.3,410.5 332.6,409.7 332.8,409.5 333.0,411.7 333.2,412.1 333.5,411.9 333.7,410.3 333.9,409.8 334.1,409.6 334.3,409.6 334.6,409.1 334.8,408.5 335.0,409.8 335.2,411.6 335.5,410.0 335.7,410.0 335.9,409.6 336.1,409.6 336.4,410.5 336.6,411.3 336.8,408.9 337.0,407.4 337.2,406.7 337.5,407.1 337.7,407.2 337.9,407.9 338.1,407.0 338.4,401.9 338.6,396.8 338.8,375.8 339.0,368.3 339.2,365.8 339.5,359.3 339.7,355.1 339.9,354.3 340.1,350.7 340.4,349.6 340.6,343.1 340.8,337.2 341.0,335.2 341.3,331.4 341.5,325.3 341.7,326.7 341.9,329.9 342.1,325.3 342.4,323.4 342.6,327.0 342.8,325.9 343.0,329.4 343.3,334.0 343.5,336.9 343.7,336.4 343.9,338.5 344.1,343.7 344.4,337.9 344.6,334.2 344.8,334.4 345.0,336.9 345.3,335.9 345.5,332.0 345.7,338.4 345.9,335.8 346.1,333.3 346.4,336.6 346.6,333.6 346.8,332.9 347.0,334.5 347.3,334.6 347.5,335.7 347.7,339.9 347.9,334.4 348.2,332.7 348.4,336.0 348.6,340.9 348.8,340.6 349.0,340.8 349.3,341.6 349.5,338.3 349.7,342.5 349.9,339.7 350.2,339.0 350.4,333.9 350.6,332.9 350.8,331.4 351.0,331.4 351.3,329.9 351.5,331.0 351.7,325.6 351.9,324.2 352.2,326.8 352.4,327.2 352.6,330.7 352.8,329.5 353.0,333.5 353.3,330.7 353.5,334.0 353.7,333.5 353.9,334.6 354.2,334.2 354.4,336.9 354.6,337.4 354.8,333.1 355.1,332.6 355.3,334.6 355.5,333.1 355.7,333.1 355.9,334.8 356.2,332.0 356.4,329.8 356.6,326.8 356.8,327.7 357.1,328.9 357.3,326.2 357.5,325.2 357.7,323.6 357.9,325.3 358.2,326.7 358.4,328.3 358.6,322.6 358.8,325.1 359.1,322.1 359.3,319.2 359.5,320.1 359.7,322.4 360.0,327.7 360.2,324.9 360.4,326.3 360.6,330.8 360.8,332.2 361.1,333.9 361.3,334.4 361.5,337.9 361.7,343.5 362.0,340.8 362.2,339.7 362.4,343.2 362.6,344.6 362.8,345.3 363.1,350.2 363.3,354.4 363.5,353.6 363.7,351.4 364.0,350.0 364.2,352.1 364.4,354.1 364.6,352.0 364.8,352.3 365.1,357.2 365.3,358.2 365.5,353.8 365.7,349.0 366.0,348.1 366.2,347.4 366.4,344.0 366.6,346.7 366.9,344.0 367.1,340.3 367.3,339.3 367.5,344.1 367.7,352.1 368.0,346.9 368.2,347.5 368.4,347.1 368.6,347.6 368.9,346.7 369.1,350.3 369.3,345.8 369.5,344.3 369.7,341.8 370.0,340.6 370.2,347.4 370.4,346.9 370.6,343.2 370.9,342.4 371.1,342.4 371.3,339.5 371.5,340.0 371.7,338.9 372.0,336.5 372.2,335.0 372.4,335.0 372.6,340.0 372.9,340.5 373.1,345.7 373.3,348.8 373.5,344.9 373.8,346.2 374.0,345.3 374.2,345.8 374.4,342.0 374.6,339.9 374.9,339.2 375.1,339.8 375.3,341.3 375.5,347.3 375.8,351.4 376.0,347.9 376.2,344.9 376.4,344.9 376.6,347.0 376.9,349.2 377.1,351.4 377.3,351.0 377.5,352.6 377.8,349.5 378.0,353.2 378.2,352.7 378.4,354.8 378.7,352.3 378.9,352.5 379.1,351.9 379.3,352.6 379.5,352.2 379.8,349.6 380.0,355.2 380.2,356.8 380.4,357.8 380.7,358.3 380.9,361.5 381.1,356.3 381.3,357.0 381.5,359.7 381.8,358.8 382.0,356.8 382.2,354.7 382.4,350.8 382.7,351.2 382.9,356.4 383.1,360.0 383.3,358.2 383.5,350.2 383.8,352.4 384.0,348.1 384.2,348.1 384.4,353.8 384.7,353.6 384.9,353.1 385.1,352.0 385.3,350.5 385.6,352.7 385.8,352.4 386.0,350.5 386.2,352.9 386.4,352.6 386.7,355.8 386.9,352.0 387.1,350.4 387.3,348.1 387.6,346.0 387.8,347.9 388.0,347.8 388.2,345.9 388.4,344.7 388.7,344.5 388.9,348.3 389.1,347.5 389.3,350.2 389.6,349.7 389.8,349.0 390.0,345.0 390.2,339.4 390.5,342.0 390.7,345.3 390.9,343.1 391.1,348.7 391.3,348.3 391.6,348.5 391.8,341.5 392.0,343.0 392.2,344.6 392.5,338.9 392.7,345.0 392.9,345.8 393.1,347.2 393.3,354.0 393.6,354.0 393.8,352.6 394.0,353.4 394.2,359.2 394.5,362.2 394.7,357.8 394.9,354.7 395.1,353.4 395.3,347.9 395.6,351.9 395.8,347.4 396.0,347.6 396.2,344.1 396.5,346.8 396.7,351.1 396.9,350.6 397.1,350.7 397.4,356.0 397.6,358.3 397.8,355.4 398.0,355.0 398.2,355.1 398.5,352.8 398.7,348.0 398.9,350.3 399.1,349.8 399.4,357.0 399.6,353.8 399.8,351.7 400.0,347.5 400.2,343.6 400.5,343.1 400.7,342.7 400.9,339.3 401.1,341.9 401.4,346.4 401.6,341.4 401.8,342.8 402.0,341.5 402.2,342.1 402.5,340.5 402.7,341.0 402.9,341.5 403.1,340.5 403.4,341.8 403.6,344.9 403.8,348.5 404.0,351.3 404.3,350.9 404.5,350.0 404.7,341.7 404.9,347.3 405.1,341.9 405.4,343.8 405.6,341.9 405.8,347.4 406.0,351.9 406.3,347.6 406.5,343.2 406.7,344.3 406.9,347.4 407.1,354.4 407.4,359.0 407.6,356.6 407.8,354.4 408.0,357.7 408.3,355.1 408.5,358.6 408.7,356.2 408.9,355.9 409.2,358.9 409.4,360.7 409.6,359.8 409.8,362.6 410.0,364.8 410.3,369.5 410.5,369.0 410.7,365.1 410.9,362.0 411.2,361.9 411.4,361.1 411.6,353.5 411.8,357.0 412.0,360.0 412.3,360.3 412.5,357.9 412.7,361.0 412.9,359.2 413.2,355.5 413.4,351.4 413.6,352.1 413.8,352.1 414.0,350.8 414.3,352.7 414.5,357.0 414.7,359.6 414.9,356.9 415.2,355.2 415.4,350.9 415.6,353.2 415.8,353.0 416.1,352.5 416.3,351.7 416.5,352.1 416.7,348.4 416.9,349.2 417.2,344.8 417.4,346.9 417.6,347.1 417.8,345.5 418.1,344.9 418.3,340.2 418.5,348.2 418.7,350.7 418.9,350.2 419.2,351.3 419.4,347.7 419.6,350.4 419.8,349.3 420.1,349.1 420.3,345.3 420.5,347.1 420.7,344.7 420.9,343.6 421.2,343.8 421.4,342.6 421.6,339.5 421.8,343.5 422.1,343.2 422.3,342.3 422.5,344.1 422.7,344.0 423.0,345.7 423.2,349.7 423.4,350.9 423.6,350.2 423.8,346.7 424.1,347.2 424.3,348.4 424.5,348.2 424.7,346.9 425.0,351.8 425.2,356.0 425.4,356.0 425.6,353.6 425.8,354.5 426.1,354.5 426.3,358.1 426.5,359.8 426.7,357.9 427.0,354.2 427.2,346.7 427.4,346.3 427.6,346.3 427.9,348.5 428.1,350.5 428.3,348.6 428.5,349.9 428.7,348.3 429.0,352.1 429.2,347.2 429.4,350.9 429.6,351.1 429.9,354.6 430.1,351.9 430.3,351.3 430.5,349.1 430.7,349.9 431.0,354.3 431.2,348.4 431.4,347.2 431.6,342.0 431.9,339.1 432.1,336.9 432.3,342.6 432.5,342.8 432.7,346.0 433.0,340.6 433.2,344.6 433.4,349.3 433.6,349.7 433.9,346.1 434.1,338.5 434.3,336.8 434.5,334.1 434.8,335.8 435.0,337.2 435.2,342.0 435.4,338.4 435.6,342.0 435.9,343.3 436.1,343.1 436.3,343.1 436.5,344.2 436.8,344.9 437.0,340.5 437.2,338.2 437.4,339.5 437.6,343.8 437.9,348.5 438.1,344.9 438.3,343.5 438.5,349.1 438.8,348.8 439.0,348.3 439.2,345.6 439.4,349.4 439.6,352.2 439.9,351.0 440.1,350.0 440.3,349.8 440.5,350.0 440.8,348.1 441.0,346.8 441.2,347.7 441.4,350.6 441.7,352.0 441.9,346.9 442.1,347.2 442.3,343.7 442.5,345.1 442.8,341.6 443.0,341.9 443.2,342.5 443.4,344.9 443.7,347.8 443.9,346.2 444.1,342.9 444.3,341.1 444.5,338.4 444.8,340.0 445.0,345.1 445.2,344.7 445.4,343.1 445.7,344.7 445.9,347.5 446.1,346.0 446.3,346.2 446.6,346.9 446.8,344.1 447.0,344.1 447.2,343.9 447.4,347.4 447.7,347.1 447.9,345.6 448.1,344.8 448.3,343.3 448.6,342.5 448.8,339.8 449.0,337.7 449.2,337.4 449.4,337.9 449.7,337.2 449.9,332.7 450.1,332.4 450.3,333.0 450.6,331.1 450.8,332.2 451.0,331.1 451.2,331.1 451.4,332.7 451.7,336.2 451.9,338.1 452.1,336.4 452.3,338.5 452.6,338.5 452.8,331.5 453.0,335.5 453.2,336.7 453.5,343.7 453.7,346.7 453.9,352.4 454.1,359.3 454.3,364.1 454.6,365.9 454.8,370.5 455.0,376.2 455.2,378.8 455.5,386.2 455.7,404.0 455.9,405.1 456.1,406.3 456.3,408.8 456.6,410.2 456.8,413.2 457.0,412.8 457.2,413.4 457.5,409.9 457.7,405.3 457.9,402.8 458.1,397.2 458.3,395.1 458.6,390.3 458.8,387.6 459.0,384.4 459.2,381.5 459.5,376.8 459.7,372.2 459.9,372.6 460.1,372.2 460.4,372.7 460.6,371.7 460.8,370.9 461.0,370.4 461.2,368.9 461.5,369.5 461.7,369.0 461.9,367.3 462.1,367.2 462.4,369.8 462.6,369.8 462.8,371.2 463.0,374.3 463.2,376.5 463.5,377.9 463.7,377.9 463.9,379.2 464.1,382.0 464.4,384.5 464.6,388.8 464.8,395.1 465.0,401.4 465.3,404.5 465.5,410.7 465.7,413.1 465.9,413.0 466.1,412.5 466.4,413.0 466.6,412.7 466.8,415.9 467.0,415.0 467.3,414.2 467.5,413.1 467.7,413.1 467.9,413.8 468.1,411.1 468.4,411.6 468.6,412.3 468.8,413.1 469.0,411.3 469.3,409.9 469.5,408.0 469.7,404.3 469.9,403.0 470.1,398.5 470.4,395.9 470.6,392.0 470.8,393.7 471.0,398.2 471.3,402.1 471.5,405.4 471.7,406.8 471.9,409.2 472.2,411.5 472.4,411.9 472.6,413.2 472.8,411.4 473.0,411.9 473.3,413.3 473.5,414.7 473.7,413.5 473.9,411.5 474.2,412.5 474.4,414.2 474.6,415.1 474.8,415.3 475.0,417.3 475.3,414.9 475.5,415.4 475.7,417.1 475.9,419.3 476.2,416.8 476.4,415.8 476.6,414.0 476.8,413.7 477.1,415.2 477.3,413.1 477.5,406.3 477.7,400.9 477.9,402.1 478.2,407.9 478.4,411.5 478.6,415.4 478.8,417.4 479.1,418.4 479.3,419.3 479.5,417.2 479.7,414.9 479.9,415.0 480.2,417.9 480.4,416.5 480.6,417.6 480.8,415.9 481.1,413.4 481.3,413.7 481.5,417.0 481.7,414.6 481.9,414.2 482.2,412.2 482.4,410.5 482.6,407.6 482.8,407.5 483.1,402.3 483.3,401.2 483.5,404.6 483.7,405.7 484.0,407.4 484.2,409.0 484.4,411.6 484.6,413.0 484.8,413.4 485.1,413.0 485.3,413.4 485.5,413.4 485.7,416.3 486.0,415.5 486.2,415.5 486.4,414.5 486.6,415.4 486.8,414.0 487.1,413.5 487.3,415.3 487.5,415.0 487.7,414.2 488.0,415.7 488.2,417.9 488.4,416.6 488.6,415.4 488.8,415.1 489.1,413.7 489.3,413.9 489.5,412.6 489.7,414.3 490.0,412.7 490.2,414.1 490.4,413.9 490.6,416.5 490.9,416.6 491.1,414.4 491.3,414.6 491.5,414.7 491.7,416.2 492.0,414.7 492.2,415.9 492.4,413.8 492.6,413.7 492.9,415.0 493.1,415.9 493.3,416.1 493.5,415.1 493.7,414.8 494.0,416.8 494.2,415.5 494.4,416.5 494.6,413.8 494.9,416.6 495.1,414.8 495.3,416.3 495.5,415.3 495.8,413.9 496.0,414.1 496.2,416.0 496.4,417.3 496.6,414.6 496.9,415.9 497.1,414.7 497.3,413.7 497.5,416.3 497.8,413.6 498.0,414.6 498.2,415.2 498.4,416.4 498.6,415.6 498.9,415.0 499.1,414.0 499.3,413.6 499.5,413.4 499.8,414.5 500.0,415.1 500.2,415.2 500.4,415.1 500.6,413.9 500.9,413.7 501.1,414.8 501.3,416.2 501.5,418.0 501.8,417.0 502.0,416.3 502.2,418.1 502.4,417.2 502.7,416.1 502.9,415.6 503.1,417.2 503.3,417.1 503.5,418.0 503.8,415.9 504.0,415.4 504.2,412.6 504.4,414.8 504.7,413.5 504.9,414.5 505.1,415.0 505.3,414.1 505.5,417.0 505.8,417.6 506.0,414.9 506.2,414.1 506.4,412.8 506.7,413.6 506.9,415.1 507.1,414.4 507.3,415.5 507.5,415.6 507.8,415.7 508.0,416.6 508.2,413.8 508.4,413.9 508.7,411.6 508.9,408.2 509.1,405.9 509.3,402.8 509.6,404.5 509.8,406.8 510.0,412.1 510.2,412.2 510.4,417.4 510.7,417.7 510.9,418.2 511.1,416.8 511.3,418.2 511.6,415.8 511.8,414.9 512.0,414.2 512.2,414.0 512.4,415.2 512.7,415.1 512.9,416.4 513.1,416.5 513.3,415.6 513.6,417.0 513.8,416.6 514.0,416.7 514.2,415.2 514.5,414.8 514.7,415.7 514.9,414.8 515.1,413.0 515.3,413.1 515.6,414.2 515.8,414.8 516.0,416.3 516.2,416.5 516.5,415.8 516.7,415.3 516.9,417.0 517.1,417.7 517.3,418.0 517.6,418.1 517.8,417.6 518.0,416.8 518.2,417.5 518.5,417.4 518.7,418.7 518.9,417.4 519.1,416.3 519.3,416.6 519.6,417.9 519.8,414.1 520.0,415.8 520.2,415.3 520.5,417.9 520.7,417.6 520.9,416.5 521.1,416.2 521.4,415.8 521.6,415.7 521.8,416.5 522.0,412.9 522.2,407.8 522.5,403.5 522.7,399.0 522.9,402.0 523.1,406.2 523.4,411.4 523.6,414.5 523.8,415.3 524.0,415.8 524.2,414.9 524.5,415.0 524.7,417.2 524.9,415.9 525.1,417.6 525.4,417.0 525.6,416.1 525.8,415.2 526.0,416.5 526.2,416.5 526.5,415.3 526.7,413.3 526.9,412.3 527.1,413.1 527.4,412.6 527.6,414.7 527.8,415.5 528.0,414.7 528.3,414.3 528.5,416.7 528.7,414.9 528.9,416.3 529.1,416.1 529.4,417.2 529.6,416.8 529.8,415.1 530.0,416.8 530.3,417.0 530.5,416.3 530.7,415.4 530.9,413.6 531.1,414.5 531.4,413.9 531.6,416.5 531.8,416.7 532.0,418.8 532.3,416.0 532.5,416.5 532.7,415.4 532.9,416.7 533.2,417.4 533.4,417.7 533.6,417.5 533.8,416.9 534.0,418.2 534.3,416.9 534.5,415.7 534.7,417.7 534.9,418.4 535.2,418.4 535.4,418.1 535.6,415.0 535.6,427.5 535.4,430.6 535.2,430.9 534.9,431.0 534.7,430.2 534.5,428.2 534.3,429.4 534.0,430.8 533.8,429.5 533.6,430.0 533.4,430.2 533.2,430.0 532.9,429.3 532.7,427.9 532.5,429.0 532.3,428.5 532.0,431.4 531.8,429.2 531.6,429.1 531.4,426.5 531.1,427.1 530.9,426.2 530.7,427.9 530.5,428.9 530.3,429.5 530.0,429.4 529.8,427.6 529.6,429.4 529.4,429.7 529.1,428.6 528.9,428.8 528.7,427.4 528.5,429.3 528.3,426.9 528.0,427.2 527.8,428.0 527.6,427.3 527.4,425.1 527.1,425.6 526.9,424.9 526.7,425.8 526.5,427.8 526.2,429.1 526.0,429.0 525.8,427.7 525.6,428.6 525.4,429.6 525.1,430.2 524.9,428.5 524.7,429.7 524.5,427.6 524.2,427.4 524.0,428.3 523.8,427.9 523.6,427.0 523.4,423.9 523.1,418.7 522.9,414.5 522.7,411.6 522.5,416.0 522.2,420.3 522.0,425.4 521.8,429.1 521.6,428.2 521.4,428.3 521.1,428.7 520.9,429.1 520.7,430.2 520.5,430.5 520.2,427.8 520.0,428.4 519.8,426.6 519.6,430.4 519.3,429.1 519.1,428.8 518.9,430.0 518.7,431.2 518.5,429.9 518.2,430.1 518.0,429.3 517.8,430.1 517.6,430.6 517.3,430.6 517.1,430.2 516.9,429.6 516.7,427.8 516.5,428.3 516.2,429.1 516.0,428.8 515.8,427.3 515.6,426.8 515.3,425.6 515.1,425.6 514.9,427.3 514.7,428.2 514.5,427.3 514.2,427.7 514.0,429.2 513.8,429.2 513.6,429.5 513.3,428.1 513.1,429.1 512.9,429.0 512.7,427.7 512.4,427.7 512.2,426.6 512.0,426.8 511.8,427.5 511.6,428.3 511.3,430.7 511.1,429.3 510.9,430.8 510.7,430.3 510.4,430.0 510.2,424.8 510.0,424.6 509.8,419.3 509.6,417.0 509.3,415.4 509.1,418.5 508.9,420.8 508.7,424.1 508.4,426.4 508.2,426.3 508.0,429.2 507.8,428.3 507.5,428.2 507.3,428.0 507.1,426.9 506.9,427.7 506.7,426.1 506.4,425.3 506.2,426.7 506.0,427.5 505.8,430.2 505.5,429.5 505.3,426.6 505.1,427.5 504.9,427.0 504.7,426.0 504.4,427.3 504.2,425.1 504.0,428.0 503.8,428.4 503.5,430.5 503.3,429.7 503.1,429.7 502.9,428.2 502.7,428.7 502.4,429.8 502.2,430.6 502.0,428.8 501.8,429.6 501.5,430.6 501.3,428.7 501.1,427.3 500.9,426.2 500.6,426.4 500.4,427.7 500.2,427.7 500.0,427.6 499.8,427.1 499.5,425.9 499.3,426.1 499.1,426.6 498.9,427.5 498.6,428.2 498.4,428.9 498.2,427.8 498.0,427.2 497.8,426.2 497.5,428.9 497.3,426.2 497.1,427.2 496.9,428.4 496.6,427.2 496.4,429.9 496.2,428.5 496.0,426.6 495.8,426.5 495.5,427.9 495.3,428.9 495.1,427.4 494.9,429.1 494.6,426.3 494.4,429.1 494.2,428.1 494.0,429.3 493.7,427.4 493.5,427.7 493.3,428.6 493.1,428.5 492.9,427.5 492.6,426.3 492.4,426.4 492.2,428.5 492.0,427.2 491.7,428.7 491.5,427.3 491.3,427.1 491.1,426.9 490.9,429.1 490.6,429.0 490.4,426.5 490.2,426.7 490.0,425.3 489.7,426.9 489.5,425.1 489.3,426.5 489.1,426.2 488.8,427.6 488.6,427.9 488.4,429.1 488.2,430.4 488.0,428.2 487.7,426.8 487.5,427.5 487.3,427.9 487.1,426.0 486.8,426.5 486.6,428.0 486.4,427.0 486.2,428.0 486.0,428.1 485.7,428.8 485.5,426.0 485.3,425.9 485.1,425.5 484.8,425.9 484.6,425.5 484.4,424.1 484.2,421.5 484.0,420.0 483.7,418.2 483.5,417.1 483.3,413.8 483.1,414.9 482.8,420.0 482.6,420.2 482.4,423.1 482.2,424.7 481.9,426.7 481.7,427.2 481.5,429.6 481.3,426.2 481.1,426.0 480.8,428.5 480.6,430.1 480.4,429.0 480.2,430.5 479.9,427.6 479.7,427.4 479.5,429.8 479.3,431.9 479.1,430.9 478.8,430.0 478.6,428.0 478.4,424.1 478.2,420.4 477.9,414.6 477.7,413.5 477.5,418.9 477.3,425.6 477.1,427.7 476.8,426.2 476.6,426.6 476.4,428.3 476.2,429.4 475.9,431.9 475.7,429.7 475.5,428.0 475.3,427.5 475.0,429.9 474.8,427.8 474.6,427.6 474.4,426.7 474.2,425.0 473.9,424.0 473.7,426.1 473.5,427.3 473.3,425.8 473.0,424.5 472.8,424.0 472.6,425.7 472.4,424.4 472.2,424.0 471.9,421.7 471.7,419.3 471.5,417.9 471.3,414.6 471.0,410.7 470.8,406.2 470.6,404.5 470.4,408.4 470.1,411.0 469.9,415.5 469.7,416.8 469.5,420.6 469.3,422.4 469.0,423.8 468.8,425.6 468.6,424.8 468.4,424.1 468.1,423.7 467.9,426.3 467.7,425.6 467.5,425.7 467.3,426.8 467.0,427.6 466.8,428.5 466.6,425.2 466.4,425.5 466.1,425.1 465.9,425.5 465.7,425.6 465.5,423.2 465.3,417.0 465.0,413.9 464.8,407.6 464.6,401.4 464.4,397.0 464.1,394.5 463.9,391.7 463.7,390.4 463.5,390.4 463.2,389.0 463.0,386.8 462.8,383.8 462.6,382.3 462.4,382.3 462.1,379.8 461.9,379.8 461.7,381.6 461.5,382.0 461.2,381.4 461.0,382.9 460.8,383.4 460.6,384.2 460.4,385.2 460.1,384.7 459.9,385.1 459.7,384.8 459.5,389.4 459.2,394.1 459.0,396.9 458.8,400.1 458.6,402.8 458.3,407.7 458.1,409.8 457.9,415.3 457.7,417.9 457.5,422.4 457.2,425.9 457.0,425.3 456.8,425.8 456.6,422.7 456.3,421.4 456.1,418.8 455.9,417.6 455.7,416.6 455.5,421.5 455.2,414.2 455.0,411.5 454.8,405.8 454.6,401.3 454.3,399.5 454.1,394.6 453.9,387.8 453.7,382.0 453.5,379.0 453.2,372.0 453.0,370.8 452.8,366.8 452.6,373.8 452.3,373.8 452.1,371.7 451.9,373.5 451.7,371.6 451.4,368.1 451.2,366.4 451.0,366.4 450.8,367.5 450.6,366.4 450.3,368.3 450.1,367.7 449.9,368.0 449.7,372.5 449.4,373.3 449.2,372.8 449.0,373.1 448.8,375.2 448.6,377.8 448.3,378.6 448.1,380.1 447.9,381.0 447.7,382.4 447.4,382.7 447.2,379.3 447.0,379.4 446.8,379.4 446.6,382.2 446.3,381.5 446.1,381.4 445.9,382.9 445.7,380.1 445.4,378.5 445.2,380.0 445.0,380.4 444.8,375.3 444.5,373.7 444.3,376.4 444.1,378.2 443.9,381.6 443.7,383.1 443.4,380.2 443.2,377.8 443.0,377.2 442.8,377.0 442.5,380.4 442.3,379.1 442.1,382.5 441.9,382.3 441.7,387.3 441.4,385.9 441.2,383.0 441.0,382.2 440.8,383.4 440.5,385.3 440.3,385.2 440.1,385.3 439.9,386.3 439.6,387.5 439.4,384.8 439.2,380.9 439.0,383.6 438.8,384.2 438.5,384.5 438.3,378.8 438.1,380.3 437.9,383.8 437.6,379.1 437.4,374.8 437.2,373.6 437.0,375.8 436.8,380.2 436.5,379.5 436.3,378.5 436.1,378.5 435.9,378.6 435.6,377.3 435.4,373.7 435.2,377.4 435.0,372.5 434.8,371.1 434.5,369.4 434.3,372.1 434.1,373.9 433.9,381.5 433.6,385.0 433.4,384.6 433.2,379.9 433.0,375.9 432.7,381.3 432.5,378.2 432.3,378.0 432.1,372.2 431.9,374.5 431.6,377.3 431.4,382.5 431.2,383.8 431.0,389.7 430.7,385.2 430.5,384.5 430.3,386.6 430.1,387.2 429.9,389.9 429.6,386.4 429.4,386.2 429.2,382.5 429.0,387.4 428.7,383.6 428.5,385.2 428.3,383.9 428.1,385.8 427.9,383.8 427.6,381.7 427.4,381.6 427.2,382.1 427.0,389.5 426.7,393.2 426.5,395.1 426.3,393.4 426.1,389.8 425.8,389.8 425.6,388.9 425.4,391.3 425.2,391.4 425.0,387.2 424.7,382.2 424.5,383.5 424.3,383.7 424.1,382.6 423.8,382.0 423.6,385.5 423.4,386.2 423.2,385.0 423.0,381.0 422.7,379.3 422.5,379.5 422.3,377.7 422.1,378.6 421.8,378.8 421.6,374.9 421.4,377.9 421.2,379.1 420.9,378.9 420.7,380.1 420.5,382.4 420.3,380.7 420.1,384.4 419.8,384.6 419.6,385.8 419.4,383.0 419.2,386.6 418.9,385.5 418.7,386.0 418.5,383.5 418.3,375.6 418.1,380.2 417.8,380.8 417.6,382.5 417.4,382.2 417.2,380.2 416.9,384.5 416.7,383.8 416.5,387.5 416.3,387.1 416.1,387.8 415.8,388.3 415.6,388.5 415.4,386.2 415.2,390.5 414.9,392.2 414.7,395.0 414.5,392.3 414.3,388.0 414.0,386.1 413.8,387.4 413.6,387.5 413.4,386.7 413.2,390.9 412.9,394.5 412.7,396.4 412.5,393.2 412.3,395.7 412.0,395.4 411.8,392.3 411.6,388.8 411.4,396.4 411.2,397.2 410.9,397.3 410.7,400.4 410.5,404.3 410.3,404.9 410.0,400.1 409.8,397.9 409.6,395.1 409.4,396.0 409.2,394.2 408.9,391.3 408.7,391.5 408.5,393.9 408.3,390.4 408.0,393.0 407.8,389.7 407.6,392.0 407.4,394.4 407.1,389.8 406.9,382.8 406.7,379.6 406.5,378.6 406.3,382.9 406.0,387.3 405.8,382.7 405.6,377.3 405.4,379.1 405.1,377.2 404.9,382.6 404.7,377.1 404.5,385.3 404.3,386.2 404.0,386.7 403.8,383.8 403.6,380.3 403.4,377.1 403.1,375.8 402.9,376.8 402.7,376.3 402.5,375.8 402.2,377.4 402.0,376.9 401.8,378.2 401.6,376.7 401.4,381.7 401.1,377.3 400.9,374.6 400.7,378.0 400.5,378.4 400.2,379.0 400.0,382.8 399.8,387.1 399.6,389.1 399.4,392.3 399.1,385.1 398.9,385.6 398.7,383.3 398.5,388.2 398.2,390.4 398.0,390.3 397.8,390.7 397.6,393.6 397.4,391.3 397.1,386.0 396.9,385.9 396.7,386.5 396.5,382.1 396.2,379.5 396.0,382.9 395.8,382.7 395.6,387.3 395.3,383.3 395.1,388.8 394.9,390.0 394.7,393.1 394.5,397.5 394.2,394.5 394.0,388.7 393.8,388.0 393.6,389.4 393.3,389.3 393.1,382.5 392.9,381.2 392.7,380.3 392.5,374.2 392.2,379.9 392.0,378.4 391.8,376.8 391.6,383.8 391.3,383.7 391.1,384.0 390.9,378.4 390.7,380.6 390.5,377.3 390.2,374.7 390.0,380.3 389.8,384.4 389.6,385.1 389.3,385.5 389.1,382.9 388.9,383.7 388.7,379.9 388.4,380.0 388.2,381.2 388.0,383.2 387.8,383.2 387.6,381.3 387.3,383.4 387.1,385.7 386.9,387.4 386.7,391.1 386.4,387.9 386.2,388.2 386.0,385.9 385.8,387.7 385.6,388.0 385.3,385.8 385.1,387.4 384.9,388.4 384.7,388.9 384.4,389.1 384.2,383.4 384.0,383.4 383.8,387.7 383.5,385.5 383.3,393.5 383.1,395.4 382.9,391.7 382.7,386.5 382.4,386.1 382.2,390.0 382.0,392.1 381.8,394.1 381.5,395.0 381.3,392.4 381.1,391.6 380.9,396.8 380.7,393.6 380.4,393.1 380.2,392.1 380.0,390.5 379.8,384.9 379.5,387.5 379.3,387.9 379.1,387.2 378.9,387.9 378.7,387.6 378.4,390.2 378.2,388.0 378.0,388.5 377.8,384.8 377.5,387.9 377.3,386.3 377.1,386.7 376.9,384.5 376.6,382.4 376.4,380.3 376.2,380.2 376.0,383.2 375.8,386.7 375.5,382.6 375.3,376.7 375.1,375.1 374.9,374.5 374.6,375.2 374.4,377.3 374.2,381.1 374.0,380.7 373.8,381.5 373.5,380.3 373.3,384.2 373.1,381.0 372.9,375.8 372.6,375.3 372.4,370.4 372.2,370.4 372.0,371.8 371.7,374.2 371.5,375.3 371.3,374.9 371.1,377.7 370.9,377.7 370.6,378.5 370.4,382.2 370.2,382.7 370.0,376.0 369.7,377.2 369.5,379.6 369.3,381.1 369.1,385.6 368.9,382.1 368.6,382.9 368.4,382.5 368.2,382.8 368.0,382.2 367.7,387.4 367.5,379.5 367.3,374.6 367.1,375.7 366.9,379.3 366.6,382.1 366.4,379.3 366.2,382.8 366.0,383.4 365.7,384.4 365.5,389.2 365.3,393.5 365.1,392.5 364.8,387.7 364.6,387.3 364.4,389.5 364.2,387.4 364.0,385.3 363.7,386.7 363.5,388.9 363.3,389.7 363.1,385.6 362.8,380.7 362.6,379.9 362.4,378.5 362.2,375.0 362.0,376.1 361.7,378.8 361.5,373.2 361.3,369.7 361.1,369.3 360.8,367.5 360.6,366.1 360.4,361.6 360.2,360.2 360.0,363.0 359.7,357.8 359.5,355.4 359.3,354.5 359.1,357.5 358.8,360.4 358.6,357.9 358.4,363.6 358.2,362.0 357.9,360.6 357.7,359.0 357.5,360.5 357.3,361.6 357.1,364.3 356.8,363.0 356.6,362.1 356.4,365.1 356.2,367.4 355.9,370.1 355.7,368.4 355.5,368.4 355.3,369.9 355.1,367.9 354.8,368.4 354.6,372.8 354.4,372.2 354.2,369.5 353.9,369.9 353.7,368.8 353.5,369.3 353.3,366.0 353.0,368.9 352.8,364.8 352.6,366.0 352.4,362.5 352.2,362.2 351.9,359.5 351.7,360.9 351.5,366.4 351.3,365.2 351.0,366.8 350.8,366.8 350.6,368.3 350.4,369.2 350.2,374.3 349.9,375.1 349.7,377.8 349.5,373.7 349.3,376.9 349.0,376.1 348.8,375.9 348.6,376.2 348.4,371.4 348.2,368.0 347.9,369.7 347.7,375.3 347.5,371.0 347.3,369.9 347.0,369.8 346.8,368.2 346.6,368.9 346.4,371.9 346.1,368.7 345.9,371.1 345.7,373.7 345.5,367.3 345.3,371.2 345.0,372.2 344.8,369.8 344.6,369.5 344.4,373.2 344.1,379.0 343.9,373.8 343.7,371.7 343.5,372.2 343.3,369.3 343.0,364.8 342.8,361.2 342.6,362.3 342.4,358.7 342.1,360.7 341.9,365.2 341.7,362.1 341.5,360.6 341.3,366.7 341.0,370.6 340.8,372.5 340.6,378.4 340.4,384.9 340.1,386.1 339.9,389.7 339.7,390.5 339.5,394.6 339.2,401.2 339.0,403.7 338.8,411.2 338.6,409.3 338.4,414.5 338.1,419.5 337.9,420.4 337.7,419.7 337.5,419.7 337.2,419.3 337.0,419.9 336.8,421.4 336.6,423.8 336.4,423.0 336.1,422.1 335.9,422.1 335.7,422.5 335.5,422.5 335.2,424.2 335.0,422.4 334.8,421.0 334.6,421.6 334.3,422.2 334.1,422.2 333.9,422.4 333.7,422.8 333.5,424.4 333.2,424.6 333.0,424.2 332.8,422.0 332.6,422.2 332.3,423.0 332.1,422.2 331.9,422.8 331.7,422.8 331.5,423.8 331.2,424.2 331.0,422.9 330.8,423.6 330.6,422.6 330.3,421.6 330.1,421.8 329.9,421.8 329.7,424.4 329.5,425.2 329.2,423.7 329.0,421.1 328.8,419.9 328.6,421.1 328.3,422.8 328.1,421.7 327.9,422.9 327.7,424.2 327.4,423.1 327.2,424.1 327.0,423.8 326.8,424.2 326.6,424.2 326.3,425.0 326.1,424.6 325.9,424.2 325.7,424.8 325.4,424.3 325.2,425.0 325.0,423.9 324.8,424.3 324.6,423.6 324.3,424.0 324.1,422.8 323.9,423.5 323.7,425.4 323.4,425.6 323.2,424.8 323.0,423.4 322.8,424.1 322.6,423.7 322.3,425.3 322.1,426.5 321.9,424.8 321.7,421.5 321.4,422.7 321.2,422.6 321.0,423.2 320.8,422.8 320.5,424.1 320.3,425.0 320.1,424.5 319.9,423.9 319.7,422.8 319.4,423.4 319.2,425.2 319.0,426.0 318.8,425.7 318.5,424.8 318.3,425.4 318.1,423.7 317.9,424.0 317.7,424.5 317.4,424.6 317.2,424.2 317.0,424.3 316.8,423.6 316.5,425.0 316.3,422.6 316.1,422.6 315.9,423.1 315.6,421.3 315.4,421.7 315.2,423.8 315.0,421.9 314.8,422.7 314.5,422.4 314.3,423.0 314.1,423.1 313.9,424.3 313.6,422.8 313.4,423.3 313.2,423.6" fill="#bfe4f5" fill-opacity="0.55" stroke="none"/>
<polyline points="313.2,422.8 313.4,416.5 313.6,417.1 313.9,416.6 314.1,422.7 314.3,412.9 314.5,416.4 314.8,421.7 315.0,421.6 315.2,423.3 315.4,418.9 315.6,410.9 315.9,413.8 316.1,419.1 316.3,419.1 316.5,411.6 316.8,414.3 317.0,421.8 317.2,419.1 317.4,420.6 317.7,418.2 317.9,414.8 318.1,419.1 318.3,418.2 318.5,416.8 318.8,416.9 319.0,422.9 319.2,420.4 319.4,409.9 319.7,417.9 319.9,418.1 320.1,417.1 320.3,421.6 320.5,420.0 320.8,410.4 321.0,412.3 321.2,421.3 321.4,416.8 321.7,420.9 321.9,425.2 322.1,420.8 322.3,413.5 322.6,418.4 322.8,412.5 323.0,421.9 323.2,418.5 323.4,419.6 323.7,419.3 323.9,413.9 324.1,414.8 324.3,420.5 324.6,423.3 324.8,419.7 325.0,418.3 325.2,421.5 325.4,424.7 325.7,426.1 325.9,415.3 326.1,417.9 326.3,421.7 326.6,415.6 326.8,416.6 327.0,419.0 327.2,420.1 327.4,412.8 327.7,415.1 327.9,411.5 328.1,411.9 328.3,416.1 328.6,417.2 328.8,415.6 329.0,417.8 329.2,417.7 329.5,418.7 329.7,414.0 329.9,410.7 330.1,416.2 330.3,414.3 330.6,421.6 330.8,420.6 331.0,421.5 331.2,418.0 331.5,420.2 331.7,420.1 331.9,417.2 332.1,424.0 332.3,417.7 332.6,413.7 332.8,411.4 333.0,423.2 333.2,420.7 333.5,427.0 333.7,411.9 333.9,417.5 334.1,415.6 334.3,422.6 334.6,417.0 334.8,417.9 335.0,421.6 335.2,409.4 335.5,420.8 335.7,420.4 335.9,423.6 336.1,411.3 336.4,417.6 336.6,417.9 336.8,415.5 337.0,415.5 337.2,414.3 337.5,412.3 337.7,405.1 337.9,410.1 338.1,415.2 338.4,404.7 338.6,407.8 338.8,387.0 339.0,390.8 339.2,369.7 339.5,381.5 339.7,351.4 339.9,367.4 340.1,378.4 340.4,369.6 340.6,379.2 340.8,363.9 341.0,354.0 341.3,351.8 341.5,339.1 341.7,346.5 341.9,346.0 342.1,345.2 342.4,347.2 342.6,351.4 342.8,354.2 343.0,322.7 343.3,363.3 343.5,358.8 343.7,363.0 343.9,350.0 344.1,349.7 344.4,348.1 344.6,335.5 344.8,366.3 345.0,346.6 345.3,364.3 345.5,347.2 345.7,343.5 345.9,360.9 346.1,354.6 346.4,368.3 346.6,364.0 346.8,365.5 347.0,368.1 347.3,363.2 347.5,357.3 347.7,344.2 347.9,359.2 348.2,356.3 348.4,348.0 348.6,360.8 348.8,364.2 349.0,354.1 349.3,357.7 349.5,365.5 349.7,367.6 349.9,353.4 350.2,360.2 350.4,366.8 350.6,349.0 350.8,353.5 351.0,360.9 351.3,345.8 351.5,354.7 351.7,361.8 351.9,340.7 352.2,357.3 352.4,320.7 352.6,356.2 352.8,350.4 353.0,353.2 353.3,340.2 353.5,345.0 353.7,349.2 353.9,352.7 354.2,350.0 354.4,351.8 354.6,366.2 354.8,355.6 355.1,371.7 355.3,359.1 355.5,341.8 355.7,348.6 355.9,352.8 356.2,369.3 356.4,355.6 356.6,339.8 356.8,351.2 357.1,369.8 357.3,339.3 357.5,331.6 357.7,334.3 357.9,341.1 358.2,350.2 358.4,348.0 358.6,352.9 358.8,328.0 359.1,346.9 359.3,353.5 359.5,341.7 359.7,325.4 360.0,350.2 360.2,352.5 360.4,336.0 360.6,343.2 360.8,342.8 361.1,345.4 361.3,371.7 361.5,351.4 361.7,370.8 362.0,343.9 362.2,370.7 362.4,353.8 362.6,373.9 362.8,378.5 363.1,372.9 363.3,363.9 363.5,363.2 363.7,354.0 364.0,374.9 364.2,370.9 364.4,383.8 364.6,378.4 364.8,391.4 365.1,372.4 365.3,378.7 365.5,378.9 365.7,365.9 366.0,369.1 366.2,382.5 366.4,352.4 366.6,364.1 366.9,359.3 367.1,372.0 367.3,355.6 367.5,360.1 367.7,379.9 368.0,351.7 368.2,378.9 368.4,372.3 368.6,364.5 368.9,345.4 369.1,391.8 369.3,373.4 369.5,368.0 369.7,353.0 370.0,359.0 370.2,369.9 370.4,379.1 370.6,357.4 370.9,347.6 371.1,368.2 371.3,362.7 371.5,361.9 371.7,362.8 372.0,350.8 372.2,369.7 372.4,366.1 372.6,360.7 372.9,348.9 373.1,373.3 373.3,371.2 373.5,372.2 373.8,365.7 374.0,361.8 374.2,381.7 374.4,371.3 374.6,366.1 374.9,332.7 375.1,357.9 375.3,351.4 375.5,369.6 375.8,386.4 376.0,383.2 376.2,346.5 376.4,366.6 376.6,377.3 376.9,370.2 377.1,353.1 377.3,389.0 377.5,376.9 377.8,351.3 378.0,372.4 378.2,375.4 378.4,383.5 378.7,372.3 378.9,369.4 379.1,366.8 379.3,376.1 379.5,372.7 379.8,376.2 380.0,377.7 380.2,392.3 380.4,377.4 380.7,368.2 380.9,398.3 381.1,377.5 381.3,366.5 381.5,365.9 381.8,380.5 382.0,383.6 382.2,382.0 382.4,367.6 382.7,380.3 382.9,380.3 383.1,384.9 383.3,391.8 383.5,359.1 383.8,390.6 384.0,353.7 384.2,386.8 384.4,367.4 384.7,370.7 384.9,375.8 385.1,379.5 385.3,381.6 385.6,378.5 385.8,368.2 386.0,382.3 386.2,392.5 386.4,369.5 386.7,374.5 386.9,373.4 387.1,369.1 387.3,362.5 387.6,362.3 387.8,364.7 388.0,371.4 388.2,362.4 388.4,354.9 388.7,347.0 388.9,346.6 389.1,362.7 389.3,359.1 389.6,356.0 389.8,367.4 390.0,367.5 390.2,362.9 390.5,353.7 390.7,383.7 390.9,369.0 391.1,375.9 391.3,384.0 391.6,351.9 391.8,365.8 392.0,370.9 392.2,367.3 392.5,372.5 392.7,363.1 392.9,355.8 393.1,378.7 393.3,361.1 393.6,371.0 393.8,367.1 394.0,377.5 394.2,360.5 394.5,398.0 394.7,390.2 394.9,385.1 395.1,365.0 395.3,368.8 395.6,371.7 395.8,359.6 396.0,382.8 396.2,348.9 396.5,361.6 396.7,370.6 396.9,377.8 397.1,375.2 397.4,370.8 397.6,363.2 397.8,368.2 398.0,378.3 398.2,389.3 398.5,368.8 398.7,377.7 398.9,370.6 399.1,371.6 399.4,380.1 399.6,359.9 399.8,365.4 400.0,358.0 400.2,365.6 400.5,354.5 400.7,362.5 400.9,361.5 401.1,379.6 401.4,377.2 401.6,363.2 401.8,353.5 402.0,364.3 402.2,357.7 402.5,358.9 402.7,350.6 402.9,364.2 403.1,331.2 403.4,354.0 403.6,363.6 403.8,366.8 404.0,354.2 404.3,379.3 404.5,372.1 404.7,360.3 404.9,372.2 405.1,350.9 405.4,354.2 405.6,338.2 405.8,389.2 406.0,365.9 406.3,362.6 406.5,359.5 406.7,372.1 406.9,378.1 407.1,367.0 407.4,379.3 407.6,376.2 407.8,387.2 408.0,353.0 408.3,371.0 408.5,373.9 408.7,377.3 408.9,377.7 409.2,382.6 409.4,383.7 409.6,388.6 409.8,381.9 410.0,378.9 410.3,397.7 410.5,385.9 410.7,367.1 410.9,383.4 411.2,367.9 411.4,376.6 411.6,380.3 411.8,366.4 412.0,372.4 412.3,381.1 412.5,369.1 412.7,345.7 412.9,388.3 413.2,361.3 413.4,370.8 413.6,385.3 413.8,375.8 414.0,382.3 414.3,389.4 414.5,379.6 414.7,374.3 414.9,376.8 415.2,381.0 415.4,372.6 415.6,376.8 415.8,381.1 416.1,361.6 416.3,369.3 416.5,380.7 416.7,372.5 416.9,366.5 417.2,360.1 417.4,377.7 417.6,342.8 417.8,382.7 418.1,355.1 418.3,360.8 418.5,357.4 418.7,385.4 418.9,374.6 419.2,381.7 419.4,376.4 419.6,380.9 419.8,370.4 420.1,378.5 420.3,373.4 420.5,377.1 420.7,357.1 420.9,376.4 421.2,370.4 421.4,369.0 421.6,359.1 421.8,361.2 422.1,374.3 422.3,363.9 422.5,359.2 422.7,364.1 423.0,375.3 423.2,361.4 423.4,369.5 423.6,362.7 423.8,367.1 424.1,364.9 424.3,372.5 424.5,377.8 424.7,364.1 425.0,374.9 425.2,384.3 425.4,379.2 425.6,373.6 425.8,373.9 426.1,368.3 426.3,368.2 426.5,384.6 426.7,368.0 427.0,379.3 427.2,366.6 427.4,363.0 427.6,372.0 427.9,361.0 428.1,394.0 428.3,375.5 428.5,371.8 428.7,375.5 429.0,363.3 429.2,368.1 429.4,366.0 429.6,369.3 429.9,383.2 430.1,357.1 430.3,377.3 430.5,384.7 430.7,379.3 431.0,371.8 431.2,369.9 431.4,371.5 431.6,360.6 431.9,374.1 432.1,359.2 432.3,361.5 432.5,350.0 432.7,366.7 433.0,370.0 433.2,365.8 433.4,355.0 433.6,380.6 433.9,374.2 434.1,355.1 434.3,351.3 434.5,359.7 434.8,359.6 435.0,344.8 435.2,377.5 435.4,355.2 435.6,352.0 435.9,361.0 436.1,352.4 436.3,353.5 436.5,365.2 436.8,363.2 437.0,347.2 437.2,344.3 437.4,365.5 437.6,365.5 437.9,376.5 438.1,377.2 438.3,377.2 438.5,356.8 438.8,362.4 439.0,363.6 439.2,391.1 439.4,374.8 439.6,368.6 439.9,357.0 440.1,385.0 440.3,385.8 440.5,379.7 440.8,365.9 441.0,372.6 441.2,357.1 441.4,362.2 441.7,370.6 441.9,352.5 442.1,369.4 442.3,366.5 442.5,364.5 442.8,369.2 443.0,359.4 443.2,362.1 443.4,372.2 443.7,367.2 443.9,373.2 444.1,346.1 444.3,354.5 444.5,359.0 444.8,354.4 445.0,370.3 445.2,367.2 445.4,383.1 445.7,357.8 445.9,352.7 446.1,374.8 446.3,375.1 446.6,355.0 446.8,360.3 447.0,362.2 447.2,366.3 447.4,358.5 447.7,384.4 447.9,372.4 448.1,350.8 448.3,371.4 448.6,385.7 448.8,366.7 449.0,357.9 449.2,361.9 449.4,347.2 449.7,358.6 449.9,368.1 450.1,349.9 450.3,356.6 450.6,336.6 450.8,349.9 451.0,351.8 451.2,339.0 451.4,357.9 451.7,357.7 451.9,360.5 452.1,363.7 452.3,352.9 452.6,348.8 452.8,349.3 453.0,347.2 453.2,353.3 453.5,366.8 453.7,371.4 453.9,375.4 454.1,374.2 454.3,376.7 454.6,384.0 454.8,400.2 455.0,395.3 455.2,402.5 455.5,396.0 455.7,408.1 455.9,411.1 456.1,415.2 456.3,417.1 456.6,418.7 456.8,426.2 457.0,421.5 457.2,415.8 457.5,414.5 457.7,413.4 457.9,406.4 458.1,405.0 458.3,396.5 458.6,382.0 458.8,392.9 459.0,383.7 459.2,387.8 459.5,383.4 459.7,376.6 459.9,384.6 460.1,373.6 460.4,372.2 460.6,379.0 460.8,379.7 461.0,370.3 461.2,374.2 461.5,379.0 461.7,382.2 461.9,374.3 462.1,376.6 462.4,370.7 462.6,377.1 462.8,377.9 463.0,380.5 463.2,387.5 463.5,388.3 463.7,376.9 463.9,380.5 464.1,393.5 464.4,389.9 464.6,391.0 464.8,398.7 465.0,404.2 465.3,413.1 465.5,413.5 465.7,421.9 465.9,418.2 466.1,412.7 466.4,417.3 466.6,416.3 466.8,416.8 467.0,424.2 467.3,418.5 467.5,420.8 467.7,426.2 467.9,421.0 468.1,416.3 468.4,426.5 468.6,427.0 468.8,420.5 469.0,418.1 469.3,417.3 469.5,408.1 469.7,398.7 469.9,410.9 470.1,404.2 470.4,405.2 470.6,394.3 470.8,408.6 471.0,400.5 471.3,416.2 471.5,410.8 471.7,411.9 471.9,420.1 472.2,417.6 472.4,412.7 472.6,420.3 472.8,417.2 473.0,423.6 473.3,421.6 473.5,428.0 473.7,414.6 473.9,419.3 474.2,415.2 474.4,417.1 474.6,423.4 474.8,419.7 475.0,419.8 475.3,416.3 475.5,432.7 475.7,417.9 475.9,420.6 476.2,422.6 476.4,423.2 476.6,420.2 476.8,417.1 477.1,429.7 477.3,412.7 477.5,418.0 477.7,398.3 477.9,407.1 478.2,406.5 478.4,417.0 478.6,424.0 478.8,429.6 479.1,427.8 479.3,422.4 479.5,425.6 479.7,421.8 479.9,422.3 480.2,428.0 480.4,425.3 480.6,418.5 480.8,416.9 481.1,408.8 481.3,424.0 481.5,428.2 481.7,420.8 481.9,426.8 482.2,417.5 482.4,410.5 482.6,412.8 482.8,415.6 483.1,416.7 483.3,408.1 483.5,415.6 483.7,410.9 484.0,413.4 484.2,424.6 484.4,423.9 484.6,423.7 484.8,419.2 485.1,416.5 485.3,425.3 485.5,422.6 485.7,421.3 486.0,428.9 486.2,426.1 486.4,424.4 486.6,425.4 486.8,415.4 487.1,419.5 487.3,428.7 487.5,416.3 487.7,422.0 488.0,423.2 488.2,419.0 488.4,423.3 488.6,425.5 488.8,425.3 489.1,421.0 489.3,417.4 489.5,416.1 489.7,422.4 490.0,424.5 490.2,417.7 490.4,427.1 490.6,424.4 490.9,420.2 491.1,425.4 491.3,422.0 491.5,425.2 491.7,426.1 492.0,423.5 492.2,420.4 492.4,423.4 492.6,423.2 492.9,416.1 493.1,417.3 493.3,418.8 493.5,422.4 493.7,421.7 494.0,422.1 494.2,422.3 494.4,423.0 494.6,416.3 494.9,415.1 495.1,420.3 495.3,424.0 495.5,420.7 495.8,421.3 496.0,409.6 496.2,421.7 496.4,425.6 496.6,416.5 496.9,421.1 497.1,420.4 497.3,422.7 497.5,418.8 497.8,415.2 498.0,419.2 498.2,424.3 498.4,422.5 498.6,432.7 498.9,420.4 499.1,417.5 499.3,425.8 499.5,418.7 499.8,426.2 500.0,423.6 500.2,424.5 500.4,415.8 500.6,418.4 500.9,420.8 501.1,421.5 501.3,412.9 501.5,424.8 501.8,422.4 502.0,432.7 502.2,419.8 502.4,423.3 502.7,425.6 502.9,423.7 503.1,421.8 503.3,422.6 503.5,400.0 503.8,422.0 504.0,422.6 504.2,421.7 504.4,413.6 504.7,418.3 504.9,426.8 505.1,421.3 505.3,420.8 505.5,422.0 505.8,427.0 506.0,428.8 506.2,425.0 506.4,411.8 506.7,409.8 506.9,422.8 507.1,431.2 507.3,426.1 507.5,421.0 507.8,417.7 508.0,420.6 508.2,416.1 508.4,418.0 508.7,418.1 508.9,416.0 509.1,416.4 509.3,417.0 509.6,414.8 509.8,415.1 510.0,415.8 510.2,426.2 510.4,419.3 510.7,430.7 510.9,419.1 511.1,427.0 511.3,423.4 511.6,423.6 511.8,421.9 512.0,419.3 512.2,420.0 512.4,423.0 512.7,419.7 512.9,423.3 513.1,424.6 513.3,428.8 513.6,423.9 513.8,426.9 514.0,423.4 514.2,422.3 514.5,418.1 514.7,429.4 514.9,418.2 515.1,420.2 515.3,417.7 515.6,422.0 515.8,421.4 516.0,417.4 516.2,424.4 516.5,420.4 516.7,423.4 516.9,423.4 517.1,420.0 517.3,425.9 517.6,425.2 517.8,419.7 518.0,421.8 518.2,426.3 518.5,424.5 518.7,430.1 518.9,426.7 519.1,420.3 519.3,422.9 519.6,423.0 519.8,428.4 520.0,418.7 520.2,420.7 520.5,427.5 520.7,427.8 520.9,427.4 521.1,424.4 521.4,423.2 521.6,419.2 521.8,414.1 522.0,419.0 522.2,412.1 522.5,415.6 522.7,406.4 522.9,406.0 523.1,411.2 523.4,423.7 523.6,416.7 523.8,420.5 524.0,428.4 524.2,418.8 524.5,426.0 524.7,429.7 524.9,427.6 525.1,425.5 525.4,418.3 525.6,420.6 525.8,424.3 526.0,417.8 526.2,422.1 526.5,418.5 526.7,426.2 526.9,417.2 527.1,421.1 527.4,424.9 527.6,418.7 527.8,421.9 528.0,420.9 528.3,423.2 528.5,427.2 528.7,417.1 528.9,423.3 529.1,420.1 529.4,424.0 529.6,422.7 529.8,424.7 530.0,422.6 530.3,424.2 530.5,425.5 530.7,423.3 530.9,419.6 531.1,419.8 531.4,421.0 531.6,427.5 531.8,421.5 532.0,427.7 532.3,432.2 532.5,428.7 532.7,421.1 532.9,425.9 533.2,403.7 533.4,422.8 533.6,417.3 533.8,420.9 534.0,432.7 534.3,427.2 534.5,431.9 534.7,425.4 534.9,426.3 535.2,422.1 535.4,422.6 535.6,418.1" fill="none" stroke="#a6d8f2" stroke-width="0.6" stroke-opacity="0.45" stroke-linejoin="round" />
<polygon points="313.2,399.7 313.4,398.6 313.6,399.2 313.9,398.6 314.1,400.0 314.3,402.4 314.5,398.8 314.8,398.7 315.0,402.1 315.2,402.4 315.4,402.0 315.6,400.5 315.9,398.4 316.1,398.7 316.3,399.9 316.5,399.3 316.8,399.9 317.0,399.7 317.2,400.8 317.4,402.0 317.7,399.3 317.9,400.1 318.1,399.9 318.3,400.8 318.5,401.2 318.8,401.2 319.0,399.8 319.2,398.3 319.4,398.5 319.7,400.1 319.9,396.4 320.1,397.2 320.3,397.4 320.5,399.6 320.8,400.3 321.0,399.5 321.2,402.3 321.4,402.4 321.7,400.8 321.9,397.3 322.1,398.3 322.3,400.8 322.6,402.3 322.8,400.1 323.0,401.4 323.2,401.4 323.4,398.3 323.7,399.4 323.9,400.5 324.1,401.6 324.3,399.3 324.6,398.2 324.8,400.3 325.0,402.4 325.2,401.7 325.4,399.3 325.7,399.4 325.9,401.7 326.1,400.8 326.3,399.7 326.6,400.3 326.8,400.3 327.0,400.5 327.2,401.2 327.4,401.8 327.7,403.0 327.9,403.4 328.1,404.3 328.3,401.7 328.6,400.4 328.8,400.3 329.0,399.7 329.2,399.9 329.5,401.1 329.7,400.4 329.9,400.7 330.1,400.7 330.3,403.2 330.6,402.3 330.8,400.6 331.0,400.7 331.2,401.5 331.5,402.9 331.7,402.3 331.9,399.1 332.1,400.3 332.3,398.5 332.6,399.7 332.8,398.2 333.0,399.6 333.2,399.0 333.5,398.3 333.7,398.0 333.9,400.0 334.1,400.1 334.3,400.8 334.6,400.2 334.8,400.1 335.0,399.9 335.2,398.6 335.5,400.2 335.7,400.6 335.9,400.5 336.1,400.0 336.4,400.5 336.6,398.9 336.8,400.3 337.0,397.0 337.2,397.7 337.5,396.5 337.7,398.9 337.9,398.1 338.1,396.7 338.4,393.3 338.6,393.4 338.8,391.1 339.0,392.5 339.2,389.7 339.5,390.8 339.7,392.4 339.9,392.7 340.1,388.3 340.4,389.1 340.6,389.8 340.8,389.0 341.0,384.5 341.3,386.8 341.5,386.0 341.7,389.6 341.9,386.1 342.1,385.1 342.4,379.8 342.6,377.9 342.8,382.3 343.0,384.7 343.3,387.7 343.5,388.0 343.7,388.4 343.9,387.0 344.1,389.7 344.4,390.1 344.6,391.7 344.8,389.4 345.0,389.4 345.3,384.0 345.5,379.0 345.7,376.5 345.9,383.4 346.1,383.6 346.4,381.2 346.6,379.6 346.8,378.1 347.0,376.7 347.3,378.0 347.5,379.6 347.7,381.4 347.9,381.8 348.2,386.2 348.4,384.2 348.6,388.4 348.8,387.0 349.0,389.9 349.3,391.4 349.5,392.9 349.7,394.2 349.9,388.9 350.2,390.5 350.4,389.9 350.6,391.2 350.8,390.8 351.0,391.5 351.3,390.7 351.5,386.5 351.7,383.9 351.9,382.6 352.2,379.7 352.4,377.0 352.6,378.5 352.8,378.2 353.0,372.9 353.3,371.4 353.5,374.8 353.7,379.9 353.9,380.6 354.2,385.7 354.4,386.5 354.6,382.6 354.8,388.7 355.1,393.4 355.3,394.1 355.5,391.0 355.7,391.6 355.9,389.6 356.2,394.9 356.4,395.6 356.6,396.5 356.8,395.7 357.1,393.5 357.3,391.2 357.5,394.3 357.7,388.9 357.9,387.6 358.2,389.4 358.4,384.2 358.6,382.5 358.8,384.0 359.1,383.1 359.3,379.9 359.5,380.5 359.7,382.0 360.0,377.0 360.2,380.6 360.4,381.5 360.6,383.3 360.8,384.7 361.1,392.3 361.3,390.8 361.5,386.0 361.7,386.3 362.0,384.7 362.2,386.5 362.4,388.9 362.6,391.3 362.8,396.3 363.1,400.8 363.3,393.7 363.5,395.1 363.7,389.9 364.0,385.5 364.2,387.1 364.4,386.2 364.6,385.7 364.8,385.0 365.1,379.9 365.3,383.4 365.5,379.8 365.7,373.9 366.0,377.3 366.2,376.1 366.4,373.9 366.6,370.6 366.9,370.8 367.1,368.4 367.3,368.9 367.5,371.9 367.7,375.8 368.0,379.3 368.2,380.3 368.4,376.9 368.6,381.2 368.9,384.9 369.1,388.7 369.3,387.3 369.5,382.9 369.7,384.8 370.0,386.9 370.2,385.8 370.4,391.1 370.6,389.4 370.9,386.6 371.1,384.8 371.3,378.8 371.5,384.6 371.7,387.2 372.0,386.0 372.2,381.2 372.4,385.0 372.6,386.8 372.9,385.2 373.1,386.0 373.3,384.6 373.5,384.1 373.8,382.7 374.0,380.3 374.2,375.6 374.4,378.1 374.6,376.6 374.9,373.4 375.1,372.7 375.3,375.5 375.5,380.6 375.8,379.3 376.0,384.4 376.2,385.3 376.4,383.6 376.6,386.0 376.9,390.3 377.1,389.1 377.3,392.8 377.5,387.8 377.8,383.9 378.0,385.9 378.2,387.4 378.4,392.7 378.7,389.3 378.9,386.9 379.1,388.7 379.3,387.9 379.5,387.6 379.8,384.9 380.0,383.3 380.2,383.2 380.4,384.5 380.7,381.9 380.9,388.4 381.1,387.3 381.3,385.7 381.5,387.6 381.8,389.6 382.0,383.4 382.2,381.9 382.4,389.1 382.7,393.8 382.9,391.8 383.1,387.1 383.3,386.5 383.5,389.3 383.8,389.7 384.0,387.1 384.2,387.1 384.4,385.2 384.7,387.9 384.9,390.6 385.1,393.1 385.3,389.4 385.6,386.5 385.8,384.4 386.0,391.3 386.2,386.9 386.4,388.2 386.7,394.0 386.9,395.7 387.1,391.6 387.3,395.0 387.6,397.1 387.8,399.4 388.0,400.6 388.2,395.9 388.4,389.5 388.7,390.5 388.9,388.5 389.1,389.6 389.3,388.7 389.6,385.8 389.8,388.5 390.0,389.9 390.2,387.5 390.5,388.0 390.7,388.2 390.9,386.3 391.1,382.3 391.3,383.3 391.6,385.2 391.8,388.1 392.0,389.1 392.2,392.8 392.5,395.3 392.7,397.6 392.9,390.3 393.1,388.2 393.3,390.7 393.6,393.2 393.8,394.0 394.0,391.3 394.2,390.0 394.5,389.5 394.7,394.5 394.9,394.3 395.1,394.5 395.3,395.0 395.6,393.6 395.8,396.1 396.0,391.6 396.2,383.1 396.5,386.8 396.7,387.7 396.9,387.2 397.1,387.3 397.4,391.8 397.6,388.2 397.8,388.7 398.0,392.3 398.2,391.9 398.5,393.0 398.7,395.4 398.9,393.3 399.1,387.5 399.4,383.0 399.6,390.1 399.8,394.3 400.0,391.8 400.2,391.2 400.5,394.9 400.7,392.8 400.9,390.2 401.1,390.9 401.4,393.8 401.6,387.9 401.8,388.2 402.0,386.8 402.2,393.0 402.5,390.7 402.7,388.4 402.9,390.6 403.1,390.9 403.4,385.5 403.6,385.6 403.8,387.8 404.0,385.8 404.3,384.8 404.5,388.8 404.7,390.3 404.9,390.9 405.1,390.5 405.4,385.4 405.6,383.8 405.8,381.3 406.0,385.4 406.3,386.3 406.5,382.8 406.7,386.1 406.9,383.1 407.1,382.9 407.4,381.7 407.6,382.0 407.8,384.3 408.0,385.2 408.3,388.0 408.5,388.5 408.7,383.2 408.9,383.9 409.2,382.1 409.4,384.3 409.6,382.1 409.8,381.5 410.0,376.4 410.3,378.9 410.5,380.1 410.7,377.0 410.9,373.6 411.2,372.4 411.4,372.0 411.6,371.4 411.8,370.5 412.0,374.7 412.3,378.4 412.5,381.8 412.7,382.0 412.9,382.3 413.2,383.3 413.4,388.7 413.6,388.4 413.8,389.4 414.0,384.7 414.3,383.2 414.5,380.2 414.7,384.0 414.9,383.6 415.2,385.0 415.4,381.5 415.6,383.0 415.8,380.3 416.1,380.1 416.3,381.1 416.5,383.9 416.7,386.9 416.9,387.1 417.2,387.8 417.4,386.8 417.6,379.5 417.8,382.9 418.1,379.6 418.3,376.9 418.5,373.5 418.7,380.8 418.9,379.2 419.2,376.9 419.4,376.5 419.6,373.9 419.8,370.1 420.1,373.1 420.3,375.5 420.5,377.3 420.7,372.9 420.9,374.0 421.2,376.0 421.4,380.3 421.6,377.4 421.8,381.0 422.1,383.0 422.3,382.8 422.5,379.1 422.7,381.4 423.0,381.8 423.2,382.1 423.4,384.3 423.6,382.4 423.8,378.6 424.1,376.0 424.3,377.4 424.5,375.9 424.7,375.6 425.0,383.1 425.2,381.9 425.4,379.3 425.6,383.8 425.8,384.5 426.1,381.2 426.3,384.5 426.5,386.7 426.7,388.2 427.0,384.0 427.2,379.5 427.4,377.5 427.6,382.1 427.9,380.3 428.1,379.4 428.3,378.2 428.5,374.3 428.7,374.8 429.0,377.4 429.2,375.6 429.4,374.7 429.6,368.6 429.9,371.8 430.1,377.4 430.3,379.6 430.5,383.4 430.7,381.3 431.0,381.4 431.2,382.8 431.4,386.9 431.6,385.1 431.9,384.3 432.1,384.9 432.3,385.3 432.5,386.8 432.7,388.6 433.0,388.5 433.2,386.5 433.4,390.3 433.6,385.5 433.9,387.7 434.1,384.1 434.3,379.5 434.5,378.9 434.8,380.5 435.0,382.9 435.2,380.0 435.4,381.1 435.6,379.1 435.9,377.7 436.1,375.9 436.3,372.4 436.5,373.5 436.8,371.5 437.0,373.9 437.2,378.3 437.4,379.0 437.6,382.6 437.9,385.6 438.1,382.8 438.3,376.3 438.5,382.7 438.8,379.3 439.0,380.8 439.2,382.1 439.4,380.2 439.6,377.4 439.9,378.2 440.1,378.4 440.3,377.6 440.5,376.6 440.8,380.3 441.0,379.1 441.2,378.5 441.4,378.5 441.7,380.0 441.9,378.1 442.1,374.7 442.3,374.8 442.5,372.4 442.8,379.4 443.0,378.9 443.2,385.8 443.4,380.9 443.7,377.1 443.9,379.5 444.1,382.0 444.3,382.4 444.5,386.1 444.8,382.2 445.0,385.1 445.2,386.7 445.4,387.0 445.7,385.8 445.9,390.6 446.1,398.0 446.3,395.8 446.6,388.3 446.8,383.5 447.0,380.2 447.2,384.3 447.4,378.3 447.7,375.9 447.9,375.3 448.1,376.8 448.3,374.2 448.6,371.0 448.8,378.9 449.0,378.7 449.2,388.0 449.4,389.0 449.7,385.2 449.9,382.1 450.1,383.0 450.3,379.7 450.6,380.8 450.8,380.6 451.0,380.5 451.2,379.9 451.4,385.2 451.7,383.7 451.9,383.9 452.1,385.9 452.3,389.1 452.6,383.2 452.8,384.2 453.0,382.3 453.2,376.5 453.5,372.6 453.7,373.4 453.9,375.5 454.1,382.1 454.3,381.4 454.6,382.3 454.8,384.7 455.0,377.8 455.2,385.7 455.5,383.4 455.7,383.4 455.9,386.8 456.1,390.8 456.3,392.1 456.6,395.4 456.8,397.6 457.0,399.7 457.2,403.7 457.5,404.5 457.7,408.6 457.9,407.2 458.1,403.2 458.3,400.4 458.6,398.0 458.8,393.7 459.0,392.7 459.2,390.6 459.5,387.3 459.7,388.0 459.9,385.5 460.1,381.3 460.4,378.6 460.6,380.4 460.8,381.6 461.0,383.0 461.2,385.5 461.5,386.3 461.7,390.8 461.9,391.7 462.1,394.2 462.4,396.6 462.6,401.0 462.8,398.7 463.0,405.1 463.2,405.7 463.5,404.8 463.7,399.9 463.9,399.8 464.1,398.2 464.4,395.9 464.6,393.0 464.8,390.1 465.0,388.2 465.3,390.1 465.5,388.0 465.7,384.2 465.9,381.3 466.1,378.3 466.4,378.1 466.6,376.4 466.8,377.2 467.0,378.5 467.3,380.0 467.5,383.6 467.7,384.9 467.9,388.3 468.1,390.7 468.4,395.9 468.6,399.2 468.8,399.0 469.0,400.0 469.3,396.5 469.5,394.7 469.7,396.6 469.9,395.4 470.1,393.7 470.4,393.1 470.6,394.6 470.8,391.4 471.0,389.9 471.3,390.2 471.5,388.4 471.7,387.0 471.9,382.3 472.2,381.5 472.4,384.6 472.6,386.6 472.8,391.1 473.0,390.9 473.3,392.8 473.5,393.0 473.7,395.8 473.9,396.2 474.2,397.4 474.4,402.6 474.6,402.5 474.8,400.7 475.0,399.3 475.3,398.9 475.5,397.1 475.7,395.4 475.9,392.5 476.2,391.8 476.4,390.1 476.6,387.1 476.8,385.8 477.1,385.9 477.3,386.0 477.5,383.7 477.7,383.3 477.9,382.7 478.2,384.9 478.4,388.7 478.6,388.4 478.8,391.2 479.1,391.6 479.3,393.1 479.5,394.4 479.7,399.0 479.9,400.5 480.2,401.6 480.4,399.3 480.6,401.2 480.8,403.6 481.1,404.4 481.3,406.2 481.5,406.7 481.7,407.9 481.9,407.1 482.2,410.1 482.4,410.9 482.6,407.4 482.8,405.6 483.1,405.8 483.3,406.6 483.5,402.5 483.7,399.9 484.0,400.1 484.2,397.2 484.4,393.8 484.6,392.5 484.8,392.7 485.1,389.5 485.3,385.6 485.5,382.2 485.7,382.9 486.0,382.3 486.2,382.5 486.4,381.8 486.6,383.9 486.8,384.3 487.1,382.8 487.3,381.5 487.5,382.1 487.7,381.6 488.0,381.9 488.2,383.5 488.4,381.1 488.6,383.2 488.8,384.5 489.1,383.7 489.3,382.4 489.5,382.4 489.7,384.0 490.0,385.5 490.2,383.9 490.4,383.5 490.6,384.8 490.9,385.0 491.1,382.6 491.3,381.9 491.5,386.1 491.7,385.7 492.0,382.9 492.2,383.9 492.4,386.5 492.6,386.5 492.9,383.5 493.1,384.7 493.3,383.1 493.5,384.8 493.7,382.8 494.0,383.4 494.2,382.9 494.4,383.0 494.6,383.7 494.9,387.1 495.1,383.8 495.3,382.2 495.5,381.7 495.8,381.0 496.0,382.8 496.2,382.1 496.4,384.6 496.6,385.9 496.9,384.2 497.1,386.3 497.3,383.5 497.5,383.4 497.8,382.9 498.0,383.8 498.2,382.7 498.4,381.6 498.6,383.8 498.9,384.2 499.1,382.6 499.3,384.2 499.5,382.5 499.8,383.7 500.0,383.5 500.2,382.1 500.4,381.2 500.6,383.2 500.9,380.3 501.1,381.7 501.3,382.7 501.5,381.3 501.8,381.3 502.0,378.9 502.2,381.2 502.4,383.9 502.7,386.1 502.9,384.9 503.1,383.3 503.3,381.9 503.5,381.1 503.8,380.0 504.0,381.5 504.2,382.8 504.4,378.4 504.7,376.9 504.9,380.2 505.1,381.0 505.3,382.1 505.5,379.6 505.8,379.3 506.0,383.8 506.2,383.1 506.4,383.7 506.7,382.9 506.9,383.7 507.1,383.1 507.3,384.2 507.5,382.3 507.8,383.3 508.0,381.8 508.2,384.3 508.4,383.1 508.7,382.4 508.9,382.6 509.1,383.4 509.3,385.0 509.6,385.1 509.8,385.9 510.0,383.7 510.2,383.3 510.4,382.8 510.7,382.2 510.9,384.7 511.1,385.3 511.3,385.5 511.6,386.1 511.8,386.6 512.0,387.2 512.2,386.5 512.4,382.7 512.7,383.2 512.9,383.5 513.1,383.8 513.3,386.1 513.6,385.1 513.8,385.3 514.0,385.0 514.2,385.8 514.5,382.8 514.7,386.0 514.9,385.9 515.1,386.4 515.3,386.2 515.6,383.6 515.8,382.0 516.0,382.7 516.2,385.2 516.5,383.6 516.7,384.2 516.9,387.1 517.1,385.1 517.3,385.2 517.6,384.9 517.8,383.6 518.0,382.0 518.2,384.8 518.5,384.2 518.7,383.7 518.9,383.6 519.1,383.9 519.3,381.9 519.6,384.0 519.8,384.2 520.0,381.4 520.2,382.4 520.5,381.8 520.7,380.0 520.9,382.6 521.1,385.2 521.4,388.1 521.6,385.9 521.8,384.6 522.0,384.7 522.2,383.0 522.5,381.1 522.7,381.5 522.9,383.0 523.1,385.2 523.4,384.1 523.6,383.2 523.8,381.4 524.0,383.8 524.2,384.7 524.5,387.0 524.7,390.7 524.9,392.9 525.1,396.2 525.4,402.1 525.6,409.0 525.8,408.1 526.0,409.4 526.2,409.7 526.5,405.4 526.7,407.9 526.9,407.9 527.1,408.2 527.4,407.1 527.6,408.8 527.8,409.0 528.0,403.5 528.3,401.5 528.5,398.8 528.7,395.7 528.9,393.4 529.1,391.1 529.4,384.7 529.6,385.6 529.8,385.4 530.0,383.0 530.3,382.6 530.5,384.6 530.7,383.0 530.9,383.1 531.1,384.2 531.4,381.0 531.6,382.9 531.8,383.6 532.0,383.1 532.3,382.9 532.5,382.9 532.7,383.6 532.9,384.0 533.2,383.2 533.4,384.0 533.6,384.0 533.8,382.7 534.0,382.1 534.3,383.2 534.5,384.3 534.7,381.9 534.9,384.9 535.2,384.0 535.4,383.5 535.6,385.8 535.6,409.7 535.4,407.4 535.2,407.9 534.9,408.9 534.7,405.8 534.5,408.2 534.3,407.1 534.0,406.0 533.8,406.6 533.6,407.9 533.4,407.9 533.2,407.1 532.9,407.9 532.7,407.6 532.5,406.9 532.3,406.9 532.0,407.0 531.8,407.5 531.6,406.8 531.4,405.0 531.1,408.1 530.9,407.1 530.7,406.9 530.5,408.5 530.3,406.5 530.0,406.9 529.8,409.4 529.6,409.5 529.4,408.6 529.1,415.1 528.9,417.4 528.7,419.6 528.5,422.7 528.3,425.4 528.0,427.4 527.8,432.9 527.6,432.7 527.4,431.0 527.1,432.2 526.9,431.9 526.7,431.9 526.5,429.3 526.2,433.7 526.0,433.3 525.8,432.0 525.6,432.9 525.4,426.0 525.1,420.1 524.9,416.8 524.7,414.6 524.5,411.0 524.2,408.7 524.0,407.7 523.8,405.3 523.6,407.1 523.4,408.1 523.1,409.1 522.9,406.9 522.7,405.4 522.5,405.0 522.2,406.9 522.0,408.6 521.8,408.5 521.6,409.8 521.4,412.1 521.1,409.1 520.9,406.5 520.7,403.9 520.5,405.7 520.2,406.4 520.0,405.3 519.8,408.1 519.6,407.9 519.3,405.9 519.1,407.8 518.9,407.5 518.7,407.6 518.5,408.1 518.2,408.8 518.0,405.9 517.8,407.5 517.6,408.8 517.3,409.1 517.1,409.0 516.9,411.0 516.7,408.2 516.5,407.6 516.2,409.1 516.0,406.6 515.8,405.9 515.6,407.5 515.3,410.2 515.1,410.3 514.9,409.9 514.7,409.9 514.5,406.7 514.2,409.7 514.0,409.0 513.8,409.3 513.6,409.0 513.3,410.0 513.1,407.7 512.9,407.4 512.7,407.1 512.4,406.7 512.2,410.4 512.0,411.1 511.8,410.5 511.6,410.0 511.3,409.4 511.1,409.2 510.9,408.6 510.7,406.1 510.4,406.7 510.2,407.2 510.0,407.6 509.8,409.9 509.6,409.0 509.3,408.9 509.1,407.4 508.9,406.5 508.7,406.3 508.4,407.0 508.2,408.2 508.0,405.7 507.8,407.3 507.5,406.2 507.3,408.1 507.1,407.0 506.9,407.6 506.7,406.8 506.4,407.7 506.2,407.1 506.0,407.8 505.8,403.3 505.5,403.6 505.3,406.0 505.1,404.9 504.9,404.1 504.7,400.9 504.4,402.4 504.2,406.8 504.0,405.4 503.8,404.0 503.5,405.1 503.3,405.9 503.1,407.2 502.9,408.8 502.7,410.0 502.4,407.8 502.2,405.1 502.0,402.8 501.8,405.3 501.5,405.2 501.3,406.7 501.1,405.6 500.9,404.2 500.6,407.1 500.4,405.2 500.2,406.0 500.0,407.5 499.8,407.6 499.5,406.4 499.3,408.2 499.1,406.5 498.9,408.1 498.6,407.7 498.4,405.6 498.2,406.7 498.0,407.7 497.8,406.8 497.5,407.3 497.3,407.5 497.1,410.2 496.9,408.1 496.6,409.8 496.4,408.5 496.2,406.0 496.0,406.7 495.8,404.9 495.5,405.6 495.3,406.1 495.1,407.7 494.9,411.0 494.6,407.6 494.4,406.9 494.2,406.9 494.0,407.4 493.7,406.7 493.5,408.7 493.3,407.0 493.1,408.6 492.9,407.4 492.6,410.5 492.4,410.5 492.2,407.9 492.0,406.8 491.7,409.6 491.5,410.0 491.3,405.9 491.1,406.6 490.9,408.9 490.6,408.7 490.4,407.4 490.2,407.8 490.0,409.5 489.7,407.9 489.5,406.4 489.3,406.3 489.1,407.6 488.8,408.5 488.6,407.1 488.4,405.0 488.2,407.4 488.0,405.8 487.7,405.6 487.5,406.0 487.3,405.4 487.1,406.8 486.8,408.3 486.6,407.9 486.4,405.8 486.2,406.5 486.0,406.2 485.7,406.8 485.5,406.1 485.3,409.6 485.1,413.4 484.8,416.6 484.6,416.4 484.4,417.7 484.2,421.1 484.0,424.1 483.7,423.8 483.5,426.5 483.3,430.5 483.1,429.7 482.8,429.6 482.6,431.3 482.4,434.8 482.2,434.0 481.9,431.0 481.7,431.9 481.5,430.7 481.3,430.1 481.1,428.3 480.8,427.5 480.6,425.1 480.4,423.2 480.2,425.5 479.9,424.4 479.7,422.9 479.5,418.3 479.3,417.0 479.1,415.5 478.8,415.1 478.6,412.3 478.4,412.7 478.2,408.9 477.9,406.7 477.7,407.2 477.5,407.6 477.3,409.9 477.1,409.8 476.8,409.8 476.6,411.0 476.4,414.0 476.2,415.7 475.9,416.4 475.7,419.3 475.5,421.0 475.3,422.8 475.0,423.2 474.8,424.6 474.6,426.4 474.4,426.5 474.2,421.3 473.9,420.2 473.7,419.8 473.5,416.9 473.3,416.7 473.0,414.8 472.8,415.0 472.6,410.6 472.4,408.6 472.2,405.5 471.9,406.2 471.7,410.9 471.5,412.3 471.3,414.2 471.0,413.8 470.8,415.4 470.6,418.5 470.4,417.0 470.1,417.7 469.9,419.3 469.7,420.5 469.5,418.7 469.3,420.5 469.0,423.9 468.8,423.0 468.6,423.2 468.4,419.8 468.1,414.6 467.9,412.2 467.7,408.8 467.5,407.5 467.3,403.9 467.0,402.5 466.8,401.1 466.6,400.3 466.4,402.0 466.1,402.2 465.9,405.2 465.7,408.1 465.5,411.9 465.3,414.1 465.0,412.2 464.8,414.0 464.6,417.0 464.4,419.9 464.1,422.2 463.9,423.7 463.7,423.9 463.5,428.7 463.2,429.6 463.0,429.0 462.8,422.6 462.6,425.0 462.4,420.5 462.1,418.1 461.9,415.6 461.7,414.8 461.5,410.2 461.2,409.5 461.0,407.0 460.8,405.5 460.6,404.3 460.4,402.5 460.1,405.3 459.9,409.4 459.7,411.9 459.5,411.2 459.2,414.5 459.0,416.6 458.8,417.6 458.6,422.0 458.3,424.3 458.1,427.2 457.9,431.1 457.7,432.5 457.5,428.4 457.2,427.6 457.0,423.6 456.8,421.5 456.6,419.4 456.3,416.1 456.1,414.8 455.9,410.7 455.7,407.4 455.5,407.4 455.2,409.6 455.0,401.8 454.8,408.6 454.6,406.3 454.3,405.3 454.1,406.1 453.9,399.4 453.7,397.3 453.5,396.6 453.2,400.4 453.0,406.3 452.8,408.1 452.6,407.1 452.3,413.0 452.1,409.8 451.9,407.9 451.7,407.7 451.4,409.2 451.2,403.8 451.0,404.4 450.8,404.6 450.6,404.7 450.3,403.6 450.1,406.9 449.9,406.0 449.7,409.1 449.4,413.0 449.2,411.9 449.0,402.6 448.8,402.8 448.6,395.0 448.3,398.1 448.1,400.7 447.9,399.3 447.7,399.9 447.4,402.2 447.2,408.2 447.0,404.1 446.8,407.5 446.6,412.2 446.3,419.8 446.1,421.9 445.9,414.5 445.7,409.7 445.4,410.9 445.2,410.6 445.0,409.1 444.8,406.1 444.5,410.1 444.3,406.4 444.1,405.9 443.9,403.5 443.7,401.1 443.4,404.9 443.2,409.7 443.0,402.8 442.8,403.3 442.5,396.3 442.3,398.7 442.1,398.7 441.9,402.1 441.7,404.0 441.4,402.5 441.2,402.4 441.0,403.0 440.8,404.2 440.5,400.6 440.3,401.6 440.1,402.3 439.9,402.1 439.6,401.3 439.4,404.1 439.2,406.0 439.0,404.7 438.8,403.2 438.5,406.7 438.3,400.2 438.1,406.8 437.9,409.5 437.6,406.5 437.4,402.9 437.2,402.2 437.0,397.9 436.8,395.4 436.5,397.4 436.3,396.3 436.1,399.9 435.9,401.7 435.6,403.0 435.4,405.0 435.2,403.9 435.0,406.8 434.8,404.4 434.5,402.9 434.3,403.4 434.1,408.0 433.9,411.6 433.6,409.4 433.4,414.2 433.2,410.4 433.0,412.5 432.7,412.5 432.5,410.7 432.3,409.3 432.1,408.8 431.9,408.3 431.6,409.1 431.4,410.8 431.2,406.7 431.0,405.3 430.7,405.2 430.5,407.3 430.3,403.6 430.1,401.4 429.9,395.7 429.6,392.5 429.4,398.6 429.2,399.5 429.0,401.3 428.7,398.8 428.5,398.2 428.3,402.2 428.1,403.3 427.9,404.2 427.6,406.0 427.4,401.4 427.2,403.4 427.0,407.9 426.7,412.1 426.5,410.6 426.3,408.4 426.1,405.1 425.8,408.4 425.6,407.7 425.4,403.2 425.2,405.9 425.0,407.0 424.7,399.5 424.5,399.9 424.3,401.3 424.1,399.9 423.8,402.5 423.6,406.3 423.4,408.2 423.2,406.0 423.0,405.8 422.7,405.4 422.5,403.1 422.3,406.7 422.1,407.0 421.8,404.9 421.6,401.4 421.4,404.2 421.2,400.0 420.9,397.9 420.7,396.9 420.5,401.2 420.3,399.4 420.1,397.0 419.8,394.0 419.6,397.8 419.4,400.4 419.2,400.9 418.9,403.1 418.7,404.7 418.5,397.4 418.3,400.8 418.1,403.5 417.8,406.8 417.6,403.4 417.4,410.7 417.2,411.7 416.9,411.0 416.7,410.8 416.5,407.8 416.3,405.1 416.1,404.0 415.8,404.3 415.6,406.9 415.4,405.4 415.2,408.9 414.9,407.6 414.7,407.9 414.5,404.2 414.3,407.1 414.0,408.7 413.8,413.4 413.6,412.3 413.4,412.7 413.2,407.3 412.9,406.2 412.7,405.9 412.5,405.7 412.3,402.4 412.0,398.6 411.8,394.4 411.6,395.4 411.4,395.9 411.2,396.4 410.9,397.6 410.7,400.9 410.5,404.0 410.3,402.9 410.0,400.3 409.8,405.5 409.6,406.0 409.4,408.2 409.2,406.1 408.9,407.8 408.7,407.1 408.5,412.4 408.3,412.0 408.0,409.2 407.8,408.2 407.6,405.9 407.4,405.6 407.1,406.8 406.9,407.1 406.7,410.0 406.5,406.8 406.3,410.2 406.0,409.3 405.8,405.2 405.6,407.7 405.4,409.3 405.1,414.4 404.9,414.8 404.7,414.3 404.5,412.7 404.3,408.7 404.0,409.7 403.8,411.7 403.6,409.5 403.4,409.4 403.1,414.8 402.9,414.6 402.7,412.3 402.5,414.6 402.2,417.0 402.0,410.7 401.8,412.1 401.6,411.8 401.4,417.8 401.1,414.8 400.9,414.1 400.7,416.7 400.5,418.8 400.2,415.1 400.0,415.8 399.8,418.2 399.6,414.0 399.4,406.9 399.1,411.4 398.9,417.3 398.7,419.3 398.5,416.9 398.2,415.9 398.0,416.2 397.8,412.6 397.6,412.2 397.4,415.7 397.1,411.2 396.9,411.1 396.7,411.7 396.5,410.7 396.2,407.0 396.0,415.5 395.8,420.0 395.6,417.6 395.3,419.0 395.1,418.5 394.9,418.3 394.7,418.4 394.5,413.4 394.2,414.0 394.0,415.2 393.8,417.9 393.6,417.1 393.3,414.7 393.1,412.1 392.9,414.2 392.7,421.5 392.5,419.2 392.2,416.7 392.0,413.1 391.8,412.1 391.6,409.1 391.3,407.3 391.1,406.3 390.9,410.2 390.7,412.1 390.5,411.9 390.2,411.4 390.0,413.9 389.8,412.5 389.6,409.7 389.3,412.6 389.1,413.5 388.9,412.4 388.7,414.4 388.4,413.4 388.2,419.9 388.0,424.5 387.8,423.3 387.6,421.0 387.3,418.9 387.1,415.5 386.9,419.6 386.7,417.9 386.4,412.1 386.2,410.8 386.0,415.3 385.8,408.3 385.6,410.4 385.3,413.3 385.1,417.1 384.9,414.5 384.7,411.8 384.4,409.2 384.2,411.0 384.0,411.1 383.8,413.6 383.5,413.3 383.3,410.4 383.1,411.1 382.9,415.7 382.7,417.8 382.4,413.0 382.2,405.8 382.0,407.3 381.8,413.5 381.5,411.6 381.3,409.6 381.1,411.3 380.9,412.3 380.7,405.8 380.4,408.4 380.2,407.1 380.0,407.2 379.8,408.9 379.5,411.6 379.3,411.8 379.1,412.6 378.9,410.8 378.7,413.3 378.4,416.6 378.2,411.4 378.0,409.9 377.8,407.8 377.5,411.7 377.3,416.8 377.1,413.0 376.9,414.3 376.6,409.9 376.4,407.6 376.2,409.2 376.0,408.4 375.8,403.3 375.5,404.6 375.3,399.4 375.1,396.6 374.9,397.3 374.6,400.6 374.4,402.0 374.2,399.6 374.0,404.3 373.8,406.7 373.5,408.1 373.3,408.6 373.1,409.9 372.9,409.1 372.6,410.7 372.4,408.9 372.2,405.2 372.0,409.9 371.7,411.1 371.5,408.6 371.3,402.8 371.1,408.7 370.9,410.5 370.6,413.4 370.4,415.0 370.2,409.7 370.0,410.9 369.7,408.7 369.5,406.8 369.3,411.3 369.1,412.6 368.9,408.8 368.6,405.1 368.4,400.9 368.2,404.2 368.0,403.2 367.7,399.8 367.5,395.8 367.3,392.9 367.1,392.3 366.9,394.7 366.6,394.5 366.4,397.9 366.2,400.0 366.0,401.2 365.7,397.8 365.5,403.8 365.3,407.4 365.1,403.9 364.8,408.9 364.6,409.7 364.4,410.2 364.2,411.0 364.0,409.4 363.7,413.8 363.5,419.0 363.3,417.6 363.1,424.8 362.8,420.3 362.6,415.2 362.4,412.8 362.2,410.4 362.0,408.6 361.7,410.3 361.5,409.9 361.3,414.7 361.1,416.2 360.8,408.6 360.6,407.2 360.4,405.4 360.2,404.5 360.0,400.9 359.7,405.9 359.5,404.4 359.3,403.9 359.1,407.0 358.8,407.9 358.6,406.4 358.4,408.1 358.2,413.4 357.9,411.6 357.7,412.9 357.5,418.2 357.3,415.1 357.1,417.4 356.8,419.6 356.6,420.5 356.4,419.5 356.2,418.8 355.9,413.5 355.7,415.5 355.5,415.0 355.3,418.0 355.1,417.3 354.8,412.7 354.6,406.6 354.4,410.4 354.2,409.6 353.9,404.5 353.7,403.9 353.5,398.7 353.3,395.4 353.0,396.8 352.8,402.1 352.6,402.4 352.4,400.9 352.2,403.6 351.9,406.5 351.7,407.9 351.5,410.4 351.3,414.7 351.0,415.4 350.8,414.7 350.6,415.1 350.4,413.8 350.2,414.5 349.9,412.8 349.7,418.1 349.5,416.9 349.3,415.4 349.0,413.9 348.8,410.9 348.6,412.3 348.4,408.2 348.2,410.2 347.9,405.7 347.7,405.3 347.5,403.6 347.3,401.9 347.0,400.6 346.8,402.1 346.6,403.6 346.4,405.1 346.1,407.5 345.9,407.3 345.7,400.5 345.5,402.9 345.3,408.0 345.0,413.3 344.8,413.3 344.6,415.6 344.4,414.0 344.1,413.6 343.9,411.0 343.7,412.3 343.5,411.9 343.3,411.6 343.0,408.6 342.8,406.2 342.6,401.9 342.4,403.8 342.1,409.0 341.9,410.0 341.7,413.6 341.5,410.0 341.3,410.7 341.0,408.4 340.8,412.9 340.6,413.8 340.4,413.1 340.1,412.2 339.9,416.6 339.7,416.4 339.5,414.8 339.2,413.6 339.0,416.4 338.8,415.0 338.6,417.3 338.4,417.2 338.1,420.7 337.9,422.1 337.7,422.8 337.5,420.4 337.2,421.7 337.0,421.0 336.8,424.2 336.6,422.8 336.4,424.4 336.1,423.9 335.9,424.5 335.7,424.6 335.5,424.1 335.2,422.6 335.0,423.8 334.8,424.0 334.6,424.1 334.3,424.8 334.1,424.0 333.9,423.9 333.7,421.9 333.5,422.3 333.2,422.9 333.0,423.5 332.8,422.1 332.6,423.7 332.3,422.5 332.1,424.2 331.9,423.0 331.7,426.2 331.5,426.8 331.2,425.4 331.0,424.7 330.8,424.5 330.6,426.3 330.3,427.1 330.1,424.6 329.9,424.6 329.7,424.3 329.5,425.0 329.2,423.8 329.0,423.6 328.8,424.2 328.6,424.3 328.3,425.7 328.1,428.2 327.9,427.3 327.7,427.0 327.4,425.7 327.2,425.2 327.0,424.4 326.8,424.2 326.6,424.2 326.3,423.7 326.1,424.7 325.9,425.7 325.7,423.4 325.4,423.3 325.2,425.7 325.0,426.4 324.8,424.3 324.6,422.1 324.3,423.2 324.1,425.5 323.9,424.4 323.7,423.3 323.4,422.2 323.2,425.4 323.0,425.3 322.8,424.0 322.6,426.2 322.3,424.7 322.1,422.2 321.9,421.3 321.7,424.8 321.4,426.3 321.2,426.2 321.0,423.4 320.8,424.2 320.5,423.5 320.3,421.4 320.1,421.1 319.9,420.3 319.7,424.1 319.4,422.5 319.2,422.2 319.0,423.7 318.8,425.1 318.5,425.2 318.3,424.8 318.1,423.9 317.9,424.1 317.7,423.2 317.4,426.0 317.2,424.7 317.0,423.6 316.8,423.9 316.5,423.2 316.3,423.9 316.1,422.7 315.9,422.3 315.6,424.4 315.4,425.9 315.2,426.3 315.0,426.0 314.8,422.6 314.5,422.7 314.3,426.3 314.1,424.0 313.9,422.5 313.6,423.1 313.4,422.6 313.2,423.6" fill="#ffe066" fill-opacity="0.55" stroke="none"/>
<polyline points="313.2,411.8 313.4,417.7 313.6,409.0 313.9,407.4 314.1,423.7 314.3,422.8 314.5,411.8 314.8,414.0 315.0,415.8 315.2,417.5 315.4,411.1 315.6,410.1 315.9,411.7 316.1,406.6 316.3,411.2 316.5,417.4 316.8,411.7 317.0,418.3 317.2,409.9 317.4,416.0 317.7,413.9 317.9,417.3 318.1,407.3 318.3,415.3 318.5,417.1 318.8,416.7 319.0,410.7 319.2,410.1 319.4,410.1 319.7,411.6 319.9,399.1 320.1,412.9 320.3,413.7 320.5,400.6 320.8,410.8 321.0,407.4 321.2,416.6 321.4,420.4 321.7,418.7 321.9,407.7 322.1,408.2 322.3,411.7 322.6,419.4 322.8,412.5 323.0,414.5 323.2,414.0 323.4,407.5 323.7,411.9 323.9,410.6 324.1,414.9 324.3,411.5 324.6,408.6 324.8,421.5 325.0,417.8 325.2,417.8 325.4,416.3 325.7,414.5 325.9,407.8 326.1,418.9 326.3,408.5 326.6,422.6 326.8,415.7 327.0,413.3 327.2,411.9 327.4,411.8 327.7,412.4 327.9,418.8 328.1,420.3 328.3,411.0 328.6,415.0 328.8,420.5 329.0,419.2 329.2,418.3 329.5,412.2 329.7,413.3 329.9,410.8 330.1,416.5 330.3,416.1 330.6,412.8 330.8,415.8 331.0,412.1 331.2,418.5 331.5,418.4 331.7,417.9 331.9,418.9 332.1,411.4 332.3,414.6 332.6,413.3 332.8,409.4 333.0,411.0 333.2,409.3 333.5,412.5 333.7,413.9 333.9,414.0 334.1,422.4 334.3,421.9 334.6,420.6 334.8,418.9 335.0,411.5 335.2,416.9 335.5,415.8 335.7,407.7 335.9,416.1 336.1,392.0 336.4,418.9 336.6,413.6 336.8,418.8 337.0,412.4 337.2,407.1 337.5,419.0 337.7,410.3 337.9,410.6 338.1,413.4 338.4,414.4 338.6,406.7 338.8,407.5 339.0,405.0 339.2,403.3 339.5,396.3 339.7,407.3 339.9,411.6 340.1,387.7 340.4,400.7 340.6,396.5 340.8,398.3 341.0,394.6 341.3,392.9 341.5,405.8 341.7,406.6 341.9,404.5 342.1,400.8 342.4,400.6 342.6,388.4 342.8,397.1 343.0,405.9 343.3,406.6 343.5,400.1 343.7,397.8 343.9,390.5 344.1,388.4 344.4,401.6 344.6,410.4 344.8,414.0 345.0,401.7 345.3,401.9 345.5,394.8 345.7,393.3 345.9,397.8 346.1,391.8 346.4,394.1 346.6,394.1 346.8,397.1 347.0,399.0 347.3,394.1 347.5,393.6 347.7,386.0 347.9,394.8 348.2,394.9 348.4,400.5 348.6,408.1 348.8,405.6 349.0,407.3 349.3,394.2 349.5,410.8 349.7,403.5 349.9,407.2 350.2,399.4 350.4,401.6 350.6,405.7 350.8,389.2 351.0,401.7 351.3,402.1 351.5,402.5 351.7,403.9 351.9,402.8 352.2,392.5 352.4,382.6 352.6,391.4 352.8,392.5 353.0,385.1 353.3,378.4 353.5,387.3 353.7,395.7 353.9,388.6 354.2,397.1 354.4,386.6 354.6,395.4 354.8,408.7 355.1,414.0 355.3,399.3 355.5,395.9 355.7,406.1 355.9,405.2 356.2,401.0 356.4,411.7 356.6,414.8 356.8,406.1 357.1,409.2 357.3,404.9 357.5,408.8 357.7,400.9 357.9,394.1 358.2,402.7 358.4,394.6 358.6,406.7 358.8,397.9 359.1,401.1 359.3,399.9 359.5,392.8 359.7,397.4 360.0,386.0 360.2,401.0 360.4,395.0 360.6,399.4 360.8,400.1 361.1,400.8 361.3,401.7 361.5,392.8 361.7,400.8 362.0,401.9 362.2,401.3 362.4,401.3 362.6,404.0 362.8,415.6 363.1,414.1 363.3,401.6 363.5,395.9 363.7,394.0 364.0,403.5 364.2,402.3 364.4,407.4 364.6,402.4 364.8,397.1 365.1,387.4 365.3,400.8 365.5,396.9 365.7,398.6 366.0,391.8 366.2,395.2 366.4,390.3 366.6,388.8 366.9,385.0 367.1,391.1 367.3,390.1 367.5,374.6 367.7,396.1 368.0,398.6 368.2,384.5 368.4,375.7 368.6,400.9 368.9,400.4 369.1,400.6 369.3,392.2 369.5,401.6 369.7,399.7 370.0,396.6 370.2,397.2 370.4,406.7 370.6,403.8 370.9,407.3 371.1,399.7 371.3,393.9 371.5,397.1 371.7,403.7 372.0,397.3 372.2,389.7 372.4,397.9 372.6,398.6 372.9,398.6 373.1,399.6 373.3,402.0 373.5,396.2 373.8,396.9 374.0,377.9 374.2,381.2 374.4,389.8 374.6,394.2 374.9,392.8 375.1,362.0 375.3,387.4 375.5,391.9 375.8,402.0 376.0,370.9 376.2,396.6 376.4,403.0 376.6,402.1 376.9,402.7 377.1,399.0 377.3,408.0 377.5,402.0 377.8,398.9 378.0,398.8 378.2,393.6 378.4,419.5 378.7,404.2 378.9,399.7 379.1,400.8 379.3,403.5 379.5,410.3 379.8,396.9 380.0,388.1 380.2,404.7 380.4,393.7 380.7,397.2 380.9,402.4 381.1,406.4 381.3,401.1 381.5,394.6 381.8,400.3 382.0,388.2 382.2,389.5 382.4,400.5 382.7,398.6 382.9,403.2 383.1,396.6 383.3,401.7 383.5,402.7 383.8,406.9 384.0,395.7 384.2,406.8 384.4,391.5 384.7,402.6 384.9,398.3 385.1,402.9 385.3,393.7 385.6,396.4 385.8,406.1 386.0,405.3 386.2,394.9 386.4,404.5 386.7,399.9 386.9,406.1 387.1,408.8 387.3,413.8 387.6,410.6 387.8,419.3 388.0,417.7 388.2,408.0 388.4,397.3 388.7,401.1 388.9,413.9 389.1,401.7 389.3,402.0 389.6,397.3 389.8,393.9 390.0,414.2 390.2,384.1 390.5,398.6 390.7,410.0 390.9,392.4 391.1,385.7 391.3,392.7 391.6,401.8 391.8,397.6 392.0,394.5 392.2,405.2 392.5,407.7 392.7,409.9 392.9,407.2 393.1,402.6 393.3,405.2 393.6,404.9 393.8,402.5 394.0,410.4 394.2,404.3 394.5,395.6 394.7,412.0 394.9,412.2 395.1,407.2 395.3,404.4 395.6,407.3 395.8,402.9 396.0,400.9 396.2,392.4 396.5,397.6 396.7,389.5 396.9,401.9 397.1,411.2 397.4,397.2 397.6,404.2 397.8,401.8 398.0,399.2 398.2,413.8 398.5,413.1 398.7,417.3 398.9,411.1 399.1,398.9 399.4,394.0 399.6,402.3 399.8,415.2 400.0,417.3 400.2,404.5 400.5,411.0 400.7,404.1 400.9,400.3 401.1,403.9 401.4,403.6 401.6,394.8 401.8,399.1 402.0,404.1 402.2,407.6 402.5,403.3 402.7,397.9 402.9,406.3 403.1,401.9 403.4,400.5 403.6,399.1 403.8,397.2 404.0,409.7 404.3,405.1 404.5,410.1 404.7,416.0 404.9,408.0 405.1,400.3 405.4,400.5 405.6,396.5 405.8,389.4 406.0,392.2 406.3,400.3 406.5,389.6 406.7,399.3 406.9,401.1 407.1,399.6 407.4,403.0 407.6,400.2 407.8,399.8 408.0,394.8 408.3,392.9 408.5,409.2 408.7,394.9 408.9,402.9 409.2,393.4 409.4,398.6 409.6,405.2 409.8,390.5 410.0,393.1 410.3,395.4 410.5,399.2 410.7,394.0 410.9,385.1 411.2,387.1 411.4,384.0 411.6,383.3 411.8,377.4 412.0,390.1 412.3,399.7 412.5,390.0 412.7,397.4 412.9,390.2 413.2,395.0 413.4,383.5 413.6,400.3 413.8,393.1 414.0,387.7 414.3,396.5 414.5,393.1 414.7,392.2 414.9,401.7 415.2,396.9 415.4,395.3 415.6,395.1 415.8,398.3 416.1,401.9 416.3,405.4 416.5,403.3 416.7,402.9 416.9,402.3 417.2,391.5 417.4,394.8 417.6,398.1 417.8,394.8 418.1,395.3 418.3,392.0 418.5,386.2 418.7,391.3 418.9,394.6 419.2,385.1 419.4,396.0 419.6,387.5 419.8,370.5 420.1,385.6 420.3,381.8 420.5,390.5 420.7,383.6 420.9,388.0 421.2,390.6 421.4,397.9 421.6,388.9 421.8,399.0 422.1,393.3 422.3,390.9 422.5,390.9 422.7,396.6 423.0,393.2 423.2,397.3 423.4,393.1 423.6,405.5 423.8,394.0 424.1,399.9 424.3,398.7 424.5,382.6 424.7,384.7 425.0,400.4 425.2,403.3 425.4,408.1 425.6,400.2 425.8,385.7 426.1,392.7 426.3,401.0 426.5,398.0 426.7,409.9 427.0,399.2 427.2,392.6 427.4,391.6 427.6,391.7 427.9,392.2 428.1,389.6 428.3,395.4 428.5,383.3 428.7,380.2 429.0,396.0 429.2,393.8 429.4,381.5 429.6,383.2 429.9,378.3 430.1,393.4 430.3,385.8 430.5,396.4 430.7,393.6 431.0,387.1 431.2,398.3 431.4,405.4 431.6,397.5 431.9,395.7 432.1,406.6 432.3,395.7 432.5,403.2 432.7,396.4 433.0,414.5 433.2,404.2 433.4,412.6 433.6,403.4 433.9,400.1 434.1,398.7 434.3,394.5 434.5,393.4 434.8,393.1 435.0,401.8 435.2,390.0 435.4,391.4 435.6,390.8 435.9,388.5 436.1,388.1 436.3,375.6 436.5,387.6 436.8,386.8 437.0,378.2 437.2,397.3 437.4,399.1 437.6,400.8 437.9,399.6 438.1,394.8 438.3,389.7 438.5,400.3 438.8,388.3 439.0,390.7 439.2,396.5 439.4,397.2 439.6,388.3 439.9,390.9 440.1,399.5 440.3,391.7 440.5,389.0 440.8,398.6 441.0,391.8 441.2,399.6 441.4,385.3 441.7,387.3 441.9,393.1 442.1,386.6 442.3,400.8 442.5,375.2 442.8,394.6 443.0,398.0 443.2,387.0 443.4,384.4 443.7,396.8 443.9,397.5 444.1,394.4 444.3,387.8 444.5,406.1 444.8,394.6 445.0,389.5 445.2,408.8 445.4,407.2 445.7,401.7 445.9,406.9 446.1,407.5 446.3,408.3 446.6,411.1 446.8,394.6 447.0,396.8 447.2,391.4 447.4,395.2 447.7,392.9 447.9,386.2 448.1,386.6 448.3,385.6 448.6,393.4 448.8,389.8 449.0,397.6 449.2,400.4 449.4,410.0 449.7,396.6 449.9,399.9 450.1,403.2 450.3,389.7 450.6,393.2 450.8,397.5 451.0,386.7 451.2,395.8 451.4,398.7 451.7,396.0 451.9,400.8 452.1,383.6 452.3,405.5 452.6,399.0 452.8,390.9 453.0,401.3 453.2,402.5 453.5,378.1 453.7,374.0 453.9,391.2 454.1,397.2 454.3,396.7 454.6,397.5 454.8,399.3 455.0,397.2 455.2,396.4 455.5,394.4 455.7,404.8 455.9,396.9 456.1,394.0 456.3,404.9 456.6,410.8 456.8,412.0 457.0,410.2 457.2,426.2 457.5,417.3 457.7,424.3 457.9,411.4 458.1,417.8 458.3,405.5 458.6,417.4 458.8,404.4 459.0,404.7 459.2,408.7 459.5,400.0 459.7,395.5 459.9,400.8 460.1,403.7 460.4,392.3 460.6,398.7 460.8,397.0 461.0,397.1 461.2,408.0 461.5,408.3 461.7,402.1 461.9,408.0 462.1,421.0 462.4,406.3 462.6,413.3 462.8,416.0 463.0,425.5 463.2,415.1 463.5,416.7 463.7,401.4 463.9,411.3 464.1,409.9 464.4,410.5 464.6,402.5 464.8,400.6 465.0,395.5 465.3,406.5 465.5,403.9 465.7,395.9 465.9,390.9 466.1,384.2 466.4,394.1 466.6,392.2 466.8,376.3 467.0,393.5 467.3,388.8 467.5,396.8 467.7,402.8 467.9,406.0 468.1,414.7 468.4,414.5 468.6,417.6 468.8,413.7 469.0,408.0 469.3,411.5 469.5,413.7 469.7,410.6 469.9,403.7 470.1,412.4 470.4,411.4 470.6,390.8 470.8,406.2 471.0,400.2 471.3,404.0 471.5,398.4 471.7,406.0 471.9,396.0 472.2,396.3 472.4,404.5 472.6,408.3 472.8,401.3 473.0,406.4 473.3,411.7 473.5,407.2 473.7,403.7 473.9,421.6 474.2,418.8 474.4,421.0 474.6,408.7 474.8,412.9 475.0,409.0 475.3,418.4 475.5,416.5 475.7,406.8 475.9,405.9 476.2,402.6 476.4,404.7 476.6,399.4 476.8,398.7 477.1,395.5 477.3,395.5 477.5,405.7 477.7,408.5 477.9,391.3 478.2,392.5 478.4,407.6 478.6,411.6 478.8,404.4 479.1,400.5 479.3,397.6 479.5,405.4 479.7,414.6 479.9,418.7 480.2,415.2 480.4,414.5 480.6,420.0 480.8,406.8 481.1,408.9 481.3,414.0 481.5,425.1 481.7,417.2 481.9,417.5 482.2,421.5 482.4,418.1 482.6,417.8 482.8,415.5 483.1,416.2 483.3,418.5 483.5,425.3 483.7,413.1 484.0,416.7 484.2,417.4 484.4,398.8 484.6,397.3 484.8,399.4 485.1,401.8 485.3,392.4 485.5,395.8 485.7,395.5 486.0,401.6 486.2,394.2 486.4,395.2 486.6,404.3 486.8,398.3 487.1,396.9 487.3,386.0 487.5,391.2 487.7,395.2 488.0,394.3 488.2,396.9 488.4,395.8 488.6,402.4 488.8,399.0 489.1,401.2 489.3,402.5 489.5,393.5 489.7,395.6 490.0,408.4 490.2,398.2 490.4,392.0 490.6,393.0 490.9,393.4 491.1,396.1 491.3,400.0 491.5,400.7 491.7,397.6 492.0,394.6 492.2,391.0 492.4,367.0 492.6,400.9 492.9,403.6 493.1,400.0 493.3,395.6 493.5,399.5 493.7,399.4 494.0,395.8 494.2,399.2 494.4,399.9 494.6,395.8 494.9,402.8 495.1,396.2 495.3,394.4 495.5,401.2 495.8,397.1 496.0,389.1 496.2,401.7 496.4,409.1 496.6,409.1 496.9,397.7 497.1,399.8 497.3,397.8 497.5,390.8 497.8,410.3 498.0,395.4 498.2,388.4 498.4,401.1 498.6,399.4 498.9,401.8 499.1,400.8 499.3,399.6 499.5,388.8 499.8,388.0 500.0,398.9 500.2,386.0 500.4,394.7 500.6,387.9 500.9,394.4 501.1,394.7 501.3,394.5 501.5,378.6 501.8,390.6 502.0,396.2 502.2,389.9 502.4,399.4 502.7,402.3 502.9,393.9 503.1,396.8 503.3,394.2 503.5,394.7 503.8,392.0 504.0,393.0 504.2,387.5 504.4,388.7 504.7,395.6 504.9,401.3 505.1,394.9 505.3,395.3 505.5,389.4 505.8,388.7 506.0,394.8 506.2,398.9 506.4,400.4 506.7,396.8 506.9,395.9 507.1,401.9 507.3,394.2 507.5,395.6 507.8,406.7 508.0,404.0 508.2,398.1 508.4,397.9 508.7,396.6 508.9,396.4 509.1,395.9 509.3,393.8 509.6,404.4 509.8,405.6 510.0,403.0 510.2,395.5 510.4,390.1 510.7,398.1 510.9,411.2 511.1,407.7 511.3,396.5 511.6,402.6 511.8,402.3 512.0,394.7 512.2,401.8 512.4,391.0 512.7,400.3 512.9,401.6 513.1,395.0 513.3,407.6 513.6,396.8 513.8,398.5 514.0,399.5 514.2,391.3 514.5,394.9 514.7,389.1 514.9,400.8 515.1,406.6 515.3,399.5 515.6,402.8 515.8,399.5 516.0,394.3 516.2,396.0 516.5,394.2 516.7,392.8 516.9,394.8 517.1,348.8 517.3,396.1 517.6,391.6 517.8,406.9 518.0,397.3 518.2,402.9 518.5,397.2 518.7,400.3 518.9,398.1 519.1,387.9 519.3,396.5 519.6,395.5 519.8,399.0 520.0,394.7 520.2,396.1 520.5,393.2 520.7,387.7 520.9,387.8 521.1,397.3 521.4,398.8 521.6,405.5 521.8,398.7 522.0,393.5 522.2,392.2 522.5,393.7 522.7,390.6 522.9,394.1 523.1,392.7 523.4,396.3 523.6,398.7 523.8,393.3 524.0,412.5 524.2,396.5 524.5,419.4 524.7,413.2 524.9,404.3 525.1,407.4 525.4,421.7 525.6,426.3 525.8,414.7 526.0,425.5 526.2,411.9 526.5,419.0 526.7,419.5 526.9,413.3 527.1,421.2 527.4,425.9 527.6,423.0 527.8,422.8 528.0,424.1 528.3,416.4 528.5,416.3 528.7,404.6 528.9,406.9 529.1,406.2 529.4,398.9 529.6,398.1 529.8,396.0 530.0,401.8 530.3,400.1 530.5,392.6 530.7,398.8 530.9,404.1 531.1,395.6 531.4,392.3 531.6,404.4 531.8,395.1 532.0,393.0 532.3,394.7 532.5,393.4 532.7,404.5 532.9,389.8 533.2,398.4 533.4,400.1 533.6,393.2 533.8,388.8 534.0,386.6 534.3,390.1 534.5,398.5 534.7,389.6 534.9,394.7 535.2,397.0 535.4,396.5 535.6,395.2" fill="none" stroke="#ffd84a" stroke-width="0.6" stroke-opacity="0.4" stroke-linejoin="round" />
<polygon points="313.2,412.2 313.4,413.0 313.6,411.8 313.9,411.9 314.1,414.2 314.3,411.8 314.5,412.1 314.8,411.3 315.0,409.2 315.2,410.3 315.4,412.7 315.6,413.4 315.9,411.4 316.1,413.8 316.3,412.6 316.5,411.9 316.8,413.6 317.0,412.7 317.2,411.7 317.4,413.0 317.7,413.2 317.9,412.0 318.1,413.9 318.3,414.2 318.5,411.9 318.8,411.9 319.0,414.0 319.2,413.1 319.4,410.0 319.7,413.2 319.9,411.5 320.1,410.8 320.3,411.7 320.5,411.1 320.8,412.6 321.0,410.3 321.2,408.9 321.4,411.7 321.7,412.3 321.9,412.0 322.1,413.0 322.3,412.3 322.6,413.9 322.8,412.6 323.0,413.2 323.2,413.3 323.4,412.7 323.7,411.9 323.9,414.1 324.1,412.9 324.3,412.3 324.6,413.4 324.8,411.8 325.0,414.3 325.2,415.3 325.4,414.6 325.7,415.8 325.9,413.6 326.1,414.3 326.3,412.6 326.6,415.6 326.8,416.9 327.0,414.4 327.2,416.5 327.4,414.5 327.7,416.2 327.9,415.5 328.1,414.0 328.3,414.9 328.6,416.8 328.8,416.9 329.0,414.7 329.2,414.9 329.5,414.3 329.7,414.8 329.9,414.8 330.1,415.5 330.3,416.9 330.6,415.5 330.8,415.3 331.0,418.2 331.2,416.9 331.5,414.9 331.7,412.6 331.9,416.0 332.1,415.6 332.3,414.8 332.6,414.2 332.8,415.8 333.0,415.0 333.2,415.9 333.5,415.6 333.7,416.1 333.9,415.1 334.1,415.4 334.3,414.6 334.6,414.6 334.8,413.1 335.0,411.3 335.2,412.7 335.5,414.2 335.7,414.2 335.9,414.5 336.1,416.1 336.4,414.5 336.6,414.4 336.8,412.3 337.0,412.6 337.2,411.2 337.5,410.6 337.7,412.0 337.9,412.5 338.1,413.1 338.4,413.2 338.6,411.6 338.8,412.6 339.0,412.9 339.2,413.6 339.5,410.9 339.7,412.0 339.9,412.3 340.1,413.4 340.4,412.4 340.6,413.3 340.8,413.6 341.0,415.7 341.3,416.1 341.5,413.9 341.7,411.9 341.9,414.3 342.1,413.0 342.4,412.3 342.6,408.0 342.8,411.4 343.0,412.6 343.3,413.8 343.5,411.8 343.7,410.5 343.9,411.6 344.1,409.7 344.4,408.0 344.6,410.6 344.8,410.5 345.0,411.5 345.3,412.6 345.5,412.9 345.7,412.8 345.9,414.1 346.1,413.1 346.4,411.4 346.6,412.9 346.8,413.1 347.0,413.8 347.3,412.3 347.5,412.2 347.7,410.7 347.9,411.7 348.2,413.8 348.4,412.0 348.6,412.3 348.8,410.5 349.0,410.1 349.3,414.6 349.5,415.9 349.7,413.8 349.9,413.8 350.2,415.9 350.4,414.5 350.6,411.4 350.8,410.7 351.0,412.4 351.3,411.7 351.5,410.3 351.7,411.2 351.9,409.0 352.2,411.3 352.4,408.6 352.6,408.0 352.8,409.1 353.0,410.1 353.3,410.8 353.5,412.5 353.7,410.7 353.9,409.4 354.2,409.4 354.4,410.1 354.6,410.7 354.8,412.4 355.1,412.9 355.3,414.2 355.5,412.2 355.7,413.1 355.9,411.2 356.2,412.3 356.4,409.9 356.6,408.5 356.8,407.9 357.1,408.1 357.3,410.2 357.5,411.3 357.7,412.4 357.9,411.5 358.2,409.1 358.4,411.8 358.6,408.3 358.8,410.6 359.1,412.6 359.3,411.5 359.5,410.0 359.7,411.2 360.0,412.7 360.2,409.6 360.4,412.0 360.6,410.3 360.8,410.6 361.1,411.5 361.3,411.3 361.5,412.8 361.7,413.6 362.0,412.0 362.2,413.1 362.4,413.3 362.6,410.3 362.8,408.3 363.1,408.3 363.3,408.5 363.5,410.2 363.7,410.6 364.0,411.9 364.2,415.4 364.4,413.1 364.6,411.8 364.8,410.2 365.1,412.3 365.3,410.2 365.5,411.4 365.7,413.0 366.0,412.4 366.2,410.5 366.4,410.9 366.6,410.4 366.9,412.0 367.1,410.9 367.3,409.7 367.5,411.6 367.7,410.8 368.0,412.8 368.2,411.6 368.4,413.4 368.6,411.7 368.9,411.4 369.1,412.7 369.3,411.3 369.5,412.5 369.7,411.5 370.0,412.4 370.2,410.8 370.4,411.5 370.6,409.1 370.9,409.2 371.1,409.2 371.3,411.7 371.5,413.9 371.7,413.3 372.0,409.3 372.2,411.1 372.4,409.0 372.6,407.9 372.9,409.8 373.1,410.3 373.3,408.4 373.5,409.6 373.8,410.3 374.0,410.9 374.2,410.3 374.4,410.2 374.6,408.3 374.9,408.7 375.1,407.6 375.3,408.8 375.5,405.8 375.8,407.8 376.0,408.9 376.2,410.3 376.4,412.2 376.6,412.0 376.9,410.4 377.1,411.2 377.3,409.1 377.5,411.4 377.8,412.6 378.0,410.4 378.2,409.2 378.4,410.7 378.7,408.3 378.9,406.7 379.1,407.3 379.3,409.8 379.5,407.6 379.8,408.6 380.0,408.9 380.2,408.1 380.4,409.4 380.7,407.0 380.9,408.7 381.1,407.3 381.3,406.9 381.5,405.4 381.8,406.4 382.0,406.4 382.2,408.1 382.4,408.7 382.7,409.6 382.9,408.1 383.1,409.3 383.3,406.9 383.5,408.0 383.8,409.9 384.0,410.2 384.2,407.9 384.4,408.9 384.7,408.0 384.9,410.5 385.1,409.0 385.3,407.7 385.6,407.5 385.8,407.0 386.0,409.2 386.2,411.2 386.4,411.7 386.7,409.0 386.9,408.2 387.1,407.3 387.3,408.7 387.6,407.5 387.8,410.2 388.0,408.8 388.2,410.1 388.4,409.9 388.7,408.3 388.9,407.2 389.1,408.1 389.3,408.8 389.6,406.8 389.8,406.2 390.0,408.3 390.2,408.0 390.5,408.5 390.7,407.2 390.9,407.2 391.1,407.3 391.3,407.7 391.6,408.8 391.8,407.1 392.0,407.2 392.2,411.0 392.5,410.3 392.7,409.0 392.9,409.7 393.1,410.4 393.3,410.3 393.6,408.9 393.8,410.0 394.0,408.7 394.2,406.7 394.5,406.3 394.7,406.0 394.9,407.5 395.1,406.4 395.3,407.4 395.6,406.7 395.8,409.1 396.0,407.1 396.2,408.6 396.5,408.5 396.7,407.0 396.9,407.7 397.1,408.7 397.4,408.8 397.6,407.2 397.8,406.3 398.0,406.5 398.2,408.3 398.5,409.0 398.7,407.8 398.9,407.2 399.1,408.8 399.4,409.6 399.6,408.1 399.8,406.8 400.0,407.6 400.2,409.7 400.5,406.9 400.7,407.7 400.9,407.5 401.1,411.0 401.4,410.7 401.6,409.9 401.8,408.8 402.0,409.9 402.2,411.4 402.5,412.3 402.7,411.0 402.9,409.4 403.1,408.7 403.4,411.1 403.6,410.9 403.8,409.9 404.0,408.0 404.3,407.6 404.5,407.8 404.7,410.6 404.9,408.2 405.1,408.6 405.4,408.4 405.6,409.5 405.8,409.4 406.0,409.6 406.3,409.7 406.5,410.5 406.7,408.7 406.9,407.5 407.1,408.9 407.4,410.0 407.6,410.5 407.8,410.1 408.0,407.5 408.3,408.3 408.5,406.1 408.7,409.2 408.9,410.5 409.2,410.7 409.4,410.9 409.6,409.4 409.8,406.7 410.0,408.8 410.3,408.3 410.5,406.8 410.7,402.3 410.9,399.3 411.2,394.2 411.4,392.2 411.6,396.6 411.8,399.6 412.0,403.8 412.3,408.2 412.5,410.1 412.7,407.8 412.9,406.5 413.2,407.3 413.4,409.7 413.6,407.5 413.8,408.1 414.0,406.4 414.3,407.4 414.5,409.7 414.7,409.6 414.9,410.1 415.2,407.2 415.4,411.1 415.6,410.7 415.8,410.2 416.1,412.2 416.3,409.9 416.5,408.5 416.7,407.5 416.9,407.0 417.2,408.0 417.4,407.1 417.6,408.5 417.8,408.6 418.1,408.4 418.3,408.5 418.5,407.9 418.7,409.2 418.9,409.2 419.2,409.8 419.4,409.2 419.6,408.6 419.8,409.7 420.1,407.3 420.3,405.4 420.5,406.3 420.7,407.4 420.9,409.0 421.2,409.1 421.4,409.2 421.6,408.1 421.8,408.4 422.1,407.7 422.3,407.5 422.5,408.8 422.7,410.6 423.0,411.3 423.2,411.5 423.4,410.2 423.6,407.9 423.8,409.6 424.1,408.3 424.3,408.8 424.5,407.1 424.7,404.9 425.0,405.4 425.2,406.6 425.4,407.0 425.6,406.1 425.8,407.8 426.1,409.4 426.3,408.8 426.5,406.6 426.7,408.7 427.0,407.2 427.2,406.8 427.4,408.1 427.6,409.5 427.9,411.4 428.1,411.7 428.3,410.0 428.5,408.4 428.7,409.5 429.0,409.9 429.2,410.4 429.4,406.3 429.6,409.5 429.9,411.2 430.1,408.6 430.3,410.2 430.5,408.2 430.7,409.7 431.0,407.9 431.2,406.6 431.4,408.4 431.6,408.7 431.9,410.2 432.1,408.4 432.3,409.1 432.5,410.4 432.7,409.1 433.0,408.5 433.2,408.8 433.4,409.5 433.6,408.0 433.9,409.4 434.1,410.4 434.3,410.1 434.5,408.9 434.8,409.5 435.0,410.1 435.2,411.0 435.4,411.1 435.6,411.0 435.9,407.3 436.1,410.7 436.3,410.5 436.5,409.7 436.8,410.6 437.0,411.5 437.2,409.6 437.4,407.5 437.6,406.8 437.9,407.9 438.1,409.1 438.3,408.2 438.5,411.0 438.8,411.2 439.0,408.2 439.2,408.1 439.4,408.4 439.6,409.0 439.9,409.6 440.1,410.6 440.3,409.1 440.5,408.4 440.8,408.1 441.0,412.0 441.2,408.8 441.4,407.8 441.7,406.3 441.9,408.5 442.1,411.8 442.3,412.3 442.5,412.0 442.8,407.8 443.0,409.5 443.2,410.0 443.4,408.2 443.7,407.5 443.9,407.0 444.1,408.7 444.3,406.4 444.5,407.2 444.8,409.4 445.0,408.7 445.2,410.9 445.4,411.8 445.7,411.4 445.9,412.0 446.1,411.3 446.3,411.1 446.6,410.8 446.8,411.2 447.0,408.7 447.2,410.3 447.4,410.5 447.7,411.1 447.9,411.0 448.1,411.9 448.3,407.7 448.6,408.8 448.8,407.9 449.0,409.1 449.2,411.0 449.4,410.8 449.7,411.0 449.9,411.8 450.1,410.4 450.3,407.6 450.6,408.2 450.8,407.3 451.0,406.5 451.2,410.5 451.4,407.3 451.7,410.1 451.9,407.1 452.1,407.9 452.3,407.8 452.6,405.5 452.8,405.9 453.0,409.8 453.2,412.0 453.5,412.3 453.7,409.4 453.9,408.9 454.1,407.8 454.3,408.0 454.6,407.0 454.8,409.6 455.0,412.0 455.2,411.6 455.5,409.3 455.7,402.8 455.9,400.1 456.1,393.7 456.3,386.2 456.6,380.2 456.8,375.6 457.0,373.3 457.2,374.2 457.5,371.1 457.7,366.1 457.9,366.1 458.1,362.4 458.3,363.8 458.6,362.6 458.8,361.3 459.0,359.2 459.2,359.9 459.5,355.4 459.7,354.4 459.9,355.7 460.1,352.8 460.4,352.3 460.6,354.0 460.8,353.3 461.0,351.7 461.2,351.1 461.5,351.2 461.7,352.7 461.9,352.2 462.1,350.5 462.4,348.4 462.6,349.5 462.8,349.8 463.0,349.8 463.2,351.5 463.5,354.4 463.7,354.2 463.9,353.7 464.1,352.9 464.4,352.9 464.6,353.9 464.8,354.3 465.0,354.1 465.3,355.0 465.5,355.4 465.7,356.9 465.9,355.9 466.1,354.7 466.4,355.3 466.6,355.1 466.8,358.6 467.0,365.9 467.3,371.9 467.5,378.2 467.7,382.5 467.9,386.6 468.1,387.0 468.4,390.7 468.6,388.1 468.8,389.1 469.0,388.3 469.3,384.1 469.5,377.3 469.7,374.3 469.9,373.0 470.1,368.3 470.4,364.6 470.6,359.3 470.8,355.1 471.0,353.4 471.3,348.0 471.5,342.3 471.7,339.7 471.9,340.5 472.2,338.8 472.4,338.6 472.6,339.5 472.8,338.9 473.0,344.2 473.3,341.8 473.5,340.3 473.7,341.8 473.9,344.0 474.2,349.6 474.4,353.6 474.6,357.6 474.8,362.7 475.0,366.0 475.3,371.7 475.5,374.3 475.7,371.1 475.9,367.7 476.2,367.9 476.4,364.9 476.6,364.4 476.8,365.8 477.1,364.8 477.3,362.8 477.5,361.0 477.7,358.5 477.9,358.8 478.2,358.3 478.4,355.6 478.6,355.1 478.8,354.1 479.1,353.8 479.3,352.2 479.5,350.9 479.7,352.0 479.9,349.5 480.2,350.3 480.4,348.9 480.6,348.7 480.8,346.9 481.1,346.1 481.3,344.9 481.5,344.5 481.7,344.2 481.9,343.3 482.2,342.7 482.4,343.8 482.6,345.4 482.8,343.4 483.1,341.4 483.3,343.5 483.5,342.5 483.7,343.6 484.0,343.0 484.2,341.8 484.4,342.0 484.6,342.9 484.8,345.7 485.1,344.7 485.3,344.0 485.5,342.0 485.7,343.6 486.0,343.6 486.2,343.3 486.4,341.6 486.6,344.2 486.8,342.7 487.1,343.3 487.3,344.4 487.5,345.9 487.7,346.1 488.0,343.8 488.2,344.5 488.4,345.5 488.6,345.2 488.8,342.7 489.1,345.6 489.3,349.9 489.5,354.2 489.7,358.9 490.0,365.1 490.2,364.1 490.4,357.0 490.6,352.9 490.9,348.1 491.1,344.1 491.3,342.2 491.5,340.6 491.7,342.1 492.0,342.1 492.2,342.2 492.4,341.5 492.6,342.0 492.9,342.1 493.1,343.1 493.3,342.7 493.5,343.5 493.7,341.9 494.0,342.3 494.2,340.0 494.4,342.0 494.6,343.5 494.9,341.6 495.1,341.0 495.3,343.4 495.5,339.2 495.8,340.8 496.0,339.9 496.2,341.5 496.4,340.8 496.6,339.8 496.9,341.5 497.1,341.2 497.3,340.3 497.5,338.2 497.8,338.6 498.0,338.3 498.2,339.2 498.4,339.4 498.6,339.7 498.9,340.9 499.1,343.7 499.3,344.9 499.5,342.7 499.8,341.4 500.0,341.3 500.2,342.3 500.4,342.7 500.6,344.1 500.9,341.5 501.1,344.1 501.3,341.0 501.5,342.3 501.8,338.9 502.0,340.1 502.2,341.9 502.4,342.2 502.7,343.3 502.9,341.1 503.1,342.2 503.3,342.5 503.5,344.2 503.8,343.1 504.0,345.5 504.2,345.6 504.4,343.1 504.7,346.4 504.9,344.9 505.1,343.0 505.3,343.6 505.5,342.1 505.8,341.7 506.0,342.6 506.2,345.9 506.4,346.1 506.7,346.1 506.9,346.2 507.1,349.1 507.3,351.9 507.5,355.8 507.8,357.5 508.0,358.9 508.2,364.4 508.4,365.0 508.7,365.9 508.9,368.3 509.1,370.5 509.3,368.8 509.6,364.2 509.8,362.4 510.0,357.6 510.2,354.9 510.4,355.2 510.7,351.7 510.9,347.7 511.1,343.5 511.3,343.6 511.6,344.1 511.8,343.1 512.0,341.6 512.2,345.5 512.4,345.9 512.7,342.9 512.9,343.4 513.1,345.4 513.3,342.7 513.6,341.1 513.8,343.3 514.0,343.1 514.2,344.0 514.5,344.0 514.7,343.2 514.9,344.5 515.1,344.9 515.3,345.5 515.6,347.7 515.8,349.6 516.0,352.3 516.2,356.6 516.5,360.9 516.7,364.1 516.9,362.1 517.1,359.1 517.3,353.3 517.6,348.7 517.8,342.0 518.0,344.9 518.2,344.7 518.5,346.3 518.7,342.5 518.9,344.2 519.1,343.4 519.3,347.2 519.6,347.4 519.8,345.1 520.0,345.7 520.2,346.3 520.5,344.9 520.7,345.0 520.9,345.0 521.1,344.9 521.4,345.9 521.6,343.7 521.8,343.4 522.0,344.8 522.2,345.9 522.5,348.5 522.7,348.9 522.9,345.7 523.1,347.6 523.4,347.6 523.6,348.6 523.8,352.0 524.0,356.8 524.2,361.2 524.5,366.4 524.7,363.4 524.9,360.3 525.1,355.4 525.4,352.0 525.6,350.8 525.8,345.6 526.0,345.3 526.2,344.8 526.5,344.4 526.7,344.8 526.9,345.8 527.1,344.7 527.4,344.4 527.6,346.2 527.8,346.9 528.0,346.7 528.3,346.3 528.5,346.8 528.7,348.9 528.9,346.4 529.1,347.7 529.4,349.0 529.6,349.3 529.8,348.2 530.0,348.0 530.3,350.8 530.5,351.2 530.7,351.4 530.9,350.4 531.1,348.7 531.4,348.9 531.6,345.5 531.8,345.3 532.0,344.3 532.3,344.9 532.5,347.8 532.7,346.9 532.9,349.1 533.2,349.5 533.4,348.1 533.6,347.6 533.8,346.6 534.0,347.2 534.3,345.8 534.5,345.4 534.7,345.8 534.9,347.4 535.2,348.1 535.4,346.2 535.6,342.7 535.6,362.7 535.4,366.1 535.2,368.0 534.9,367.4 534.7,365.7 534.5,365.3 534.3,365.7 534.0,367.2 533.8,366.5 533.6,367.6 533.4,368.0 533.2,369.5 532.9,369.0 532.7,366.8 532.5,367.7 532.3,364.8 532.0,364.3 531.8,365.2 531.6,365.4 531.4,368.9 531.1,368.7 530.9,370.3 530.7,371.3 530.5,371.1 530.3,370.7 530.0,368.0 529.8,368.1 529.6,369.2 529.4,369.0 529.1,367.7 528.9,366.4 528.7,368.8 528.5,366.7 528.3,366.2 528.0,366.7 527.8,366.9 527.6,366.1 527.4,364.4 527.1,364.7 526.9,365.7 526.7,364.7 526.5,364.3 526.2,364.7 526.0,365.2 525.8,365.6 525.6,370.7 525.4,372.0 525.1,375.3 524.9,380.2 524.7,383.3 524.5,386.3 524.2,381.1 524.0,376.8 523.8,372.0 523.6,368.5 523.4,367.5 523.1,367.6 522.9,365.7 522.7,368.8 522.5,368.4 522.2,365.8 522.0,364.8 521.8,363.3 521.6,363.7 521.4,365.9 521.1,364.9 520.9,365.0 520.7,364.9 520.5,364.8 520.2,366.2 520.0,365.6 519.8,365.1 519.6,367.3 519.3,367.1 519.1,363.3 518.9,364.1 518.7,362.5 518.5,366.2 518.2,364.7 518.0,364.9 517.8,362.0 517.6,368.6 517.3,373.3 517.1,379.0 516.9,382.1 516.7,384.1 516.5,380.9 516.2,376.5 516.0,372.2 515.8,369.6 515.6,367.7 515.3,365.5 515.1,364.9 514.9,364.5 514.7,363.1 514.5,363.9 514.2,363.9 514.0,363.0 513.8,363.2 513.6,361.0 513.3,362.7 513.1,365.3 512.9,363.4 512.7,362.9 512.4,365.8 512.2,365.5 512.0,361.6 511.8,363.1 511.6,364.1 511.3,363.5 511.1,363.4 510.9,367.7 510.7,371.7 510.4,375.2 510.2,374.9 510.0,377.6 509.8,382.3 509.6,384.1 509.3,388.7 509.1,390.5 508.9,388.3 508.7,385.8 508.4,384.9 508.2,384.3 508.0,378.8 507.8,377.4 507.5,375.8 507.3,371.8 507.1,369.0 506.9,366.2 506.7,366.0 506.4,366.1 506.2,365.9 506.0,362.5 505.8,361.6 505.5,362.0 505.3,363.5 505.1,363.0 504.9,364.9 504.7,366.4 504.4,363.0 504.2,365.5 504.0,365.4 503.8,363.1 503.5,364.1 503.3,362.4 503.1,362.2 502.9,361.1 502.7,363.2 502.4,362.2 502.2,361.8 502.0,360.1 501.8,358.9 501.5,362.2 501.3,360.9 501.1,364.0 500.9,361.4 500.6,364.0 500.4,362.7 500.2,362.2 500.0,361.3 499.8,361.4 499.5,362.7 499.3,364.8 499.1,363.7 498.9,360.9 498.6,359.7 498.4,359.4 498.2,359.1 498.0,358.2 497.8,358.6 497.5,358.2 497.3,360.3 497.1,361.1 496.9,361.5 496.6,359.8 496.4,360.7 496.2,361.4 496.0,359.8 495.8,360.8 495.5,359.1 495.3,363.3 495.1,360.9 494.9,361.5 494.6,363.4 494.4,362.0 494.2,359.9 494.0,362.2 493.7,361.8 493.5,363.4 493.3,362.6 493.1,363.0 492.9,362.1 492.6,361.9 492.4,361.4 492.2,362.2 492.0,362.1 491.7,362.1 491.5,360.5 491.3,362.2 491.1,364.1 490.9,368.0 490.6,372.8 490.4,376.9 490.2,384.0 490.0,385.1 489.7,378.8 489.5,374.2 489.3,369.9 489.1,365.5 488.8,362.7 488.6,365.2 488.4,365.4 488.2,364.5 488.0,363.8 487.7,366.1 487.5,365.8 487.3,364.3 487.1,363.2 486.8,362.7 486.6,364.2 486.4,361.6 486.2,363.2 486.0,363.6 485.7,363.6 485.5,361.9 485.3,364.0 485.1,364.7 484.8,365.6 484.6,362.8 484.4,361.9 484.2,361.8 484.0,363.0 483.7,363.5 483.5,362.4 483.3,363.4 483.1,361.3 482.8,363.3 482.6,365.4 482.4,363.7 482.2,362.6 481.9,363.2 481.7,364.2 481.5,364.4 481.3,364.8 481.1,366.0 480.8,366.8 480.6,368.6 480.4,368.8 480.2,370.2 479.9,369.4 479.7,371.9 479.5,370.9 479.3,372.1 479.1,373.7 478.8,374.0 478.6,375.0 478.4,375.5 478.2,378.2 477.9,378.8 477.7,378.4 477.5,381.0 477.3,382.8 477.1,384.8 476.8,385.7 476.6,384.4 476.4,384.8 476.2,387.9 475.9,387.7 475.7,391.0 475.5,394.2 475.3,391.7 475.0,385.9 474.8,382.6 474.6,377.5 474.4,373.5 474.2,369.5 473.9,363.9 473.7,361.7 473.5,360.3 473.3,361.7 473.0,364.2 472.8,358.8 472.6,359.4 472.4,358.6 472.2,358.8 471.9,360.4 471.7,359.7 471.5,362.2 471.3,368.0 471.0,373.4 470.8,375.1 470.6,379.3 470.4,384.5 470.1,388.3 469.9,392.9 469.7,394.3 469.5,397.2 469.3,404.1 469.0,408.3 468.8,409.0 468.6,408.0 468.4,410.7 468.1,406.9 467.9,406.5 467.7,402.4 467.5,398.2 467.3,391.8 467.0,385.8 466.8,378.5 466.6,375.0 466.4,375.2 466.1,374.7 465.9,375.8 465.7,376.9 465.5,375.4 465.3,374.9 465.0,374.1 464.8,374.2 464.6,373.9 464.4,372.8 464.1,372.8 463.9,373.6 463.7,374.2 463.5,374.3 463.2,371.4 463.0,369.7 462.8,369.8 462.6,369.5 462.4,368.4 462.1,370.4 461.9,372.1 461.7,372.7 461.5,371.2 461.2,371.0 461.0,371.7 460.8,373.3 460.6,374.0 460.4,372.3 460.1,372.7 459.9,375.7 459.7,374.4 459.5,375.3 459.2,379.9 459.0,379.2 458.8,381.2 458.6,382.5 458.3,383.7 458.1,382.4 457.9,386.1 457.7,386.0 457.5,391.0 457.2,394.2 457.0,393.2 456.8,395.5 456.6,400.1 456.3,406.1 456.1,413.6 455.9,420.1 455.7,422.8 455.5,420.2 455.2,422.4 455.0,422.8 454.8,420.4 454.6,417.8 454.3,418.8 454.1,418.7 453.9,419.7 453.7,420.2 453.5,423.1 453.2,422.8 453.0,420.6 452.8,416.7 452.6,416.3 452.3,418.6 452.1,418.7 451.9,418.0 451.7,420.9 451.4,418.1 451.2,421.4 451.0,417.3 450.8,418.1 450.6,419.0 450.3,418.4 450.1,421.2 449.9,422.6 449.7,421.8 449.4,421.6 449.2,421.8 449.0,419.9 448.8,418.7 448.6,419.7 448.3,418.5 448.1,422.7 447.9,421.8 447.7,422.0 447.4,421.3 447.2,421.2 447.0,419.5 446.8,422.1 446.6,421.7 446.3,422.0 446.1,422.1 445.9,422.8 445.7,422.3 445.4,422.6 445.2,421.7 445.0,419.6 444.8,420.2 444.5,418.1 444.3,417.2 444.1,419.6 443.9,417.8 443.7,418.3 443.4,419.0 443.2,420.8 443.0,420.4 442.8,418.6 442.5,422.8 442.3,423.1 442.1,422.7 441.9,419.4 441.7,417.2 441.4,418.6 441.2,419.6 441.0,422.8 440.8,418.9 440.5,419.2 440.3,419.9 440.1,421.4 439.9,420.4 439.6,419.9 439.4,419.2 439.2,418.9 439.0,419.0 438.8,422.0 438.5,421.8 438.3,419.1 438.1,420.0 437.9,418.8 437.6,417.6 437.4,418.3 437.2,420.4 437.0,422.3 436.8,421.5 436.5,420.6 436.3,421.3 436.1,421.5 435.9,418.2 435.6,421.9 435.4,422.0 435.2,421.8 435.0,421.0 434.8,420.3 434.5,419.7 434.3,420.9 434.1,421.2 433.9,420.2 433.6,418.8 433.4,420.4 433.2,419.7 433.0,419.4 432.7,419.9 432.5,421.2 432.3,419.9 432.1,419.2 431.9,421.0 431.6,419.5 431.4,419.2 431.2,417.4 431.0,418.8 430.7,420.5 430.5,419.0 430.3,421.1 430.1,419.4 429.9,422.0 429.6,420.3 429.4,417.2 429.2,421.3 429.0,420.8 428.7,420.3 428.5,419.2 428.3,420.8 428.1,422.5 427.9,422.2 427.6,420.3 427.4,418.9 427.2,417.6 427.0,418.0 426.7,419.5 426.5,417.4 426.3,419.7 426.1,420.2 425.8,418.7 425.6,416.9 425.4,417.8 425.2,417.5 425.0,416.2 424.7,415.7 424.5,417.9 424.3,419.6 424.1,419.1 423.8,420.4 423.6,418.7 423.4,421.0 423.2,422.3 423.0,422.1 422.7,421.4 422.5,419.6 422.3,418.3 422.1,418.5 421.8,419.3 421.6,418.9 421.4,420.1 421.2,419.9 420.9,419.8 420.7,418.3 420.5,417.2 420.3,416.2 420.1,418.1 419.8,420.5 419.6,419.4 419.4,420.0 419.2,420.6 418.9,420.0 418.7,420.1 418.5,418.8 418.3,419.3 418.1,419.2 417.8,419.4 417.6,419.4 417.4,417.9 417.2,418.8 416.9,417.8 416.7,418.3 416.5,419.3 416.3,420.7 416.1,423.1 415.8,421.0 415.6,421.5 415.4,421.9 415.2,418.1 414.9,420.9 414.7,420.4 414.5,420.5 414.3,418.3 414.0,417.2 413.8,419.0 413.6,418.4 413.4,420.5 413.2,418.1 412.9,417.3 412.7,418.7 412.5,420.9 412.3,419.0 412.0,414.7 411.8,410.4 411.6,407.4 411.4,403.0 411.2,405.0 410.9,410.1 410.7,413.2 410.5,417.6 410.3,419.1 410.0,419.6 409.8,417.6 409.6,420.2 409.4,421.7 409.2,421.5 408.9,421.3 408.7,420.0 408.5,416.9 408.3,419.2 408.0,418.3 407.8,420.9 407.6,421.3 407.4,420.8 407.1,419.7 406.9,418.4 406.7,419.5 406.5,421.3 406.3,420.6 406.0,420.4 405.8,420.3 405.6,420.3 405.4,419.2 405.1,419.4 404.9,419.0 404.7,421.4 404.5,418.7 404.3,418.4 404.0,418.8 403.8,420.8 403.6,421.7 403.4,421.9 403.1,419.6 402.9,420.3 402.7,421.8 402.5,423.1 402.2,422.2 402.0,420.8 401.8,419.7 401.6,420.7 401.4,421.6 401.1,421.8 400.9,418.3 400.7,418.5 400.5,417.8 400.2,420.5 400.0,418.4 399.8,417.7 399.6,418.9 399.4,420.4 399.1,419.6 398.9,418.0 398.7,418.7 398.5,419.8 398.2,419.2 398.0,417.3 397.8,417.1 397.6,418.0 397.4,419.7 397.1,419.6 396.9,418.6 396.7,417.8 396.5,419.3 396.2,419.4 396.0,417.9 395.8,420.0 395.6,417.5 395.3,418.2 395.1,417.2 394.9,418.4 394.7,416.9 394.5,417.1 394.2,417.6 394.0,419.5 393.8,420.8 393.6,419.7 393.3,421.1 393.1,421.2 392.9,420.6 392.7,419.8 392.5,421.1 392.2,421.8 392.0,418.1 391.8,418.0 391.6,419.7 391.3,418.6 391.1,418.1 390.9,418.0 390.7,418.0 390.5,419.4 390.2,418.8 390.0,419.1 389.8,417.1 389.6,417.6 389.3,419.6 389.1,418.9 388.9,418.1 388.7,419.2 388.4,420.7 388.2,420.9 388.0,419.6 387.8,421.0 387.6,418.4 387.3,419.5 387.1,418.1 386.9,419.1 386.7,419.8 386.4,422.5 386.2,422.0 386.0,420.0 385.8,417.8 385.6,418.3 385.3,418.6 385.1,419.8 384.9,421.3 384.7,418.8 384.4,419.8 384.2,418.7 384.0,421.1 383.8,420.8 383.5,418.8 383.3,417.7 383.1,420.1 382.9,418.9 382.7,420.4 382.4,419.6 382.2,418.9 382.0,417.2 381.8,417.2 381.5,416.2 381.3,417.8 381.1,418.1 380.9,419.6 380.7,417.8 380.4,420.2 380.2,419.0 380.0,419.7 379.8,419.4 379.5,418.4 379.3,420.7 379.1,418.1 378.9,417.6 378.7,419.2 378.4,421.5 378.2,420.0 378.0,421.2 377.8,423.4 377.5,422.2 377.3,419.9 377.1,422.0 376.9,421.2 376.6,422.8 376.4,423.0 376.2,421.1 376.0,419.7 375.8,418.6 375.5,416.6 375.3,419.6 375.1,418.4 374.9,419.5 374.6,419.1 374.4,421.1 374.2,421.1 374.0,421.8 373.8,421.2 373.5,420.4 373.3,419.2 373.1,421.1 372.9,420.7 372.6,418.7 372.4,419.8 372.2,421.9 372.0,420.2 371.7,424.1 371.5,424.8 371.3,422.5 371.1,420.0 370.9,420.1 370.6,420.0 370.4,422.4 370.2,421.7 370.0,423.3 369.7,422.4 369.5,423.3 369.3,422.2 369.1,423.6 368.9,422.2 368.6,422.5 368.4,424.2 368.2,422.5 368.0,423.6 367.7,421.6 367.5,422.4 367.3,420.5 367.1,421.7 366.9,422.8 366.6,421.2 366.4,421.7 366.2,421.3 366.0,423.3 365.7,423.8 365.5,422.2 365.3,421.0 365.1,423.1 364.8,421.0 364.6,422.7 364.4,423.9 364.2,426.3 364.0,422.8 363.7,421.4 363.5,421.1 363.3,419.3 363.1,419.1 362.8,419.1 362.6,421.1 362.4,424.1 362.2,423.9 362.0,422.9 361.7,424.4 361.5,423.7 361.3,422.2 361.1,422.3 360.8,421.4 360.6,421.1 360.4,422.8 360.2,420.4 360.0,423.5 359.7,422.0 359.5,420.8 359.3,422.4 359.1,423.5 358.8,421.5 358.6,419.1 358.4,422.6 358.2,420.0 357.9,422.3 357.7,423.2 357.5,422.1 357.3,421.0 357.1,418.9 356.8,418.7 356.6,419.4 356.4,420.7 356.2,423.1 355.9,422.0 355.7,423.9 355.5,423.0 355.3,425.0 355.1,423.7 354.8,423.2 354.6,421.5 354.4,420.9 354.2,420.2 353.9,420.2 353.7,421.5 353.5,423.3 353.3,421.6 353.0,420.9 352.8,419.9 352.6,418.8 352.4,419.4 352.2,422.1 351.9,419.8 351.7,422.1 351.5,421.1 351.3,422.5 351.0,423.2 350.8,421.5 350.6,422.2 350.4,425.4 350.2,426.7 349.9,424.6 349.7,424.6 349.5,426.7 349.3,425.4 349.0,421.0 348.8,421.3 348.6,423.2 348.4,422.9 348.2,424.6 347.9,422.5 347.7,421.6 347.5,423.0 347.3,423.1 347.0,424.6 346.8,424.0 346.6,423.8 346.4,422.2 346.1,424.0 345.9,424.9 345.7,423.6 345.5,423.7 345.3,423.4 345.0,422.3 344.8,421.4 344.6,421.4 344.4,418.8 344.1,420.5 343.9,422.4 343.7,421.3 343.5,422.6 343.3,424.6 343.0,423.5 342.8,422.2 342.6,418.8 342.4,423.1 342.1,423.8 341.9,425.1 341.7,422.8 341.5,424.7 341.3,427.0 341.0,426.5 340.8,424.5 340.6,424.2 340.4,423.2 340.1,424.2 339.9,423.1 339.7,422.9 339.5,421.8 339.2,424.5 339.0,423.7 338.8,423.4 338.6,422.4 338.4,424.1 338.1,423.9 337.9,423.4 337.7,422.8 337.5,421.4 337.2,422.0 337.0,423.4 336.8,423.1 336.6,425.2 336.4,425.4 336.1,427.0 335.9,425.3 335.7,425.0 335.5,425.0 335.2,423.5 335.0,422.1 334.8,424.0 334.6,425.4 334.3,425.4 334.1,426.3 333.9,425.9 333.7,426.9 333.5,426.4 333.2,426.7 333.0,425.8 332.8,426.7 332.6,425.0 332.3,425.7 332.1,426.4 331.9,426.8 331.7,423.4 331.5,425.7 331.2,427.7 331.0,429.0 330.8,426.1 330.6,426.3 330.3,427.8 330.1,426.3 329.9,425.6 329.7,425.6 329.5,425.1 329.2,425.7 329.0,425.5 328.8,427.7 328.6,427.6 328.3,425.7 328.1,424.8 327.9,426.4 327.7,427.0 327.4,425.4 327.2,427.3 327.0,425.2 326.8,427.7 326.6,426.4 326.3,423.4 326.1,425.1 325.9,424.4 325.7,426.6 325.4,425.4 325.2,426.1 325.0,425.1 324.8,422.6 324.6,424.3 324.3,423.1 324.1,423.8 323.9,425.0 323.7,422.7 323.4,423.5 323.2,424.1 323.0,424.1 322.8,423.4 322.6,424.7 322.3,423.1 322.1,423.8 321.9,422.9 321.7,423.1 321.4,422.6 321.2,419.7 321.0,421.1 320.8,423.4 320.5,422.0 320.3,422.6 320.1,421.6 319.9,422.4 319.7,424.0 319.4,420.8 319.2,423.9 319.0,424.8 318.8,422.8 318.5,422.7 318.3,425.1 318.1,424.7 317.9,422.8 317.7,424.1 317.4,423.8 317.2,422.5 317.0,423.5 316.8,424.4 316.5,422.7 316.3,423.5 316.1,424.6 315.9,422.2 315.6,424.2 315.4,423.6 315.2,421.2 315.0,420.0 314.8,422.1 314.5,423.0 314.3,422.6 314.1,425.0 313.9,422.7 313.6,422.6 313.4,423.8 313.2,423.0" fill="#b4e296" fill-opacity="0.6" stroke="none"/>
<polyline points="313.2,418.2 313.4,417.5 313.6,420.6 313.9,415.1 314.1,427.9 314.3,415.3 314.5,418.9 314.8,417.4 315.0,418.7 315.2,413.0 315.4,416.4 315.6,417.4 315.9,420.1 316.1,421.9 316.3,422.2 316.5,418.6 316.8,422.6 317.0,417.5 317.2,419.7 317.4,421.0 317.7,414.8 317.9,421.3 318.1,426.1 318.3,412.6 318.5,425.8 318.8,417.9 319.0,417.5 319.2,419.7 319.4,416.8 319.7,427.0 319.9,416.5 320.1,416.3 320.3,422.6 320.5,411.4 320.8,423.6 321.0,422.8 321.2,421.9 321.4,418.5 321.7,417.9 321.9,417.4 322.1,421.0 322.3,421.9 322.6,417.9 322.8,422.5 323.0,424.2 323.2,415.3 323.4,418.9 323.7,417.1 323.9,418.8 324.1,421.7 324.3,421.0 324.6,418.1 324.8,420.8 325.0,419.9 325.2,422.4 325.4,425.5 325.7,419.3 325.9,424.9 326.1,420.3 326.3,419.2 326.6,418.1 326.8,427.6 327.0,423.1 327.2,423.6 327.4,420.8 327.7,420.1 327.9,421.3 328.1,420.7 328.3,418.2 328.6,416.5 328.8,428.4 329.0,421.5 329.2,419.1 329.5,420.8 329.7,409.1 329.9,422.8 330.1,425.8 330.3,420.8 330.6,431.8 330.8,423.8 331.0,416.9 331.2,423.6 331.5,420.5 331.7,422.7 331.9,422.9 332.1,422.9 332.3,415.3 332.6,424.5 332.8,432.1 333.0,420.5 333.2,417.4 333.5,424.8 333.7,429.1 333.9,425.6 334.1,420.8 334.3,423.3 334.6,421.3 334.8,428.0 335.0,419.9 335.2,416.8 335.5,421.9 335.7,424.5 335.9,417.7 336.1,419.6 336.4,423.0 336.6,423.7 336.8,414.7 337.0,421.3 337.2,418.6 337.5,411.3 337.7,418.2 337.9,421.1 338.1,426.7 338.4,420.0 338.6,418.7 338.8,421.5 339.0,416.6 339.2,424.9 339.5,423.2 339.7,421.6 339.9,419.3 340.1,425.5 340.4,423.4 340.6,423.2 340.8,420.8 341.0,394.6 341.3,419.9 341.5,428.5 341.7,417.7 341.9,423.5 342.1,418.5 342.4,412.7 342.6,415.4 342.8,417.9 343.0,416.9 343.3,425.5 343.5,416.7 343.7,414.8 343.9,419.2 344.1,414.6 344.4,414.7 344.6,420.4 344.8,422.2 345.0,415.3 345.3,413.7 345.5,422.8 345.7,418.6 345.9,425.4 346.1,421.9 346.4,420.2 346.6,424.0 346.8,420.5 347.0,417.5 347.3,417.5 347.5,421.1 347.7,413.0 347.9,418.1 348.2,414.7 348.4,423.6 348.6,409.1 348.8,418.2 349.0,421.3 349.3,425.3 349.5,419.8 349.7,417.8 349.9,418.1 350.2,420.9 350.4,425.5 350.6,418.9 350.8,425.7 351.0,422.5 351.3,416.5 351.5,423.8 351.7,410.2 351.9,411.7 352.2,422.3 352.4,413.2 352.6,413.2 352.8,416.6 353.0,415.1 353.3,418.7 353.5,419.6 353.7,415.8 353.9,414.8 354.2,415.3 354.4,415.9 354.6,414.3 354.8,416.6 355.1,423.9 355.3,423.7 355.5,414.1 355.7,414.6 355.9,416.1 356.2,405.3 356.4,414.0 356.6,413.1 356.8,420.0 357.1,414.7 357.3,421.8 357.5,419.7 357.7,419.1 357.9,412.4 358.2,423.2 358.4,419.8 358.6,412.8 358.8,415.2 359.1,416.6 359.3,421.8 359.5,417.3 359.7,419.6 360.0,415.0 360.2,416.9 360.4,418.8 360.6,416.5 360.8,421.9 361.1,416.6 361.3,422.0 361.5,419.0 361.7,422.9 362.0,414.8 362.2,419.8 362.4,413.5 362.6,424.7 362.8,410.4 363.1,412.1 363.3,414.4 363.5,409.5 363.7,422.3 364.0,418.0 364.2,418.0 364.4,417.8 364.6,420.0 364.8,414.8 365.1,420.6 365.3,418.2 365.5,420.5 365.7,416.2 366.0,418.2 366.2,408.8 366.4,414.8 366.6,422.3 366.9,416.1 367.1,421.5 367.3,417.4 367.5,418.0 367.7,421.3 368.0,417.1 368.2,420.8 368.4,419.8 368.6,418.8 368.9,418.6 369.1,413.7 369.3,416.3 369.5,417.8 369.7,414.6 370.0,412.9 370.2,412.9 370.4,422.0 370.6,414.2 370.9,413.4 371.1,412.7 371.3,419.0 371.5,420.5 371.7,423.1 372.0,417.4 372.2,421.9 372.4,411.5 372.6,416.5 372.9,419.9 373.1,409.8 373.3,414.8 373.5,418.7 373.8,415.9 374.0,401.1 374.2,415.4 374.4,417.2 374.6,414.4 374.9,416.9 375.1,416.7 375.3,414.7 375.5,418.0 375.8,409.9 376.0,410.0 376.2,410.0 376.4,416.7 376.6,419.1 376.9,419.3 377.1,416.3 377.3,414.3 377.5,416.7 377.8,416.5 378.0,416.8 378.2,412.1 378.4,414.1 378.7,415.9 378.9,411.4 379.1,416.8 379.3,416.5 379.5,409.2 379.8,415.0 380.0,417.3 380.2,411.1 380.4,420.1 380.7,415.0 380.9,411.9 381.1,416.7 381.3,412.9 381.5,412.5 381.8,407.9 382.0,418.1 382.2,416.8 382.4,416.7 382.7,415.1 382.9,413.0 383.1,414.7 383.3,408.9 383.5,412.5 383.8,421.2 384.0,422.0 384.2,416.5 384.4,417.6 384.7,416.3 384.9,413.7 385.1,418.0 385.3,410.8 385.6,410.4 385.8,413.7 386.0,417.8 386.2,413.6 386.4,421.4 386.7,414.2 386.9,414.2 387.1,409.7 387.3,414.3 387.6,414.3 387.8,413.4 388.0,416.9 388.2,415.0 388.4,416.3 388.7,415.1 388.9,419.1 389.1,415.0 389.3,419.1 389.6,411.8 389.8,405.0 390.0,415.9 390.2,411.7 390.5,411.9 390.7,418.0 390.9,411.6 391.1,415.2 391.3,416.1 391.6,412.9 391.8,415.9 392.0,415.8 392.2,415.3 392.5,412.7 392.7,415.6 392.9,414.3 393.1,422.0 393.3,417.5 393.6,414.2 393.8,419.7 394.0,413.3 394.2,412.6 394.5,412.2 394.7,408.8 394.9,410.0 395.1,417.4 395.3,416.5 395.6,411.7 395.8,417.0 396.0,407.1 396.2,411.6 396.5,418.1 396.7,416.4 396.9,418.9 397.1,414.3 397.4,417.7 397.6,416.3 397.8,417.5 398.0,410.3 398.2,417.7 398.5,418.9 398.7,421.1 398.9,412.6 399.1,414.9 399.4,414.0 399.6,410.0 399.8,413.0 400.0,415.6 400.2,422.0 400.5,413.4 400.7,413.3 400.9,413.4 401.1,424.4 401.4,413.4 401.6,414.6 401.8,417.0 402.0,417.7 402.2,424.8 402.5,418.0 402.7,419.0 402.9,420.1 403.1,408.8 403.4,412.6 403.6,415.2 403.8,416.8 404.0,419.1 404.3,414.5 404.5,413.1 404.7,417.8 404.9,415.2 405.1,414.8 405.4,419.2 405.6,413.5 405.8,412.8 406.0,417.9 406.3,418.9 406.5,410.1 406.7,411.7 406.9,422.3 407.1,416.1 407.4,420.3 407.6,420.5 407.8,419.3 408.0,414.2 408.3,415.6 408.5,417.3 408.7,419.7 408.9,424.3 409.2,417.8 409.4,416.8 409.6,413.3 409.8,410.2 410.0,415.3 410.3,416.5 410.5,406.3 410.7,412.3 410.9,410.7 411.2,402.6 411.4,398.4 411.6,398.8 411.8,408.0 412.0,416.2 412.3,412.5 412.5,418.5 412.7,418.3 412.9,416.4 413.2,413.7 413.4,422.6 413.6,409.3 413.8,415.6 414.0,413.1 414.3,410.7 414.5,419.1 414.7,416.2 414.9,417.2 415.2,412.5 415.4,409.6 415.6,421.3 415.8,417.2 416.1,411.8 416.3,419.8 416.5,409.8 416.7,414.0 416.9,410.3 417.2,412.9 417.4,412.9 417.6,418.4 417.8,416.0 418.1,412.9 418.3,416.6 418.5,418.5 418.7,419.4 418.9,411.2 419.2,411.2 419.4,418.5 419.6,415.5 419.8,412.3 420.1,413.1 420.3,412.0 420.5,411.1 420.7,418.1 420.9,418.1 421.2,413.3 421.4,415.4 421.6,413.3 421.8,415.0 422.1,418.9 422.3,412.8 422.5,411.2 422.7,415.7 423.0,415.6 423.2,421.5 423.4,417.9 423.6,416.3 423.8,418.2 424.1,417.3 424.3,413.6 424.5,412.0 424.7,408.8 425.0,406.1 425.2,412.9 425.4,412.3 425.6,412.3 425.8,420.2 426.1,419.8 426.3,414.1 426.5,415.0 426.7,415.7 427.0,418.9 427.2,412.6 427.4,415.9 427.6,415.7 427.9,417.5 428.1,422.0 428.3,413.1 428.5,419.6 428.7,417.3 429.0,418.4 429.2,413.7 429.4,412.8 429.6,413.0 429.9,417.3 430.1,415.5 430.3,419.8 430.5,416.7 430.7,416.4 431.0,413.9 431.2,415.6 431.4,410.4 431.6,414.5 431.9,420.8 432.1,410.1 432.3,421.7 432.5,415.8 432.7,417.8 433.0,410.0 433.2,412.8 433.4,420.3 433.6,411.4 433.9,423.1 434.1,414.4 434.3,417.0 434.5,418.8 434.8,411.6 435.0,414.3 435.2,417.2 435.4,417.0 435.6,416.5 435.9,415.4 436.1,415.6 436.3,423.7 436.5,428.1 436.8,415.9 437.0,417.0 437.2,414.0 437.4,418.0 437.6,409.1 437.9,416.5 438.1,418.0 438.3,418.4 438.5,415.1 438.8,425.6 439.0,415.7 439.2,417.4 439.4,415.7 439.6,413.6 439.9,418.1 440.1,418.3 440.3,422.3 440.5,417.1 440.8,418.5 441.0,418.0 441.2,409.7 441.4,416.2 441.7,412.6 441.9,418.4 442.1,414.6 442.3,428.0 442.5,419.1 442.8,414.7 443.0,416.6 443.2,418.9 443.4,411.5 443.7,416.9 443.9,407.8 444.1,416.6 444.3,416.1 444.5,415.5 444.8,416.5 445.0,414.3 445.2,411.4 445.4,418.2 445.7,415.9 445.9,415.7 446.1,416.7 446.3,411.5 446.6,418.9 446.8,420.3 447.0,419.7 447.2,418.2 447.4,424.6 447.7,415.9 447.9,420.3 448.1,416.6 448.3,413.4 448.6,419.8 448.8,407.6 449.0,418.6 449.2,420.8 449.4,419.1 449.7,416.2 449.9,422.4 450.1,414.5 450.3,414.0 450.6,415.7 450.8,417.8 451.0,413.0 451.2,418.4 451.4,421.1 451.7,415.9 451.9,417.2 452.1,415.9 452.3,417.7 452.6,413.6 452.8,414.4 453.0,418.0 453.2,420.5 453.5,421.5 453.7,412.9 453.9,414.3 454.1,413.0 454.3,410.4 454.6,415.8 454.8,415.0 455.0,420.8 455.2,421.4 455.5,411.8 455.7,417.3 455.9,403.2 456.1,397.1 456.3,405.1 456.6,388.5 456.8,390.0 457.0,382.9 457.2,385.1 457.5,391.3 457.7,377.2 457.9,373.1 458.1,373.1 458.3,368.8 458.6,376.5 458.8,366.2 459.0,370.8 459.2,371.7 459.5,364.9 459.7,360.0 459.9,364.9 460.1,363.4 460.4,363.4 460.6,372.9 460.8,357.8 461.0,356.6 461.2,357.3 461.5,361.2 461.7,363.8 461.9,364.6 462.1,356.5 462.4,357.0 462.6,364.9 462.8,362.8 463.0,360.0 463.2,364.7 463.5,363.4 463.7,358.7 463.9,358.2 464.1,361.9 464.4,365.8 464.6,362.0 464.8,369.9 465.0,367.2 465.3,368.7 465.5,367.6 465.7,367.2 465.9,363.5 466.1,365.0 466.4,372.3 466.6,364.3 466.8,367.2 467.0,374.3 467.3,385.5 467.5,390.1 467.7,395.3 467.9,394.9 468.1,404.8 468.4,403.7 468.6,394.8 468.8,402.1 469.0,395.1 469.3,392.7 469.5,395.2 469.7,388.7 469.9,377.8 470.1,385.6 470.4,378.1 470.6,370.3 470.8,365.6 471.0,359.2 471.3,362.8 471.5,353.2 471.7,348.5 471.9,353.0 472.2,353.4 472.4,351.6 472.6,355.1 472.8,350.3 473.0,351.9 473.3,355.0 473.5,349.4 473.7,360.1 473.9,361.8 474.2,356.7 474.4,365.6 474.6,367.5 474.8,379.2 475.0,380.7 475.3,379.1 475.5,385.9 475.7,380.3 475.9,379.1 476.2,375.4 476.4,378.2 476.6,383.8 476.8,380.5 477.1,374.4 477.3,373.4 477.5,373.4 477.7,365.9 477.9,372.3 478.2,373.7 478.4,364.0 478.6,368.9 478.8,364.7 479.1,370.2 479.3,368.8 479.5,364.6 479.7,355.8 479.9,351.9 480.2,362.7 480.4,361.7 480.6,359.3 480.8,357.8 481.1,355.0 481.3,349.3 481.5,357.0 481.7,346.5 481.9,361.3 482.2,353.3 482.4,357.7 482.6,355.0 482.8,359.4 483.1,355.6 483.3,354.7 483.5,358.6 483.7,338.0 484.0,350.4 484.2,350.4 484.4,352.0 484.6,352.5 484.8,357.6 485.1,355.3 485.3,356.3 485.5,357.0 485.7,355.7 486.0,350.1 486.2,353.5 486.4,347.4 486.6,352.1 486.8,346.3 487.1,353.9 487.3,355.2 487.5,358.7 487.7,353.3 488.0,356.6 488.2,353.6 488.4,362.7 488.6,358.2 488.8,349.1 489.1,355.1 489.3,356.7 489.5,367.3 489.7,371.0 490.0,382.3 490.2,375.5 490.4,365.5 490.6,365.0 490.9,359.1 491.1,323.2 491.3,356.5 491.5,351.9 491.7,350.8 492.0,354.8 492.2,351.2 492.4,348.9 492.6,355.0 492.9,357.5 493.1,343.0 493.3,353.2 493.5,357.4 493.7,353.0 494.0,355.9 494.2,352.2 494.4,352.1 494.6,356.1 494.9,349.5 495.1,355.1 495.3,356.4 495.5,352.0 495.8,350.7 496.0,355.0 496.2,348.9 496.4,358.3 496.6,351.8 496.9,351.7 497.1,357.8 497.3,350.5 497.5,346.8 497.8,349.2 498.0,349.9 498.2,350.9 498.4,350.9 498.6,347.9 498.9,353.2 499.1,356.8 499.3,353.3 499.5,352.1 499.8,349.2 500.0,356.6 500.2,349.9 500.4,354.7 500.6,351.3 500.9,350.2 501.1,354.4 501.3,356.1 501.5,354.5 501.8,348.2 502.0,357.6 502.2,351.4 502.4,354.3 502.7,352.9 502.9,360.2 503.1,348.2 503.3,356.0 503.5,357.6 503.8,355.3 504.0,355.0 504.2,357.5 504.4,349.2 504.7,358.6 504.9,350.7 505.1,355.1 505.3,355.0 505.5,358.9 505.8,352.3 506.0,353.0 506.2,362.3 506.4,351.8 506.7,356.8 506.9,358.8 507.1,360.8 507.3,357.6 507.5,364.6 507.8,375.4 508.0,371.7 508.2,370.4 508.4,379.3 508.7,376.0 508.9,387.5 509.1,383.9 509.3,379.8 509.6,373.1 509.8,375.4 510.0,365.8 510.2,371.4 510.4,367.3 510.7,362.5 510.9,364.5 511.1,350.5 511.3,354.0 511.6,359.3 511.8,352.6 512.0,355.9 512.2,359.1 512.4,362.0 512.7,355.6 512.9,362.3 513.1,356.1 513.3,347.8 513.6,354.0 513.8,362.6 514.0,356.1 514.2,355.6 514.5,354.9 514.7,354.8 514.9,350.7 515.1,357.0 515.3,358.3 515.6,358.0 515.8,359.5 516.0,364.4 516.2,368.8 516.5,374.6 516.7,373.0 516.9,378.8 517.1,370.1 517.3,361.7 517.6,360.3 517.8,359.4 518.0,356.9 518.2,353.6 518.5,354.3 518.7,357.6 518.9,347.7 519.1,351.6 519.3,358.0 519.6,349.3 519.8,357.5 520.0,362.2 520.2,358.2 520.5,356.0 520.7,361.7 520.9,354.1 521.1,353.0 521.4,362.2 521.6,357.4 521.8,359.0 522.0,360.7 522.2,355.8 522.5,359.6 522.7,361.0 522.9,356.1 523.1,360.4 523.4,361.2 523.6,361.3 523.8,364.3 524.0,368.1 524.2,370.8 524.5,372.9 524.7,375.8 524.9,373.6 525.1,368.9 525.4,360.7 525.6,364.6 525.8,357.6 526.0,357.6 526.2,353.8 526.5,352.0 526.7,355.6 526.9,350.5 527.1,357.0 527.4,358.2 527.6,355.3 527.8,363.6 528.0,358.7 528.3,357.4 528.5,359.0 528.7,360.4 528.9,354.9 529.1,355.4 529.4,365.3 529.6,365.2 529.8,358.1 530.0,363.5 530.3,355.6 530.5,362.9 530.7,362.0 530.9,362.4 531.1,361.4 531.4,362.8 531.6,351.1 531.8,355.4 532.0,362.6 532.3,358.4 532.5,357.4 532.7,356.9 532.9,356.3 533.2,360.0 533.4,360.4 533.6,359.6 533.8,357.0 534.0,356.8 534.3,359.3 534.5,357.9 534.7,355.2 534.9,358.3 535.2,359.8 535.4,354.7 535.6,356.7" fill="none" stroke="#9ed67c" stroke-width="0.6" stroke-opacity="0.4" stroke-linejoin="round" />
<polyline points="313.2,417.9 313.6,417.1 314.1,417.4 314.5,416.7 315.0,416.2 315.4,416.0 315.9,417.4 316.3,416.9 316.8,417.9 317.2,418.5 317.7,418.9 318.1,418.0 318.5,419.1 319.0,420.3 319.4,417.7 319.9,418.2 320.3,419.3 320.8,417.1 321.2,416.9 321.7,415.8 322.1,420.9 322.6,418.0 323.0,417.7 323.4,419.9 323.9,417.8 324.3,418.3 324.8,418.6 325.2,419.3 325.7,419.1 326.1,418.9 326.6,418.5 327.0,418.1 327.4,417.4 327.9,417.2 328.3,417.1 328.8,414.2 329.2,418.0 329.7,418.7 330.1,416.1 330.6,416.9 331.0,417.2 331.5,418.1 331.9,417.1 332.3,417.3 332.8,416.3 333.2,418.9 333.7,417.1 334.1,416.5 334.6,415.9 335.0,416.7 335.5,416.8 335.9,416.4 336.4,417.3 336.8,415.7 337.2,413.6 337.7,414.0 338.1,413.8 338.6,403.6 339.0,390.0 339.5,380.9 339.9,376.0 340.4,371.3 340.8,358.8 341.3,353.0 341.7,348.4 342.1,347.0 342.6,348.6 343.0,351.1 343.5,358.5 343.9,360.1 344.4,359.5 344.8,356.1 345.3,357.5 345.7,360.1 346.1,355.0 346.6,355.3 347.0,356.2 347.5,357.4 347.9,356.0 348.4,357.7 348.8,362.3 349.3,363.2 349.7,364.2 350.2,360.6 350.6,354.6 351.0,353.1 351.5,352.7 351.9,345.8 352.4,348.8 352.8,351.1 353.3,352.3 353.7,355.2 354.2,355.8 354.6,359.1 355.1,354.2 355.5,354.8 355.9,356.4 356.4,351.4 356.8,349.4 357.3,347.9 357.7,345.3 358.2,348.4 358.6,344.2 359.1,343.8 359.5,341.8 360.0,349.3 360.4,347.9 360.8,353.9 361.3,356.1 361.7,365.1 362.2,361.3 362.6,366.3 363.1,371.9 363.5,375.3 364.0,371.7 364.4,375.8 364.8,374.0 365.3,379.9 365.7,370.7 366.2,369.1 366.6,368.4 367.1,362.0 367.5,365.8 368.0,368.6 368.4,368.8 368.9,368.4 369.3,367.4 369.7,363.5 370.2,369.0 370.6,364.9 371.1,364.1 371.5,361.6 372.0,358.2 372.4,356.7 372.9,362.1 373.3,370.5 373.8,367.8 374.2,367.5 374.6,361.6 375.1,361.4 375.5,368.9 376.0,369.5 376.4,366.6 376.9,370.8 377.3,372.6 377.8,371.2 378.2,374.3 378.7,373.9 379.1,373.5 379.5,373.9 380.0,376.8 380.4,379.5 380.9,383.1 381.3,378.7 381.8,380.4 382.2,376.3 382.7,372.9 383.1,381.7 383.5,371.8 384.0,369.7 384.4,375.5 384.9,374.7 385.3,372.1 385.8,374.0 386.2,374.5 386.7,377.4 387.1,372.0 387.6,367.6 388.0,369.5 388.4,366.3 388.9,370.0 389.3,371.8 389.8,370.7 390.2,361.1 390.7,367.0 391.1,370.3 391.6,370.2 392.0,364.7 392.5,360.6 392.9,367.5 393.3,375.6 393.8,374.3 394.2,380.8 394.7,379.4 395.1,375.1 395.6,373.6 396.0,369.2 396.5,368.5 396.9,372.2 397.4,377.6 397.8,377.1 398.2,376.7 398.7,369.7 399.1,371.5 399.6,375.4 400.0,369.1 400.5,364.7 400.9,361.0 401.4,368.0 401.8,364.5 402.2,363.7 402.7,362.7 403.1,362.1 403.6,366.6 404.0,373.0 404.5,371.6 404.9,368.9 405.4,365.4 405.8,369.1 406.3,369.2 406.7,365.9 407.1,376.1 407.6,378.3 408.0,379.4 408.5,380.2 408.9,377.6 409.4,382.3 409.8,384.2 410.3,391.2 410.7,386.7 411.2,383.5 411.6,375.1 412.0,381.7 412.5,379.6 412.9,380.9 413.4,373.0 413.8,373.7 414.3,374.3 414.7,381.3 415.2,376.9 415.6,374.8 416.1,374.1 416.5,373.8 416.9,370.8 417.4,368.6 417.8,367.2 418.3,361.9 418.7,372.3 419.2,372.9 419.6,372.1 420.1,370.7 420.5,368.8 420.9,365.2 421.4,364.2 421.8,365.2 422.3,364.0 422.7,365.6 423.2,371.3 423.6,371.8 424.1,368.9 424.5,369.9 425.0,373.5 425.4,377.6 425.8,376.2 426.3,379.7 426.7,379.6 427.2,368.4 427.6,368.0 428.1,372.2 428.5,371.6 429.0,373.8 429.4,372.5 429.9,376.2 430.3,372.9 430.7,371.6 431.2,370.1 431.6,363.6 432.1,358.6 432.5,364.5 433.0,362.2 433.4,370.9 433.9,367.8 434.3,358.4 434.8,357.4 435.2,363.7 435.6,363.6 436.1,364.8 436.5,365.9 437.0,362.1 437.4,361.1 437.9,370.1 438.3,365.2 438.8,370.5 439.2,367.2 439.6,373.9 440.1,371.7 440.5,371.6 441.0,368.5 441.4,372.2 441.9,368.6 442.3,365.4 442.8,363.3 443.2,364.2 443.7,369.5 444.1,364.5 444.5,360.0 445.0,366.8 445.4,364.8 445.9,369.2 446.3,367.8 446.8,365.7 447.2,365.6 447.7,368.8 448.1,366.4 448.6,364.1 449.0,359.4 449.4,359.6 449.9,354.3 450.3,354.6 450.8,353.8 451.2,352.7 451.7,357.9 452.1,358.1 452.6,360.2 453.0,357.1 453.5,365.3 453.9,374.1 454.3,385.8 454.8,392.2 455.2,400.5 455.7,410.9 456.1,413.1 456.6,417.0 457.0,419.6 457.5,416.7 457.9,409.6 458.3,402.0 458.8,394.4 459.2,388.4 459.7,379.1 460.1,379.0 460.6,378.5 461.0,377.2 461.5,376.3 461.9,374.1 462.4,376.6 462.8,378.1 463.2,383.3 463.7,384.8 464.1,388.8 464.6,395.7 465.0,408.2 465.5,417.5 465.9,419.8 466.4,419.8 466.8,422.8 467.3,421.1 467.7,419.9 468.1,418.0 468.6,419.1 469.0,418.1 469.5,414.9 469.9,409.8 470.4,402.7 470.8,400.5 471.3,408.9 471.7,413.6 472.2,418.3 472.6,420.0 473.0,418.8 473.5,421.6 473.9,418.3 474.4,421.0 474.8,422.1 475.3,421.8 475.7,424.0 476.2,423.7 476.6,420.9 477.1,422.0 477.5,413.2 477.9,408.9 478.4,418.4 478.8,424.3 479.3,426.2 479.7,421.7 480.2,424.8 480.6,424.4 481.1,420.3 481.5,423.9 481.9,421.0 482.4,417.4 482.8,414.3 483.3,408.1 483.7,412.5 484.2,415.8 484.6,419.8 485.1,419.8 485.5,420.3 486.0,422.4 486.4,421.3 486.8,420.8 487.3,422.2 487.7,421.1 488.2,424.7 488.6,422.2 489.1,420.5 489.5,419.4 490.0,419.6 490.4,420.8 490.9,423.4 491.3,421.4 491.7,423.0 492.2,422.8 492.6,420.6 493.1,422.8 493.5,422.0 494.0,423.6 494.4,423.4 494.9,423.4 495.3,423.2 495.8,420.8 496.2,422.8 496.6,421.5 497.1,421.5 497.5,423.2 498.0,421.5 498.4,423.2 498.9,421.8 499.3,420.4 499.8,421.4 500.2,422.0 500.6,420.7 501.1,421.6 501.5,424.9 502.0,423.1 502.4,424.1 502.9,422.5 503.3,424.0 503.8,422.7 504.2,419.4 504.7,420.3 505.1,421.8 505.5,423.9 506.0,421.8 506.4,419.6 506.9,422.0 507.3,422.3 507.8,422.6 508.2,420.6 508.7,418.4 509.1,412.8 509.6,411.3 510.0,418.9 510.4,424.3 510.9,425.1 511.3,425.0 511.8,421.8 512.2,420.9 512.7,422.0 513.1,423.4 513.6,423.8 514.0,423.5 514.5,421.6 514.9,421.6 515.3,419.9 515.8,421.6 516.2,423.4 516.7,422.1 517.1,424.5 517.6,424.9 518.0,423.6 518.5,424.2 518.9,424.3 519.3,423.4 519.8,420.9 520.2,422.1 520.7,424.5 521.1,423.0 521.6,422.5 522.0,419.7 522.5,410.3 522.9,408.8 523.4,418.2 523.8,422.2 524.2,421.7 524.7,424.0 525.1,424.5 525.6,422.9 526.0,423.3 526.5,422.1 526.9,419.2 527.4,419.4 527.8,422.3 528.3,421.2 528.7,421.7 529.1,422.9 529.6,423.7 530.0,423.7 530.5,423.2 530.9,420.5 531.4,420.8 531.8,423.5 532.3,422.8 532.7,422.2 533.2,424.3 533.6,424.3 534.0,425.1 534.5,422.5 534.9,425.3 535.4,424.9" fill="none" stroke="#2c60e8" stroke-width="1.0" stroke-linejoin="round" />
<polyline points="313.2,413.3 313.6,412.9 314.1,413.7 314.5,412.5 315.0,415.7 315.4,415.6 315.9,412.0 316.3,413.6 316.8,413.6 317.2,414.4 317.7,413.0 318.1,413.6 318.5,414.9 319.0,413.4 319.4,412.2 319.9,410.0 320.3,411.1 320.8,414.0 321.2,416.0 321.7,414.5 322.1,412.0 322.6,416.0 323.0,415.1 323.4,412.0 323.9,414.1 324.3,413.0 324.8,414.0 325.2,415.4 325.7,413.1 326.1,414.5 326.6,414.0 327.0,414.1 327.4,415.5 327.9,417.1 328.3,415.4 328.8,413.9 329.2,413.6 329.7,414.0 330.1,414.3 330.6,416.0 331.0,414.4 331.5,416.6 331.9,412.8 332.3,412.2 332.8,411.9 333.2,412.7 333.7,411.7 334.1,413.7 334.6,413.8 335.0,413.6 335.5,413.9 335.9,414.2 336.4,414.2 336.8,413.9 337.2,411.4 337.7,412.5 338.1,410.4 338.6,407.1 339.0,406.2 339.5,404.5 339.9,406.4 340.4,402.8 340.8,402.6 341.3,400.4 341.7,403.3 342.1,398.8 342.6,391.6 343.0,398.3 343.5,401.7 343.9,400.7 344.4,403.8 344.8,403.1 345.3,397.7 345.7,390.2 346.1,397.2 346.6,393.3 347.0,390.4 347.5,393.3 347.9,395.5 348.4,397.9 348.8,400.6 349.3,405.1 349.7,407.8 350.2,404.2 350.6,404.8 351.0,405.1 351.5,400.1 351.9,396.3 352.4,390.7 352.8,391.9 353.3,385.1 353.7,393.6 354.2,399.3 354.6,396.3 355.1,407.0 355.5,404.7 355.9,403.3 356.4,409.3 356.8,409.4 357.3,404.8 357.7,402.6 358.2,403.1 358.6,396.2 359.1,396.8 359.5,394.1 360.0,390.7 360.4,395.1 360.8,398.4 361.3,404.5 361.7,400.0 362.2,400.1 362.6,405.0 363.1,414.5 363.5,408.8 364.0,399.1 364.4,399.9 364.8,398.7 365.3,397.1 365.7,387.5 366.2,389.7 366.6,384.3 367.1,382.0 367.5,385.6 368.0,393.0 368.4,390.6 368.9,398.6 369.3,401.0 369.7,398.5 370.2,399.5 370.6,403.1 371.1,398.5 371.5,398.3 372.0,399.7 372.4,398.7 372.9,398.9 373.3,398.3 373.8,396.4 374.2,389.3 374.6,390.3 375.1,386.4 375.5,394.3 376.0,398.1 376.4,397.3 376.9,404.0 377.3,406.5 377.8,397.6 378.2,401.1 378.7,403.0 379.1,402.4 379.5,401.3 380.0,397.0 380.4,398.2 380.9,402.1 381.3,399.4 381.8,403.2 382.2,395.6 382.7,407.5 383.1,400.8 383.5,403.0 384.0,400.8 384.4,398.9 384.9,404.3 385.3,403.0 385.8,398.1 386.2,400.5 386.7,407.6 387.1,405.2 387.6,410.8 388.0,414.2 388.4,403.2 388.9,402.2 389.3,402.3 389.8,402.2 390.2,401.2 390.7,401.8 391.1,396.0 391.6,398.9 392.0,402.8 392.5,408.9 392.9,403.9 393.3,404.4 393.8,407.7 394.2,403.7 394.7,408.2 395.1,408.2 395.6,407.3 396.0,405.3 396.5,400.4 396.9,400.8 397.4,405.5 397.8,402.4 398.2,405.6 398.7,409.0 399.1,401.2 399.6,403.8 400.0,405.5 400.5,408.6 400.9,403.9 401.4,407.5 401.8,401.9 402.2,406.7 402.7,402.1 403.1,404.6 403.6,399.2 404.0,399.4 404.5,402.5 404.9,404.6 405.4,399.0 405.8,395.0 406.3,400.0 406.7,399.7 407.1,396.6 407.6,395.6 408.0,398.9 408.5,402.2 408.9,397.6 409.4,397.9 409.8,395.2 410.3,392.6 410.7,390.7 411.2,386.1 411.6,385.1 412.0,388.4 412.5,395.5 412.9,395.9 413.4,402.4 413.8,403.1 414.3,396.9 414.7,397.7 415.2,398.7 415.6,396.7 416.1,393.8 416.5,397.6 416.9,400.8 417.4,400.5 417.8,396.5 418.3,390.6 418.7,394.5 419.2,390.6 419.6,387.6 420.1,386.8 420.5,391.0 420.9,387.7 421.4,393.9 421.8,394.6 422.3,396.5 422.7,395.1 423.2,395.7 423.6,396.1 424.1,389.6 424.5,389.6 425.0,396.7 425.4,392.9 425.8,398.2 426.3,398.2 426.7,401.9 427.2,393.1 427.6,395.8 428.1,393.0 428.5,387.9 429.0,391.1 429.4,388.3 429.9,385.5 430.3,393.3 430.7,395.0 431.2,396.5 431.6,398.8 432.1,398.5 432.5,400.4 433.0,402.2 433.4,404.0 433.9,401.4 434.3,393.2 434.8,394.2 435.2,393.6 435.6,392.8 436.1,389.6 436.5,387.1 437.0,387.6 437.4,392.7 437.9,399.3 438.3,389.9 438.8,392.9 439.2,395.7 439.6,391.1 440.1,392.0 440.5,390.3 441.0,392.7 441.4,392.2 441.9,391.8 442.3,388.4 442.8,393.1 443.2,399.5 443.7,390.8 444.1,395.6 444.5,399.8 445.0,398.8 445.4,400.7 445.9,404.2 446.3,409.5 446.8,397.2 447.2,397.9 447.7,389.6 448.1,390.5 448.6,384.7 449.0,392.3 449.4,402.7 449.9,395.7 450.3,393.3 450.8,394.3 451.2,393.6 451.7,397.4 452.1,399.6 452.6,396.9 453.0,396.0 453.5,386.3 453.9,389.2 454.3,395.1 454.8,398.3 455.2,399.3 455.7,397.1 456.1,404.5 456.6,409.1 457.0,413.4 457.5,418.1 457.9,420.9 458.3,414.1 458.8,407.4 459.2,404.3 459.7,401.7 460.1,395.0 460.6,394.1 461.0,396.7 461.5,400.0 461.9,405.4 462.4,410.3 462.8,412.4 463.2,419.4 463.7,413.6 464.1,411.9 464.6,406.7 465.0,401.9 465.5,401.7 465.9,395.0 466.4,391.7 466.8,390.9 467.3,393.7 467.7,398.6 468.1,404.3 468.6,412.9 469.0,413.7 469.5,408.4 469.9,409.1 470.4,406.8 470.8,405.1 471.3,403.9 471.7,400.7 472.2,395.2 472.6,400.3 473.0,404.6 473.5,406.7 473.9,409.9 474.4,416.3 474.8,414.3 475.3,412.6 475.7,409.1 476.2,405.4 476.6,400.8 477.1,399.5 477.5,397.3 477.9,396.4 478.4,402.4 478.8,404.9 479.3,406.8 479.7,412.7 480.2,415.2 480.6,414.8 481.1,418.1 481.5,420.4 481.9,420.8 482.4,424.6 482.8,419.3 483.3,420.2 483.7,413.5 484.2,410.9 484.6,406.2 485.1,403.1 485.5,395.9 486.0,396.0 486.4,395.5 486.8,398.0 487.3,395.2 487.7,395.3 488.2,397.1 488.6,396.9 489.1,397.4 489.5,396.1 490.0,399.2 490.4,397.1 490.9,398.7 491.3,395.6 491.7,399.4 492.2,397.6 492.6,400.2 493.1,398.4 493.5,398.4 494.0,397.1 494.4,396.7 494.9,400.8 495.3,395.8 495.8,394.6 496.2,395.8 496.6,399.6 497.1,399.9 497.5,397.0 498.0,397.5 498.4,395.3 498.9,397.9 499.3,397.9 499.8,397.4 500.2,395.7 500.6,396.9 501.1,395.3 501.5,394.9 502.0,392.6 502.4,397.6 502.9,398.5 503.3,395.6 503.8,393.7 504.2,396.5 504.7,390.6 505.1,394.6 505.5,393.3 506.0,397.5 506.4,397.4 506.9,397.3 507.3,397.9 507.8,397.0 508.2,398.0 508.7,396.1 509.1,397.1 509.6,398.7 510.0,397.4 510.4,396.4 510.9,398.3 511.3,399.2 511.8,400.2 512.2,400.2 512.7,396.9 513.1,397.5 513.6,398.8 514.0,398.7 514.5,396.5 514.9,399.6 515.3,399.9 515.8,395.7 516.2,398.9 516.7,397.9 517.1,398.7 517.6,398.6 518.0,395.7 518.5,397.9 518.9,397.2 519.3,395.6 519.8,397.9 520.2,396.1 520.7,393.7 521.1,398.8 521.6,399.6 522.0,398.3 522.5,394.8 522.9,396.6 523.4,397.8 523.8,395.0 524.2,398.4 524.7,404.3 525.1,409.9 525.6,422.7 526.0,423.0 526.5,419.0 526.9,421.6 527.4,420.8 527.8,422.6 528.3,415.1 528.7,409.4 529.1,404.8 529.6,399.3 530.0,396.7 530.5,398.2 530.9,396.8 531.4,394.7 531.8,397.2 532.3,396.6 532.7,397.3 533.2,396.9 533.6,397.7 534.0,395.8 534.5,398.0 534.9,398.6 535.4,397.2" fill="none" stroke="#ff7810" stroke-width="1.0" stroke-linejoin="round" />
<polyline points="313.2,419.0 313.6,418.6 314.1,421.1 314.5,419.0 315.0,416.1 315.4,419.6 315.9,418.2 316.3,419.5 316.8,420.5 317.2,418.5 317.7,420.1 318.1,420.7 318.5,418.7 319.0,420.8 319.4,416.8 319.9,418.4 320.3,418.6 320.8,419.4 321.2,415.7 321.7,419.1 322.1,419.8 322.6,420.8 323.0,420.1 323.4,419.5 323.9,421.0 324.3,419.1 324.8,418.6 325.2,422.1 325.7,422.6 326.1,421.1 326.6,422.5 327.0,421.3 327.4,421.4 327.9,422.4 328.3,421.7 328.8,423.7 329.2,421.7 329.7,421.7 330.1,422.3 330.6,422.4 331.0,425.0 331.5,421.7 331.9,422.8 332.3,421.7 332.8,422.7 333.2,422.7 333.7,422.9 334.1,422.3 334.6,421.4 335.0,418.1 335.5,421.0 335.9,421.3 336.4,421.4 336.8,419.1 337.2,418.0 337.7,418.8 338.1,419.9 338.6,418.4 339.0,419.8 339.5,417.8 339.9,419.1 340.4,419.3 340.8,420.5 341.3,423.0 341.7,418.8 342.1,419.8 342.6,414.8 343.0,419.5 343.5,418.6 343.9,418.4 344.4,414.8 344.8,417.4 345.3,419.4 345.7,419.6 346.1,420.0 346.6,419.8 347.0,420.6 347.5,419.0 347.9,418.6 348.4,418.9 348.8,417.3 349.3,421.4 349.7,420.6 350.2,422.7 350.6,418.2 351.0,419.2 351.5,417.1 351.9,415.9 352.4,415.4 352.8,415.9 353.3,417.6 353.7,417.5 354.2,416.3 354.6,417.5 355.1,419.7 355.5,419.0 355.9,418.0 356.4,416.8 356.8,414.7 357.3,417.1 357.7,419.2 358.2,416.0 358.6,415.1 359.1,419.5 359.5,416.8 360.0,419.5 360.4,418.8 360.8,417.5 361.3,418.2 361.7,420.4 362.2,419.9 362.6,417.1 363.1,415.1 363.5,417.1 364.0,418.8 364.4,419.9 364.8,417.0 365.3,417.0 365.7,419.8 366.2,417.4 366.6,417.2 367.1,417.7 367.5,418.4 368.0,419.6 368.4,420.3 368.9,418.2 369.3,418.2 369.7,418.4 370.2,417.7 370.6,416.0 371.1,416.0 371.5,420.8 372.0,416.2 372.4,415.8 372.9,416.7 373.3,415.2 373.8,417.2 374.2,417.2 374.6,415.2 375.1,414.4 375.5,412.6 376.0,415.7 376.4,419.0 376.9,417.2 377.3,415.9 377.8,419.4 378.2,416.1 378.7,415.2 379.1,414.1 379.5,414.4 380.0,415.7 380.4,416.2 380.9,415.6 381.3,413.8 381.8,413.2 382.2,414.9 382.7,416.4 383.1,416.1 383.5,414.8 384.0,417.1 384.4,415.8 384.9,417.3 385.3,414.6 385.8,413.8 386.2,418.0 386.7,415.8 387.1,414.2 387.6,414.4 388.0,415.6 388.4,416.8 388.9,414.1 389.3,415.6 389.8,413.1 390.2,414.8 390.7,414.0 391.1,414.1 391.6,415.7 392.0,414.1 392.5,417.1 392.9,416.6 393.3,417.1 393.8,416.8 394.2,413.6 394.7,412.9 395.1,413.2 395.6,413.5 396.0,413.9 396.5,415.3 396.9,414.6 397.4,415.7 397.8,413.1 398.2,415.2 398.7,414.7 399.1,415.6 399.6,415.0 400.0,414.4 400.5,413.8 400.9,414.3 401.4,417.6 401.8,415.7 402.2,418.2 402.7,417.8 403.1,415.6 403.6,417.7 404.0,414.8 404.5,414.7 404.9,415.0 405.4,415.2 405.8,416.3 406.3,416.6 406.7,415.6 407.1,415.7 407.6,417.3 408.0,414.3 408.5,412.9 408.9,417.3 409.4,417.8 409.8,413.6 410.3,415.2 410.7,409.2 411.2,401.0 411.6,403.4 412.0,410.7 412.5,416.9 412.9,413.3 413.4,416.5 413.8,415.0 414.3,414.3 414.7,416.4 415.2,414.1 415.6,417.6 416.1,419.1 416.5,415.3 416.9,413.8 417.4,413.9 417.8,415.4 418.3,415.3 418.7,416.1 419.2,416.6 419.6,415.4 420.1,414.1 420.5,413.2 420.9,415.8 421.4,416.1 421.8,415.3 422.3,414.3 422.7,417.4 423.2,418.3 423.6,414.7 424.1,415.1 424.5,413.9 425.0,412.2 425.4,413.9 425.8,414.7 426.3,415.7 426.7,415.5 427.2,413.6 427.6,416.3 428.1,418.5 428.5,415.3 429.0,416.8 429.4,413.2 429.9,418.0 430.3,417.1 430.7,416.5 431.2,413.4 431.6,415.5 432.1,415.2 432.5,417.2 433.0,415.4 433.4,416.4 433.9,416.2 434.3,416.9 434.8,416.3 435.2,417.9 435.6,417.9 436.1,417.5 436.5,416.6 437.0,418.4 437.4,414.3 437.9,414.8 438.3,415.1 438.8,418.0 439.2,414.9 439.6,415.9 440.1,417.4 440.5,415.3 441.0,418.8 441.4,414.6 441.9,415.4 442.3,419.1 442.8,414.6 443.2,416.8 443.7,414.3 444.1,415.6 444.5,414.1 445.0,415.6 445.4,418.6 445.9,418.8 446.3,418.0 446.8,418.1 447.2,417.2 447.7,418.0 448.1,418.7 448.6,415.7 449.0,415.9 449.4,417.7 449.9,418.7 450.3,414.4 450.8,414.1 451.2,417.4 451.7,416.9 452.1,414.7 452.6,412.3 453.0,416.6 453.5,419.1 453.9,415.7 454.3,414.8 454.8,416.4 455.2,418.4 455.7,414.2 456.1,405.1 456.6,391.6 457.0,384.7 457.5,382.5 457.9,377.5 458.3,375.2 458.8,372.7 459.2,371.3 459.7,365.8 460.1,364.2 460.6,365.4 461.0,363.1 461.5,362.6 461.9,363.6 462.4,359.8 462.8,361.2 463.2,362.9 463.7,365.6 464.1,364.3 464.6,365.3 465.0,365.5 465.5,366.8 465.9,367.2 466.4,366.7 466.8,370.0 467.3,383.3 467.7,393.9 468.1,398.4 468.6,399.5 469.0,399.7 469.5,388.7 469.9,384.4 470.4,376.0 470.8,366.5 471.3,359.4 471.7,351.1 472.2,350.2 472.6,350.9 473.0,355.6 473.5,351.7 473.9,355.4 474.4,365.0 474.8,374.1 475.3,383.1 475.7,382.5 476.2,379.3 476.6,375.8 477.1,376.2 477.5,372.4 477.9,370.2 478.4,367.0 478.8,365.4 479.3,363.6 479.7,363.4 480.2,361.7 480.6,360.1 481.1,357.5 481.5,355.9 481.9,354.7 482.4,355.1 482.8,354.8 483.3,354.8 483.7,355.0 484.2,353.2 484.6,354.3 485.1,356.1 485.5,353.4 486.0,355.0 486.4,353.0 486.8,354.1 487.3,355.8 487.7,357.5 488.2,355.9 488.6,356.6 489.1,357.0 489.5,365.6 490.0,376.5 490.4,368.4 490.9,359.5 491.3,353.6 491.7,353.5 492.2,353.6 492.6,353.4 493.1,354.5 493.5,354.9 494.0,353.7 494.4,353.4 494.9,353.0 495.3,354.8 495.8,352.2 496.2,352.9 496.6,351.2 497.1,352.6 497.5,349.6 498.0,349.6 498.4,350.8 498.9,352.3 499.3,356.3 499.8,352.8 500.2,353.7 500.6,355.5 501.1,355.5 501.5,353.7 502.0,351.5 502.4,353.6 502.9,352.5 503.3,353.9 503.8,354.5 504.2,357.0 504.7,357.8 505.1,354.4 505.5,353.5 506.0,354.0 506.4,357.5 506.9,357.6 507.3,363.3 507.8,368.9 508.2,375.7 508.7,377.3 509.1,381.9 509.6,375.5 510.0,369.0 510.4,366.6 510.9,359.1 511.3,355.0 511.8,354.5 512.2,356.9 512.7,354.3 513.1,356.8 513.6,352.5 514.0,354.5 514.5,355.4 514.9,355.9 515.3,356.9 515.8,361.0 516.2,368.0 516.7,375.5 517.1,370.5 517.6,360.1 518.0,356.3 518.5,357.7 518.9,355.6 519.3,358.6 519.8,356.5 520.2,357.7 520.7,356.3 521.1,356.3 521.6,355.1 522.0,356.2 522.5,359.9 522.9,357.1 523.4,359.0 523.8,363.4 524.2,372.6 524.7,374.8 525.1,366.8 525.6,362.2 526.0,356.7 526.5,355.8 526.9,357.2 527.4,355.8 527.8,358.3 528.3,357.7 528.7,360.3 529.1,359.1 529.6,360.7 530.0,359.4 530.5,362.5 530.9,361.8 531.4,360.3 531.8,356.7 532.3,356.2 532.7,358.3 533.2,360.9 533.6,359.0 534.0,358.6 534.5,356.8 534.9,358.8 535.4,357.6" fill="none" stroke="#1c9e22" stroke-width="1.0" stroke-linejoin="round" />
</g>
<rect x="313.2" y="306.2" width="222.40000000000003" height="126.5" fill="none" stroke="#cdcdcd" stroke-width="0.95"/>
<text x="311.0" y="435.0" class="tk" text-anchor="end">2</text>
<text x="311.0" y="412.2" class="tk" text-anchor="end">4</text>
<text x="311.0" y="389.4" class="tk" text-anchor="end">6</text>
<text x="311.0" y="366.6" class="tk" text-anchor="end">8</text>
<text x="311.0" y="343.8" class="tk" text-anchor="end">10</text>
<text x="311.0" y="321.0" class="tk" text-anchor="end">12</text>
<text x="313.2" y="440.3" class="tk" text-anchor="middle">0</text>
<text x="357.7" y="440.3" class="tk" text-anchor="middle">200</text>
<text x="402.2" y="440.3" class="tk" text-anchor="middle">400</text>
<text x="446.6" y="440.3" class="tk" text-anchor="middle">600</text>
<text x="491.1" y="440.3" class="tk" text-anchor="middle">800</text>
<text x="535.6" y="440.3" class="tk" text-anchor="middle">1000</text>
<text x="424.4" y="447.3" class="tk" text-anchor="middle">Time (ns)</text>
<text class="tk yl" transform="translate(300.2,369.6) rotate(-90)" text-anchor="middle">Distance (Å)</text>
<rect x="386.9" y="309.9" width="74.9" height="32.4" rx="1.5" fill="#fff" fill-opacity="0.8" stroke="#e6e6e6" stroke-width="0.6"/>
<line x1="389.5" y1="315.6" x2="402.9" y2="315.6" stroke="#90acf2" stroke-width="1"/>
<line x1="389.5" y1="325.5" x2="402.9" y2="325.5" stroke="#f8a288" stroke-width="1"/>
<line x1="389.5" y1="335.6" x2="402.9" y2="335.6" stroke="#80bf98" stroke-width="1"/>
<text class="lg" x="408.6" y="318.2">Asp231-Lys35</text>
<text class="lg" x="408.6" y="328.1">Glu132-Lys234</text>
<text class="lg" x="408.6" y="338.2">Asp32-Lys135</text>
</svg>
</body></html>
